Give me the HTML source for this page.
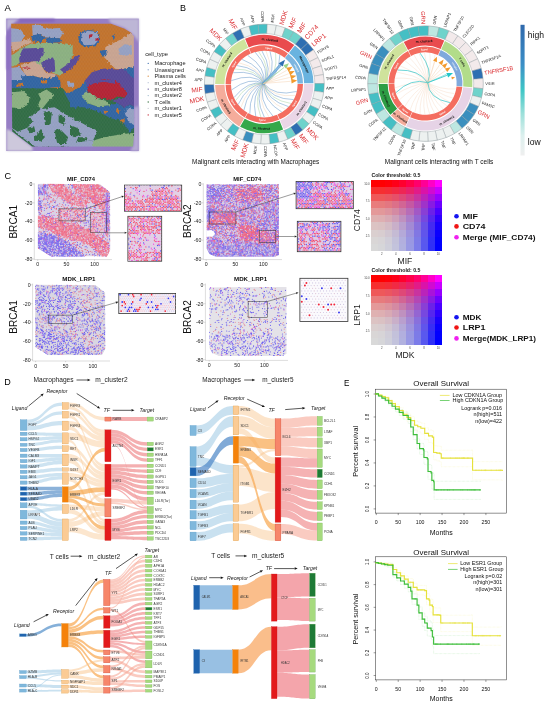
<!DOCTYPE html>
<html lang="en"><head><meta charset="utf-8"><title>Figure</title>
<style>html,body{margin:0;padding:0;background:#fff}svg{display:block}text{font-family:"Liberation Sans",sans-serif}</style>
</head><body>
<svg width="550" height="704" viewBox="0 0 550 704">
<defs><filter id="b1" x="-10%" y="-10%" width="120%" height="120%"><feGaussianBlur stdDeviation="1.2"/></filter>
<filter id="rough" x="-5%" y="-5%" width="110%" height="110%"><feTurbulence type="fractalNoise" baseFrequency="0.35" numOctaves="2" seed="7" result="n"/><feDisplacementMap in="SourceGraphic" in2="n" scale="3.2" xChannelSelector="R" yChannelSelector="G"/></filter>
<filter id="rough2" x="-5%" y="-5%" width="110%" height="110%"><feTurbulence type="fractalNoise" baseFrequency="0.3" numOctaves="2" seed="3" result="n"/><feDisplacementMap in="SourceGraphic" in2="n" scale="5" xChannelSelector="R" yChannelSelector="G"/><feGaussianBlur stdDeviation="1.2"/></filter>
<filter id="b05" x="-10%" y="-10%" width="120%" height="120%"><feGaussianBlur stdDeviation="0.5"/></filter></defs>
<rect width="550" height="704" fill="#fff"/>
<g id="pa">
<text x="4.6" y="10.9" font-size="9.6">A</text>
<defs><linearGradient id="abg" x1="0" y1="0" x2="1" y2="1"><stop offset="0" stop-color="#8C72C0"/><stop offset="0.5" stop-color="#9A82C6"/><stop offset="1" stop-color="#9078C0"/></linearGradient><pattern id="hex" width="1.5" height="1.3" patternUnits="userSpaceOnUse"><path d="M0 0.2h1.5M0 0.85h1.5" stroke="#4A3A6A" stroke-opacity="0.20" stroke-width="0.4"/><path d="M0.4 0v0.65M1.15 0.65v0.65" stroke="#fff" stroke-opacity="0.12" stroke-width="0.4"/></pattern><clipPath id="aclip"><polygon points="11.18,23.73 110.91,23.73 124.55,28.64 130.68,32.45 133.82,36.14 134.09,134.55 133,146.55 32.05,146.55 12.27,131.55"/></clipPath></defs>
<rect x="6.2" y="18.6" width="132.6" height="132.4" fill="url(#abg)"/>
<g filter="url(#b1)">
<polygon points="6.55,18.82 19.09,18.82 12.27,24.55 6.55,31.36" fill="#BDB5D8"/>
<polygon points="108.18,18.82 138.86,18.82 138.86,42.27 134.09,35.45 124.55,27.95 110.91,23.18" fill="#BDB6D6"/>
<polygon points="6.55,129.09 12.27,131.55 32.05,146.82 32.73,150.91 6.55,150.91" fill="#CDC8DC"/>
<polygon points="134.09,107.27 138.86,105.91 138.86,150.91 130,150.91 133.41,145.45" fill="#B5A8D4"/>
<polygon points="19.09,18.82 54.55,18.82 54.55,21.82 19.09,22.5" fill="#8566BC"/>
<polygon points="6.55,35.45 10.23,35.45 10.23,69.55 6.55,69.55" fill="#8D70C2"/>
</g>
<g clip-path="url(#aclip)"><g filter="url(#rough)">
<rect x="5" y="17" width="135" height="80" fill="#CC7422"/>
<rect x="5" y="88" width="135" height="65" fill="#2A6E3D"/>
<polygon points="9.55,27.95 20.45,29.32 25.23,35.45 20.45,42.27 13.64,44.32 9.55,40.91" fill="#9AA8CA"/>
<polygon points="10.91,42.27 20.45,41.59 29.32,38.86 32.05,42.27 21.82,47.05 13.64,51.82 10.91,49.09" fill="#D4AC92"/>
<polygon points="32.05,25.23 40.91,24.55 45,28.64 60,27.95 63.41,32.73 60,38.18 45,37.5 40.91,34.09 32.73,35.45" fill="#9AA8CA"/>
<polygon points="30.68,35.45 40.91,34.09 45,38.18 40.91,42.27 32.73,41.59" fill="#2C65A6"/>
<polygon points="45,37.5 60,38.18 61.36,42.27 47.73,42.95" fill="#2C65A6"/>
<polygon points="9.55,55.91 14.32,53.86 22.5,47.73 32.05,42.95 61.36,42.95 70.91,44.32 72,60.68 67.5,67.5 60.68,75.68 55.23,73.64 45,69.55 32.73,61.36 20.45,62.05 13.64,66.82 9.55,65.45" fill="#8FBA80"/>
<polygon points="22.5,48.41 43.64,47.73 43.64,54.55 39.55,60.68 29.32,62.05 19.77,62.73 19.09,58.64" fill="#56469A"/>
<polygon points="40.91,62.73 52.5,57.27 54.55,60 55.23,71.59 47.73,72.95 43.64,68.86" fill="#56469A"/>
<polygon points="60,69.55 70.91,62.05 71.59,68.18 64.09,72.95" fill="#56469A"/>
<polygon points="20.45,64.77 29.32,62.73 34.09,61.36 40.91,65.45 46.36,72.95 54.55,73.64 57.27,76.36 45,79.09 32.73,75.68 25.91,76.36" fill="#D4AC92"/>
<polygon points="22.5,67.23 29.32,67.64 29.32,68.73 22.5,68.45" fill="#BC1C2C"/>
<polygon points="9.55,68.18 19.09,66.82 25.91,75 21.82,81.82 9.55,83.18" fill="#9AA8CA"/>
<polygon points="21.82,76.36 32.73,75.68 45,79.09 57.27,76.36 60.68,83.18 47.73,83.86 34.09,85.91 21.82,84.82 9.55,86.59 9.55,83.18 21.82,81.82" fill="#2C65A6"/>
<polygon points="65.45,81.82 76.36,80.45 76.36,87.27 66.82,87.27" fill="#9AA8CA"/>
<polygon points="78.18,35.45 82.27,32.05 87.73,30 97.27,31.36 100.68,39.55 95.23,46.36 84.32,47.05 78.86,42.27" fill="#2C65A6"/>
<polygon points="82,33.41 87.73,30.68 97,32.05 98.91,39.55 94.27,44.73 85.27,45.27 80.91,40.23" fill="#9AA8CA"/>
<polygon points="89.09,34.77 92.5,34.09 92.5,36.82 89.09,37.5" fill="#BC1C2C"/>
<polygon points="95.23,38.45 98.91,38.45 98.91,40.64 95.23,40.64" fill="#BC1C2C"/>
<polygon points="70,45.68 72.73,45.68 72.73,55.91 70,55.91" fill="#8FBA80"/>
<polygon points="70,60 75.45,55.91 80.23,55.23 78.18,61.36 72.73,66.82 70,68.18" fill="#56469A"/>
<polygon points="111.59,35.73 115.27,35.18 113.91,40.23" fill="#2C65A6"/>
<polygon points="105.45,47.05 115,42.27 124.55,37.5 130.68,32.73 135.45,35.45 135.45,69.55 130,67.5 121.82,69.55 115,68.86 109.55,62.73 104.09,57.27" fill="#D4AC92"/>
<polygon points="118.41,49.09 124.55,44.32 131.36,45 132.05,54.55 124.55,55.91 119.09,54.55" fill="#9AA8CA"/>
<polygon points="100.27,50.73 105.73,49.77 107.09,55.91 101.64,56.59" fill="#2C65A6"/>
<polygon points="85,80.45 91.82,72.27 104.09,68.45 116.36,69.55 124.55,69.55 135.45,69.55 135.45,91.36 80.91,91.36" fill="#56469A"/>
<polygon points="123.86,68.45 135.45,66.82 135.45,79.09 130,75.68" fill="#2C65A6"/>
<polygon points="81.59,83.86 87.05,81.82 88.41,91.36 80.91,91.36" fill="#2C65A6"/>
<polygon points="87.73,85.91 93.18,81.82 104.09,79.09 115,80.45 124.55,85.91 127.27,91.36 86.36,91.36" fill="#BC1C2C"/>
<polygon points="70,80.45 76.14,80.45 76.14,87.27 70,87.27" fill="#9AA8CA"/>
<polygon points="9.55,80 60,80 60.68,86.82 40.91,88.45 9.55,87.91" fill="#2C65A6"/>
<polygon points="61.36,80 75,80 75,93.64 68.18,95 62.73,88.18" fill="#CC7422"/>
<polygon points="40.91,80 47.05,80 47.05,83.41 40.91,83.41" fill="#CC7422"/>
<polygon points="16.36,83.41 23.18,82.73 23.86,86.14 16.36,86.55" fill="#CC7422"/>
<polygon points="66.82,81.36 76.36,81.36 76.36,86.82 68.18,86.82" fill="#9AA8CA"/>
<polygon points="64.09,92.27 76.36,93.64 76.36,108.64 70.91,104.55" fill="#2C65A6"/>
<polygon points="11.59,92.27 24.55,90.91 29.32,97.73 28.64,103.86 20.45,109.32 11.59,107.27" fill="#8FBA80"/>
<polygon points="38.18,93.64 46.36,89.55 54.55,95 47.73,101.82 42.27,108.64 36.82,105.91 40.91,99.09" fill="#8FBA80"/>
<polygon points="40.91,109.32 54.55,107.27 65.45,114.09 76.36,120.91 76.36,146.82 35.45,146.82 21.82,137.27 9.55,126.36 9.55,120.91 17.73,119.55 27.27,118.18 34.09,114.09" fill="#9AA8CA"/>
<polygon points="9.55,114.09 12.95,118.18 24.55,115.45 34.09,120.91 27.27,127.73 17.73,131.82 9.55,126.36" fill="#2A6E3D"/>
<polygon points="27.27,127.73 34.09,126.36 35.45,131.82 29.32,133.18" fill="#2A6E3D"/>
<polygon points="34.09,137.27 40.91,129.09 45,137.27 40.91,141.36 34.09,140.68" fill="#2A6E3D"/>
<polygon points="54.55,130.45 60,129.09 68.18,137.27 65.45,144.09 57.27,144.09 55.91,137.27" fill="#2A6E3D"/>
<polygon points="43.64,111.36 51.82,112.73 50.45,125 45,125" fill="#2A6E3D"/>
<polygon points="58.64,114.09 65.45,118.18 64.09,125 58.64,122.27" fill="#2A6E3D"/>
<polygon points="70,80 85.68,80 78.18,88.18 70,92.27" fill="#CC7422"/>
<polygon points="70,92.27 78.18,88.18 85,81.36 87.73,90.91 83.64,99.09 87.73,103.18 97.27,106.59 109.55,105.23 117.73,103.18 124.55,107.27 130,104.55 135.45,107.27 135.45,126.36 130,131.82 121.82,120.91 110.91,118.18 97.27,111.36 83.64,107.27 70,107.27" fill="#2C65A6"/>
<polygon points="115,80 135.45,80 135.45,107.27 130,104.55 124.55,107.27 117.73,103.18 110.91,100.45 124.55,97.73 127.27,93.64 123.18,88.18" fill="#56469A"/>
<polygon points="85.68,80 87.05,87.5 93.86,83.41 104.09,82.05 115,84.09 115,80" fill="#56469A"/>
<polygon points="87.05,87.5 93.86,83.41 104.09,82.05 115,84.09 123.18,88.18 127.27,93.64 124.55,97.73 117.73,96.36 110.91,100.45 104.09,97.73 97.27,99.09 91.82,93.64 87.73,90.91" fill="#BC1C2C"/>
<polygon points="81.59,95 86.36,91.59 91.82,93.64 97.27,99.09 105.45,100.45 109.55,105.23 97.27,106.59 87.73,103.18 83.64,99.09" fill="#8FBA80"/>
<polygon points="70,82.73 74.09,82.73 74.09,86.82 70,86.82" fill="#9AA8CA"/>
<polygon points="116.36,108.64 119.36,108.91 119.09,113 116.09,112.73" fill="#CC7422"/>
<polygon points="120.18,119.27 124.82,119.55 124.55,122.55 119.91,122.27" fill="#CC7422"/>
<polygon points="104.09,110.68 107.5,111.09 107.09,113.82 103.82,113.41" fill="#CC7422"/>
<polygon points="124.55,112.73 130,107.27 135.45,111.36 135.45,125.68 128.64,122.27" fill="#9AA8CA"/>
<polygon points="70,120.91 78.18,120.91 87.73,126.36 97.27,131.82 93.18,140 70,144.09" fill="#9AA8CA"/>
<polygon points="70,125 76.82,127.73 80.91,134.55 74.09,137.27 70,134.55" fill="#2A6E3D"/>
<polygon points="78.18,137.27 87.73,137.27 85,144.09 75.45,144.09" fill="#2A6E3D"/>
<polygon points="92.5,140.68 104.09,137.27 124.55,133.86 134.09,132.91 134.09,148.18 92.5,148.18" fill="#8FBA80"/>
<polygon points="70,143.41 93.18,140 93.18,148.18 70,148.18" fill="#9AA8CA"/>
</g><rect x="6" y="18" width="133" height="134" fill="url(#hex)"/>
</g>
<text x="145.2" y="55.7" font-size="5.8" fill="#222">cell_type</text>
<circle cx="148.2" cy="63.3" r="0.65" fill="#2D63A8"/>
<text x="154.5" y="65.2" font-size="5.6" fill="#222">Macrophage</text>
<circle cx="148.2" cy="69.75" r="0.65" fill="#8FA6CC"/>
<text x="154.5" y="71.65" font-size="5.6" fill="#222">Unassigned</text>
<circle cx="148.2" cy="76.2" r="0.65" fill="#D98A3A"/>
<text x="154.5" y="78.1" font-size="5.6" fill="#222">Plasma cells</text>
<circle cx="148.2" cy="82.65" r="0.65" fill="#B9C3D6"/>
<text x="154.5" y="84.55" font-size="5.6" fill="#222">m_cluster4</text>
<circle cx="148.2" cy="89.1" r="0.65" fill="#4B3E8C"/>
<text x="154.5" y="91" font-size="5.6" fill="#222">m_cluster8</text>
<circle cx="148.2" cy="95.55" r="0.65" fill="#9BB7C9"/>
<text x="154.5" y="97.45" font-size="5.6" fill="#222">m_cluster2</text>
<circle cx="148.2" cy="102" r="0.65" fill="#2F6B3C"/>
<text x="154.5" y="103.9" font-size="5.6" fill="#222">T cells</text>
<circle cx="148.2" cy="108.45" r="0.65" fill="#C9CCD2"/>
<text x="154.5" y="110.35" font-size="5.6" fill="#222">m_cluster1</text>
<circle cx="148.2" cy="114.9" r="0.65" fill="#C0202E"/>
<text x="154.5" y="116.8" font-size="5.6" fill="#222">m_cluster5</text>
</g>
<g id="pb">
<text x="180.1" y="11.3" font-size="9.9" textLength="6" lengthAdjust="spacingAndGlyphs">B</text>
<circle cx="264.3" cy="84.05" r="59.85" fill="#fff" stroke="#9aa" stroke-width="0.4"/>
<path d="M240.43 29.16A59.85 59.85 0 0 1 249.1 26.16L251.47 35.21A50.5 50.5 0 0 0 244.16 37.74Z" fill="#EDF1F0" stroke="#8f9aa0" stroke-width="0.4"/>
<text x="242.73" y="26.07" font-size="4" fill="#222" text-anchor="end" transform="rotate(430.89 242.73 26.07)">APP</text>
<path d="M249.1 26.16A59.85 59.85 0 0 1 258.12 24.52L259.08 33.82A50.5 50.5 0 0 0 251.47 35.21Z" fill="#45BFC4" stroke="#8f9aa0" stroke-width="0.4"/>
<text x="251.84" y="23.45" font-size="4" fill="#222" text-anchor="end" transform="rotate(439.68 251.84 23.45)">APP</text>
<path d="M258.12 24.52A59.85 59.85 0 0 1 267.28 24.27L266.82 33.61A50.5 50.5 0 0 0 259.08 33.82Z" fill="#45BFC4" stroke="#8f9aa0" stroke-width="0.4"/>
<text x="261.24" y="22.26" font-size="4" fill="#222" text-anchor="end" transform="rotate(448.46 261.24 22.26)">COPA</text>
<path d="M267.28 24.27A59.85 59.85 0 0 1 276.38 25.43L274.49 34.59A50.5 50.5 0 0 0 266.82 33.61Z" fill="#EDF1F0" stroke="#8f9aa0" stroke-width="0.4"/>
<text x="273.49" y="22.87" font-size="4" fill="#222" transform="rotate(-82.75 273.49 22.87)">MDK</text>
<path d="M276.38 25.43A59.85 59.85 0 0 1 285.19 27.96L281.93 36.73A50.5 50.5 0 0 0 274.49 34.59Z" fill="#EDF1F0" stroke="#8f9aa0" stroke-width="0.4"/>
<text x="283.61" y="25.24" font-size="6.6" fill="#DA2A2E" transform="rotate(-73.96 283.61 25.24)">MDK</text>
<path d="M285.19 27.96A59.85 59.85 0 0 1 293.51 31.81L288.95 39.97A50.5 50.5 0 0 0 281.93 36.73Z" fill="#6FD3CB" stroke="#8f9aa0" stroke-width="0.4"/>
<text x="292.36" y="28.88" font-size="6.6" fill="#DA2A2E" transform="rotate(-65.18 292.36 28.88)">MIF</text>
<path d="M293.51 31.81A59.85 59.85 0 0 1 301.15 36.89L295.39 44.26A50.5 50.5 0 0 0 288.95 39.97Z" fill="#6FD3CB" stroke="#8f9aa0" stroke-width="0.4"/>
<text x="300.46" y="33.82" font-size="6.6" fill="#DA2A2E" transform="rotate(-56.39 300.46 33.82)">MIF</text>
<path d="M245.08 38.76A49.2 49.2 0 0 1 294.25 45.02L288.53 52.47A39.8 39.8 0 0 0 248.75 47.41Z" fill="#E94B4E"/>
<text x="269.77" y="41.02" font-size="3.2" fill="#111" text-anchor="middle" font-weight="bold" transform="rotate(7.25 269.77 41.02)">m_cluster8</text>
<path d="M249.12 48.45A38.7 38.7 0 0 1 287.91 53.39L284.62 57.67A33.3 33.3 0 0 0 251.24 53.42Z" fill="#F46D60"/>
<text x="268.74" y="49.13" font-size="2.3" fill="#fff" text-anchor="middle" font-weight="bold" transform="rotate(7.25 268.74 49.13)">ligand</text>
<path d="M301.15 36.89A59.85 59.85 0 0 1 307.77 42.92L300.98 49.34A50.5 50.5 0 0 0 295.39 44.26Z" fill="#2E6FB2" stroke="#8f9aa0" stroke-width="0.4"/>
<text x="307.63" y="39.85" font-size="6.6" fill="#DA2A2E" transform="rotate(-47.71 307.63 39.85)">CD74</text>
<path d="M307.77 42.92A59.85 59.85 0 0 1 313.43 49.86L305.75 55.2A50.5 50.5 0 0 0 300.98 49.34Z" fill="#2E6FB2" stroke="#8f9aa0" stroke-width="0.4"/>
<text x="313.74" y="46.81" font-size="6.6" fill="#DA2A2E" transform="rotate(-39.12 313.74 46.81)">LRP1</text>
<path d="M313.43 49.86A59.85 59.85 0 0 1 317.98 57.58L309.59 61.71A50.5 50.5 0 0 0 305.75 55.2Z" fill="#F3EAEB" stroke="#8f9aa0" stroke-width="0.4"/>
<text x="318.28" y="53.83" font-size="4" fill="#222" transform="rotate(-30.54 318.28 53.83)">P2RY6</text>
<path d="M317.98 57.58A59.85 59.85 0 0 1 321.33 65.89L312.42 68.72A50.5 50.5 0 0 0 309.59 61.71Z" fill="#F3EAEB" stroke="#8f9aa0" stroke-width="0.4"/>
<text x="322.19" y="62.22" font-size="4" fill="#222" transform="rotate(-21.96 322.19 62.22)">SORL1</text>
<path d="M321.33 65.89A59.85 59.85 0 0 1 323.4 74.6L314.17 76.08A50.5 50.5 0 0 0 312.42 68.72Z" fill="#F3EAEB" stroke="#8f9aa0" stroke-width="0.4"/>
<text x="324.8" y="71.1" font-size="4" fill="#222" transform="rotate(-13.38 324.8 71.1)">SORT1</text>
<path d="M323.4 74.6A59.85 59.85 0 0 1 324.15 83.53L314.8 83.61A50.5 50.5 0 0 0 314.17 76.08Z" fill="#F3EAEB" stroke="#8f9aa0" stroke-width="0.4"/>
<text x="326.05" y="80.28" font-size="4" fill="#222" transform="rotate(-4.79 326.05 80.28)">TNFRSF14</text>
<path d="M294.93 45.55A49.2 49.2 0 0 1 313.49 83.19L304.09 83.36A39.8 39.8 0 0 0 289.08 52.9Z" fill="#69B3DF"/>
<text x="303.21" y="64.86" font-size="3.2" fill="#111" text-anchor="middle" font-weight="bold" transform="rotate(63.75 303.21 64.86)">Macrophage</text>
<path d="M288.34 53.72A38.7 38.7 0 0 1 303 83.44L297.6 83.53A33.3 33.3 0 0 0 284.98 57.95Z" fill="#7DB6E0"/>
<text x="295.87" y="68.48" font-size="2.3" fill="#fff" text-anchor="middle" font-weight="bold" transform="rotate(63.75 295.87 68.48)">receptor</text>
<path d="M324.15 83.53A59.85 59.85 0 0 1 323.58 92.31L314.32 91.02A50.5 50.5 0 0 0 314.8 83.61Z" fill="#45BFC4" stroke="#8f9aa0" stroke-width="0.4"/>
<text x="325.93" y="89.46" font-size="4" fill="#222" transform="rotate(3.72 325.93 89.46)">APP</text>
<path d="M323.58 92.31A59.85 59.85 0 0 1 321.72 100.92L312.75 98.29A50.5 50.5 0 0 0 314.32 91.02Z" fill="#EDF1F0" stroke="#8f9aa0" stroke-width="0.4"/>
<text x="324.47" y="98.44" font-size="4" fill="#222" transform="rotate(12.16 324.47 98.44)">APP</text>
<path d="M321.72 100.92A59.85 59.85 0 0 1 318.63 109.17L310.14 105.24A50.5 50.5 0 0 0 312.75 98.29Z" fill="#EDF1F0" stroke="#8f9aa0" stroke-width="0.4"/>
<text x="321.71" y="107.12" font-size="4" fill="#222" transform="rotate(20.59 321.71 107.12)">COPA</text>
<path d="M318.63 109.17A59.85 59.85 0 0 1 314.35 116.87L306.53 111.74A50.5 50.5 0 0 0 310.14 105.24Z" fill="#45BFC4" stroke="#8f9aa0" stroke-width="0.4"/>
<text x="317.7" y="115.29" font-size="4" fill="#222" transform="rotate(29.03 317.7 115.29)">COPA</text>
<path d="M314.35 116.87A59.85 59.85 0 0 1 308.99 123.85L302.01 117.64A50.5 50.5 0 0 0 306.53 111.74Z" fill="#EDF1F0" stroke="#8f9aa0" stroke-width="0.4"/>
<text x="312.54" y="122.79" font-size="4" fill="#222" transform="rotate(37.47 312.54 122.79)">COPA</text>
<path d="M308.99 123.85A59.85 59.85 0 0 1 302.67 129.98L296.68 122.81A50.5 50.5 0 0 0 302.01 117.64Z" fill="#6FD3CB" stroke="#8f9aa0" stroke-width="0.4"/>
<text x="305.68" y="130.08" font-size="6.6" fill="#DA2A2E" transform="rotate(45.91 305.68 130.08)">MDK</text>
<path d="M302.67 129.98A59.85 59.85 0 0 1 295.52 135.11L290.64 127.14A50.5 50.5 0 0 0 296.68 122.81Z" fill="#2E6FB2" stroke="#8f9aa0" stroke-width="0.4"/>
<text x="298.48" y="135.65" font-size="6.6" fill="#DA2A2E" transform="rotate(54.34 298.48 135.65)">MIF</text>
<path d="M295.52 135.11A59.85 59.85 0 0 1 287.69 139.14L284.03 130.54A50.5 50.5 0 0 0 290.64 127.14Z" fill="#6FD3CB" stroke="#8f9aa0" stroke-width="0.4"/>
<text x="290.54" y="140.11" font-size="6.6" fill="#DA2A2E" transform="rotate(62.78 290.54 140.11)">MIF</text>
<path d="M313.5 84.05A49.2 49.2 0 0 1 283.92 129.17L280.17 120.55A39.8 39.8 0 0 0 304.1 84.05Z" fill="#EAD6E6"/>
<text x="302.45" y="109.06" font-size="3.2" fill="#111" text-anchor="middle" font-weight="bold" transform="rotate(303.25 302.45 109.06)">m_cluster1</text>
<path d="M303 83.98A38.7 38.7 0 0 1 279.67 119.57L277.53 114.61A33.3 33.3 0 0 0 297.6 83.99Z" fill="#F46D60"/>
<text x="295.08" y="104.23" font-size="2.3" fill="#fff" text-anchor="middle" font-weight="bold" transform="rotate(303.25 295.08 104.23)">ligand</text>
<path d="M287.69 139.14A59.85 59.85 0 0 1 278.95 142.08L276.66 133.01A50.5 50.5 0 0 0 284.03 130.54Z" fill="#EDF1F0" stroke="#8f9aa0" stroke-width="0.4"/>
<text x="282.68" y="143.12" font-size="4" fill="#222" transform="rotate(71.42 282.68 143.12)">APP</text>
<path d="M278.95 142.08A59.85 59.85 0 0 1 269.86 143.64L268.99 134.33A50.5 50.5 0 0 0 276.66 133.01Z" fill="#45BFC4" stroke="#8f9aa0" stroke-width="0.4"/>
<text x="273.39" y="145.24" font-size="4" fill="#222" transform="rotate(80.25 273.39 145.24)">NCOA</text>
<path d="M269.86 143.64A59.85 59.85 0 0 1 260.65 143.79L261.22 134.46A50.5 50.5 0 0 0 268.99 134.33Z" fill="#EDF1F0" stroke="#8f9aa0" stroke-width="0.4"/>
<text x="263.89" y="145.91" font-size="4" fill="#222" transform="rotate(89.08 263.89 145.91)">COPA</text>
<path d="M260.65 143.79A59.85 59.85 0 0 1 251.52 142.52L253.51 133.38A50.5 50.5 0 0 0 261.22 134.46Z" fill="#EDF1F0" stroke="#8f9aa0" stroke-width="0.4"/>
<text x="257.17" y="145.5" font-size="4" fill="#222" text-anchor="end" transform="rotate(277.92 257.17 145.5)">MDK</text>
<path d="M251.52 142.52A59.85 59.85 0 0 1 242.69 139.86L246.07 131.14A50.5 50.5 0 0 0 253.51 133.38Z" fill="#3A8FBE" stroke="#8f9aa0" stroke-width="0.4"/>
<text x="248.69" y="143.94" font-size="6.6" fill="#DA2A2E" text-anchor="end" transform="rotate(286.75 248.69 143.94)">MDK</text>
<path d="M242.69 139.86A59.85 59.85 0 0 1 234.38 135.88L239.05 127.78A50.5 50.5 0 0 0 246.07 131.14Z" fill="#EDF1F0" stroke="#8f9aa0" stroke-width="0.4"/>
<text x="239.68" y="140.83" font-size="6.6" fill="#DA2A2E" text-anchor="end" transform="rotate(295.58 239.68 140.83)">MIF</text>
<path d="M283.13 129.5A49.2 49.2 0 0 1 240.07 126.87L244.7 118.69A39.8 39.8 0 0 0 279.53 120.82Z" fill="#35A84A"/>
<text x="261.51" y="129.58" font-size="3.2" fill="#111" text-anchor="middle" font-weight="bold" transform="rotate(363.5 261.51 129.58)">m_cluster2</text>
<path d="M279.17 119.78A38.7 38.7 0 0 1 245.18 117.7L247.85 113A33.3 33.3 0 0 0 277.1 114.79Z" fill="#F46D60"/>
<text x="262.05" y="120.78" font-size="2.3" fill="#fff" text-anchor="middle" font-weight="bold" transform="rotate(363.5 262.05 120.78)">ligand</text>
<path d="M234.38 135.88A59.85 59.85 0 0 1 227.04 130.89L232.86 123.57A50.5 50.5 0 0 0 239.05 127.78Z" fill="#45BFC4" stroke="#8f9aa0" stroke-width="0.4"/>
<text x="230.65" y="135.96" font-size="4" fill="#222" text-anchor="end" transform="rotate(304.25 230.65 135.96)">APP</text>
<path d="M227.04 130.89A59.85 59.85 0 0 1 220.53 124.87L227.37 118.49A50.5 50.5 0 0 0 232.86 123.57Z" fill="#EDF1F0" stroke="#8f9aa0" stroke-width="0.4"/>
<text x="223.34" y="130.42" font-size="4" fill="#222" text-anchor="end" transform="rotate(312.75 223.34 130.42)">APP</text>
<path d="M220.53 124.87A59.85 59.85 0 0 1 214.98 117.95L222.68 112.65A50.5 50.5 0 0 0 227.37 118.49Z" fill="#EDF1F0" stroke="#8f9aa0" stroke-width="0.4"/>
<text x="216.94" y="123.86" font-size="4" fill="#222" text-anchor="end" transform="rotate(321.25 216.94 123.86)">COPA</text>
<path d="M214.98 117.95A59.85 59.85 0 0 1 210.51 110.29L218.91 106.19A50.5 50.5 0 0 0 222.68 112.65Z" fill="#45BFC4" stroke="#8f9aa0" stroke-width="0.4"/>
<text x="211.58" y="116.42" font-size="4" fill="#222" text-anchor="end" transform="rotate(329.75 211.58 116.42)">COPA</text>
<path d="M210.51 110.29A59.85 59.85 0 0 1 207.22 102.05L216.14 99.24A50.5 50.5 0 0 0 218.91 106.19Z" fill="#EDF1F0" stroke="#8f9aa0" stroke-width="0.4"/>
<text x="207.37" y="108.27" font-size="4" fill="#222" text-anchor="end" transform="rotate(338.25 207.37 108.27)">COPA</text>
<path d="M207.22 102.05A59.85 59.85 0 0 1 205.19 93.41L214.42 91.95A50.5 50.5 0 0 0 216.14 99.24Z" fill="#EDF1F0" stroke="#8f9aa0" stroke-width="0.4"/>
<text x="204.63" y="100.47" font-size="6.6" fill="#DA2A2E" text-anchor="end" transform="rotate(346.75 204.63 100.47)">MDK</text>
<path d="M205.19 93.41A59.85 59.85 0 0 1 204.45 84.57L213.8 84.49A50.5 50.5 0 0 0 214.42 91.95Z" fill="#2E6FB2" stroke="#8f9aa0" stroke-width="0.4"/>
<text x="202.85" y="91.47" font-size="6.6" fill="#DA2A2E" text-anchor="end" transform="rotate(355.25 202.85 91.47)">MIF</text>
<path d="M239.33 126.44A49.2 49.2 0 0 1 215.11 84.91L224.51 84.74A39.8 39.8 0 0 0 244.1 118.34Z" fill="#F5AC9B"/>
<text x="224.89" y="107.03" font-size="3.2" fill="#111" text-anchor="middle" font-weight="bold" transform="rotate(419.75 224.89 107.03)">m_cluster5</text>
<path d="M244.72 117.43A38.7 38.7 0 0 1 225.6 84.66L231 84.57A33.3 33.3 0 0 0 247.45 112.77Z" fill="#F46D60"/>
<text x="232.51" y="102.59" font-size="2.3" fill="#fff" text-anchor="middle" font-weight="bold" transform="rotate(419.75 232.51 102.59)">ligand</text>
<path d="M204.45 84.57A59.85 59.85 0 0 1 205.01 75.85L214.28 77.13A50.5 50.5 0 0 0 213.8 84.49Z" fill="#EDF1F0" stroke="#8f9aa0" stroke-width="0.4"/>
<text x="202.49" y="81.47" font-size="4" fill="#222" text-anchor="end" transform="rotate(363.69 202.49 81.47)">APP</text>
<path d="M205.01 75.85A59.85 59.85 0 0 1 206.84 67.3L215.82 69.92A50.5 50.5 0 0 0 214.28 77.13Z" fill="#45BFC4" stroke="#8f9aa0" stroke-width="0.4"/>
<text x="203.52" y="72.49" font-size="4" fill="#222" text-anchor="end" transform="rotate(372.06 203.52 72.49)">APP</text>
<path d="M206.84 67.3A59.85 59.85 0 0 1 209.89 59.11L218.39 63.01A50.5 50.5 0 0 0 215.82 69.92Z" fill="#EDF1F0" stroke="#8f9aa0" stroke-width="0.4"/>
<text x="205.85" y="63.76" font-size="4" fill="#222" text-anchor="end" transform="rotate(380.44 205.85 63.76)">COPA</text>
<path d="M209.89 59.11A59.85 59.85 0 0 1 214.11 51.45L221.95 56.55A50.5 50.5 0 0 0 218.39 63.01Z" fill="#EDF1F0" stroke="#8f9aa0" stroke-width="0.4"/>
<text x="209.43" y="55.47" font-size="4" fill="#222" text-anchor="end" transform="rotate(388.81 209.43 55.47)">COPA</text>
<path d="M214.11 51.45A59.85 59.85 0 0 1 219.39 44.49L226.4 50.67A50.5 50.5 0 0 0 221.95 56.55Z" fill="#45BFC4" stroke="#8f9aa0" stroke-width="0.4"/>
<text x="214.18" y="47.78" font-size="4" fill="#222" text-anchor="end" transform="rotate(397.19 214.18 47.78)">COPA</text>
<path d="M219.39 44.49A59.85 59.85 0 0 1 225.63 38.37L231.67 45.51A50.5 50.5 0 0 0 226.4 50.67Z" fill="#EDF1F0" stroke="#8f9aa0" stroke-width="0.4"/>
<text x="219.35" y="41.51" font-size="6.6" fill="#DA2A2E" text-anchor="end" transform="rotate(405.56 219.35 41.51)">MDK</text>
<path d="M225.63 38.37A59.85 59.85 0 0 1 232.7 33.23L237.63 41.17A50.5 50.5 0 0 0 231.67 45.51Z" fill="#6FD3CB" stroke="#8f9aa0" stroke-width="0.4"/>
<text x="226.76" y="34.88" font-size="4" fill="#222" text-anchor="end" transform="rotate(413.94 226.76 34.88)">MIF</text>
<path d="M232.7 33.23A59.85 59.85 0 0 1 240.43 29.16L244.16 37.74A50.5 50.5 0 0 0 237.63 41.17Z" fill="#2E6FB2" stroke="#8f9aa0" stroke-width="0.4"/>
<text x="233.52" y="30.36" font-size="6.6" fill="#DA2A2E" text-anchor="end" transform="rotate(422.31 233.52 30.36)">MIF</text>
<path d="M215.1 84.05A49.2 49.2 0 0 1 244.29 39.1L248.11 47.69A39.8 39.8 0 0 0 224.5 84.05Z" fill="#CFE39C"/>
<text x="227.92" y="60.42" font-size="3.2" fill="#111" text-anchor="middle" font-weight="bold" transform="rotate(303 227.92 60.42)">m_cluster4</text>
<path d="M225.6 84.12A38.7 38.7 0 0 1 248.62 48.67L250.81 53.61A33.3 33.3 0 0 0 231 84.11Z" fill="#F46D60"/>
<text x="234.78" y="64.88" font-size="2.3" fill="#fff" text-anchor="middle" font-weight="bold" transform="rotate(303 234.78 64.88)">ligand</text>
<path d="M255.18 52.23Q270.5 68.71 263.7 83.45" fill="none" stroke="#4C86C0" stroke-width="0.45"/>
<path d="M261.99 51.03Q273.55 70.33 263.7 83.45" fill="none" stroke="#4C86C0" stroke-width="0.45"/>
<path d="M270.05 51.45Q276.6 72.98 263.7 83.45" fill="none" stroke="#4C86C0" stroke-width="0.45"/>
<path d="M279.84 54.82Q279.42 77.32 263.7 83.45" fill="none" stroke="#4C86C0" stroke-width="0.45"/>
<path d="M296.55 91.5Q274.72 96.91 263.7 83.45" fill="none" stroke="#4C86C0" stroke-width="0.45"/>
<path d="M293.53 99.59Q271.03 99.17 263.7 83.45" fill="none" stroke="#4C86C0" stroke-width="0.45"/>
<path d="M288.51 106.62Q266.89 100.4 263.7 83.45" fill="none" stroke="#4C86C0" stroke-width="0.45"/>
<path d="M281.84 112.12Q262.57 100.51 263.7 83.45" fill="none" stroke="#4C86C0" stroke-width="0.45"/>
<path d="M272.87 116.02Q257.83 99.28 263.7 83.45" fill="none" stroke="#4C86C0" stroke-width="0.45"/>
<path d="M264.3 117.15Q254.11 97.09 263.7 83.45" fill="none" stroke="#4C86C0" stroke-width="0.45"/>
<path d="M255.73 116.02Q251.08 94.01 263.7 83.45" fill="none" stroke="#4C86C0" stroke-width="0.45"/>
<path d="M249.79 113.8Q249.42 91.31 263.7 83.45" fill="none" stroke="#4C86C0" stroke-width="0.45"/>
<path d="M243.92 110.13Q248.24 88.05 263.7 83.45" fill="none" stroke="#4C86C0" stroke-width="0.45"/>
<path d="M238.22 104.43Q247.75 84.05 263.7 83.45" fill="none" stroke="#4C86C0" stroke-width="0.45"/>
<path d="M234.06 97.51Q248.24 80.05 263.7 83.45" fill="none" stroke="#4C86C0" stroke-width="0.45"/>
<path d="M231.7 89.8Q249.69 76.28 263.7 83.45" fill="none" stroke="#4C86C0" stroke-width="0.45"/>
<path d="M231.38 80.59Q252.39 72.55 263.7 83.45" fill="none" stroke="#4C86C0" stroke-width="0.45"/>
<path d="M233.2 72.73Q255.53 70.01 263.7 83.45" fill="none" stroke="#4C86C0" stroke-width="0.45"/>
<path d="M236.86 65.54Q259.19 68.31 263.7 83.45" fill="none" stroke="#4C86C0" stroke-width="0.45"/>
<path d="M242.15 59.45Q263.15 67.54 263.7 83.45" fill="none" stroke="#4C86C0" stroke-width="0.45"/>
<path d="M247.75 55.38Q266.6 67.66 263.7 83.45" fill="none" stroke="#4C86C0" stroke-width="0.45"/>
<path d="M258.55 51.45Q272.07 69.44 263.7 83.45" fill="none" stroke="#93C98C" stroke-width="0.4"/>
<path d="M275.62 52.95Q278.34 75.28 263.7 83.45" fill="none" stroke="#93C98C" stroke-width="0.4"/>
<path d="M291.08 103.51Q268.86 99.96 263.7 83.45" fill="none" stroke="#93C98C" stroke-width="0.4"/>
<path d="M260.84 116.97Q252.8 95.96 263.7 83.45" fill="none" stroke="#93C98C" stroke-width="0.4"/>
<path d="M235.63 100.6Q247.91 81.75 263.7 83.45" fill="none" stroke="#93C98C" stroke-width="0.4"/>
<path d="M234.81 69.02Q257.31 69.05 263.7 83.45" fill="none" stroke="#93C98C" stroke-width="0.4"/>
<path d="M266.03 51Q275.16 71.56 263.7 83.45" fill="none" stroke="#EFCDA8" stroke-width="0.4"/>
<path d="M295.4 95.37Q273.07 98.09 263.7 83.45" fill="none" stroke="#EFCDA8" stroke-width="0.4"/>
<path d="M285.58 109.41Q264.88 100.59 263.7 83.45" fill="none" stroke="#EFCDA8" stroke-width="0.4"/>
<path d="M268.91 116.83Q256.03 98.38 263.7 83.45" fill="none" stroke="#EFCDA8" stroke-width="0.4"/>
<path d="M240.89 107.46Q247.87 86.07 263.7 83.45" fill="none" stroke="#EFCDA8" stroke-width="0.4"/>
<path d="M238.94 62.77Q260.86 67.86 263.7 83.45" fill="none" stroke="#EFCDA8" stroke-width="0.4"/>
<path d="M263.7 83.45L280.21 65.42" stroke="#5E9FD2" stroke-width="2.8" stroke-opacity="0.8" stroke-linecap="round" fill="none"/>
<path d="M263.7 83.45L280.21 65.42" stroke="#8FC0E6" stroke-width="1" stroke-opacity="0.9" stroke-linecap="round" fill="none"/>
<path d="M263.7 83.45L283.83 67.66" stroke="#A6D89A" stroke-width="0.9" stroke-opacity="0.9" stroke-linecap="round" fill="none"/>
<path d="M263.7 83.45L286.47 70.47" stroke="#F2C9A0" stroke-width="0.45" stroke-opacity="0.9" stroke-linecap="round" fill="none"/>
<path d="M263.7 83.45L288.23 73.89" stroke="#F2C9A0" stroke-width="0.45" stroke-opacity="0.9" stroke-linecap="round" fill="none"/>
<path d="M263.7 83.45L289.47 77.54" stroke="#F2C9A0" stroke-width="0.45" stroke-opacity="0.9" stroke-linecap="round" fill="none"/>
<path d="M263.7 83.45L290.16 81.33" stroke="#F2C9A0" stroke-width="0.45" stroke-opacity="0.9" stroke-linecap="round" fill="none"/>
<polygon points="0,-4.3 2.67,2.37 -2.67,2.37" fill="#2E6FB2" transform="translate(282.22 63.06) rotate(40.5)"/>
<polygon points="0,-3.6 2.23,1.98 -2.23,1.98" fill="#9AD48A" transform="translate(286.21 65.67) rotate(50)"/>
<polygon points="0,-3.8 2.36,2.09 -2.36,2.09" fill="#F29A2E" transform="translate(289.28 68.74) rotate(58.5)"/>
<polygon points="0,-3.8 2.36,2.09 -2.36,2.09" fill="#F29A2E" transform="translate(291.27 72.6) rotate(67)"/>
<polygon points="0,-3.8 2.36,2.09 -2.36,2.09" fill="#F29A2E" transform="translate(292.67 76.71) rotate(75.5)"/>
<polygon points="0,-3.8 2.36,2.09 -2.36,2.09" fill="#F29A2E" transform="translate(293.44 80.99) rotate(84)"/>
<text x="255.7" y="164.3" font-size="6.4" fill="#111" text-anchor="middle">Malignant cells interacting with Macrophages</text>
<circle cx="425.5" cy="83.6" r="57.7" fill="#fff" stroke="#9aa" stroke-width="0.4"/>
<path d="M398.41 32.65A57.7 57.7 0 0 1 408.05 28.6L410.93 37.66A48.2 48.2 0 0 0 402.87 41.04Z" fill="#45BFC4" stroke="#8f9aa0" stroke-width="0.4"/>
<text x="401.07" y="29.11" font-size="4" fill="#222" text-anchor="end" transform="rotate(427.2 401.07 29.11)">GRN</text>
<path d="M408.05 28.6A57.7 57.7 0 0 1 418.27 26.35L419.46 35.78A48.2 48.2 0 0 0 410.93 37.66Z" fill="#45BFC4" stroke="#8f9aa0" stroke-width="0.4"/>
<text x="411.31" y="25.59" font-size="4" fill="#222" text-anchor="end" transform="rotate(437.6 411.31 25.59)">GRN</text>
<path d="M418.27 26.35A57.7 57.7 0 0 1 428.72 25.99L428.19 35.48A48.2 48.2 0 0 0 419.46 35.78Z" fill="#45BFC4" stroke="#8f9aa0" stroke-width="0.4"/>
<text x="421.42" y="24.01" font-size="5.7" fill="#DA2A2E" text-anchor="end" transform="rotate(448 421.42 24.01)">GRN</text>
<path d="M428.72 25.99A57.7 57.7 0 0 1 439.07 27.52L436.83 36.75A48.2 48.2 0 0 0 428.19 35.48Z" fill="#BDE7E1" stroke="#8f9aa0" stroke-width="0.4"/>
<text x="435.61" y="24.74" font-size="4" fill="#222" transform="rotate(-81.6 435.61 24.74)">GRN</text>
<path d="M439.07 27.52A57.7 57.7 0 0 1 448.97 30.89L445.1 39.57A48.2 48.2 0 0 0 436.83 36.75Z" fill="#6FD3CB" stroke="#8f9aa0" stroke-width="0.4"/>
<text x="446.06" y="27.54" font-size="4" fill="#222" transform="rotate(-71.2 446.06 27.54)">LRPAP1</text>
<path d="M403.82 41.95A46.95 46.95 0 0 1 444.22 40.54L440.59 48.89A37.85 37.85 0 0 0 408.02 50.03Z" fill="#E94B4E"/>
<text x="424.06" y="42.35" font-size="3.2" fill="#111" text-anchor="middle" font-weight="bold" transform="rotate(358 424.06 42.35)">m_cluster8</text>
<path d="M408.38 50.85A36.95 36.95 0 0 1 440.29 49.74L437.97 55.06A31.15 31.15 0 0 0 411.07 55.99Z" fill="#F46D60"/>
<text x="424.34" y="50.37" font-size="2.3" fill="#fff" text-anchor="middle" font-weight="bold" transform="rotate(358 424.34 50.37)">ligand</text>
<path d="M448.97 30.89A57.7 57.7 0 0 1 457.88 35.85L452.55 43.71A48.2 48.2 0 0 0 445.1 39.57Z" fill="#F3EAEB" stroke="#8f9aa0" stroke-width="0.4"/>
<text x="455.73" y="32.1" font-size="4" fill="#222" transform="rotate(-60.93 455.73 32.1)">TNFSF10</text>
<path d="M457.88 35.85A57.7 57.7 0 0 1 465.79 42.29L459.16 49.1A48.2 48.2 0 0 0 452.55 43.71Z" fill="#F3EAEB" stroke="#8f9aa0" stroke-width="0.4"/>
<text x="464.33" y="38.23" font-size="4" fill="#222" transform="rotate(-50.79 464.33 38.23)">CLEC2D</text>
<path d="M465.79 42.29A57.7 57.7 0 0 1 472.43 50.03L464.71 55.56A48.2 48.2 0 0 0 459.16 49.1Z" fill="#F3EAEB" stroke="#8f9aa0" stroke-width="0.4"/>
<text x="471.71" y="45.78" font-size="4" fill="#222" transform="rotate(-40.64 471.71 45.78)">RIPK1</text>
<path d="M472.43 50.03A57.7 57.7 0 0 1 477.61 58.82L469.03 62.9A48.2 48.2 0 0 0 464.71 55.56Z" fill="#F3EAEB" stroke="#8f9aa0" stroke-width="0.4"/>
<text x="477.65" y="54.51" font-size="4" fill="#222" transform="rotate(-30.5 477.65 54.51)">SORT1</text>
<path d="M477.61 58.82A57.7 57.7 0 0 1 481.16 68.39L471.99 70.89A48.2 48.2 0 0 0 469.03 62.9Z" fill="#F3EAEB" stroke="#8f9aa0" stroke-width="0.4"/>
<text x="481.96" y="64.14" font-size="4" fill="#222" transform="rotate(-20.36 481.96 64.14)">TNFRSF1A</text>
<path d="M481.16 68.39A57.7 57.7 0 0 1 482.97 78.43L473.51 79.28A48.2 48.2 0 0 0 471.99 70.89Z" fill="#2E6FB2" stroke="#8f9aa0" stroke-width="0.4"/>
<text x="484.61" y="74.98" font-size="5.7" fill="#DA2A2E" transform="rotate(-10.21 484.61 74.98)">TNFRSF1B</text>
<path d="M482.97 78.43A57.7 57.7 0 0 1 482.98 88.63L473.52 87.8A48.2 48.2 0 0 0 473.51 79.28Z" fill="#F3EAEB" stroke="#8f9aa0" stroke-width="0.4"/>
<text x="485.2" y="84.93" font-size="4" fill="#222" transform="rotate(-0.07 485.2 84.93)">VSIR</text>
<path d="M444.97 40.88A46.95 46.95 0 0 1 472.31 87.28L463.23 86.57A37.85 37.85 0 0 0 441.2 49.16Z" fill="#B2DC8A"/>
<text x="461.07" y="62.65" font-size="3.2" fill="#111" text-anchor="middle" font-weight="bold" transform="rotate(59.5 461.07 62.65)">T cells</text>
<path d="M440.76 49.95A36.95 36.95 0 0 1 462.33 86.56L456.55 86.1A31.15 31.15 0 0 0 438.37 55.23Z" fill="#7FA9DC"/>
<text x="454.15" y="66.72" font-size="2.3" fill="#fff" text-anchor="middle" font-weight="bold" transform="rotate(59.5 454.15 66.72)">receptor</text>
<path d="M482.98 88.63A57.7 57.7 0 0 1 481.45 97.72L472.23 95.4A48.2 48.2 0 0 0 473.52 87.8Z" fill="#6FD3CB" stroke="#8f9aa0" stroke-width="0.4"/>
<text x="484.13" y="94.92" font-size="4" fill="#222" transform="rotate(9.58 484.13 94.92)">COPA</text>
<path d="M481.45 97.72A57.7 57.7 0 0 1 478.48 106.45L469.76 102.69A48.2 48.2 0 0 0 472.23 95.4Z" fill="#EDF1F0" stroke="#8f9aa0" stroke-width="0.4"/>
<text x="481.58" y="104.12" font-size="4" fill="#222" transform="rotate(18.75 481.58 104.12)">FAM3C</text>
<path d="M478.48 106.45A57.7 57.7 0 0 1 474.16 114.6L466.15 109.5A48.2 48.2 0 0 0 469.76 102.69Z" fill="#3A8FBE" stroke="#8f9aa0" stroke-width="0.4"/>
<text x="477.32" y="113.31" font-size="5.7" fill="#DA2A2E" transform="rotate(27.92 477.32 113.31)">GRN</text>
<path d="M474.16 114.6A57.7 57.7 0 0 1 468.6 121.96L461.51 115.64A48.2 48.2 0 0 0 466.15 109.5Z" fill="#3A8FBE" stroke="#8f9aa0" stroke-width="0.4"/>
<text x="472.28" y="120.71" font-size="4" fill="#222" transform="rotate(37.08 472.28 120.71)">GRN</text>
<path d="M468.6 121.96A57.7 57.7 0 0 1 461.94 128.34L455.94 120.97A48.2 48.2 0 0 0 461.51 115.64Z" fill="#3A8FBE" stroke="#8f9aa0" stroke-width="0.4"/>
<text x="465.77" y="127.69" font-size="4" fill="#222" transform="rotate(46.25 465.77 127.69)">GRN</text>
<path d="M461.94 128.34A57.7 57.7 0 0 1 454.35 133.57L449.6 125.34A48.2 48.2 0 0 0 455.94 120.97Z" fill="#BDE7E1" stroke="#8f9aa0" stroke-width="0.4"/>
<text x="458.23" y="133.55" font-size="4" fill="#222" transform="rotate(55.42 458.23 133.55)">LRPAP1</text>
<path d="M454.35 133.57A57.7 57.7 0 0 1 446.02 137.53L442.64 128.65A48.2 48.2 0 0 0 449.6 125.34Z" fill="#EDF1F0" stroke="#8f9aa0" stroke-width="0.4"/>
<text x="449.86" y="138.12" font-size="4" fill="#222" transform="rotate(64.58 449.86 138.12)">TNF</text>
<path d="M446.02 137.53A57.7 57.7 0 0 1 437.17 140.11L435.25 130.8A48.2 48.2 0 0 0 442.64 128.65Z" fill="#EDF1F0" stroke="#8f9aa0" stroke-width="0.4"/>
<text x="440.86" y="141.31" font-size="4" fill="#222" transform="rotate(73.75 440.86 141.31)">TNF</text>
<path d="M437.17 140.11A57.7 57.7 0 0 1 428.02 141.25L427.6 131.75A48.2 48.2 0 0 0 435.25 130.8Z" fill="#EDF1F0" stroke="#8f9aa0" stroke-width="0.4"/>
<text x="431.47" y="143.02" font-size="4" fill="#222" transform="rotate(82.92 431.47 143.02)">TNF</text>
<path d="M428.02 141.25A57.7 57.7 0 0 1 418.8 140.91L419.9 131.47A48.2 48.2 0 0 0 427.6 131.75Z" fill="#EDF1F0" stroke="#8f9aa0" stroke-width="0.4"/>
<text x="424.73" y="143.31" font-size="4" fill="#222" text-anchor="end" transform="rotate(272.08 424.73 143.31)">TNF</text>
<path d="M418.8 140.91A57.7 57.7 0 0 1 409.76 139.11L412.35 129.97A48.2 48.2 0 0 0 419.9 131.47Z" fill="#EDF1F0" stroke="#8f9aa0" stroke-width="0.4"/>
<text x="415.23" y="142.43" font-size="4" fill="#222" text-anchor="end" transform="rotate(281.25 415.23 142.43)">TNF</text>
<path d="M409.76 139.11A57.7 57.7 0 0 1 401.11 135.89L405.13 127.28A48.2 48.2 0 0 0 412.35 129.97Z" fill="#45BFC4" stroke="#8f9aa0" stroke-width="0.4"/>
<text x="405.99" y="140.04" font-size="4" fill="#222" text-anchor="end" transform="rotate(290.42 405.99 140.04)">TNFSF10</text>
<path d="M472.23 88.1A46.95 46.95 0 0 1 406.03 126.32L409.8 118.04A37.85 37.85 0 0 0 463.18 87.23Z" fill="#E6D3E6"/>
<text x="447.26" y="121.29" font-size="3.2" fill="#111" text-anchor="middle" font-weight="bold" transform="rotate(330 447.26 121.29)">m_cluster1</text>
<path d="M462.29 87.08A36.95 36.95 0 0 1 410.12 117.2L412.53 111.92A31.15 31.15 0 0 0 456.51 86.53Z" fill="#F46D60"/>
<text x="442.92" y="113.78" font-size="2.3" fill="#fff" text-anchor="middle" font-weight="bold" transform="rotate(330 442.92 113.78)">ligand</text>
<path d="M401.11 135.89A57.7 57.7 0 0 1 391.18 129.98L396.83 122.35A48.2 48.2 0 0 0 405.13 127.28Z" fill="#BDE7E1" stroke="#8f9aa0" stroke-width="0.4"/>
<text x="396.18" y="135.62" font-size="4" fill="#222" text-anchor="end" transform="rotate(300.75 396.18 135.62)">COPA</text>
<path d="M391.18 129.98A57.7 57.7 0 0 1 382.62 122.21L389.68 115.85A48.2 48.2 0 0 0 396.83 122.35Z" fill="#45BFC4" stroke="#8f9aa0" stroke-width="0.4"/>
<text x="386.4" y="128.73" font-size="4" fill="#222" text-anchor="end" transform="rotate(312.25 386.4 128.73)">TNFSF12</text>
<path d="M405.29 125.98A46.95 46.95 0 0 1 390.88 115.32L397.59 109.17A37.85 37.85 0 0 0 409.21 117.76Z" fill="#F5AC9B"/>
<text x="399.61" y="118.58" font-size="3.2" fill="#111" text-anchor="middle" font-weight="bold" transform="rotate(396.5 399.61 118.58)">m_cluster5</text>
<path d="M409.65 116.98A36.95 36.95 0 0 1 398.21 108.52L402.5 104.6A31.15 31.15 0 0 0 412.14 111.74Z" fill="#F46D60"/>
<text x="404.77" y="111.61" font-size="2.3" fill="#fff" text-anchor="middle" font-weight="bold" transform="rotate(396.5 404.77 111.61)">ligand</text>
<path d="M382.62 122.21A57.7 57.7 0 0 1 376.3 113.75L384.4 108.78A48.2 48.2 0 0 0 389.68 115.85Z" fill="#BDE7E1" stroke="#8f9aa0" stroke-width="0.4"/>
<text x="378.5" y="120.44" font-size="4" fill="#222" text-anchor="end" transform="rotate(323.25 378.5 120.44)">COPA</text>
<path d="M376.3 113.75A57.7 57.7 0 0 1 371.63 104.28L380.5 100.87A48.2 48.2 0 0 0 384.4 108.78Z" fill="#45BFC4" stroke="#8f9aa0" stroke-width="0.4"/>
<text x="372.58" y="111.26" font-size="4" fill="#222" text-anchor="end" transform="rotate(333.75 372.58 111.26)">GRN</text>
<path d="M371.63 104.28A57.7 57.7 0 0 1 368.77 94.11L378.11 92.38A48.2 48.2 0 0 0 380.5 100.87Z" fill="#45BFC4" stroke="#8f9aa0" stroke-width="0.4"/>
<text x="368.58" y="101.73" font-size="5.7" fill="#DA2A2E" text-anchor="end" transform="rotate(344.25 368.58 101.73)">GRN</text>
<path d="M368.77 94.11A57.7 57.7 0 0 1 367.8 83.6L377.3 83.6A48.2 48.2 0 0 0 378.11 92.38Z" fill="#BDE7E1" stroke="#8f9aa0" stroke-width="0.4"/>
<text x="366.18" y="90.46" font-size="4" fill="#222" text-anchor="end" transform="rotate(354.75 366.18 90.46)">LRPAP1</text>
<path d="M390.34 114.71A46.95 46.95 0 0 1 378.55 84.01L387.65 83.93A37.85 37.85 0 0 0 397.15 108.68Z" fill="#2E9E45"/>
<text x="384.87" y="99.2" font-size="3.2" fill="#111" text-anchor="middle" font-weight="bold" transform="rotate(429 384.87 99.2)">m_cluster2</text>
<path d="M397.87 108.13A36.95 36.95 0 0 1 388.55 83.86L394.35 83.82A31.15 31.15 0 0 0 402.21 104.28Z" fill="#F46D60"/>
<text x="392.96" y="96.09" font-size="2.3" fill="#fff" text-anchor="middle" font-weight="bold" transform="rotate(429 392.96 96.09)">ligand</text>
<path d="M367.8 83.6A57.7 57.7 0 0 1 368.74 73.25L378.08 74.95A48.2 48.2 0 0 0 377.3 83.6Z" fill="#BDE7E1" stroke="#8f9aa0" stroke-width="0.4"/>
<text x="365.92" y="79.62" font-size="4" fill="#222" text-anchor="end" transform="rotate(365.17 365.92 79.62)">COPA</text>
<path d="M368.74 73.25A57.7 57.7 0 0 1 371.51 63.24L380.4 66.59A48.2 48.2 0 0 0 378.08 74.95Z" fill="#3A8FBE" stroke="#8f9aa0" stroke-width="0.4"/>
<text x="367.6" y="68.99" font-size="4" fill="#222" text-anchor="end" transform="rotate(375.5 367.6 68.99)">GRN</text>
<path d="M371.51 63.24A57.7 57.7 0 0 1 376.04 53.88L384.18 58.78A48.2 48.2 0 0 0 380.4 66.59Z" fill="#3A8FBE" stroke="#8f9aa0" stroke-width="0.4"/>
<text x="370.9" y="59.38" font-size="5.7" fill="#DA2A2E" text-anchor="end" transform="rotate(385.83 370.9 59.38)">GRN</text>
<path d="M376.04 53.88A57.7 57.7 0 0 1 382.17 45.49L389.31 51.77A48.2 48.2 0 0 0 384.18 58.78Z" fill="#3A8FBE" stroke="#8f9aa0" stroke-width="0.4"/>
<text x="376.48" y="49.5" font-size="4" fill="#222" text-anchor="end" transform="rotate(396.17 376.48 49.5)">GRN</text>
<path d="M382.17 45.49A57.7 57.7 0 0 1 389.71 38.34L395.6 45.79A48.2 48.2 0 0 0 389.31 51.77Z" fill="#BDE7E1" stroke="#8f9aa0" stroke-width="0.4"/>
<text x="383.39" y="41.26" font-size="4" fill="#222" text-anchor="end" transform="rotate(406.5 383.39 41.26)">LRPAP1</text>
<path d="M389.71 38.34A57.7 57.7 0 0 1 398.41 32.65L402.87 41.04A48.2 48.2 0 0 0 395.6 45.79Z" fill="#6FD3CB" stroke="#8f9aa0" stroke-width="0.4"/>
<text x="391.67" y="34.39" font-size="4" fill="#222" text-anchor="end" transform="rotate(416.83 391.67 34.39)">TNFSF12</text>
<path d="M378.55 83.19A46.95 46.95 0 0 1 403.1 42.34L407.44 50.34A37.85 37.85 0 0 0 387.65 83.27Z" fill="#CFE39C"/>
<text x="390.12" y="62.34" font-size="3.2" fill="#111" text-anchor="middle" font-weight="bold" transform="rotate(301 390.12 62.34)">m_cluster4</text>
<path d="M388.55 83.34A36.95 36.95 0 0 1 407.93 51.1L410.68 56.2A31.15 31.15 0 0 0 394.35 83.38Z" fill="#F46D60"/>
<text x="397" y="66.47" font-size="2.3" fill="#fff" text-anchor="middle" font-weight="bold" transform="rotate(301 397 66.47)">ligand</text>
<path d="M413.91 54.9Q423.35 68.28 427.7 82.7" fill="none" stroke="#F6DCC6" stroke-width="0.45"/>
<path d="M419.07 53.33Q426.04 68.13 427.7 82.7" fill="none" stroke="#F6DCC6" stroke-width="0.45"/>
<path d="M424.42 52.67Q428.72 68.46 427.7 82.7" fill="none" stroke="#F6DCC6" stroke-width="0.45"/>
<path d="M429.81 52.95Q431.3 69.25 427.7 82.7" fill="none" stroke="#F6DCC6" stroke-width="0.45"/>
<path d="M435.06 54.16Q433.7 70.48 427.7 82.7" fill="none" stroke="#F6DCC6" stroke-width="0.45"/>
<path d="M455.98 88.97Q439.64 89.89 427.7 82.7" fill="none" stroke="#F6DCC6" stroke-width="0.45"/>
<path d="M454.76 93.68Q438.48 92.03 427.7 82.7" fill="none" stroke="#F6DCC6" stroke-width="0.45"/>
<path d="M452.83 98.13Q437 93.95 427.7 82.7" fill="none" stroke="#F6DCC6" stroke-width="0.45"/>
<path d="M450.22 102.23Q435.24 95.63 427.7 82.7" fill="none" stroke="#F6DCC6" stroke-width="0.45"/>
<path d="M447 105.86Q433.24 97 427.7 82.7" fill="none" stroke="#F6DCC6" stroke-width="0.45"/>
<path d="M443.25 108.95Q431.05 98.05 427.7 82.7" fill="none" stroke="#F6DCC6" stroke-width="0.45"/>
<path d="M439.07 111.42Q428.72 98.74 427.7 82.7" fill="none" stroke="#F6DCC6" stroke-width="0.45"/>
<path d="M434.55 113.2Q426.31 99.05 427.7 82.7" fill="none" stroke="#F6DCC6" stroke-width="0.45"/>
<path d="M429.81 114.25Q423.88 98.99 427.7 82.7" fill="none" stroke="#F6DCC6" stroke-width="0.45"/>
<path d="M424.96 114.55Q421.49 98.55 427.7 82.7" fill="none" stroke="#F6DCC6" stroke-width="0.45"/>
<path d="M420.13 114.08Q419.21 97.74 427.7 82.7" fill="none" stroke="#F6DCC6" stroke-width="0.45"/>
<path d="M414.91 112.68Q416.85 96.43 427.7 82.7" fill="none" stroke="#F6DCC6" stroke-width="0.45"/>
<path d="M410.02 110.4Q414.75 94.73 427.7 82.7" fill="none" stroke="#F6DCC6" stroke-width="0.45"/>
<path d="M404.79 106.6Q412.67 92.25 427.7 82.7" fill="none" stroke="#F6DCC6" stroke-width="0.45"/>
<path d="M399.25 100Q410.78 88.38 427.7 82.7" fill="none" stroke="#F6DCC6" stroke-width="0.45"/>
<path d="M396.42 94.19Q410.11 85.22 427.7 82.7" fill="none" stroke="#F6DCC6" stroke-width="0.45"/>
<path d="M394.85 87.91Q410.11 81.98 427.7 82.7" fill="none" stroke="#F6DCC6" stroke-width="0.45"/>
<path d="M395.02 78.23Q411.36 77.31 427.7 82.7" fill="none" stroke="#F6DCC6" stroke-width="0.45"/>
<path d="M396.8 72.01Q412.98 74.5 427.7 82.7" fill="none" stroke="#F6DCC6" stroke-width="0.45"/>
<path d="M400.15 65.85Q415.35 71.92 427.7 82.7" fill="none" stroke="#F6DCC6" stroke-width="0.45"/>
<path d="M404.79 60.6Q418.23 69.94 427.7 82.7" fill="none" stroke="#F6DCC6" stroke-width="0.45"/>
<path d="M409.1 57.35Q420.72 68.88 427.7 82.7" fill="none" stroke="#F6DCC6" stroke-width="0.45"/>
<path d="M420.13 53.12Q433.24 70.2 427.7 82.7" fill="none" stroke="#2FC3C6" stroke-width="0.7"/>
<path d="M449.89 102.65Q428.72 98.74 427.7 82.7" fill="none" stroke="#2FC3C6" stroke-width="0.7"/>
<path d="M395.9 92.65Q411.26 77.55 427.7 82.7" fill="none" stroke="#2FC3C6" stroke-width="0.7"/>
<path d="M397.68 70.03Q419.21 69.46 427.7 82.7" fill="none" stroke="#2FC3C6" stroke-width="0.7"/>
<path d="M427.7 82.7L434.68 61.97" stroke="#F4CDA8" stroke-width="0.5" stroke-opacity="0.9" stroke-linecap="round" fill="none"/>
<path d="M427.7 82.7L439.64 64.83" stroke="#F4CDA8" stroke-width="0.5" stroke-opacity="0.9" stroke-linecap="round" fill="none"/>
<path d="M427.7 82.7L442.69 67.57" stroke="#F4CDA8" stroke-width="0.5" stroke-opacity="0.9" stroke-linecap="round" fill="none"/>
<path d="M427.7 82.7L445.21 70.8" stroke="#F4CDA8" stroke-width="0.5" stroke-opacity="0.9" stroke-linecap="round" fill="none"/>
<path d="M427.7 82.7L446.51 75.54" stroke="#3CCACA" stroke-width="1" stroke-opacity="0.9" stroke-linecap="round" fill="none"/>
<path d="M427.7 82.7L446.05 74.45" stroke="#3CCACA" stroke-width="0.6" stroke-opacity="0.9" stroke-linecap="round" fill="none"/>
<polygon points="0,-3.3 2.05,1.81 -2.05,1.81" fill="#F29A2E" transform="translate(435.66 59.67) rotate(23)"/>
<polygon points="0,-3.6 2.23,1.98 -2.23,1.98" fill="#F29A2E" transform="translate(441.45 62.44) rotate(37)"/>
<polygon points="0,-3.6 2.23,1.98 -2.23,1.98" fill="#F29A2E" transform="translate(444.88 65.53) rotate(47)"/>
<polygon points="0,-3.6 2.23,1.98 -2.23,1.98" fill="#F29A2E" transform="translate(447.72 69.17) rotate(57)"/>
<polygon points="0,-4 2.48,2.2 -2.48,2.2" fill="#22C7C9" transform="translate(449.31 74.46) rotate(69)"/>
<polygon points="0,-2.3 1.43,1.26 -1.43,1.26" fill="#F29A2E" transform="translate(452.89 77.78) rotate(78)"/>
<text x="439.1" y="164.3" font-size="6.5" fill="#111" text-anchor="middle">Malignant cells interacting with T cells</text>
<defs><linearGradient id="cbar" x1="0" y1="0" x2="0" y2="1"><stop offset="0" stop-color="#2F69AC"/><stop offset="0.3" stop-color="#3B8EC6"/><stop offset="0.5" stop-color="#3FC6C6"/><stop offset="0.68" stop-color="#9CE0DA"/><stop offset="0.85" stop-color="#DDF0EE"/><stop offset="1" stop-color="#EFEFEF"/></linearGradient></defs>
<rect x="520.5" y="24.8" width="4.1" height="130.7" fill="url(#cbar)"/>
<text x="527.8" y="38.4" font-size="8.6" fill="#111">high</text>
<text x="527.8" y="145.2" font-size="8.6" fill="#111">low</text>
</g>
<g id="pc">
<text x="4.4" y="178.6" font-size="9.9" textLength="6.6" lengthAdjust="spacingAndGlyphs">C</text>
<clipPath id="sc1"><polygon points="37.85,183.73 100.36,184.22 110.18,191.91 110.51,250 106.91,256.55 51.27,256.55 37.85,248.36"/></clipPath>
<g clip-path="url(#sc1)">
<polygon points="37.85,183.73 100.36,184.22 110.18,191.91 110.51,250 106.91,256.55 51.27,256.55 37.85,248.36" fill="#DAD2E6"/>
<g filter="url(#rough)">
<polygon points="36.66,184.66 46.26,184.66 47.13,193.82 37.53,196.44" fill="#B0A4E8"/>
<polygon points="36.66,200.37 41.89,200.37 41.89,210.4 36.66,210.4" fill="#B0A4E8"/>
<polygon points="46.91,183.35 63.28,183.35 72,192.73 87.28,200.37 86.19,206.91 72,204.73 61.09,198.18 52.37,191.64" fill="#EF8AA0"/>
<polygon points="72,183.35 98.62,184.22 109.1,192.73 109.1,209.09 102.55,211.27 96.01,204.73 87.28,200.37 75.28,191.64" fill="#EF8AA0"/>
<polygon points="58.91,209.09 85.1,209.09 85.1,221.09 58.91,221.09" fill="#E8B8CA"/>
<polygon points="90.55,212.37 106.92,212.37 106.92,233.09 90.55,233.09" fill="#E8B8CA"/>
<polygon points="36,215.64 43.64,214.55 54.55,218.91 65.46,222.18 76.37,224.37 91.64,230.91 109.1,244 109.1,257.1 102.55,257.1 93.82,248.37 82.91,241.82 72,239.64 61.09,237.46 50.19,230.91 36,226.55" fill="#EF8AA0"/>
<polygon points="36,232 50.19,234.19 63.28,239.64 74.19,246.19 84.01,257.1 46.91,257.1 36,248.37" fill="#9486EA"/>
<polygon points="105.17,192.73 109.1,192.73 109.1,233.09 105.17,233.09" fill="#B59CE6"/>
</g>
<path d="M43.9 183.9h0M45 184.1h0M50.7 184.1h0M53.1 184.1h0M54 184.3h0M55.9 184.3h0M58.4 184h0M60.6 184.3h0M63.8 184.2h0M70.5 184.4h0M73.9 184.2h0M76.2 184.1h0M81.1 184.2h0M43.4 185.1h0M55.8 184.8h0M57.8 184.8h0M58.7 185.2h0M62 185.1h0M77.9 185.3h0M81.4 185h0M87 185.1h0M92.5 185.3h0M96 185h0M97.2 184.9h0M98.2 185.1h0M45.9 185.8h0M49.7 186.1h0M61.7 186.1h0M69.4 186h0M76.3 186.1h0M80.5 185.9h0M88.7 186h0M92.9 186.3h0M98.5 185.9h0M99.9 185.8h0M43.5 186.8h0M56.7 187.1h0M61.4 187.1h0M74.6 187.1h0M75.6 186.9h0M84.4 187h0M86.9 186.9h0M96.9 187h0M101.8 187.2h0M40.6 188.1h0M48.2 187.9h0M56.2 188.1h0M62 187.9h0M69.6 187.9h0M80.6 188h0M82.1 188h0M94.1 188.3h0M96.7 188.3h0M97.8 187.8h0M100.8 187.9h0M101.9 188.1h0M43.3 189.1h0M53.4 189h0M56.5 188.9h0M59.9 188.8h0M65.6 188.9h0M67.1 189.2h0M76.7 189h0M79.1 188.7h0M88 189h0M92.4 188.9h0M93.8 189h0M97.1 188.8h0M98.1 188.9h0M99.2 189h0M100.2 188.9h0M104.9 189.1h0M105.7 188.9h0M43.6 190h0M60.7 190.2h0M61.9 189.9h0M65.1 190.1h0M66.3 190.2h0M69.3 189.8h0M70.6 189.7h0M76.1 190.2h0M77.3 189.7h0M81.9 190.3h0M87.3 189.7h0M89.6 190.2h0M93.4 189.9h0M95.3 189.9h0M99.6 189.8h0M101 189.9h0M54.4 191h0M58.7 190.9h0M59.9 190.9h0M62.4 191.2h0M68.2 191h0M71.4 190.9h0M81.6 190.8h0M91.4 190.9h0M93.6 191.1h0M96.1 191.1h0M98.1 191h0M100.5 190.7h0M102.6 191h0M104 190.7h0M107.3 191.1h0M45 192h0M46 191.8h0M48.4 192.2h0M52.7 191.8h0M58.6 191.7h0M61.9 191.9h0M65 192.1h0M67.1 191.8h0M70.7 191.8h0M81 191.8h0M84.3 191.7h0M85.4 192h0M86.7 192.1h0M93.2 191.8h0M94.2 191.8h0M99 191.8h0M104.6 191.8h0M108.8 191.7h0M45.5 193.2h0M48 193h0M58.9 192.8h0M76.8 192.6h0M78 192.9h0M85.7 193h0M87.2 192.9h0M87.8 192.8h0M94.8 193.2h0M97.3 192.8h0M39.4 193.8h0M41.7 193.6h0M59.3 193.8h0M61.8 194.1h0M65.2 194.2h0M75.3 193.6h0M76.1 193.8h0M79.6 193.7h0M90.8 194h0M92 194.2h0M93.2 194.1h0M52 194.8h0M54.6 194.7h0M64.5 194.6h0M81.6 194.6h0M82.5 195.1h0M87.1 194.7h0M88 195.1h0M89.1 194.7h0M94.8 194.8h0M95.7 195h0M96.9 194.8h0M99.5 194.6h0M100.6 194.8h0M102.4 194.7h0M103.9 194.6h0M107.4 194.9h0M48.4 195.7h0M53.8 195.7h0M55.2 195.7h0M60.4 195.8h0M62.7 195.5h0M66.1 195.6h0M68.6 196h0M73.9 195.9h0M79.8 195.6h0M84.4 196h0M85.3 195.9h0M92.3 196.1h0M94.3 195.6h0M98.5 196h0M101.1 195.9h0M44.2 197h0M46.6 196.7h0M49.1 196.5h0M50 196.6h0M57.7 197.1h0M62.6 196.5h0M65.5 196.6h0M67.1 197h0M69.9 196.6h0M81.1 197h0M88.3 196.6h0M91.3 196.7h0M93.8 196.7h0M94.8 196.8h0M97.9 196.8h0M39.5 197.9h0M50.3 197.6h0M51.5 197.6h0M64.2 197.8h0M68.5 197.9h0M69.6 197.6h0M74.2 197.5h0M87.4 198h0M92.2 198h0M93.2 197.8h0M100 197.5h0M101.2 197.5h0M102.3 197.5h0M109.1 197.9h0M109.7 197.5h0M43.4 199h0M46.6 199h0M48 198.7h0M53.4 198.8h0M56.9 198.7h0M59.8 198.5h0M65.7 198.5h0M69 198.5h0M76.8 198.9h0M80.2 198.5h0M83.4 198.7h0M86.7 198.9h0M88.1 198.6h0M95 198.5h0M101.5 198.7h0M43.6 199.8h0M54.2 200h0M67.5 199.7h0M72.1 199.4h0M73.9 199.4h0M78.6 199.9h0M79.5 199.5h0M80.9 199.8h0M83.1 199.5h0M85.4 200h0M94.2 199.7h0M95.3 199.6h0M99.9 199.5h0M101.2 200h0M106.4 199.7h0M38.9 200.5h0M47.6 200.7h0M51 201h0M53.3 200.7h0M55.7 200.7h0M63.4 200.7h0M70.3 200.5h0M85.7 200.5h0M87 200.8h0M91.4 200.7h0M95.8 200.5h0M97.9 200.4h0M103.8 201h0M108.4 200.9h0M50.5 201.9h0M51.9 201.9h0M64.1 201.7h0M75 201.7h0M77.6 201.5h0M85.6 201.6h0M92.9 201.6h0M94.4 201.4h0M95.4 201.7h0M96.6 201.6h0M97.6 201.6h0M98.7 201.4h0M99.9 201.7h0M102 201.7h0M104.1 201.7h0M105.5 201.5h0M55.4 202.7h0M67.1 202.5h0M69.1 202.8h0M74.9 202.8h0M79.2 202.8h0M85.9 202.5h0M87.2 202.4h0M88.3 202.8h0M89.2 202.4h0M92.4 202.6h0M94.8 202.8h0M95.8 202.5h0M96.9 202.5h0M99.2 202.6h0M104 202.4h0M105.2 202.8h0M39.6 203.5h0M44.1 203.8h0M46.1 203.7h0M49.7 203.6h0M59.7 203.7h0M70.8 203.7h0M73.2 203.5h0M78.6 203.8h0M80.9 203.8h0M86.2 203.4h0M95.4 203.9h0M97.6 203.3h0M100.8 203.8h0M62.3 204.5h0M72.3 204.4h0M74.6 204.3h0M76.7 204.7h0M96.2 204.7h0M101.4 204.6h0M38 205.5h0M44 205.3h0M45.9 205.9h0M52.7 205.5h0M57.3 205.7h0M63.1 205.8h0M71.9 205.6h0M83.1 205.8h0M95.5 205.3h0M107.8 205.8h0M40 206.4h0M41 206.2h0M58.8 206.2h0M61.4 206.5h0M71.5 206.7h0M94 206.3h0M94.9 206.4h0M99.2 206.4h0M100.4 206.3h0M47.2 207.7h0M51.4 207.3h0M64.2 207.4h0M66.1 207.7h0M67.4 207.3h0M73.9 207.3h0M75.1 207.6h0M76.4 207.6h0M79.9 207.7h0M81.8 207.3h0M83.3 207.3h0M104.6 207.6h0M40.1 208.4h0M46.5 208.6h0M51.2 208.3h0M54.8 208.2h0M56.5 208.4h0M62.1 208.7h0M66.8 208.5h0M72.7 208.4h0M78.2 208.7h0M80.3 208.5h0M90.2 208.4h0M91.2 208.2h0M95.8 208.7h0M99.2 208.3h0M102.8 208.6h0M56.2 209.3h0M59.7 209.2h0M60.4 209.3h0M64 209.7h0M68.6 209.4h0M71.8 209.4h0M73.2 209.5h0M77.3 209.2h0M89.5 209.2h0M94 209.3h0M109.8 209.5h0M38.9 210.2h0M41.1 210.3h0M58.8 210.6h0M60.2 210.6h0M67.7 210.6h0M71.1 210.5h0M76 210.4h0M76.6 210.2h0M79 210.6h0M81.2 210.5h0M82.6 210.2h0M89.2 210.4h0M97.1 210.5h0M103.7 210.6h0M104.7 210.4h0M41.5 211.3h0M53 211.4h0M61.6 211.4h0M64 211.3h0M69.9 211.3h0M74.2 211.6h0M75.3 211.5h0M77.2 211.2h0M80.7 211.4h0M81.6 211.6h0M84 211.4h0M87.7 211.2h0M92.2 211.6h0M93.2 211.5h0M101.2 211.4h0M107.5 211.5h0M39.7 212.6h0M51.2 212.6h0M56.6 212.5h0M59 212.3h0M60 212.5h0M65.8 212.4h0M74.5 212.2h0M77.2 212.6h0M86.8 212.3h0M93.6 212.5h0M40.5 213.3h0M60.7 213.2h0M65 213.2h0M67.3 213.1h0M69.4 213.2h0M75.2 213.3h0M82 213.2h0M88.8 213.5h0M91.9 213.4h0M94.5 213.5h0M97.6 213.1h0M98.8 213.5h0M102.2 213.3h0M103.3 213.5h0M108.8 213.3h0M63.3 214.1h0M64.4 214.3h0M65.6 214.3h0M66.6 214.1h0M67.8 214.5h0M75.6 214.2h0M76.9 214.1h0M79.2 214.1h0M80.3 214.5h0M83.8 214.5h0M88.1 214.6h0M91.7 214.5h0M92.4 214.3h0M106 214.1h0M109.3 214.3h0M57.4 215.5h0M60.4 215.6h0M64.9 215.4h0M67.2 215.2h0M73.2 215.5h0M75.2 215.3h0M78.3 215.4h0M79.5 215.1h0M84.4 215.3h0M101 215.1h0M103.1 215.4h0M105.2 215.5h0M48.7 216.5h0M52.3 216.2h0M61.5 216.6h0M64.6 216.4h0M67.8 216.5h0M80.4 216.2h0M81.5 216.1h0M93.6 216.3h0M99.5 216.5h0M101.6 216.1h0M42.8 217.5h0M45.8 217.1h0M60.8 217.3h0M72 217.1h0M77.3 217.4h0M83 217.2h0M84.4 217.2h0M90.7 217.3h0M102.2 217.5h0M39.1 218h0M39.9 218h0M46.6 218.4h0M51.3 218.3h0M53.3 218.5h0M55.4 218.2h0M56.8 218.5h0M57.8 218.1h0M68.8 218.4h0M73.5 218.1h0M75.7 218.4h0M102.4 218.4h0M103.9 218.2h0M108 218.4h0M40.2 219.3h0M47 219.1h0M51.8 219.1h0M53 218.9h0M58.6 219.5h0M60.5 218.9h0M61.5 219h0M65.3 219.2h0M68.4 219.5h0M74.2 219h0M77.3 219.1h0M79.9 219.5h0M84.3 219.4h0M91.9 219.1h0M94.5 219.5h0M106.4 218.9h0M107.4 219h0M38.6 220.5h0M40.9 220.1h0M55.4 220.2h0M58 220.2h0M61 220.2h0M62.2 220.5h0M71.5 220h0M73.5 220.4h0M74.7 220h0M77 220.1h0M90.6 220.5h0M93.6 220.4h0M95 220.3h0M98.4 220.2h0M100.6 220h0M39.2 221.3h0M46.3 221h0M47.2 221.1h0M48.5 221.4h0M50.8 220.9h0M58.5 221.1h0M65.1 221.4h0M71.8 220.9h0M72.9 221.4h0M78.3 221.3h0M79.5 220.9h0M82.9 221.2h0M87.3 221h0M93.1 221.4h0M105.2 221h0M108.9 221.2h0M47.9 222.1h0M50 222h0M50.8 222h0M57 221.9h0M57.8 222h0M60.4 222.3h0M60.9 221.9h0M64.5 222.4h0M71.1 222h0M76.7 222.4h0M95.9 222h0M97.3 222.1h0M100.2 221.9h0M102.7 222h0M44.7 223.2h0M47.1 222.8h0M48.6 222.8h0M49.7 223.1h0M51.7 223h0M56 223.3h0M60.4 223.3h0M61.6 223h0M62.7 223h0M66 222.8h0M68.7 223.1h0M71.8 223.1h0M77.3 223.3h0M80.7 222.8h0M93.3 222.9h0M101.9 223.3h0M107.9 223.1h0M109.8 223.4h0M39.1 224.2h0M39.8 224.2h0M45.5 223.8h0M47.7 224.3h0M52.1 224.2h0M53.1 223.9h0M54.6 223.9h0M57.6 224h0M60 224.2h0M62.2 224.2h0M67.7 223.9h0M90.6 224.2h0M92.4 223.8h0M94.8 224h0M99.1 223.9h0M44.1 224.8h0M44.8 224.8h0M46.1 224.8h0M47.3 225h0M50.4 225.2h0M55.3 225h0M70.7 225.2h0M71.8 224.8h0M77.7 225.3h0M78.6 225.3h0M92.9 224.8h0M98.7 225.2h0M99.9 225.3h0M104.6 225.3h0M106.5 224.8h0M107.7 225.2h0M108.8 224.8h0M40.8 226.2h0M51.4 225.8h0M55.4 226.3h0M57 226.1h0M57.9 226.3h0M62.6 225.9h0M63.3 225.7h0M64.5 226.1h0M67.8 226.3h0M71.2 226.3h0M74.9 226h0M79 226h0M84.5 225.9h0M89.2 226.1h0M92.8 226.1h0M94.5 226.2h0M100.5 225.9h0M108.5 226.2h0M38.3 227h0M42.9 227.2h0M47 226.9h0M51.9 226.9h0M54.2 227.3h0M56.2 226.8h0M59.8 227.1h0M66.5 227.2h0M75.2 226.8h0M76.3 227.2h0M83 227.2h0M93.3 227.2h0M96.4 226.8h0M100.1 227h0M41.3 228.2h0M43.5 228.2h0M53.4 228.2h0M54.6 228h0M63.7 227.9h0M65.4 228h0M69.9 227.8h0M72.3 228h0M74.4 228.1h0M81.3 228h0M83.8 227.9h0M89.1 228.2h0M98 227.8h0M106.1 228.2h0M108.3 228.3h0M48.6 228.9h0M49.2 229.1h0M54.2 229.2h0M55.3 229h0M56.1 228.7h0M59.3 228.9h0M60.7 229.1h0M63.2 229.2h0M66.2 228.9h0M69.5 228.9h0M75.5 229.2h0M76.3 228.9h0M80.9 228.8h0M86.3 229.1h0M87.6 229h0M88.7 229.1h0M93.1 228.8h0M94.3 229.1h0M101 229.2h0M102.2 229h0M110 228.7h0M43.3 229.9h0M55.4 230.1h0M56.5 230.2h0M62.4 229.7h0M63.2 229.7h0M68.9 230h0M71.2 229.8h0M73.5 229.8h0M84.7 230.1h0M87.2 230.1h0M91.3 230.1h0M100.4 230.2h0M104.7 230.1h0M45.9 231h0M57.2 230.7h0M59.3 230.6h0M61.8 231.1h0M65 231.1h0M68.5 230.6h0M75 230.9h0M78.7 230.7h0M87.7 231.1h0M88.6 230.7h0M91 230.8h0M93.1 230.7h0M107.7 230.9h0M39.9 231.6h0M41.2 232.1h0M53.4 232.1h0M54.8 232h0M57.7 232h0M61 232h0M62.4 231.7h0M64.6 231.7h0M65.8 232.1h0M66.8 232.1h0M68 232.1h0M72.1 231.9h0M76 231.7h0M83.8 232.1h0M88 231.6h0M95 231.6h0M97.3 232h0M105.8 231.6h0M107 231.7h0M44.9 232.9h0M49.3 232.7h0M52.7 233.1h0M56 232.8h0M57.5 233.1h0M59.3 233.1h0M62.8 233h0M64.1 232.6h0M68.5 233.1h0M70.5 232.9h0M71.9 232.5h0M74.2 233h0M75.3 233h0M76.6 232.9h0M80.5 232.6h0M84 232.6h0M87.3 232.7h0M107.7 233.1h0M47.7 233.9h0M49.8 233.8h0M54.6 233.6h0M58.1 233.7h0M61 233.7h0M63.2 233.8h0M65.8 233.9h0M74.7 233.6h0M76.9 233.9h0M77.9 233.9h0M80.4 233.6h0M89 233.6h0M90.6 234h0M92.3 234h0M101.6 233.9h0M106.2 233.9h0M47.5 234.7h0M62 234.7h0M62.6 234.8h0M66.3 234.9h0M78.6 234.5h0M84 234.9h0M85.3 234.7h0M86.7 235.1h0M90 234.9h0M91 235.1h0M97.5 235h0M100 234.9h0M106.3 235h0M107.9 234.5h0M42.3 235.6h0M66.5 235.5h0M71.4 235.9h0M81.3 235.6h0M84.8 235.7h0M93.6 235.8h0M95.8 236.1h0M102.6 235.5h0M107 235.6h0M51.5 236.9h0M58.6 236.7h0M60.7 236.7h0M68.4 236.6h0M77.4 236.6h0M81.7 236.7h0M83.1 236.8h0M95.2 236.9h0M107.4 236.7h0M57.9 237.9h0M63.7 237.6h0M73.4 237.7h0M76.9 237.5h0M82.7 237.8h0M86 237.8h0M89.1 237.5h0M90.4 238h0M91.3 237.7h0M92.7 237.7h0M93.5 238h0M97 237.9h0M99.5 237.5h0M102.7 237.6h0M103.9 237.4h0M58.7 238.9h0M60.8 238.5h0M69.5 239h0M72.9 238.8h0M83.3 238.8h0M88.6 238.7h0M90.7 238.6h0M93.1 238.8h0M94.2 238.6h0M95.1 238.7h0M96.4 238.8h0M100.1 238.7h0M101 238.7h0M102.3 238.7h0M45.8 239.7h0M58 239.9h0M65.8 239.5h0M70.4 239.8h0M76.7 239.5h0M83.4 239.6h0M88.3 239.8h0M94.6 239.9h0M97.9 239.5h0M107.2 239.9h0M53.8 240.4h0M65.2 240.4h0M81.8 240.6h0M83.2 240.9h0M85 240.9h0M90.9 240.9h0M97.4 240.7h0M100 240.8h0M101.2 240.5h0M104.5 240.7h0M110 240.8h0M67.9 241.9h0M77 241.5h0M85 241.5h0M86.8 241.7h0M89.1 241.8h0M90.1 241.8h0M92.3 241.7h0M100.4 241.4h0M101.5 241.6h0M104 241.4h0M105.8 241.6h0M55 242.4h0M64.1 242.5h0M73.9 242.5h0M75.3 242.5h0M82.9 242.8h0M86.6 242.8h0M91.2 242.8h0M91.7 242.3h0M97.4 242.6h0M100.7 242.7h0M72.6 243.4h0M73.8 243.7h0M83.7 243.8h0M84.6 243.8h0M89 243.6h0M90.1 243.8h0M93.5 243.6h0M96.2 243.8h0M98.4 243.6h0M99.3 243.8h0M106.2 243.4h0M107 243.4h0M108.5 243.4h0M71 244.3h0M76.1 244.8h0M92.2 244.7h0M94.1 244.4h0M95.3 244.7h0M96.3 244.8h0M99.9 244.7h0M104.2 244.6h0M105.6 244.5h0M106.8 244.6h0M65.6 245.3h0M75.8 245.4h0M77.8 245.4h0M82.7 245.4h0M90.5 245.6h0M92.4 245.4h0M95.7 245.5h0M100.3 245.2h0M105.1 245.3h0M65 246.5h0M72.8 246.6h0M76.5 246.7h0M93 246.2h0M96.2 246.6h0M98.5 246.3h0M102.1 246.3h0M105.4 246.5h0M62.4 247.7h0M69 247.6h0M76.7 247.6h0M80 247.2h0M91.4 247.2h0M92.7 247.7h0M95.1 247.3h0M95.7 247.5h0M102.4 247.5h0M104.7 247.5h0M38.5 248.4h0M78.5 248.2h0M81.8 248.5h0M52.5 249.4h0M68.1 249.7h0M74.9 249.2h0M85 249.3h0M85.9 249.7h0M94.7 249.4h0M95.8 249.7h0M98.5 249.6h0M108.1 249.4h0M46 250.4h0M56.1 250.3h0M71.6 250.5h0M76.1 250.3h0M79.6 250.2h0M82 250.5h0M87.5 250.5h0M96.5 250.2h0M102 250.2h0M103.3 250.6h0M105.5 250.2h0M106.8 250.7h0M82.7 251.3h0M90.2 251.4h0M99.1 251.1h0M100.2 251.6h0M103.8 251.5h0M106 251.2h0M109.1 251.1h0M66 252.4h0M86.2 252.3h0M88.5 252.5h0M92 252.1h0M101.9 252.5h0M46.4 253.5h0M62.1 253.3h0M82.6 253.6h0M94.7 253.3h0M97.2 253.2h0M58.1 254.3h0M76.4 254.5h0M97.7 254.5h0M99.9 254.2h0M102.3 254.1h0M52.2 255.1h0M71.4 255.3h0M82.5 255h0M85.7 255.5h0M92.8 255.1h0M69.4 256.4h0M97.8 256h0M102 256.2h0M106.7 256.4h0" stroke="#EE6680" stroke-width="1.15" stroke-linecap="round" fill="none"/>
<path d="M68.6 184.4h0M44.5 185.4h0M45.6 184.9h0M47.9 184.9h0M53.2 185.1h0M63.4 185.2h0M71.4 185.3h0M72.7 185.4h0M40.8 186.3h0M44 186.3h0M45.1 186.1h0M47 185.9h0M90.9 186h0M42.3 187.3h0M44.5 186.9h0M45.6 186.8h0M47.5 187.2h0M72.4 186.9h0M77.8 187.2h0M91.6 186.8h0M38.5 188.1h0M42.5 187.8h0M45.8 188h0M68.5 187.8h0M72.1 188.1h0M39.7 189.1h0M42.2 188.8h0M44.2 189h0M47.8 188.8h0M75.7 188.8h0M80 188.8h0M91.6 188.9h0M38.4 189.8h0M46.2 189.8h0M107.6 190.3h0M38.9 190.8h0M40.8 191.2h0M38.5 192h0M39.1 191.8h0M40.5 192h0M41.6 192.2h0M43.8 191.9h0M74.1 191.7h0M38.8 192.6h0M41 193h0M55.4 192.7h0M57.9 192.7h0M73.6 193.1h0M107 193.1h0M38.4 193.8h0M42.5 194h0M46.4 194h0M46.9 193.7h0M50.7 194h0M72 193.8h0M106.5 193.9h0M109.7 193.6h0M38.8 195h0M42.2 194.7h0M44.2 194.9h0M47.7 195h0M65.5 195.1h0M80.4 195h0M104.7 194.9h0M47.2 195.9h0M49.4 196h0M103.3 195.7h0M107.6 195.6h0M110 196.1h0M86 197h0M107.4 196.6h0M109.6 196.5h0M90 197.9h0M103.2 197.5h0M45.8 199h0M48.9 198.8h0M82.7 198.8h0M90.5 198.6h0M107 198.6h0M109.4 198.6h0M38.4 199.8h0M52.8 200h0M62.7 199.7h0M72.7 199.5h0M41.2 200.9h0M42.1 200.8h0M64.4 200.5h0M97.2 200.7h0M106.2 200.4h0M38 201.7h0M39.6 201.5h0M40.4 201.5h0M55.2 201.8h0M80.9 201.4h0M103.2 201.4h0M107.6 201.7h0M47.7 202.4h0M54.5 202.5h0M63.3 202.8h0M69.9 202.4h0M38.5 203.8h0M40.5 203.9h0M94.1 203.5h0M106.6 203.9h0M107.9 203.7h0M39.8 204.4h0M45.3 204.7h0M47.9 204.7h0M49.1 204.9h0M57.7 204.8h0M65.6 204.9h0M105.8 204.7h0M40.8 205.4h0M41.5 205.3h0M56.2 205.7h0M96.5 205.4h0M101 205.7h0M50 206.5h0M53.5 206.5h0M54.7 206.6h0M90.6 206.8h0M38.2 207.3h0M40.4 207.3h0M41.4 207.3h0M49.3 207.4h0M53 207.4h0M53.9 207.2h0M70.9 207.6h0M72.8 207.6h0M86.6 207.6h0M94.3 207.6h0M95.3 207.3h0M106.5 207.8h0M38.7 208.6h0M44.7 208.3h0M59.1 208.3h0M64.4 208.2h0M79 208.8h0M87.3 208.2h0M38.4 209.6h0M41.6 209.7h0M51.5 209.3h0M80.8 209.5h0M95.2 209.7h0M103.3 209.4h0M106.8 209.7h0M109.1 209.2h0M44.4 210.2h0M90 210.7h0M60.7 211.2h0M67.6 211.5h0M70.8 211.1h0M94.2 211.5h0M106.5 211.2h0M39.1 212.4h0M73.3 212.7h0M83.4 212.1h0M99.1 212.2h0M102.8 212.3h0M104.7 212.4h0M107 212.1h0M47.5 213.2h0M48.5 213.5h0M49.5 213.6h0M64.2 213.2h0M77.2 213.7h0M82.9 213.6h0M85.3 213.2h0M107.6 213.2h0M39.6 214.1h0M40.8 214.1h0M59.9 214.5h0M82.3 214.3h0M90.3 214.3h0M102.9 214.5h0M106.8 214.5h0M44.8 215.5h0M49.4 215.2h0M70.6 215.1h0M72.1 215h0M77.5 215.3h0M80.7 215.1h0M87.5 215.3h0M110.2 215.1h0M46.8 216.5h0M50.3 216.4h0M76.7 216.1h0M78.3 216.2h0M84.6 216.5h0M86 216.1h0M86.8 216.3h0M100.6 216.5h0M48.4 217.5h0M53 217.5h0M58.4 217h0M61.8 217.5h0M78.8 217.3h0M89.9 217.3h0M106.8 217.1h0M108.8 217h0M64.4 218.2h0M67.1 217.9h0M74.7 218h0M80.4 218h0M94.9 217.9h0M104.8 218.3h0M106 218.1h0M107.2 218.2h0M44.1 219.3h0M70.6 219.1h0M80.7 219.1h0M93.1 219.3h0M108.6 219h0M72.6 219.9h0M87 220.4h0M89 220.2h0M99.2 220h0M106 220h0M107.4 220.1h0M109.3 220.3h0M80.8 221.3h0M81.8 221.3h0M88.7 221.2h0M106.4 221.1h0M107.6 221.4h0M109.7 221.1h0M43.2 222.3h0M55.8 222.2h0M62.6 222.1h0M76 221.8h0M86.1 222.2h0M88.3 222.3h0M91.7 222h0M107 221.9h0M109.1 222.2h0M53.7 223.1h0M55.4 223h0M75.4 223h0M84 222.9h0M86.3 222.9h0M96.4 223.3h0M101 223.3h0M105.5 222.8h0M106.8 222.9h0M51 224.4h0M89.1 224h0M91.2 224h0M93.8 224.3h0M107 223.8h0M64 225.2h0M73.2 225h0M85 225.2h0M86.4 225.2h0M96.4 224.8h0M44.1 225.9h0M80.5 225.7h0M91.6 226.2h0M102.4 225.8h0M106.2 226.1h0M39.4 227.2h0M65.4 227.2h0M88.9 226.8h0M91.1 226.9h0M95.1 227.2h0M106.7 227.2h0M110 227.1h0M77.2 228.2h0M80.1 228.1h0M82.3 228.2h0M96.9 228.3h0M105 227.9h0M46.2 229.2h0M64 229h0M97.8 228.9h0M104.1 228.7h0M106.5 229.1h0M107.8 228.9h0M89.5 229.6h0M109.5 229.9h0M47.1 231.2h0M97.3 230.9h0M106.4 230.8h0M43.5 231.9h0M44.6 231.6h0M78.9 232h0M99.4 231.6h0M104.6 232h0M41.8 233h0M45.5 233.5h0M51.3 233.8h0M103.5 233.9h0M38.5 234.9h0M40.4 234.8h0M41.7 234.5h0M45.2 234.7h0M46 234.5h0M49.3 234.9h0M50.5 234.9h0M51.6 234.6h0M56.3 234.8h0M59.8 234.5h0M77.6 234.5h0M44.3 236h0M45.3 235.7h0M51.2 235.7h0M54.6 235.7h0M55.8 236h0M59 235.6h0M60.1 235.5h0M70.1 235.5h0M97 236.1h0M103.9 235.9h0M109.4 235.9h0M45.8 236.5h0M47 236.9h0M53 236.6h0M54.2 237h0M102.3 236.7h0M41.2 237.8h0M41.9 238h0M44.5 237.8h0M46.4 237.6h0M50 237.5h0M51.4 237.7h0M52.3 237.9h0M55.6 238h0M70 237.6h0M38.5 238.8h0M39.2 238.5h0M40.3 238.7h0M41.4 238.7h0M45 238.6h0M46.1 238.8h0M51.9 238.6h0M52.9 238.5h0M53.8 238.6h0M63 238.7h0M105.6 238.9h0M109.7 238.7h0M39.8 239.9h0M41 239.6h0M47.9 239.5h0M53.5 239.8h0M59.2 239.7h0M60.2 240h0M74.8 239.9h0M109.7 239.5h0M53 240.6h0M56.2 240.5h0M58.7 240.8h0M59.4 240.6h0M68.5 240.6h0M93 240.8h0M102.1 240.9h0M103 240.5h0M40 241.9h0M46.9 241.5h0M52.3 241.5h0M56.8 241.4h0M57.7 241.6h0M58.7 241.3h0M61.3 241.4h0M62.1 241.9h0M65.7 241.4h0M93.5 241.5h0M38.2 242.4h0M40.4 242.3h0M42.7 242.7h0M44.8 242.6h0M46.2 242.4h0M48.1 242.8h0M51.7 242.5h0M53 242.4h0M55.9 242.6h0M58.3 242.6h0M65.1 242.6h0M66 242.6h0M69.5 242.7h0M77.4 242.5h0M108 242.4h0M38.8 243.6h0M45.5 243.5h0M46.9 243.4h0M49.1 243.8h0M52 243.6h0M55.9 243.7h0M56.9 243.8h0M57.7 243.7h0M60.3 243.8h0M65.7 243.7h0M69.1 243.8h0M80.3 243.3h0M44.1 244.7h0M45.1 244.5h0M46.3 244.5h0M47.3 244.3h0M49.6 244.7h0M51.9 244.6h0M58.6 244.3h0M60.6 244.6h0M61.6 244.6h0M63.1 244.5h0M66.2 244.6h0M68.6 244.4h0M69.6 244.6h0M74.1 244.3h0M77.4 244.4h0M80 244.3h0M42.1 245.3h0M49.2 245.6h0M53.4 245.8h0M57.8 245.2h0M63.3 245.6h0M70.1 245.5h0M71 245.7h0M77 245.5h0M109.6 245.7h0M44.1 246.3h0M47.2 246.2h0M49.3 246.2h0M50.6 246.6h0M51.6 246.7h0M56.1 246.3h0M58.6 246.4h0M63.1 246.4h0M64 246.5h0M68.3 246.3h0M79.7 246.4h0M85.1 246.7h0M86.2 246.3h0M100 246.3h0M39.7 247.3h0M44.4 247.7h0M47.8 247.6h0M53.2 247.5h0M56.7 247.5h0M61.3 247.5h0M67.1 247.3h0M73.6 247.6h0M81.1 247.2h0M87.1 247.7h0M104 247.7h0M43 248.7h0M44.1 248.6h0M45.3 248.3h0M49.3 248.3h0M55.1 248.6h0M58.4 248.7h0M59.3 248.6h0M68.4 248.3h0M69.4 248.2h0M72.7 248.4h0M95.6 248.3h0M43.6 249.6h0M45.5 249.5h0M46.6 249.4h0M50.2 249.7h0M53.1 249.2h0M55.7 249.5h0M59.2 249.1h0M63.2 249.4h0M70.1 249.6h0M72.5 249.3h0M73.8 249.2h0M93.7 249.6h0M43.7 250.5h0M60.5 250.6h0M66.1 250.6h0M68.4 250.3h0M70.8 250.6h0M73.1 250.3h0M75 250.6h0M47.8 251.6h0M50.9 251.3h0M61.5 251.1h0M64.7 251.5h0M70.2 251.2h0M71 251.6h0M72.6 251.6h0M73.5 251.2h0M75.5 251.2h0M76.7 251.5h0M79.1 251.6h0M88.4 251.6h0M94.8 251.5h0M46.4 252.6h0M48.4 252.1h0M54 252.3h0M55 252.6h0M62.7 252.4h0M64.3 252.6h0M65.1 252.6h0M72.1 252.6h0M73.9 252.3h0M78.5 252.2h0M79.7 252.3h0M80.8 252.2h0M82 252.2h0M96.2 252.1h0M99.8 252.5h0M50.2 253.5h0M56.8 253.3h0M57.8 253.4h0M59.2 253.2h0M61.4 253.5h0M63.3 253.2h0M69.2 253.3h0M70.1 253.1h0M73.8 253.6h0M74.6 253.1h0M77 253.2h0M63.2 254.4h0M67.6 254.6h0M69.5 254h0M74 254.2h0M83 254.3h0M86.3 254.2h0M89.6 254.5h0M92.9 254.4h0M94.5 254.1h0M98.9 254.1h0M50 255.1h0M57 255.2h0M57.7 255.4h0M62.1 255.3h0M68.9 255.1h0M72.6 255.5h0M75.5 255.2h0M76.7 255.1h0M95.8 255.5h0M99.5 255.5h0M52.6 256.5h0M59.7 256.1h0M61.9 256h0M63 256.2h0M64.2 256.3h0M65.1 256.3h0M67.4 256.2h0M72.1 256.5h0M74.3 256.5h0M76.6 256.3h0M80.9 256.5h0M81.9 256.5h0M84.1 256.2h0M94.5 256h0M99.7 256.2h0M105.2 256.3h0" stroke="#7868EE" stroke-width="1.15" stroke-linecap="round" fill="none"/>
<path d="M83.4 183.9h0M54.7 185.4h0M93.5 185.2h0M73.3 187.1h0M93.9 187h0M102.6 187.1h0M89.7 187.8h0M99 188.2h0M104.2 188.3h0M94.9 189.3h0M43.3 190.7h0M44.5 191.2h0M101.7 190.8h0M44.5 193h0M80.4 193.2h0M84.3 193.8h0M50.1 194.6h0M59 194.7h0M71.5 194.9h0M78.1 194.7h0M57.2 195.7h0M81.9 196.1h0M96.3 196h0M79.1 196.7h0M83.8 196.9h0M95.6 196.9h0M106.1 197h0M48.2 197.7h0M97.7 197.7h0M106.4 197.6h0M39.7 198.5h0M44.5 198.9h0M93.5 198.5h0M106 198.6h0M108.1 198.8h0M93.1 199.6h0M105.6 199.8h0M107.7 199.8h0M109 200h0M107.3 200.9h0M109.3 200.5h0M101.1 201.4h0M108.7 201.5h0M67.8 202.9h0M80.2 202.5h0M106.9 202.7h0M107.2 204.6h0M68.4 205.5h0M80.7 205.7h0M86.7 205.6h0M86.7 206.5h0M109.6 206.7h0M42.7 207.4h0M107.4 207.6h0M83.4 208.4h0M70.3 210.7h0M85.4 211.3h0M88.4 211.3h0M50.2 212.6h0M66.2 213.1h0M46.7 214.6h0M96.8 214.1h0M101.8 214.4h0M103.9 214.1h0M51.7 215.2h0M54 215.4h0M104 215.5h0M106.7 215.3h0M42.2 216.4h0M45.5 216.6h0M63.4 216h0M66.9 216.4h0M70 216.5h0M107.4 216.6h0M40.5 217h0M69.8 217.2h0M96.4 217.4h0M42.3 218.5h0M52.2 218.4h0M90.9 218.9h0M96.6 219.4h0M102.1 219.1h0M44.5 220.5h0M67.7 220h0M83.4 220.2h0M108.5 220h0M43.9 221.1h0M53.7 221.4h0M104.4 221.3h0M80.5 221.9h0M65.4 223.2h0M74.1 223h0M85.1 223.2h0M63.4 224.1h0M98.2 224.4h0M57.2 224.9h0M68.7 224.8h0M47.8 225.8h0M93.5 226.3h0M96.2 225.8h0M50.9 226.8h0M52.7 226.9h0M54.8 226.9h0M81.1 226.9h0M107.6 227.2h0M46.9 228.2h0M73.7 227.7h0M48.6 230.2h0M70 229.7h0M108.5 229.7h0M51.8 230.7h0M70.6 230.9h0M81 230.7h0M95.3 230.8h0M96.4 231.1h0M104.2 231h0M72.9 232.6h0M105.4 232.7h0M40.1 234h0M98.2 233.8h0M105.2 233.7h0M72.1 234.9h0M46.4 235.6h0M78.2 235.7h0M83.5 236h0M39.1 236.5h0M103.2 236.5h0M72.3 237.8h0M100.7 237.8h0M42.6 238.7h0M43.8 238.9h0M87.2 239.8h0M39.5 240.9h0M46.1 240.9h0M57.4 240.6h0M62 240.9h0M71.6 240.6h0M94.3 240.5h0M39 241.8h0M81.5 241.8h0M49.6 242.6h0M47.7 243.4h0M63.3 243.6h0M94.6 243.8h0M101.6 243.4h0M40.7 244.4h0M50.4 244.3h0M71.8 244.7h0M97.7 244.6h0M95 245.4h0M108.1 245.5h0M103.4 246.6h0M45.8 247.5h0M59.1 247.7h0M106.9 247.2h0M108.4 247.4h0M103.8 249.4h0M52.6 250.3h0M58.7 250.7h0M64.9 250.1h0M95.8 251.6h0M104.9 251.7h0M48.1 254.4h0M52 256.4h0" stroke="#C95BE0" stroke-width="1.15" stroke-linecap="round" fill="none"/>
<path d="M40.7 183.9h0M41.7 183.9h0M55.3 184.3h0M57.1 184.3h0M65.1 184.4h0M77.5 183.9h0M40.2 185.3h0M51.3 185.3h0M75.8 185.3h0M79.3 185.3h0M91.7 185.4h0M99.1 184.9h0M39.6 186h0M41.5 185.8h0M42.5 186h0M50.6 186h0M53 186h0M53.6 186.3h0M59.8 186.3h0M66.6 186.2h0M77.5 186.1h0M89.5 186h0M39 186.8h0M40.1 186.9h0M41 187.1h0M46.5 186.8h0M51.4 187.3h0M52.2 187h0M59.1 186.8h0M63.4 187.3h0M64.7 187.2h0M81.6 187h0M83.6 186.9h0M89 187.2h0M95.7 187.2h0M99.6 187.2h0M100.5 186.9h0M103.9 186.9h0M45.1 188.2h0M52.8 187.8h0M54.1 188.2h0M57.3 187.8h0M63.8 187.7h0M76.4 188.3h0M77.7 187.9h0M82.9 187.8h0M90.8 188.1h0M38.6 189.3h0M40.8 188.9h0M45.7 189h0M46.7 189.3h0M49.1 188.8h0M62.2 189.3h0M64.7 188.7h0M69.3 188.9h0M82.3 189.3h0M84.7 188.7h0M86.8 188.7h0M41.6 189.9h0M50.5 190.2h0M54 189.9h0M54.9 189.8h0M56 189.7h0M64.1 190h0M68.8 190.3h0M75.3 190h0M79.6 189.8h0M83 190.2h0M84.3 190h0M92.2 190.2h0M96.6 189.9h0M97.4 189.9h0M103.4 189.7h0M42.1 190.9h0M46.9 190.9h0M58.1 191.1h0M64.5 191h0M73.7 190.8h0M77.8 190.9h0M83.4 191.2h0M84.9 191h0M86.9 190.9h0M96.8 191.2h0M42.6 191.8h0M47.2 191.6h0M64.2 191.8h0M69.8 191.7h0M77.5 191.9h0M88.7 191.7h0M91.2 192.1h0M95.6 191.7h0M97.7 192.2h0M99.8 192.1h0M103 192.2h0M49.1 192.6h0M62.6 192.8h0M68.8 193.1h0M79.4 192.6h0M81.4 192.8h0M82.6 193.1h0M92.6 192.8h0M98.2 192.9h0M99 192.9h0M101.5 193h0M102.4 193.1h0M104.9 192.9h0M105.9 193.1h0M43.6 194h0M67.2 194h0M69.6 193.6h0M80.8 194.1h0M83 193.8h0M85.2 194.1h0M86.5 194h0M88.7 193.7h0M98.9 194.1h0M99.9 193.7h0M101.9 193.9h0M104.5 193.6h0M57.7 194.7h0M60.1 194.7h0M62.3 194.8h0M63.5 195h0M68 195.1h0M73.6 194.6h0M74.8 194.9h0M76 195h0M76.8 194.9h0M79.4 194.9h0M91.6 194.8h0M92.6 194.6h0M93.6 194.6h0M105.7 194.9h0M40.7 195.6h0M64.9 195.9h0M72.8 195.9h0M76.5 195.8h0M86.2 196h0M97.7 196h0M99.8 195.6h0M64.4 196.8h0M72.3 196.9h0M73.5 196.8h0M76.8 196.5h0M96.9 196.5h0M99.3 196.8h0M101.7 196.8h0M103.8 196.8h0M65.2 197.9h0M70.9 198h0M77.2 197.8h0M82.8 197.7h0M84 197.9h0M85.1 197.8h0M86.7 197.6h0M88.5 197.8h0M104.6 197.9h0M105.4 197.9h0M59.3 198.5h0M78 198.5h0M78.9 198.7h0M85.8 199h0M96.2 198.9h0M102.7 198.8h0M103.6 198.5h0M41.4 200h0M69.6 199.8h0M75.5 199.8h0M77.4 199.5h0M82.2 199.7h0M84 199.6h0M86.5 199.9h0M88.5 199.8h0M91.1 199.7h0M97.4 199.7h0M71.2 200.5h0M73.8 200.9h0M77 200.4h0M78 200.9h0M80.5 200.7h0M82.6 201h0M89.1 200.9h0M90.1 200.9h0M93.8 200.8h0M99.6 200.7h0M100.5 200.6h0M102.7 200.4h0M41.7 201.5h0M71.7 201.9h0M72.7 201.4h0M73.8 201.7h0M83.9 201.4h0M88.8 201.4h0M90.6 201.8h0M73.8 202.6h0M76 202.4h0M78.2 202.7h0M83.8 202.7h0M91.4 202.5h0M101.5 202.3h0M75.3 203.5h0M83.3 203.9h0M83.9 203.5h0M87.7 203.4h0M98.7 203.4h0M41.3 204.4h0M42.3 204.9h0M73.8 204.8h0M78 204.7h0M79 204.6h0M81.1 204.7h0M84.6 204.6h0M99.2 204.7h0M100.3 204.7h0M103.9 204.4h0M75.4 205.4h0M84.2 205.8h0M85.5 205.7h0M103.4 205.8h0M38.6 206.4h0M101.8 206.7h0M108.5 206.4h0M68.5 207.2h0M77.2 207.7h0M100.8 207.4h0M105.2 207.3h0M71.6 208.5h0M75.9 208.4h0M76.8 208.7h0M101.4 208.7h0M105.1 208.5h0M109.4 208.5h0M65.2 209.3h0M67.6 209.4h0M74 209.6h0M104.1 209.7h0M73.5 210.1h0M80.5 210.7h0M83.8 210.7h0M102.7 210.3h0M66 211.4h0M68.5 211.4h0M96.5 211.2h0M97.8 211.6h0M62.4 212.7h0M63.7 212.4h0M64.4 212.3h0M69 212.4h0M70.4 212.3h0M71.1 212.2h0M75.7 212.2h0M79.1 212.4h0M94.9 212.6h0M56 213.4h0M58.4 213.4h0M68.3 213.5h0M71.8 213.3h0M74 213.3h0M79.7 213.4h0M81 213.6h0M84.1 213.1h0M93.2 213.6h0M104.4 213.4h0M61.4 214.3h0M71.4 214.6h0M72.2 214.3h0M73.4 214.2h0M86 214.5h0M93.4 214.6h0M96.1 214.3h0M100.6 214.4h0M104.8 214.2h0M38 215.4h0M39.2 215.3h0M46.9 215.3h0M62.8 215.1h0M68.7 215.2h0M73.8 215.6h0M76.5 215.6h0M85.5 215.1h0M92.2 215.1h0M95.4 215.2h0M96.3 215.4h0M99.9 215.4h0M101.8 215.2h0M40.2 216.1h0M41.2 216.6h0M59.2 216h0M68.9 216.6h0M72.1 216.2h0M73.3 216.3h0M75.6 216.2h0M82.6 216.4h0M92.8 216.2h0M59.2 217.5h0M62.7 217h0M63.9 217.4h0M65 217.5h0M67.7 217.5h0M73.1 217h0M80.6 217.2h0M91.8 217.1h0M98.6 217.2h0M103.2 217h0M104.6 217h0M105.3 217.2h0M107.9 217.5h0M44.4 218.3h0M47.8 218.4h0M48.9 218.4h0M59.9 218h0M62.6 218.2h0M63.7 218.5h0M65.5 218.3h0M70.2 218.2h0M71.5 218.2h0M81.4 218.5h0M83.8 218.5h0M84.8 218.5h0M91.2 218.4h0M96.2 218h0M98.3 218.4h0M99.1 218h0M38.1 219.4h0M39.2 219.3h0M41.7 219.1h0M48.5 219.5h0M67.5 219h0M75.1 219.2h0M76.6 219.3h0M82.8 219h0M85.4 219.2h0M103.4 219h0M109.8 219.3h0M47.5 220.2h0M53.2 220.1h0M54.5 220.4h0M58.8 219.9h0M69.1 220h0M70.4 220.2h0M80.3 220h0M82.8 220.3h0M92.4 220.3h0M96.2 220.2h0M97.1 219.9h0M103.8 220.3h0M42.5 221h0M49.5 221.4h0M51.5 221h0M57.3 221.2h0M67.2 220.9h0M74.1 221.4h0M77.2 221.4h0M90.7 221.2h0M96.3 221h0M97.8 221.3h0M99.7 221.4h0M100.8 221.3h0M103.3 221.4h0M39.8 222.2h0M45.7 222.4h0M53.6 222h0M54.5 222.4h0M59.3 221.9h0M70.2 222.4h0M101.6 222.1h0M38.2 223.3h0M44.1 223.3h0M57.4 223.2h0M76.1 223.1h0M92.1 222.8h0M95.4 223.3h0M98.9 223.1h0M103.1 223.3h0M43.1 224.4h0M44.4 224h0M49.1 223.9h0M50.3 224.3h0M58.7 224h0M64.6 224.3h0M65.5 224.3h0M66.7 224.2h0M69.4 224.4h0M70 224.2h0M71.1 223.9h0M72.1 224h0M97.1 224.1h0M100.6 224.4h0M101.4 223.9h0M102.8 224.2h0M104 223.9h0M39.6 225.1h0M42.8 225.2h0M51.9 225.2h0M54 225.1h0M56.1 225.3h0M59.4 225h0M65.3 224.9h0M67.2 225.2h0M75.5 224.9h0M92.1 225h0M97.4 225.1h0M100.7 224.8h0M101.9 225h0M42.3 225.9h0M45.5 225.8h0M77 226.1h0M104.6 226.1h0M107.2 226.3h0M43.6 227.2h0M57.4 227.2h0M73.2 227.2h0M73.8 226.9h0M84.2 226.8h0M97.7 227.3h0M98.8 227.1h0M101 227h0M38.8 228h0M44.5 228.2h0M48.8 227.9h0M56.8 228h0M57.9 228.3h0M60.2 227.7h0M64.8 228h0M67.9 227.8h0M86.1 228h0M94.8 228.3h0M96.2 228.1h0M99.6 227.7h0M100.3 227.9h0M102.7 228.1h0M104.1 227.8h0M44.9 228.8h0M47 228.8h0M57 229h0M58.2 229.1h0M73.1 229h0M78.3 228.9h0M100 229.1h0M105.5 228.7h0M53.5 229.8h0M64.5 229.9h0M93.8 230h0M96.8 230.2h0M102.9 230h0M105.8 229.7h0M49.7 231.2h0M52.9 230.6h0M54 230.6h0M69.4 230.7h0M71.6 230.7h0M72.9 230.9h0M82.9 230.9h0M85.2 230.9h0M94.4 231.2h0M98.6 230.7h0M100.8 230.8h0M102 231.2h0M103.3 231.1h0M109.8 230.7h0M58.9 232h0M68.8 231.7h0M80.2 231.9h0M81.2 231.6h0M87 232.1h0M38 233h0M39.5 233.1h0M46.9 233.1h0M51.9 233.1h0M55.3 232.9h0M60.5 232.7h0M67.7 232.9h0M69.6 232.8h0M78.8 232.6h0M82.9 233.1h0M85 232.8h0M89.9 232.9h0M95.5 233h0M96.4 233.1h0M102 233h0M103.4 232.8h0M38.7 233.8h0M40.9 233.8h0M43.2 233.7h0M46.6 233.6h0M88.1 233.7h0M91.5 233.7h0M39.6 234.6h0M42.5 234.8h0M43.8 234.5h0M52.9 234.9h0M54.8 234.9h0M60.4 234.8h0M74.1 234.7h0M76.5 234.8h0M79.7 234.9h0M80.5 234.6h0M83 234.5h0M87.4 234.8h0M95.5 234.9h0M96.2 234.7h0M40 235.8h0M41 235.6h0M43.5 236.1h0M48 235.9h0M61 235.7h0M67.8 235.5h0M85.9 235.5h0M42.7 236.6h0M50.6 236.7h0M61.9 236.7h0M62.7 236.5h0M63.8 237h0M71.6 236.4h0M73.2 236.8h0M75.1 236.7h0M88.9 236.8h0M93.3 236.9h0M97.5 237h0M38.7 237.5h0M45.8 237.9h0M48.9 237.5h0M61.1 237.6h0M62.1 237.6h0M65.7 237.8h0M68.9 237.9h0M71.5 237.7h0M75.6 237.7h0M81.5 237.8h0M83.6 237.5h0M84.7 238h0M48.4 238.9h0M55.2 238.7h0M55.9 238.8h0M57.1 239h0M63.8 238.5h0M68.3 238.4h0M72 238.6h0M82 238.5h0M85 238.6h0M89.8 238.9h0M92.3 239h0M98.7 238.5h0M42.4 239.7h0M51 239.7h0M52 239.7h0M55.7 239.5h0M77.8 239.5h0M96.2 239.5h0M104.9 239.4h0M40.5 240.5h0M41.3 240.5h0M42.7 240.7h0M48.1 240.8h0M55.2 240.6h0M60.8 240.9h0M63 240.9h0M84 240.7h0M87.6 240.4h0M96.4 240.3h0M98.6 240.7h0M40.9 241.8h0M55.8 241.5h0M59.9 241.9h0M77.9 241.4h0M80.3 241.8h0M87.9 241.5h0M95.1 241.6h0M96.2 241.7h0M98.4 241.7h0M41.6 242.4h0M43.6 242.3h0M47.4 242.8h0M59.3 242.6h0M62.9 242.4h0M85.5 242.6h0M88.5 242.6h0M93.1 242.4h0M98.4 242.7h0M103.5 242.8h0M41.9 243.6h0M49.9 243.8h0M53.3 243.7h0M64.8 243.6h0M67 243.4h0M68.1 243.8h0M91.6 243.3h0M102.8 243.8h0M39.1 244.6h0M41.8 244.5h0M42.7 244.5h0M48.2 244.6h0M53 244.5h0M55.1 244.5h0M55.9 244.3h0M59.4 244.4h0M65.3 244.3h0M88.6 244.8h0M93 244.5h0M101.9 244.4h0M108.7 244.5h0M41 245.8h0M44.2 245.4h0M45.3 245.2h0M49.8 245.6h0M54.3 245.7h0M55.3 245.3h0M59.8 245.4h0M61.3 245.4h0M62.5 245.6h0M64.4 245.6h0M66.5 245.7h0M68.2 245.6h0M68.9 245.6h0M93.7 245.5h0M99.1 245.7h0M101.8 245.4h0M103.5 245.5h0M107 245.3h0M38.3 246.5h0M40.7 246.5h0M41.9 246.8h0M44.9 246.2h0M46 246.3h0M52.7 246.3h0M57.6 246.6h0M67.2 246.8h0M70.7 246.5h0M72 246.3h0M89.5 246.4h0M91.9 246.2h0M107.9 246.4h0M41.2 247.5h0M43.1 247.3h0M46.9 247.3h0M48.7 247.2h0M49.9 247.6h0M52.1 247.3h0M54.6 247.2h0M55.4 247.2h0M57.7 247.5h0M64.8 247.3h0M70.4 247.2h0M72.3 247.6h0M74.6 247.7h0M99.4 247.7h0M101.5 247.7h0M106.3 247.7h0M40.4 248.6h0M47.1 248.7h0M48.1 248.2h0M51.6 248.3h0M53.9 248.2h0M55.9 248.2h0M60.7 248.5h0M62.7 248.6h0M66.3 248.7h0M67.5 248.2h0M76.2 248.7h0M101 248.5h0M103.5 248.5h0M40.1 249.6h0M41 249.7h0M42.3 249.4h0M48 249.6h0M48.9 249.7h0M56.4 249.5h0M57.7 249.5h0M60.9 249.4h0M62.3 249.2h0M65.8 249.2h0M71.4 249.4h0M97 249.4h0M99.3 249.6h0M100.4 249.3h0M101.5 249.5h0M106.2 249.6h0M41.7 250.3h0M45.2 250.7h0M51.6 250.5h0M54.8 250.2h0M57.3 250.3h0M62.9 250.4h0M67.3 250.2h0M74.3 250.2h0M77.7 250.1h0M78.6 250.2h0M104.1 250.4h0M107.7 250.3h0M45.6 251.1h0M48.9 251.3h0M53.4 251.1h0M55.6 251.4h0M56.8 251.1h0M62.2 251.7h0M68.9 251.4h0M78 251.2h0M107.2 251.4h0M50.6 252.4h0M52.5 252.5h0M57 252.3h0M61.8 252.5h0M67.5 252.6h0M68.3 252.2h0M75.5 252.2h0M77.4 252.6h0M104.2 252.3h0M105.2 252.2h0M47.9 253.5h0M48.8 253.5h0M50.9 253.2h0M52.5 253.1h0M55.8 253.5h0M59.9 253.1h0M71.4 253.2h0M72.5 253.1h0M75.6 253.5h0M96.2 253.5h0M102.4 253.1h0M105.2 253h0M107.2 253.4h0M51.8 254.1h0M53.1 254.4h0M55 254.4h0M57.2 254.3h0M59.5 254.1h0M60.5 254.4h0M66.3 254.5h0M68.7 254.1h0M73.2 254.4h0M75.1 254h0M78.6 254.5h0M79.9 254.3h0M82.2 254.5h0M51.1 255.5h0M53.4 255.2h0M55.5 255h0M58.7 255.3h0M60.1 255.1h0M64.7 255.3h0M65.6 255.2h0M66.5 255.4h0M70.2 255.4h0M73.8 255.3h0M74.4 255.4h0M78.1 255.1h0M78.9 255.4h0M101.3 255.1h0M54.8 256.5h0M56.2 256h0M58.5 256.3h0M66.4 256.4h0M79.5 256.2h0M104.4 256.2h0" stroke="#DCD2E6" stroke-width="1.15" stroke-linecap="round" fill="none"/>
</g>
<path d="M34.3 183.2V259.6H112" fill="none" stroke="#bbb" stroke-width="0.5"/>
<line x1="37.7" y1="259.6" x2="37.7" y2="260.8" stroke="#999" stroke-width="0.4"/>
<text x="37.7" y="266.2" font-size="5.2" fill="#222" text-anchor="middle">0</text>
<line x1="66.5" y1="259.6" x2="66.5" y2="260.8" stroke="#999" stroke-width="0.4"/>
<text x="66.5" y="266.2" font-size="5.2" fill="#222" text-anchor="middle">50</text>
<line x1="94.5" y1="259.6" x2="94.5" y2="260.8" stroke="#999" stroke-width="0.4"/>
<text x="94.5" y="266.2" font-size="5.2" fill="#222" text-anchor="middle">100</text>
<line x1="33.1" y1="184" x2="34.3" y2="184" stroke="#999" stroke-width="0.4"/>
<text x="32.3" y="185.8" font-size="5.2" fill="#222" text-anchor="end">0</text>
<line x1="33.1" y1="202.8" x2="34.3" y2="202.8" stroke="#999" stroke-width="0.4"/>
<text x="32.3" y="204.6" font-size="5.2" fill="#222" text-anchor="end">-20</text>
<line x1="33.1" y1="221.5" x2="34.3" y2="221.5" stroke="#999" stroke-width="0.4"/>
<text x="32.3" y="223.3" font-size="5.2" fill="#222" text-anchor="end">-40</text>
<line x1="33.1" y1="240.2" x2="34.3" y2="240.2" stroke="#999" stroke-width="0.4"/>
<text x="32.3" y="242" font-size="5.2" fill="#222" text-anchor="end">-60</text>
<line x1="33.1" y1="259" x2="34.3" y2="259" stroke="#999" stroke-width="0.4"/>
<text x="32.3" y="260.8" font-size="5.2" fill="#222" text-anchor="end">-80</text>
<text x="81" y="180.6" font-size="5.8" fill="#111" text-anchor="middle" font-weight="bold">MIF_CD74</text>
<text x="17.3" y="221.8" font-size="10.8" fill="#111" text-anchor="middle" transform="rotate(-90 17.3 221.8)" textLength="33.6" lengthAdjust="spacingAndGlyphs">BRCA1</text>
<rect x="59" y="208.9" width="26.2" height="12" fill="none" stroke="#333" stroke-width="0.5"/>
<rect x="90.3" y="212.7" width="16.1" height="19.9" fill="none" stroke="#333" stroke-width="0.5"/>
<line x1="85.2" y1="208.9" x2="121.72" y2="196.76" stroke="#222" stroke-width="0.45"/><polygon points="124,196 122.04,197.71 121.4,195.8" fill="#222"/>
<line x1="106.4" y1="232.8" x2="124.6" y2="232.8" stroke="#222" stroke-width="0.45"/><polygon points="127,232.8 124.6,233.81 124.6,231.79" fill="#222"/>
<rect x="124.5" y="185.1" width="57.2" height="26.1" fill="#EBD6E8" stroke="#333" stroke-width="0.8"/>
<path d="M125.4 186h0M127 186h0M128.5 186h0M130.1 186h0M131.6 186h0M133.2 186h0M134.7 186h0M136.3 186h0M137.8 186h0M140.9 186h0M142.5 186h0M144 186h0M145.6 186h0M147.1 186h0M148.7 186h0M151.8 186h0M153.3 186h0M154.9 186h0M156.4 186h0M158 186h0M159.5 186h0M161.1 186h0M162.6 186h0M165.7 186h0M167.3 186h0M170.4 186h0M173.5 186h0M175 186h0M176.6 186h0M178.1 186h0M179.7 186h0M126.2 187.4h0M127.8 187.4h0M129.3 187.4h0M132.4 187.4h0M134 187.4h0M138.6 187.4h0M140.2 187.4h0M141.7 187.4h0M143.3 187.4h0M144.8 187.4h0M146.4 187.4h0M147.9 187.4h0M149.5 187.4h0M151 187.4h0M152.6 187.4h0M154.1 187.4h0M155.7 187.4h0M157.2 187.4h0M158.8 187.4h0M160.3 187.4h0M165 187.4h0M168.1 187.4h0M169.6 187.4h0M171.2 187.4h0M172.7 187.4h0M174.3 187.4h0M175.8 187.4h0M177.4 187.4h0M178.9 187.4h0M180.5 187.4h0M127 188.7h0M128.5 188.7h0M130.1 188.7h0M131.6 188.7h0M134.7 188.7h0M137.8 188.7h0M139.4 188.7h0M140.9 188.7h0M142.5 188.7h0M144 188.7h0M145.6 188.7h0M147.1 188.7h0M148.7 188.7h0M151.8 188.7h0M153.3 188.7h0M154.9 188.7h0M156.4 188.7h0M158 188.7h0M161.1 188.7h0M168.8 188.7h0M170.4 188.7h0M171.9 188.7h0M173.5 188.7h0M175 188.7h0M176.6 188.7h0M126.2 190.1h0M127.8 190.1h0M129.3 190.1h0M130.9 190.1h0M132.4 190.1h0M134 190.1h0M138.6 190.1h0M141.7 190.1h0M143.3 190.1h0M144.8 190.1h0M147.9 190.1h0M149.5 190.1h0M154.1 190.1h0M166.5 190.1h0M171.2 190.1h0M172.7 190.1h0M174.3 190.1h0M177.4 190.1h0M127 191.4h0M128.5 191.4h0M130.1 191.4h0M131.6 191.4h0M133.2 191.4h0M134.7 191.4h0M136.3 191.4h0M137.8 191.4h0M140.9 191.4h0M142.5 191.4h0M145.6 191.4h0M147.1 191.4h0M148.7 191.4h0M150.2 191.4h0M153.3 191.4h0M164.2 191.4h0M167.3 191.4h0M170.4 191.4h0M173.5 191.4h0M175 191.4h0M176.6 191.4h0M179.7 191.4h0M126.2 192.8h0M127.8 192.8h0M129.3 192.8h0M132.4 192.8h0M134 192.8h0M135.5 192.8h0M138.6 192.8h0M140.2 192.8h0M141.7 192.8h0M143.3 192.8h0M144.8 192.8h0M146.4 192.8h0M147.9 192.8h0M149.5 192.8h0M151 192.8h0M154.1 192.8h0M158.8 192.8h0M174.3 192.8h0M175.8 192.8h0M177.4 192.8h0M178.9 192.8h0M180.5 192.8h0M128.5 194.1h0M131.6 194.1h0M133.2 194.1h0M134.7 194.1h0M136.3 194.1h0M137.8 194.1h0M140.9 194.1h0M142.5 194.1h0M144 194.1h0M145.6 194.1h0M147.1 194.1h0M148.7 194.1h0M150.2 194.1h0M164.2 194.1h0M168.8 194.1h0M170.4 194.1h0M173.5 194.1h0M175 194.1h0M176.6 194.1h0M178.1 194.1h0M179.7 194.1h0M127.8 195.5h0M129.3 195.5h0M130.9 195.5h0M132.4 195.5h0M135.5 195.5h0M137.1 195.5h0M138.6 195.5h0M140.2 195.5h0M141.7 195.5h0M144.8 195.5h0M146.4 195.5h0M149.5 195.5h0M151 195.5h0M158.8 195.5h0M161.9 195.5h0M163.4 195.5h0M168.1 195.5h0M169.6 195.5h0M172.7 195.5h0M174.3 195.5h0M177.4 195.5h0M178.9 195.5h0M180.5 195.5h0M131.6 196.8h0M133.2 196.8h0M136.3 196.8h0M137.8 196.8h0M139.4 196.8h0M140.9 196.8h0M145.6 196.8h0M148.7 196.8h0M151.8 196.8h0M154.9 196.8h0M179.7 196.8h0M126.2 198.2h0M132.4 198.2h0M134 198.2h0M135.5 198.2h0M138.6 198.2h0M140.2 198.2h0M141.7 198.2h0M143.3 198.2h0M144.8 198.2h0M146.4 198.2h0M163.4 198.2h0M180.5 198.2h0M131.6 199.5h0M133.2 199.5h0M134.7 199.5h0M136.3 199.5h0M137.8 199.5h0M139.4 199.5h0M140.9 199.5h0M144 199.5h0M148.7 199.5h0M154.9 199.5h0M168.8 199.5h0M178.1 199.5h0M179.7 199.5h0M127.8 200.9h0M134 200.9h0M143.3 200.9h0M154.1 200.9h0M158.8 200.9h0M161.9 200.9h0M166.5 200.9h0M174.3 200.9h0M130.1 202.2h0M131.6 202.2h0M134.7 202.2h0M136.3 202.2h0M144 202.2h0M162.6 202.2h0M175 202.2h0M179.7 202.2h0M137.1 203.6h0M144.8 203.6h0M146.4 203.6h0M147.9 203.6h0M151 203.6h0M154.1 203.6h0M165 203.6h0M166.5 203.6h0M175.8 203.6h0M180.5 203.6h0M128.5 204.9h0M131.6 204.9h0M137.8 204.9h0M139.4 204.9h0M145.6 204.9h0M153.3 204.9h0M156.4 204.9h0M178.1 204.9h0M158.8 206.3h0M161.9 206.3h0M172.7 206.3h0M180.5 206.3h0M125.4 207.6h0M140.9 207.6h0M145.6 207.6h0M147.1 207.6h0M148.7 207.6h0M158 207.6h0M159.5 207.6h0M134 209h0M138.6 209h0M155.7 209h0M165 209h0M168.1 209h0M169.6 209h0M174.3 209h0M175.8 209h0M178.9 209h0M127 210.3h0M130.1 210.3h0M133.2 210.3h0M137.8 210.3h0M142.5 210.3h0M145.6 210.3h0M147.1 210.3h0M151.8 210.3h0M156.4 210.3h0M159.5 210.3h0" stroke="#DCCBE4" stroke-width="1.27" stroke-linecap="round" fill="none"/>
<path d="M171.9 186h0M130.9 187.4h0M135.5 187.4h0M137.1 187.4h0M166.5 187.4h0M136.3 188.7h0M150.2 188.7h0M159.5 188.7h0M162.6 188.7h0M165.7 188.7h0M167.3 188.7h0M179.7 188.7h0M155.7 190.1h0M157.2 190.1h0M158.8 190.1h0M161.9 190.1h0M163.4 190.1h0M168.1 190.1h0M169.6 190.1h0M175.8 190.1h0M178.9 190.1h0M180.5 190.1h0M125.4 191.4h0M144 191.4h0M151.8 191.4h0M154.9 191.4h0M158 191.4h0M159.5 191.4h0M161.1 191.4h0M162.6 191.4h0M165.7 191.4h0M168.8 191.4h0M178.1 191.4h0M130.9 192.8h0M152.6 192.8h0M155.7 192.8h0M157.2 192.8h0M160.3 192.8h0M161.9 192.8h0M165 192.8h0M166.5 192.8h0M169.6 192.8h0M171.2 192.8h0M151.8 194.1h0M153.3 194.1h0M154.9 194.1h0M156.4 194.1h0M159.5 194.1h0M161.1 194.1h0M162.6 194.1h0M165.7 194.1h0M167.3 194.1h0M171.9 194.1h0M126.2 195.5h0M152.6 195.5h0M155.7 195.5h0M157.2 195.5h0M160.3 195.5h0M166.5 195.5h0M175.8 195.5h0M125.4 196.8h0M127 196.8h0M128.5 196.8h0M134.7 196.8h0M142.5 196.8h0M150.2 196.8h0M153.3 196.8h0M156.4 196.8h0M159.5 196.8h0M161.1 196.8h0M165.7 196.8h0M167.3 196.8h0M168.8 196.8h0M170.4 196.8h0M175 196.8h0M176.6 196.8h0M178.1 196.8h0M127.8 198.2h0M129.3 198.2h0M130.9 198.2h0M137.1 198.2h0M147.9 198.2h0M149.5 198.2h0M151 198.2h0M152.6 198.2h0M155.7 198.2h0M160.3 198.2h0M161.9 198.2h0M165 198.2h0M168.1 198.2h0M171.2 198.2h0M172.7 198.2h0M175.8 198.2h0M125.4 199.5h0M127 199.5h0M130.1 199.5h0M142.5 199.5h0M145.6 199.5h0M147.1 199.5h0M150.2 199.5h0M151.8 199.5h0M153.3 199.5h0M158 199.5h0M159.5 199.5h0M161.1 199.5h0M165.7 199.5h0M167.3 199.5h0M170.4 199.5h0M171.9 199.5h0M173.5 199.5h0M175 199.5h0M176.6 199.5h0M126.2 200.9h0M129.3 200.9h0M130.9 200.9h0M137.1 200.9h0M138.6 200.9h0M140.2 200.9h0M141.7 200.9h0M146.4 200.9h0M147.9 200.9h0M149.5 200.9h0M152.6 200.9h0M155.7 200.9h0M157.2 200.9h0M160.3 200.9h0M163.4 200.9h0M168.1 200.9h0M169.6 200.9h0M172.7 200.9h0M175.8 200.9h0M177.4 200.9h0M178.9 200.9h0M180.5 200.9h0M125.4 202.2h0M128.5 202.2h0M133.2 202.2h0M137.8 202.2h0M140.9 202.2h0M142.5 202.2h0M145.6 202.2h0M147.1 202.2h0M148.7 202.2h0M150.2 202.2h0M151.8 202.2h0M153.3 202.2h0M154.9 202.2h0M156.4 202.2h0M158 202.2h0M159.5 202.2h0M161.1 202.2h0M164.2 202.2h0M165.7 202.2h0M167.3 202.2h0M168.8 202.2h0M170.4 202.2h0M171.9 202.2h0M176.6 202.2h0M126.2 203.6h0M127.8 203.6h0M132.4 203.6h0M134 203.6h0M138.6 203.6h0M140.2 203.6h0M141.7 203.6h0M143.3 203.6h0M149.5 203.6h0M155.7 203.6h0M157.2 203.6h0M158.8 203.6h0M160.3 203.6h0M163.4 203.6h0M168.1 203.6h0M169.6 203.6h0M172.7 203.6h0M174.3 203.6h0M177.4 203.6h0M178.9 203.6h0M130.1 204.9h0M133.2 204.9h0M134.7 204.9h0M142.5 204.9h0M144 204.9h0M147.1 204.9h0M148.7 204.9h0M150.2 204.9h0M151.8 204.9h0M159.5 204.9h0M161.1 204.9h0M162.6 204.9h0M164.2 204.9h0M165.7 204.9h0M171.9 204.9h0M173.5 204.9h0M175 204.9h0M176.6 204.9h0M179.7 204.9h0M126.2 206.3h0M127.8 206.3h0M129.3 206.3h0M130.9 206.3h0M132.4 206.3h0M134 206.3h0M135.5 206.3h0M137.1 206.3h0M138.6 206.3h0M140.2 206.3h0M141.7 206.3h0M143.3 206.3h0M144.8 206.3h0M146.4 206.3h0M151 206.3h0M152.6 206.3h0M154.1 206.3h0M155.7 206.3h0M165 206.3h0M166.5 206.3h0M169.6 206.3h0M171.2 206.3h0M174.3 206.3h0M175.8 206.3h0M177.4 206.3h0M178.9 206.3h0M127 207.6h0M128.5 207.6h0M130.1 207.6h0M131.6 207.6h0M133.2 207.6h0M134.7 207.6h0M136.3 207.6h0M137.8 207.6h0M139.4 207.6h0M144 207.6h0M150.2 207.6h0M156.4 207.6h0M161.1 207.6h0M162.6 207.6h0M164.2 207.6h0M165.7 207.6h0M168.8 207.6h0M173.5 207.6h0M175 207.6h0M178.1 207.6h0M179.7 207.6h0M126.2 209h0M127.8 209h0M129.3 209h0M130.9 209h0M132.4 209h0M137.1 209h0M140.2 209h0M141.7 209h0M143.3 209h0M144.8 209h0M146.4 209h0M149.5 209h0M151 209h0M154.1 209h0M157.2 209h0M158.8 209h0M160.3 209h0M163.4 209h0M166.5 209h0M171.2 209h0M177.4 209h0M180.5 209h0M128.5 210.3h0M131.6 210.3h0M134.7 210.3h0M136.3 210.3h0M140.9 210.3h0M144 210.3h0M150.2 210.3h0M154.9 210.3h0M158 210.3h0M161.1 210.3h0M162.6 210.3h0M165.7 210.3h0M167.3 210.3h0M170.4 210.3h0M171.9 210.3h0M173.5 210.3h0M175 210.3h0M176.6 210.3h0M178.1 210.3h0M179.7 210.3h0" stroke="#F04A6A" stroke-width="1.27" stroke-linecap="round" fill="none"/>
<path d="M139.4 186h0M150.2 186h0M164.2 186h0M168.8 186h0M161.9 187.4h0M163.4 187.4h0M125.4 188.7h0M133.2 188.7h0M164.2 188.7h0M178.1 188.7h0M151 190.1h0M152.6 190.1h0M139.4 191.4h0M156.4 191.4h0M171.9 191.4h0M168.1 192.8h0M130.1 194.1h0M134 195.5h0M154.1 195.5h0M165 195.5h0M171.2 195.5h0M147.1 196.8h0M158 196.8h0M171.9 196.8h0M154.1 198.2h0M158.8 198.2h0M166.5 198.2h0M169.6 198.2h0M177.4 198.2h0M162.6 199.5h0M164.2 199.5h0M132.4 200.9h0M144.8 200.9h0M178.1 202.2h0M152.6 203.6h0M136.3 204.9h0M154.9 204.9h0M168.8 204.9h0M170.4 204.9h0M147.9 206.3h0M149.5 206.3h0M160.3 206.3h0M163.4 206.3h0M168.1 206.3h0M142.5 207.6h0M167.3 207.6h0M170.4 207.6h0M171.9 207.6h0M135.5 209h0M172.7 209h0M139.4 210.3h0M164.2 210.3h0M168.8 210.3h0" stroke="#5A50F0" stroke-width="1.27" stroke-linecap="round" fill="none"/>
<path d="M135.5 190.1h0M137.1 190.1h0M140.2 190.1h0M146.4 190.1h0M160.3 190.1h0M165 190.1h0M137.1 192.8h0M163.4 192.8h0M172.7 192.8h0M125.4 194.1h0M127 194.1h0M139.4 194.1h0M158 194.1h0M143.3 195.5h0M147.9 195.5h0M130.1 196.8h0M144 196.8h0M162.6 196.8h0M164.2 196.8h0M173.5 196.8h0M157.2 198.2h0M174.3 198.2h0M178.9 198.2h0M128.5 199.5h0M156.4 199.5h0M135.5 200.9h0M151 200.9h0M165 200.9h0M171.2 200.9h0M127 202.2h0M139.4 202.2h0M173.5 202.2h0M129.3 203.6h0M130.9 203.6h0M135.5 203.6h0M161.9 203.6h0M171.2 203.6h0M125.4 204.9h0M127 204.9h0M140.9 204.9h0M158 204.9h0M167.3 204.9h0M157.2 206.3h0M151.8 207.6h0M153.3 207.6h0M154.9 207.6h0M176.6 207.6h0M147.9 209h0M152.6 209h0M161.9 209h0M125.4 210.3h0M148.7 210.3h0M153.3 210.3h0" stroke="#F040E0" stroke-width="1.27" stroke-linecap="round" fill="none"/>
<rect x="127.9" y="216.3" width="33.8" height="44.9" fill="#EBD6E8" stroke="#333" stroke-width="0.8"/>
<path d="M130.4 217.2h0M131.9 217.2h0M135 217.2h0M136.6 217.2h0M141.2 217.2h0M142.8 217.2h0M145.9 217.2h0M150.5 217.2h0M153.6 217.2h0M155.2 217.2h0M137.4 218.6h0M145.1 218.6h0M146.7 218.6h0M149.8 218.6h0M152.9 218.6h0M156 218.6h0M135 219.9h0M139.7 219.9h0M156.7 219.9h0M159.8 219.9h0M129.6 221.3h0M132.7 221.3h0M135.8 221.3h0M137.4 221.3h0M138.9 221.3h0M148.2 221.3h0M157.5 221.3h0M159.1 221.3h0M128.8 222.6h0M131.9 222.6h0M138.1 222.6h0M144.3 222.6h0M145.9 222.6h0M150.5 222.6h0M153.6 222.6h0M132.7 224h0M134.3 224h0M138.9 224h0M142 224h0M145.1 224h0M148.2 224h0M157.5 224h0M130.4 225.3h0M133.5 225.3h0M136.6 225.3h0M145.9 225.3h0M149 225.3h0M150.5 225.3h0M152.1 225.3h0M153.6 225.3h0M129.6 226.7h0M132.7 226.7h0M135.8 226.7h0M157.5 226.7h0M128.8 228h0M130.4 228h0M136.6 228h0M139.7 228h0M145.9 228h0M150.5 228h0M158.3 228h0M159.8 228h0M131.2 229.4h0M135.8 229.4h0M137.4 229.4h0M138.9 229.4h0M146.7 229.4h0M152.9 229.4h0M154.4 229.4h0M156 229.4h0M128.8 230.7h0M139.7 230.7h0M142.8 230.7h0M147.4 230.7h0M150.5 230.7h0M155.2 230.7h0M140.5 232.1h0M154.4 232.1h0M160.6 232.1h0M139.7 233.4h0M141.2 233.4h0M142.8 233.4h0M152.1 233.4h0M156.7 233.4h0M131.2 234.8h0M132.7 234.8h0M134.3 234.8h0M135.8 234.8h0M138.9 234.8h0M142 234.8h0M145.1 234.8h0M146.7 234.8h0M148.2 234.8h0M151.3 234.8h0M152.9 234.8h0M156 234.8h0M157.5 234.8h0M159.1 234.8h0M160.6 234.8h0M128.8 236.1h0M131.9 236.1h0M133.5 236.1h0M135 236.1h0M136.6 236.1h0M138.1 236.1h0M139.7 236.1h0M141.2 236.1h0M144.3 236.1h0M145.9 236.1h0M147.4 236.1h0M149 236.1h0M150.5 236.1h0M152.1 236.1h0M153.6 236.1h0M156.7 236.1h0M158.3 236.1h0M159.8 236.1h0M129.6 237.5h0M131.2 237.5h0M135.8 237.5h0M137.4 237.5h0M138.9 237.5h0M142 237.5h0M143.6 237.5h0M146.7 237.5h0M148.2 237.5h0M149.8 237.5h0M151.3 237.5h0M152.9 237.5h0M156 237.5h0M157.5 237.5h0M159.1 237.5h0M160.6 237.5h0M130.4 238.8h0M131.9 238.8h0M133.5 238.8h0M136.6 238.8h0M142.8 238.8h0M144.3 238.8h0M147.4 238.8h0M149 238.8h0M150.5 238.8h0M152.1 238.8h0M153.6 238.8h0M158.3 238.8h0M159.8 238.8h0M129.6 240.2h0M131.2 240.2h0M132.7 240.2h0M134.3 240.2h0M135.8 240.2h0M137.4 240.2h0M138.9 240.2h0M140.5 240.2h0M142 240.2h0M145.1 240.2h0M149.8 240.2h0M151.3 240.2h0M152.9 240.2h0M156 240.2h0M157.5 240.2h0M159.1 240.2h0M160.6 240.2h0M128.8 241.5h0M133.5 241.5h0M136.6 241.5h0M139.7 241.5h0M141.2 241.5h0M142.8 241.5h0M144.3 241.5h0M145.9 241.5h0M147.4 241.5h0M149 241.5h0M150.5 241.5h0M152.1 241.5h0M153.6 241.5h0M129.6 242.9h0M131.2 242.9h0M132.7 242.9h0M134.3 242.9h0M138.9 242.9h0M142 242.9h0M145.1 242.9h0M146.7 242.9h0M148.2 242.9h0M149.8 242.9h0M151.3 242.9h0M152.9 242.9h0M154.4 242.9h0M156 242.9h0M157.5 242.9h0M159.1 242.9h0M160.6 242.9h0M130.4 244.2h0M133.5 244.2h0M135 244.2h0M136.6 244.2h0M138.1 244.2h0M141.2 244.2h0M142.8 244.2h0M145.9 244.2h0M147.4 244.2h0M149 244.2h0M150.5 244.2h0M152.1 244.2h0M155.2 244.2h0M156.7 244.2h0M129.6 245.5h0M131.2 245.5h0M132.7 245.5h0M135.8 245.5h0M137.4 245.5h0M142 245.5h0M143.6 245.5h0M145.1 245.5h0M146.7 245.5h0M148.2 245.5h0M149.8 245.5h0M151.3 245.5h0M152.9 245.5h0M154.4 245.5h0M156 245.5h0M160.6 245.5h0M128.8 246.9h0M131.9 246.9h0M133.5 246.9h0M135 246.9h0M136.6 246.9h0M138.1 246.9h0M142.8 246.9h0M144.3 246.9h0M147.4 246.9h0M150.5 246.9h0M152.1 246.9h0M153.6 246.9h0M155.2 246.9h0M156.7 246.9h0M158.3 246.9h0M159.8 246.9h0M131.2 248.2h0M134.3 248.2h0M135.8 248.2h0M137.4 248.2h0M140.5 248.2h0M142 248.2h0M143.6 248.2h0M145.1 248.2h0M146.7 248.2h0M148.2 248.2h0M149.8 248.2h0M152.9 248.2h0M156 248.2h0M157.5 248.2h0M159.1 248.2h0M160.6 248.2h0M128.8 249.6h0M130.4 249.6h0M131.9 249.6h0M133.5 249.6h0M135 249.6h0M138.1 249.6h0M142.8 249.6h0M145.9 249.6h0M147.4 249.6h0M149 249.6h0M150.5 249.6h0M153.6 249.6h0M156.7 249.6h0M158.3 249.6h0M159.8 249.6h0M132.7 250.9h0M135.8 250.9h0M142 250.9h0M143.6 250.9h0M145.1 250.9h0M146.7 250.9h0M148.2 250.9h0M149.8 250.9h0M151.3 250.9h0M152.9 250.9h0M157.5 250.9h0M159.1 250.9h0M130.4 252.3h0M135 252.3h0M138.1 252.3h0M142.8 252.3h0M144.3 252.3h0M132.7 253.6h0M137.4 253.6h0M138.9 253.6h0M142 253.6h0M148.2 253.6h0M151.3 253.6h0M152.9 253.6h0M138.1 255h0M139.7 255h0M145.9 255h0M149 255h0M150.5 255h0M155.2 255h0M145.1 256.3h0M148.2 256.3h0M149.8 256.3h0M152.9 256.3h0M157.5 256.3h0M131.9 257.7h0M135 257.7h0M142.8 257.7h0M144.3 257.7h0M150.5 257.7h0M152.1 257.7h0M153.6 257.7h0M131.2 259h0M132.7 259h0M135.8 259h0M137.4 259h0M138.9 259h0M140.5 259h0M148.2 259h0M149.8 259h0M151.3 259h0M159.1 259h0M160.6 259h0M128.8 260.4h0M130.4 260.4h0M133.5 260.4h0M135 260.4h0M139.7 260.4h0M142.8 260.4h0M149 260.4h0M150.5 260.4h0" stroke="#DCCBE4" stroke-width="1.27" stroke-linecap="round" fill="none"/>
<path d="M128.8 217.2h0M133.5 217.2h0M138.1 217.2h0M139.7 217.2h0M144.3 217.2h0M149 217.2h0M152.1 217.2h0M156.7 217.2h0M159.8 217.2h0M129.6 218.6h0M131.2 218.6h0M132.7 218.6h0M134.3 218.6h0M140.5 218.6h0M142 218.6h0M143.6 218.6h0M148.2 218.6h0M151.3 218.6h0M157.5 218.6h0M159.1 218.6h0M131.9 219.9h0M133.5 219.9h0M136.6 219.9h0M138.1 219.9h0M141.2 219.9h0M145.9 219.9h0M149 219.9h0M150.5 219.9h0M155.2 219.9h0M131.2 221.3h0M134.3 221.3h0M140.5 221.3h0M142 221.3h0M145.1 221.3h0M146.7 221.3h0M149.8 221.3h0M151.3 221.3h0M152.9 221.3h0M154.4 221.3h0M156 221.3h0M160.6 221.3h0M133.5 222.6h0M135 222.6h0M136.6 222.6h0M139.7 222.6h0M142.8 222.6h0M147.4 222.6h0M149 222.6h0M155.2 222.6h0M156.7 222.6h0M158.3 222.6h0M159.8 222.6h0M129.6 224h0M131.2 224h0M135.8 224h0M137.4 224h0M140.5 224h0M149.8 224h0M151.3 224h0M154.4 224h0M159.1 224h0M131.9 225.3h0M135 225.3h0M138.1 225.3h0M139.7 225.3h0M141.2 225.3h0M144.3 225.3h0M147.4 225.3h0M155.2 225.3h0M156.7 225.3h0M158.3 225.3h0M159.8 225.3h0M131.2 226.7h0M134.3 226.7h0M138.9 226.7h0M140.5 226.7h0M142 226.7h0M145.1 226.7h0M146.7 226.7h0M148.2 226.7h0M151.3 226.7h0M152.9 226.7h0M154.4 226.7h0M156 226.7h0M160.6 226.7h0M131.9 228h0M138.1 228h0M141.2 228h0M142.8 228h0M144.3 228h0M147.4 228h0M149 228h0M152.1 228h0M153.6 228h0M155.2 228h0M129.6 229.4h0M132.7 229.4h0M140.5 229.4h0M142 229.4h0M145.1 229.4h0M148.2 229.4h0M149.8 229.4h0M151.3 229.4h0M157.5 229.4h0M159.1 229.4h0M130.4 230.7h0M133.5 230.7h0M135 230.7h0M136.6 230.7h0M138.1 230.7h0M141.2 230.7h0M149 230.7h0M152.1 230.7h0M153.6 230.7h0M156.7 230.7h0M158.3 230.7h0M159.8 230.7h0M129.6 232.1h0M131.2 232.1h0M132.7 232.1h0M135.8 232.1h0M137.4 232.1h0M138.9 232.1h0M142 232.1h0M143.6 232.1h0M145.1 232.1h0M146.7 232.1h0M148.2 232.1h0M149.8 232.1h0M151.3 232.1h0M156 232.1h0M157.5 232.1h0M128.8 233.4h0M131.9 233.4h0M133.5 233.4h0M135 233.4h0M144.3 233.4h0M145.9 233.4h0M149 233.4h0M153.6 233.4h0M155.2 233.4h0M158.3 233.4h0M159.8 233.4h0M129.6 234.8h0M137.4 234.8h0M143.6 234.8h0M130.4 236.1h0M142.8 236.1h0M134.3 237.5h0M145.1 237.5h0M143.6 240.2h0M154.4 240.2h0M131.9 241.5h0M135 241.5h0M155.2 241.5h0M158.3 241.5h0M135.8 242.9h0M137.4 242.9h0M131.9 244.2h0M139.7 244.2h0M158.3 244.2h0M138.9 245.5h0M140.5 245.5h0M130.4 246.9h0M139.7 246.9h0M145.9 246.9h0M136.6 249.6h0M144.3 249.6h0M131.2 250.9h0M134.3 250.9h0M138.9 250.9h0M154.4 250.9h0M128.8 252.3h0M131.9 252.3h0M133.5 252.3h0M136.6 252.3h0M139.7 252.3h0M141.2 252.3h0M147.4 252.3h0M149 252.3h0M150.5 252.3h0M152.1 252.3h0M153.6 252.3h0M156.7 252.3h0M158.3 252.3h0M159.8 252.3h0M129.6 253.6h0M134.3 253.6h0M140.5 253.6h0M145.1 253.6h0M146.7 253.6h0M149.8 253.6h0M154.4 253.6h0M159.1 253.6h0M160.6 253.6h0M128.8 255h0M131.9 255h0M133.5 255h0M135 255h0M136.6 255h0M144.3 255h0M147.4 255h0M153.6 255h0M159.8 255h0M129.6 256.3h0M131.2 256.3h0M132.7 256.3h0M134.3 256.3h0M137.4 256.3h0M140.5 256.3h0M142 256.3h0M143.6 256.3h0M146.7 256.3h0M151.3 256.3h0M154.4 256.3h0M156 256.3h0M159.1 256.3h0M160.6 256.3h0M128.8 257.7h0M130.4 257.7h0M136.6 257.7h0M138.1 257.7h0M139.7 257.7h0M145.9 257.7h0M147.4 257.7h0M149 257.7h0M156.7 257.7h0M159.8 257.7h0M129.6 259h0M134.3 259h0M142 259h0M145.1 259h0M146.7 259h0M156 259h0M138.1 260.4h0M141.2 260.4h0M144.3 260.4h0M145.9 260.4h0M147.4 260.4h0M152.1 260.4h0M153.6 260.4h0M155.2 260.4h0M158.3 260.4h0M159.8 260.4h0" stroke="#F04A6A" stroke-width="1.27" stroke-linecap="round" fill="none"/>
<path d="M147.4 217.2h0M158.3 217.2h0M138.9 218.6h0M160.6 218.6h0M152.1 219.9h0M130.4 222.6h0M143.6 224h0M152.9 224h0M156 224h0M137.4 226.7h0M143.6 226.7h0M159.1 226.7h0M156.7 228h0M131.9 230.7h0M134.3 232.1h0M152.9 232.1h0M154.4 234.8h0M155.2 236.1h0M128.8 238.8h0M139.7 238.8h0M141.2 238.8h0M146.7 240.2h0M130.4 241.5h0M138.1 241.5h0M143.6 242.9h0M128.8 244.2h0M157.5 245.5h0M159.1 245.5h0M149 246.9h0M129.6 248.2h0M154.4 248.2h0M139.7 249.6h0M137.4 250.9h0M160.6 250.9h0M145.9 252.3h0M156 253.6h0M157.5 253.6h0M130.4 255h0M156.7 255h0M155.2 257.7h0M154.4 259h0M157.5 259h0M156.7 260.4h0" stroke="#5A50F0" stroke-width="1.27" stroke-linecap="round" fill="none"/>
<path d="M135.8 218.6h0M154.4 218.6h0M128.8 219.9h0M130.4 219.9h0M142.8 219.9h0M144.3 219.9h0M147.4 219.9h0M153.6 219.9h0M158.3 219.9h0M143.6 221.3h0M141.2 222.6h0M152.1 222.6h0M146.7 224h0M160.6 224h0M128.8 225.3h0M142.8 225.3h0M149.8 226.7h0M133.5 228h0M135 228h0M134.3 229.4h0M143.6 229.4h0M160.6 229.4h0M144.3 230.7h0M145.9 230.7h0M159.1 232.1h0M130.4 233.4h0M136.6 233.4h0M138.1 233.4h0M147.4 233.4h0M150.5 233.4h0M140.5 234.8h0M149.8 234.8h0M132.7 237.5h0M140.5 237.5h0M154.4 237.5h0M135 238.8h0M138.1 238.8h0M145.9 238.8h0M155.2 238.8h0M156.7 238.8h0M148.2 240.2h0M156.7 241.5h0M159.8 241.5h0M140.5 242.9h0M144.3 244.2h0M153.6 244.2h0M159.8 244.2h0M134.3 245.5h0M141.2 246.9h0M132.7 248.2h0M138.9 248.2h0M151.3 248.2h0M141.2 249.6h0M152.1 249.6h0M155.2 249.6h0M129.6 250.9h0M140.5 250.9h0M156 250.9h0M155.2 252.3h0M131.2 253.6h0M135.8 253.6h0M143.6 253.6h0M141.2 255h0M142.8 255h0M152.1 255h0M158.3 255h0M135.8 256.3h0M138.9 256.3h0M133.5 257.7h0M141.2 257.7h0M158.3 257.7h0M143.6 259h0M152.9 259h0M131.9 260.4h0M136.6 260.4h0" stroke="#F040E0" stroke-width="1.27" stroke-linecap="round" fill="none"/>
<clipPath id="sc2"><polygon points="206.51,184.55 279,184.22 279,254.91 274.91,256.87 216,256.87 209.45,254.09 206.51,248.36"/></clipPath>
<g clip-path="url(#sc2)">
<polygon points="206.51,184.55 279,184.22 279,254.91 274.91,256.87 216,256.87 209.45,254.09 206.51,248.36" fill="#C2B0E4"/>
<g filter="url(#rough2)">
<polygon points="234.82,187 261.82,187.82 263.45,197.64 252,202.55 237.27,199.27" fill="#E08CB0"/>
<polygon points="207.82,213.18 236.45,212.36 237.27,224.64 208.64,225.45" fill="#E386A8"/>
<polygon points="238.09,225.45 257.73,226.27 260.18,241 243.82,241 236.45,233.64" fill="#E87E9E"/>
<polygon points="259.36,231.18 275.73,231.18 276.22,242.64 260.18,242.64" fill="#DE8CB2"/>
<polygon points="206.51,184.55 222.55,184.55 222.55,199.27 206.51,199.27" fill="#A294E8"/>
<polygon points="206.51,207.45 214.36,207.45 214.36,218.91 206.51,218.91" fill="#8E80EA"/>
<polygon points="206.51,241.82 279,243.45 279,256.87 206.51,256.87" fill="#A99CE6"/>
<polygon points="263.45,202.55 279,202.55 279,230.36 263.45,230.36" fill="#AEA2E6"/>
</g>
<polygon points="205.85,230.69 211.91,230.04 215.18,232.82 213.55,236.58 205.85,237.24" fill="#fff"/>
<path d="M206.8 184.5h0M215.6 184.9h0M217.1 184.4h0M223.5 184.9h0M225.9 184.9h0M236.3 184.7h0M239.4 184.6h0M241.7 184.9h0M244 184.7h0M246.3 184.5h0M249.7 184.4h0M252.6 184.8h0M257.2 184.5h0M258.6 184.5h0M260.7 184.6h0M261.7 184.8h0M265.3 184.5h0M277.7 184.4h0M210.7 185.7h0M213 185.6h0M219.9 185.7h0M227.6 185.6h0M228.9 185.7h0M230.9 185.8h0M236.4 185.4h0M239.8 185.9h0M246.7 185.7h0M247.8 185.4h0M252 185.7h0M255.3 185.5h0M262.5 185.6h0M264.7 185.5h0M265.6 185.8h0M266.9 185.7h0M271.2 185.4h0M272.4 185.6h0M277.2 185.8h0M226.1 186.8h0M228 186.4h0M229.5 186.9h0M234 186.4h0M238.1 186.5h0M239.2 186.7h0M241.9 186.8h0M244.9 186.8h0M247.5 186.6h0M250.6 186.3h0M253.9 186.7h0M255 186.7h0M259.5 186.3h0M262 186.4h0M263.9 186.6h0M265.2 186.5h0M270.8 186.4h0M271.8 186.7h0M277.6 186.5h0M209.4 187.7h0M210.6 187.4h0M224.3 187.7h0M229 187.5h0M234.2 187.7h0M241.1 187.6h0M242 187.5h0M245.8 187.4h0M249.1 187.7h0M252.4 187.5h0M253.4 187.8h0M264.4 187.5h0M267.9 187.6h0M272.3 187.8h0M276.7 187.3h0M277.8 187.7h0M212.8 188.3h0M222.9 188.2h0M230.5 188.5h0M233.9 188.2h0M237.3 188.4h0M239.6 188.3h0M249.3 188.7h0M250.5 188.6h0M251.6 188.3h0M254.9 188.4h0M258.6 188.5h0M266.3 188.6h0M269.8 188.3h0M270.8 188.4h0M273 188.4h0M278.4 188.4h0M221.1 189.5h0M231 189.6h0M234.1 189.4h0M235.4 189.7h0M238.8 189.2h0M240.2 189.8h0M243.4 189.5h0M247.6 189.7h0M248.8 189.2h0M253.3 189.8h0M254.3 189.3h0M256.6 189.5h0M257.8 189.2h0M262.5 189.2h0M270.3 189.6h0M223.5 190.5h0M226.9 190.3h0M233.8 190.5h0M236.2 190.5h0M242.7 190.3h0M243.7 190.3h0M246.3 190.2h0M249.6 190.3h0M251.6 190.5h0M255.4 190.2h0M259.5 190.3h0M264.9 190.3h0M267.2 190.3h0M271.9 190.5h0M275.4 190.6h0M276.5 190.5h0M277.7 190.4h0M215.5 191.4h0M226.8 191.6h0M229 191.6h0M234.1 191.5h0M239.7 191.6h0M241 191.4h0M242.1 191.4h0M243.2 191.2h0M244.2 191.4h0M252.2 191.6h0M253.7 191.3h0M254.4 191.4h0M255.4 191.4h0M256.9 191.6h0M260.2 191.6h0M261.2 191.7h0M268 191.2h0M275.8 191.2h0M278 191.5h0M216.9 192.2h0M221.6 192.2h0M224.6 192.5h0M229.3 192.2h0M234.1 192.7h0M236.2 192.7h0M237.2 192.7h0M238 192.3h0M245.9 192.2h0M251.5 192.3h0M252.9 192.5h0M253.7 192.5h0M255 192.4h0M257.6 192.7h0M260.5 192.6h0M266.3 192.3h0M272.9 192.4h0M277.7 192.5h0M278.5 192.5h0M219.7 193.1h0M225.5 193.6h0M230.1 193.4h0M232.2 193.3h0M239.8 193.5h0M240.9 193.4h0M246.4 193.5h0M252.3 193.5h0M257.8 193.3h0M260.2 193.6h0M261.4 193.4h0M263.4 193.5h0M264.4 193.7h0M267.9 193.6h0M278.1 193.6h0M216.2 194.2h0M222.3 194.2h0M234 194.2h0M236.1 194.7h0M238.3 194.1h0M239.6 194.2h0M240.7 194.4h0M242.6 194.6h0M245.9 194.3h0M250.4 194.1h0M255.1 194.6h0M257.2 194.5h0M258.1 194.3h0M259.5 194.5h0M261 194.4h0M262 194.3h0M262.7 194.4h0M267.5 194.2h0M275.1 194.3h0M219.5 195.3h0M223.2 195.4h0M227.8 195.4h0M233.3 195.5h0M237.5 195.5h0M238.9 195.2h0M239.7 195.2h0M240.9 195.6h0M242.4 195.2h0M244.7 195.5h0M251.2 195.6h0M253.1 195.1h0M255.5 195.2h0M258 195.3h0M260.4 195.5h0M272.7 195.6h0M275.6 195.1h0M212.6 196h0M213.6 196.6h0M216.1 196.3h0M220.4 196.4h0M224.6 196.5h0M228 196.1h0M233.8 196.2h0M235.1 196.4h0M237.2 196.3h0M242.9 196.6h0M243.7 196.1h0M249.6 196.1h0M256.3 196.1h0M257.4 196.4h0M266.2 196.2h0M267.1 196.1h0M272 196.2h0M273.2 196.3h0M276.5 196.2h0M278.3 196.5h0M217.3 197h0M227.6 197.6h0M228.7 197.3h0M230 197.2h0M235.2 197h0M240.1 197.3h0M241.2 197.1h0M244.2 197.3h0M247.7 197.2h0M249.8 197.4h0M251.3 197.1h0M252.5 197.1h0M254.3 197.1h0M257 197.1h0M261.3 197.2h0M262.3 197.4h0M270.3 197.4h0M273.4 197.3h0M278 197h0M212.6 198.4h0M220.4 198.4h0M221.4 198.4h0M225.9 198.5h0M232.4 198.2h0M236 198.3h0M237.2 198.3h0M238.4 198.1h0M242.8 198.1h0M245.3 198h0M246 198.5h0M247.5 198.5h0M248.4 198.4h0M252.6 198.2h0M254.1 198.4h0M257 198.1h0M259.6 198.2h0M262.1 198.4h0M266.2 198.4h0M268.4 198h0M269.4 198.5h0M270.5 198.4h0M276.2 198h0M210.6 199.1h0M214.1 199.4h0M224.3 199.4h0M229.8 199.1h0M235.3 199h0M236.6 199.5h0M238.8 199h0M255.8 199.1h0M258.8 199.4h0M262.3 199h0M263.3 199.2h0M265.9 199.2h0M268.2 199.5h0M213.7 200h0M222.8 200.1h0M227.2 199.9h0M231.3 200.4h0M235.9 200.4h0M238.6 200.5h0M239.2 200.4h0M241.8 200h0M242.5 199.9h0M243.6 200.2h0M247.1 200.4h0M250.6 200h0M255.2 200.5h0M256.4 200h0M257.3 200.2h0M258.3 199.9h0M259.8 200.2h0M262.8 200.4h0M267.2 200.2h0M268.5 200.3h0M272.1 200.5h0M278.7 200.2h0M208.3 201.5h0M218.9 201.1h0M221.7 201.4h0M226.6 201.2h0M227.3 201h0M233 201.3h0M237.5 201h0M243.4 201.2h0M251.3 201.1h0M259.2 201.3h0M260.2 201.4h0M261 201.4h0M264.7 201.5h0M268.2 201.1h0M270 201.3h0M272.5 201.1h0M210.3 202.2h0M214.5 202.1h0M216.9 201.9h0M218.2 202.4h0M237 202.3h0M241.6 202h0M249.3 202.2h0M269.5 201.9h0M275.2 201.9h0M278.4 202.3h0M209.7 203h0M214.1 203.3h0M215 203h0M216.4 203.1h0M219.6 203h0M220.9 203.1h0M228.9 203.3h0M230 203.1h0M230.7 203.4h0M234.2 202.9h0M236.8 202.9h0M239.7 202.9h0M241 203h0M243.1 203.1h0M244.5 203.4h0M247.9 203.3h0M249.8 203.3h0M251.2 203.3h0M258 203h0M259.8 203.2h0M261.5 203.2h0M267.9 203.3h0M269.3 203.3h0M271.1 203h0M206.9 204.1h0M212.4 204h0M219.1 204.1h0M230.3 204.1h0M237.1 204h0M250.6 203.9h0M255.3 204h0M256.1 204h0M262.6 204h0M265 204.1h0M269.8 204.3h0M275.5 204.1h0M213 205h0M214 204.8h0M220.9 204.8h0M232.1 205h0M233 205.2h0M244.6 205h0M262.3 205.3h0M263.7 205.1h0M269.3 205h0M275.5 205h0M207 206.3h0M211.3 205.8h0M212.3 205.8h0M213.9 206.2h0M214.5 206.2h0M219.5 205.8h0M222.3 205.9h0M224.7 205.9h0M226.9 206.2h0M231.8 206.3h0M232.6 206.3h0M233.9 205.8h0M234.6 205.9h0M236.2 206.3h0M256.2 205.8h0M257.2 206.2h0M268.5 206.1h0M275.5 206.2h0M276.4 206.3h0M210.8 207.1h0M212 207.1h0M213.1 207h0M214.3 207.1h0M217.5 206.9h0M221.8 206.7h0M225.1 207.2h0M231.2 207.2h0M237.6 207.3h0M243.3 206.9h0M244.7 207.1h0M245.5 206.8h0M248.9 206.8h0M254.5 206.7h0M260.1 206.8h0M263.7 207.3h0M265.8 207.3h0M270 206.8h0M210.3 208h0M213.7 207.9h0M217.1 207.9h0M221.7 208.1h0M223.6 208h0M227.2 207.7h0M228 208.3h0M229.2 207.9h0M230.5 208.2h0M239.6 208.1h0M240.7 208.1h0M242.5 207.8h0M243.7 207.9h0M247 208.1h0M252 207.8h0M261.5 208h0M265.2 207.8h0M266.2 208.2h0M274.2 207.8h0M278.8 207.9h0M207.5 209.1h0M219.9 209.1h0M222 208.9h0M226.4 208.9h0M228.6 208.8h0M237.6 209.1h0M239 209.1h0M241.2 209h0M242 209.1h0M243.5 208.8h0M246.6 208.7h0M249.1 209.2h0M252.3 208.8h0M257 209.2h0M261.1 209.1h0M262.6 209.1h0M263.2 209.1h0M266.8 209h0M268.8 209.2h0M270.1 209.2h0M211.2 210.1h0M212.3 210h0M214.9 210.1h0M215.7 210.2h0M219.1 209.7h0M220.1 210h0M221.4 210.2h0M226.9 209.7h0M229.4 209.9h0M231.6 209.9h0M232.8 210.1h0M235.9 210.2h0M243.9 210.1h0M246 209.7h0M250.8 209.8h0M251.8 210.2h0M252.8 210h0M253.9 210.1h0M262.6 209.8h0M275.5 210.1h0M217.6 210.7h0M218.5 210.7h0M219.8 210.8h0M222 210.8h0M225.6 211h0M230 210.8h0M247.8 211h0M248.8 210.9h0M251.2 210.8h0M255.7 210.7h0M259.1 210.9h0M263.5 210.9h0M270.4 211h0M275.8 210.8h0M206.9 211.7h0M213.7 211.8h0M222.4 212.2h0M225.8 211.7h0M229 212h0M232.6 211.6h0M239.2 211.9h0M241.7 212.2h0M242.7 211.6h0M246.1 211.7h0M251.5 212.1h0M252.6 211.8h0M253.8 211.9h0M256 211.8h0M259.6 212h0M271.7 211.8h0M275 212.1h0M216.2 212.7h0M222.3 212.7h0M225.1 212.6h0M227.7 212.8h0M231 212.8h0M232.2 212.8h0M234.3 213.1h0M242 212.6h0M244.1 213.2h0M247.8 212.9h0M249.1 212.8h0M251.2 212.8h0M256.6 212.9h0M258.1 213.1h0M263.7 212.9h0M273.3 212.7h0M275.6 213.2h0M213.5 213.7h0M216.1 213.9h0M217.1 213.6h0M219.1 213.8h0M222.4 213.6h0M224.9 214h0M228.4 214h0M230.7 213.7h0M233.5 213.7h0M234.6 213.9h0M239.4 213.9h0M248.5 213.6h0M250.8 213.6h0M252.9 213.7h0M254 213.8h0M254.9 213.6h0M262.8 213.6h0M270.8 214.1h0M273.1 214.1h0M274.2 214.1h0M212.9 214.7h0M222.2 214.7h0M224.5 214.8h0M227.5 214.6h0M228.8 214.9h0M230.7 214.9h0M233.1 215.1h0M235.7 214.8h0M241.3 214.7h0M245.6 215h0M259.1 214.8h0M260.2 215h0M262.3 214.9h0M274.6 214.7h0M214.6 215.7h0M218.3 215.9h0M220.1 216h0M225.9 215.7h0M229.3 215.6h0M231.4 216h0M236.1 215.7h0M237.4 215.8h0M238.2 215.5h0M240.7 215.5h0M241.7 215.9h0M242.6 215.6h0M243.6 215.8h0M245.2 215.6h0M248.4 215.9h0M250.9 215.9h0M258.6 215.7h0M262 215.5h0M263.7 216.1h0M269.3 215.9h0M275.5 215.9h0M214.3 216.7h0M216.3 216.9h0M217.8 216.6h0M220.8 216.6h0M222 216.7h0M223.3 216.6h0M225.4 216.7h0M227.8 216.7h0M228.7 216.8h0M229.9 216.5h0M230.9 216.7h0M234.2 216.7h0M236.6 216.8h0M238.9 217h0M240.1 216.5h0M240.9 216.6h0M242.1 216.7h0M244.7 216.5h0M247.6 217.1h0M248.8 216.9h0M249.8 216.5h0M253.3 216.9h0M257.8 216.6h0M258.8 217h0M260.3 217h0M262.4 216.9h0M270.1 216.5h0M276.8 216.8h0M215.8 217.8h0M224.8 217.8h0M226 217.5h0M227.1 218h0M230.2 217.7h0M234.1 217.8h0M234.6 217.7h0M252 217.9h0M257.3 217.5h0M259.4 217.5h0M269.5 217.6h0M210.8 218.8h0M215.6 218.8h0M216.3 218.5h0M217.7 218.8h0M224.5 218.5h0M225.5 218.7h0M226.7 218.9h0M227.5 218.8h0M228.9 218.9h0M230.9 218.8h0M234.4 218.9h0M244.5 218.5h0M250 218.5h0M251.3 218.9h0M256.5 218.7h0M261.5 218.5h0M263.7 218.4h0M267 218.6h0M272.2 218.8h0M274.6 218.8h0M276.7 218.5h0M211.5 219.5h0M213.8 219.9h0M214.8 219.8h0M220.6 219.6h0M222.8 219.8h0M226 219.9h0M228.2 220h0M229.1 219.7h0M233.7 219.5h0M235 219.5h0M238 219.4h0M239.5 219.5h0M241.8 219.8h0M244 219.6h0M248.4 219.7h0M255.9 219.5h0M267.5 220h0M270.7 219.7h0M209.5 220.4h0M212.2 220.7h0M213.2 220.8h0M214.3 220.5h0M215.3 220.4h0M217.5 220.7h0M218.5 220.8h0M219.8 220.9h0M224.2 220.6h0M228.6 220.9h0M229.8 220.8h0M232.4 220.8h0M233.1 220.9h0M234.3 220.4h0M240.8 220.4h0M245.5 220.4h0M250 220.7h0M252.2 220.8h0M260.3 220.7h0M260.9 220.8h0M262.5 220.6h0M263.4 220.8h0M265.9 221h0M267.8 220.6h0M276.7 220.8h0M208.3 221.7h0M210.2 221.4h0M212.7 221.8h0M213.7 221.9h0M218.3 221.6h0M219.3 221.9h0M220.6 221.5h0M221.6 221.4h0M222.5 221.5h0M225.7 221.5h0M229.1 221.9h0M230.7 221.5h0M231.3 221.6h0M232.7 221.4h0M235 221.7h0M236 221.6h0M246.1 221.6h0M248.2 221.8h0M253.8 221.9h0M257.3 221.5h0M260.6 221.8h0M263.8 221.5h0M273.9 221.7h0M209.8 222.9h0M210.7 222.6h0M216.2 222.4h0M220.8 222.8h0M221.8 222.3h0M229 222.4h0M231.2 222.6h0M232.3 222.8h0M233.3 222.6h0M236.7 222.4h0M240.1 222.5h0M243.1 222.5h0M245.4 222.9h0M246.9 222.6h0M257 222.7h0M259.2 222.5h0M269 222.6h0M269.9 222.8h0M207.7 223.4h0M209.1 223.5h0M211.6 223.4h0M212.7 223.6h0M213.7 223.7h0M215.8 223.8h0M216.7 223.8h0M220.5 223.5h0M221.2 223.9h0M222.7 223.6h0M223.9 223.6h0M229.6 223.8h0M230.5 223.9h0M234.6 223.8h0M236.2 223.6h0M237 223.9h0M238.5 223.5h0M241.6 223.7h0M243.9 223.5h0M245.1 223.5h0M246.1 223.3h0M252.9 223.8h0M254.2 223.4h0M261 223.3h0M269.7 223.6h0M278.9 223.8h0M208.5 224.4h0M211.7 224.8h0M215.5 224.7h0M216.6 224.3h0M223.3 224.8h0M227.7 224.5h0M232.1 224.5h0M234.4 224.5h0M239 224.4h0M240.2 224.5h0M245.7 224.8h0M254.7 224.5h0M259.2 224.7h0M261.5 224.5h0M265.9 224.5h0M267 224.8h0M271.1 224.8h0M272.5 224.3h0M274.7 224.4h0M207.1 225.5h0M207.8 225.7h0M212.4 225.5h0M229 225.2h0M231.7 225.3h0M233.9 225.7h0M234.7 225.8h0M239.4 225.4h0M241.8 225.5h0M246 225.8h0M247.1 225.3h0M248.5 225.6h0M250.3 225.8h0M254.2 225.5h0M257.5 225.6h0M258.2 225.6h0M276.4 225.7h0M207.2 226.4h0M208.7 226.8h0M209.4 226.2h0M216.3 226.5h0M221.2 226.6h0M228.7 226.7h0M237.4 226.5h0M239.9 226.7h0M241.2 226.5h0M242.2 226.3h0M243.3 226.5h0M244.2 226.8h0M246.9 226.6h0M247.8 226.4h0M248.7 226.4h0M250.1 226.3h0M251.2 226.5h0M252.4 226.5h0M253.4 226.4h0M263.5 226.4h0M270.3 226.3h0M208.1 227.5h0M209.1 227.7h0M211.2 227.6h0M213.9 227.2h0M214.8 227.2h0M219.5 227.4h0M225.7 227.5h0M229.5 227.3h0M230.1 227.3h0M231.7 227.4h0M232.9 227.7h0M233.7 227.4h0M238.1 227.6h0M239.6 227.7h0M240.2 227.6h0M242.9 227.6h0M243.9 227.5h0M246.3 227.2h0M247.3 227.3h0M249.3 227.2h0M254.2 227.8h0M256.2 227.6h0M258.2 227.7h0M270.9 227.5h0M209.8 228.3h0M213 228.6h0M214.5 228.4h0M216.7 228.2h0M220 228.4h0M221.9 228.4h0M227.5 228.7h0M232 228.5h0M234.6 228.6h0M239.7 228.6h0M241.1 228.3h0M242.4 228.4h0M243.1 228.4h0M245.7 228.7h0M246.6 228.4h0M253.3 228.3h0M256.7 228.7h0M257.9 228.6h0M262.4 228.7h0M263.4 228.2h0M264.8 228.5h0M271.1 228.4h0M207 229.5h0M210 229.5h0M212.3 229.2h0M215.9 229.3h0M221.3 229.6h0M223.8 229.2h0M225.9 229.5h0M227.3 229.2h0M229 229.4h0M234.7 229.3h0M239.3 229.6h0M243.6 229.6h0M245 229.2h0M246.3 229.7h0M247.2 229.4h0M248.5 229.2h0M250.9 229.4h0M251.7 229.2h0M253.8 229.7h0M254.8 229.7h0M256.4 229.6h0M258.5 229.5h0M259.6 229.3h0M267.7 229.3h0M270.8 229.2h0M274 229.6h0M215.1 230.6h0M216.5 230.4h0M225.6 230.5h0M229.8 230.4h0M233.5 230.3h0M241.1 230.5h0M242.1 230.4h0M246.9 230.6h0M252.5 230.1h0M253.5 230.7h0M255.5 230.3h0M263.5 230.2h0M267.9 230.2h0M274.5 230.6h0M216.9 231.2h0M219.4 231.6h0M222.8 231.3h0M226.1 231.2h0M237.1 231.1h0M238 231.4h0M240.3 231.2h0M242.7 231.3h0M244.2 231.2h0M247.4 231.4h0M250.8 231.5h0M251.9 231.5h0M253.9 231.4h0M255 231.1h0M258.5 231.4h0M259.7 231.3h0M261.9 231.7h0M262.7 231.5h0M263.7 231.6h0M265.2 231.3h0M266.4 231.5h0M276.3 231.6h0M278.8 231.3h0M216.4 232.1h0M218.5 232.2h0M225.3 232.3h0M230.7 232.3h0M232.3 232.6h0M235.3 232.2h0M243.4 232.5h0M244.4 232.2h0M245.3 232.2h0M251.2 232.4h0M252 232.2h0M253.2 232.4h0M254.3 232.5h0M255.4 232.2h0M259.2 232.5h0M261.4 232.6h0M265.8 232.6h0M277 232.1h0M217.2 233.3h0M219.4 233.6h0M220.4 233.2h0M221.7 233.6h0M225.1 233.5h0M226.8 233.4h0M232.9 233.5h0M234.8 233.1h0M238.5 233.1h0M246.3 233h0M247.5 233.5h0M248.2 233.3h0M249.7 233.1h0M251.5 233.5h0M252.6 233.2h0M256.3 233.6h0M258.2 233.1h0M259.5 233.5h0M262 233.3h0M264.9 233.6h0M266.3 233.1h0M267.5 233.4h0M278.8 233.3h0M216.6 234h0M217.8 234.2h0M224.2 234.4h0M241 234.2h0M242.4 234.5h0M244.3 234.2h0M245.5 234.4h0M246.5 234.1h0M248.9 234.5h0M251.3 234.2h0M253.7 234.1h0M254.3 234.5h0M263.5 234.1h0M267.9 234.1h0M269.2 234.1h0M272.7 234.5h0M276 234.2h0M276.9 234h0M277.9 234.1h0M218.4 235.1h0M222.7 235.3h0M226.1 235.6h0M227.2 235.4h0M228.4 235.2h0M235.9 235.3h0M237.3 235.1h0M240.4 235.4h0M243.8 235h0M244.9 235.2h0M247 235.1h0M248.3 235.2h0M250.9 235.1h0M251.6 235.3h0M255.3 235.2h0M258.7 235.3h0M259.5 235.1h0M261.8 235h0M262.9 235.2h0M266.4 235.4h0M274.2 235.6h0M275.5 235.4h0M277.4 235h0M223 236h0M232.1 236.3h0M235.3 236.2h0M237.5 236.5h0M240 236.4h0M241.1 236.2h0M242.4 236.2h0M243.1 236.1h0M245.7 236.1h0M246.4 236.1h0M247.9 236h0M250.9 236h0M252.4 236h0M255.8 236h0M261.2 236.4h0M264.8 236.5h0M268.9 236.3h0M273.3 236.5h0M206.7 237.2h0M210 237.1h0M211.3 237.5h0M214.5 237.2h0M222.8 237.5h0M223.9 237.5h0M228.3 237.3h0M231.5 237.3h0M245.9 237.5h0M247.2 236.9h0M250.7 236.9h0M257.6 237.4h0M265.3 237.4h0M266 237.3h0M267.3 237h0M268.7 237.2h0M270.6 237.5h0M272.9 237.3h0M275.4 237.3h0M276.1 237.2h0M277.2 237.5h0M278.7 237.3h0M212.1 238.3h0M215.5 238.3h0M217.3 238.3h0M219.9 238.2h0M222.1 238.2h0M224.4 238.1h0M226.3 238h0M227.8 238.1h0M233 238.1h0M237.4 238.5h0M243.2 238.3h0M244.2 238.5h0M247.8 238h0M255.5 238.4h0M260.9 238h0M265.8 238h0M271.1 238h0M274.4 238h0M219 239.4h0M229.4 239.3h0M231.3 239h0M234.9 239.4h0M241.5 239.1h0M246.3 239.1h0M247.2 239.2h0M249.3 239.2h0M250.6 239.4h0M251.9 239.1h0M258.5 238.9h0M262.6 239h0M264.2 239.2h0M266.1 239.4h0M268.3 239.1h0M269.7 239h0M272.2 239.5h0M274.1 239.3h0M275.2 239.1h0M276.5 239.1h0M209.5 240.3h0M213 240.3h0M214.4 240.1h0M218.8 240.2h0M230 240h0M232.4 240.4h0M237.7 240.3h0M239 240.2h0M239.8 240.1h0M240.9 240.2h0M242.4 240.3h0M244.7 240.1h0M245.4 240.4h0M246.7 240.1h0M247.9 240.2h0M249.2 240.3h0M250.9 239.9h0M252.1 240.1h0M256.5 240.3h0M258 240.3h0M262.3 240.1h0M266.8 240.4h0M274.7 240h0M276.9 240h0M208.2 240.9h0M211.2 241.1h0M213.7 241h0M214.9 241h0M222.7 241.4h0M228 241.1h0M233.7 241.3h0M235.9 240.9h0M246.2 241h0M249.3 241.1h0M254.8 241.4h0M257.6 240.9h0M258.5 241.3h0M260.9 241.1h0M262.8 241.4h0M264.9 241.2h0M267.5 241h0M268.3 240.9h0M275.3 241.4h0M276.5 241.2h0M278.5 241.4h0M208.8 242h0M214.2 242.1h0M219.8 241.9h0M222.2 242.4h0M231.3 242.2h0M235.5 241.8h0M241.3 242.4h0M242.2 242.1h0M245.7 241.9h0M246.9 242.3h0M248 241.9h0M254.7 241.9h0M255.5 242.1h0M258.8 242.3h0M261.2 242.3h0M264.5 242.3h0M269.3 242.3h0M274.7 241.9h0M275.6 242h0M216.7 243.1h0M218.3 242.9h0M228.1 242.9h0M231.8 242.8h0M234.9 242.9h0M248.1 242.9h0M258.6 243.3h0M259.5 242.9h0M262.8 243h0M264.3 242.9h0M268.4 243.3h0M270.7 243.1h0M275.4 243.4h0M278.6 243.1h0M210.5 243.9h0M216.7 244.3h0M224.3 244h0M226.5 244.2h0M227.8 244.3h0M236.6 244.1h0M245.7 243.8h0M252.1 244.2h0M255.8 243.9h0M258.9 244h0M261.4 244.1h0M262.2 244.1h0M267.1 243.9h0M208.2 245.3h0M209.3 244.9h0M214.8 245h0M219.3 244.8h0M223.6 244.9h0M237.3 244.8h0M250.8 244.7h0M254.9 245h0M262.8 245.1h0M268.5 244.8h0M269.5 244.8h0M215.3 246.3h0M217.4 246.1h0M220.9 246.2h0M227.9 246h0M231.9 246.3h0M254.7 245.8h0M268 246.1h0M268.9 246.1h0M271 246.2h0M213.5 247.1h0M236 247h0M241.3 247.2h0M242.6 246.8h0M247.5 247h0M248.2 247.1h0M250.4 246.9h0M255.3 247.2h0M257.6 246.9h0M267.3 247h0M269.9 247.2h0M276.4 247h0M207.5 247.7h0M212.2 248.1h0M213.1 248.1h0M216.4 248h0M217.8 248h0M236.7 248.2h0M243.4 248.2h0M277.8 247.8h0M217.1 248.9h0M232.7 248.7h0M242.8 249h0M253 248.8h0M269.7 248.7h0M242.3 249.9h0M251.4 250h0M261.2 250h0M262.1 250h0M271.2 249.8h0M225.9 250.9h0M229.3 250.8h0M231.7 251h0M235 250.7h0M236.2 250.6h0M240.8 250.8h0M246.2 251.1h0M274.4 250.7h0M211.8 251.7h0M213 251.8h0M224.1 251.6h0M228.8 251.7h0M256.7 252h0M264.7 252.1h0M274.7 252h0M277.9 251.9h0M218 252.7h0M238.3 253h0M218.7 253.9h0M221.9 253.6h0M223.4 254h0M226.5 253.9h0M227.8 253.6h0M228.9 253.8h0M232.1 253.8h0M240.9 253.8h0M244.5 254.1h0M256.7 253.6h0M258 253.6h0M259.1 253.7h0M268.1 253.9h0M278.1 253.6h0M213.8 254.5h0M217.9 254.5h0M225.8 255h0M238.2 254.7h0M261.9 254.7h0M272.2 254.9h0M276.3 254.8h0M217.8 255.8h0M242.1 255.5h0M243.4 255.5h0M245.3 255.9h0M262.6 255.9h0M267 255.5h0M275.8 256h0" stroke="#EE6680" stroke-width="1.15" stroke-linecap="round" fill="none"/>
<path d="M207.8 184.9h0M212.7 184.4h0M213.6 184.3h0M219.3 184.6h0M227.1 184.4h0M229.3 184.4h0M231.8 184.6h0M234.8 184.7h0M238.3 184.8h0M240.2 184.7h0M244.9 184.3h0M247.4 184.4h0M248.2 184.7h0M250.6 184.7h0M256.3 184.5h0M267.4 184.8h0M268.7 184.6h0M269.4 184.4h0M272.1 184.5h0M274.1 184.7h0M278.9 184.4h0M212.1 185.6h0M222.1 185.7h0M223 185.8h0M224.3 185.4h0M225.7 185.5h0M226.3 185.7h0M230 185.3h0M232.3 185.4h0M234.4 185.8h0M235.3 185.5h0M241 185.3h0M242 185.4h0M243.4 185.6h0M248.8 185.8h0M250 185.4h0M251.1 185.9h0M269.9 185.3h0M274.8 185.7h0M207.8 186.3h0M210.3 186.7h0M213.7 186.3h0M218.3 186.4h0M223.6 186.9h0M232.9 186.4h0M242.9 186.7h0M252.6 186.4h0M266.3 186.5h0M267.1 186.6h0M269.3 186.3h0M207.7 187.6h0M212.1 187.6h0M225.3 187.6h0M226.4 187.5h0M233.3 187.6h0M239.7 187.6h0M244.3 187.4h0M250.1 187.7h0M262.1 187.3h0M269.2 187.3h0M274.8 187.5h0M210 188.7h0M213.9 188.8h0M214.5 188.3h0M218.2 188.7h0M220.2 188.4h0M221.8 188.7h0M223.9 188.7h0M224.7 188.3h0M232.6 188.7h0M248.4 188.4h0M254.2 188.8h0M259.5 188.7h0M263.1 188.3h0M271.9 188.3h0M276.5 188.6h0M210.7 189.4h0M212.1 189.6h0M213.1 189.4h0M214.1 189.6h0M215.1 189.5h0M217.6 189.6h0M223.4 189.2h0M227.7 189.6h0M229.6 189.3h0M231.9 189.4h0M236.6 189.5h0M241.2 189.4h0M249.8 189.6h0M259.1 189.6h0M261.3 189.2h0M264.4 189.3h0M266 189.5h0M266.8 189.7h0M271.5 189.6h0M274.8 189.3h0M275.7 189.8h0M209.3 190.2h0M216.9 190.4h0M218.3 190.3h0M220.5 190.2h0M221.5 190.4h0M225.1 190.2h0M228.4 190.7h0M231.3 190.3h0M232.4 190.6h0M250.6 190.5h0M258.5 190.4h0M263 190.2h0M263.8 190.3h0M266.6 190.2h0M268.4 190.3h0M269.6 190.4h0M271 190.7h0M207.4 191.3h0M210.7 191.4h0M211.7 191.3h0M214.2 191.4h0M218.5 191.2h0M220.7 191.5h0M223.3 191.5h0M224.3 191.7h0M230.7 191.5h0M237.9 191.5h0M238.9 191.5h0M245.8 191.3h0M246.4 191.2h0M262.6 191.6h0M265.4 191.2h0M267.1 191.2h0M270 191.2h0M271.1 191.7h0M274.5 191.6h0M276.7 191.5h0M206.7 192.1h0M208.1 192.4h0M212.7 192.5h0M216 192.6h0M219.1 192.2h0M226 192.2h0M227.2 192.3h0M231.8 192.4h0M232.4 192.6h0M240.8 192.7h0M241.5 192.2h0M243.9 192.4h0M247.3 192.7h0M248.1 192.5h0M270.5 192.4h0M276.2 192.6h0M208.3 193.3h0M210.7 193.5h0M217.6 193.1h0M221.2 193.1h0M223.3 193.4h0M228.8 193.2h0M234.1 193.1h0M235.7 193.1h0M243.3 193.6h0M244.7 193.5h0M250.2 193.3h0M254.6 193.5h0M255.7 193.3h0M256.6 193.1h0M258.7 193.4h0M262.3 193.6h0M265.5 193.2h0M266.9 193.2h0M269.3 193.5h0M272.6 193.1h0M273.5 193.1h0M274.8 193.3h0M213.8 194.2h0M214.8 194.4h0M220.5 194.4h0M225.8 194.2h0M226.9 194.6h0M230.6 194.5h0M232.9 194.7h0M243.9 194.3h0M244.7 194.4h0M247 194.6h0M251.5 194.1h0M268.4 194.2h0M207.8 195.5h0M208.5 195.1h0M211 195.1h0M212.1 195.5h0M213.3 195.2h0M214.3 195.1h0M215.4 195.6h0M216.7 195.4h0M218.8 195.2h0M220.7 195.3h0M224.5 195.3h0M231.2 195.5h0M232 195.4h0M235.5 195.6h0M236.5 195.6h0M245.4 195.5h0M246.7 195.2h0M250 195.4h0M254.4 195.6h0M256.7 195.4h0M262.2 195.5h0M264.3 195.5h0M266.6 195.2h0M269.2 195.5h0M271.1 195.4h0M278.2 195.3h0M206.8 196.3h0M211.5 196.3h0M217 196h0M219.4 196.3h0M221.5 196.1h0M223.5 196.4h0M229.3 196.2h0M230.6 196.3h0M231.5 196.5h0M241.7 196h0M245.2 196.2h0M253 196.3h0M253.9 196.1h0M273.8 196.4h0M275.1 196.4h0M277.6 196.6h0M209.5 197.2h0M212.2 197.2h0M212.9 197.1h0M215 197h0M224.4 197.5h0M225.3 197.2h0M231.9 197.2h0M233.4 197.6h0M237.5 197.5h0M242.2 197.4h0M243.1 197.1h0M246.6 197.3h0M255.5 197.2h0M257.6 197.3h0M259.1 197.1h0M263.3 197.4h0M266.6 197.2h0M267.7 197.6h0M269 197.2h0M274.6 197.1h0M276.6 197.3h0M210 198.5h0M213.6 198.2h0M219.5 198h0M222.5 198.5h0M223.7 198.3h0M228.3 198.3h0M230.4 198.3h0M235.2 198.3h0M264.3 198.2h0M277.5 198.1h0M207.4 199.5h0M208.3 199.2h0M209.8 199.1h0M213.1 199.1h0M215.4 199h0M218.7 199.4h0M226.7 198.9h0M228.9 199.5h0M234.5 199.3h0M241.3 199.3h0M242 199.1h0M243.5 199.4h0M248 199.3h0M252.3 199.4h0M264.4 199.1h0M272.3 199.1h0M275.7 199.2h0M211.6 200.2h0M215 200.5h0M215.9 200.5h0M218.2 200.2h0M219.4 200h0M221.4 200.4h0M223.9 200.2h0M226.2 200.4h0M228 200.5h0M229.2 200h0M245.3 200.3h0M245.8 200.3h0M251.6 200.4h0M253.7 200h0M266.2 200h0M277.4 200.4h0M210.9 201.2h0M212.8 201.2h0M215.1 201.2h0M216.2 201.2h0M217.7 201.1h0M219.9 201.3h0M228.5 201.3h0M229.9 201.1h0M234.2 201.5h0M235.5 201.1h0M236.4 201.4h0M242.2 201.4h0M244.5 201h0M245.6 200.9h0M247.6 201.3h0M256.7 201h0M258.1 201.1h0M271.6 200.9h0M277.9 201.4h0M207 202.4h0M215.7 202.1h0M220.2 202.2h0M221.7 202.4h0M224.5 202.2h0M227.1 202.2h0M230.6 202.3h0M231.6 202h0M232.4 202.2h0M243 202.4h0M243.8 202.2h0M246.2 202.1h0M250.9 202.2h0M252.6 202h0M256.2 202.3h0M257.3 202h0M259.4 202.1h0M267.4 202h0M272 202h0M210.8 203h0M241.9 203.2h0M245.5 203.2h0M248.9 203.1h0M255.7 203.3h0M265.8 202.9h0M267 203.3h0M272.3 202.9h0M276.7 203h0M214.8 204.1h0M221.5 204.3h0M233.6 204.1h0M236.1 204.2h0M242.5 204.4h0M248.4 203.8h0M253.8 204.1h0M258.3 204h0M264 203.9h0M266.3 204.4h0M268.4 203.9h0M274.3 204h0M276.6 204.3h0M277.6 204.1h0M278.6 204.3h0M222.1 205.2h0M223 205.1h0M224.2 204.8h0M226.4 205.1h0M229.9 205.2h0M236.6 205h0M240 205.2h0M242.3 204.8h0M245.8 205.2h0M247.6 205.2h0M249.2 205.1h0M250.2 204.8h0M254.7 205.1h0M255.9 205.2h0M256.5 204.8h0M261 205.3h0M277 205.2h0M208.2 205.9h0M210.2 205.8h0M217.8 205.8h0M228.1 206.3h0M230.2 205.9h0M239.2 206.3h0M241.4 206.1h0M243.7 205.8h0M248.2 206.3h0M249.2 205.8h0M251.5 205.9h0M272.8 206.3h0M207.2 206.9h0M216.3 207.1h0M218.7 207.1h0M223.2 207.2h0M233.1 207.1h0M234.2 207.1h0M239.7 207.2h0M247.5 207h0M252 206.9h0M253.4 207.2h0M264.5 207h0M272.4 207.1h0M274.8 207.3h0M209.3 207.9h0M215.8 208.2h0M222.3 208.2h0M232.6 207.8h0M234.8 208.1h0M245 208.2h0M245.9 208h0M248.6 208.2h0M250.8 208.2h0M254.2 207.7h0M255.9 207.9h0M258.4 208h0M259.8 208h0M264.1 208h0M211 208.7h0M212.9 209.2h0M215 208.7h0M216.6 208.8h0M218.4 209.3h0M223.3 209h0M236.4 209.3h0M240.2 209.2h0M245.7 208.7h0M247.7 208.8h0M249.9 209h0M251.4 208.8h0M259.2 209.1h0M264.6 208.8h0M271.1 209.1h0M273.7 208.9h0M278.3 208.8h0M206.9 210.1h0M209.1 210h0M210.3 209.8h0M213.4 210.2h0M222.8 209.7h0M225.9 209.9h0M230.7 210.1h0M234.1 209.7h0M235.1 209.8h0M238.3 210.2h0M241.4 209.7h0M244.9 209.7h0M255 210.2h0M261.6 209.9h0M263.7 210h0M267.3 210h0M271 210.1h0M272 209.8h0M273.1 209.9h0M276.5 210.2h0M277.5 209.7h0M208.5 211.1h0M212.2 210.7h0M214.3 210.8h0M216.3 210.9h0M223.2 211.2h0M227.7 211.2h0M231 210.8h0M235.3 211.1h0M237.9 210.8h0M241 211.1h0M245.6 211.2h0M252.2 210.7h0M260.3 211h0M264.7 211.2h0M269 211h0M273.3 210.9h0M207.9 211.9h0M209.1 212.1h0M214.5 211.7h0M217.1 211.9h0M221.4 211.6h0M228.2 211.6h0M231.3 211.6h0M240.6 211.9h0M247.1 212.1h0M248.1 211.9h0M265.4 211.9h0M266.3 211.9h0M267.3 212.1h0M268.4 211.6h0M269.7 211.6h0M271 211.8h0M209.7 212.8h0M210.9 212.9h0M212.9 212.9h0M217.6 212.6h0M218.9 213.1h0M224.4 213.2h0M240.1 212.7h0M249.7 212.9h0M253.2 212.6h0M254.8 213.2h0M255.8 213h0M259.9 212.7h0M264.8 213.2h0M270.4 212.8h0M276.7 213.2h0M278.3 212.6h0M208.3 213.9h0M217.9 213.7h0M220.3 214h0M223.8 213.6h0M225.9 214.1h0M229.1 213.7h0M231.5 213.6h0M241.3 213.9h0M243 213.6h0M244 214.1h0M258.7 214h0M266.1 213.7h0M276.2 214.1h0M277.4 214h0M207.6 214.8h0M220 214.9h0M226.6 214.9h0M232.1 214.8h0M234.4 214.8h0M236.9 214.9h0M242.4 214.8h0M243.4 214.7h0M244.5 215.1h0M247.7 215.1h0M251 215h0M252.2 214.6h0M253.5 215h0M266.9 214.8h0M270 214.6h0M272.5 215h0M209.2 215.8h0M210.3 215.6h0M221.6 215.7h0M223.5 215.6h0M225 216.1h0M227 215.7h0M232.9 215.8h0M239.3 216h0M247.1 216h0M251.7 216h0M262.9 215.8h0M266.5 216.1h0M267.6 216.1h0M272.1 215.7h0M273 216.1h0M274.1 215.9h0M208.3 216.5h0M211.1 216.9h0M212.8 216.7h0M224.4 216.7h0M233.2 217h0M243.2 216.8h0M251.3 216.7h0M254.7 217.1h0M265.7 216.7h0M271.4 216.6h0M274.5 216.9h0M278 217h0M208.2 217.7h0M209.1 218h0M212.7 217.6h0M213.4 217.8h0M220.4 217.9h0M223.8 218h0M228.2 217.5h0M237 217.8h0M239.3 217.8h0M250.4 217.5h0M253.9 217.9h0M255.2 217.5h0M262 217.6h0M264.1 217.8h0M265.4 217.6h0M267.5 217.8h0M270.8 217.8h0M273.2 217.5h0M277.5 217.5h0M278.7 217.8h0M207.6 218.8h0M214 218.6h0M219.6 218.5h0M229.7 218.7h0M236.5 218.9h0M240.2 218.7h0M242.4 218.6h0M243.4 218.7h0M245.3 218.9h0M254.5 219h0M259.2 218.5h0M262.1 218.9h0M267.7 218.5h0M208.3 219.6h0M215.9 219.6h0M236.1 219.6h0M240.6 219.9h0M251.6 219.5h0M253.7 219.8h0M254.9 219.9h0M260.5 219.6h0M266.5 219.5h0M272.1 219.8h0M207.6 220.8h0M208.3 220.8h0M221.1 220.4h0M226.6 220.8h0M239 221h0M242.4 220.6h0M243.4 220.9h0M246.7 220.5h0M248 220.5h0M251.3 221h0M257.6 220.5h0M259.1 220.8h0M264.7 220.4h0M266.6 220.9h0M269 220.8h0M269.9 220.8h0M272.6 220.6h0M274.9 220.4h0M278.2 220.7h0M207.1 221.7h0M209.4 221.6h0M211.4 221.9h0M227.3 221.6h0M241.7 221.7h0M250.8 221.8h0M255.4 221.9h0M258.4 221.5h0M259.6 221.5h0M264.9 221.7h0M268.5 221.9h0M269.9 221.7h0M277.6 221.8h0M212 222.4h0M223.3 222.4h0M224.5 222.4h0M225.3 222.9h0M227.3 222.6h0M248.1 222.7h0M249.8 222.9h0M251.1 222.5h0M252.5 222.6h0M264.4 222.3h0M278 222.7h0M214.8 223.9h0M219.3 223.5h0M228.4 223.6h0M250.5 223.5h0M258.2 223.5h0M259.3 223.9h0M261.9 223.4h0M262.8 223.5h0M263.8 223.8h0M265.1 223.6h0M266 223.5h0M273.9 223.4h0M277.7 223.3h0M209.8 224.6h0M213 224.4h0M221 224.8h0M225.5 224.3h0M229.8 224.8h0M235.2 224.8h0M242.1 224.4h0M243.3 224.3h0M247.6 224.3h0M257.8 224.7h0M259.8 224.8h0M262.3 224.7h0M263.8 224.6h0M264.6 224.5h0M267.8 224.5h0M273.8 224.3h0M275.7 224.3h0M277.1 224.5h0M278.2 224.8h0M209.2 225.7h0M211.2 225.7h0M216.1 225.5h0M217 225.4h0M224.8 225.6h0M226.9 225.6h0M230.6 225.7h0M235.7 225.4h0M240.6 225.8h0M251.7 225.8h0M259.7 225.5h0M260.9 225.4h0M263.1 225.5h0M264.2 225.7h0M268.4 225.3h0M275.3 225.5h0M277.2 225.8h0M210.7 226.6h0M212.9 226.6h0M214 226.8h0M217.4 226.8h0M218.5 226.6h0M222 226.7h0M222.9 226.7h0M226.5 226.4h0M232.2 226.4h0M233.4 226.8h0M256.8 226.7h0M257.6 226.3h0M264.5 226.7h0M276.7 226.5h0M210.1 227.4h0M212.4 227.4h0M223.6 227.7h0M235 227.3h0M236.3 227.4h0M251.5 227.3h0M257.2 227.3h0M262.9 227.6h0M266.1 227.2h0M274.2 227.3h0M275.2 227.6h0M276.2 227.2h0M277.8 227.3h0M208.6 228.4h0M218.8 228.3h0M221.2 228.3h0M226.5 228.3h0M230.8 228.6h0M233.4 228.7h0M260.1 228.8h0M261.4 228.6h0M265.6 228.5h0M266.5 228.6h0M274.9 228.3h0M275.6 228.5h0M277.8 228.6h0M208.3 229.6h0M211.1 229.6h0M215 229.4h0M217.9 229.7h0M222.4 229.6h0M232.5 229.2h0M257.6 229.7h0M261.7 229.2h0M265.4 229.7h0M266 229.7h0M275.2 229.7h0M276.4 229.3h0M212.9 230.3h0M221.1 230.1h0M223.2 230.5h0M239.9 230.1h0M243.2 230.1h0M251.2 230.5h0M257 230.4h0M257.9 230.4h0M258.7 230.2h0M261.4 230.2h0M265.6 230.4h0M269.1 230.2h0M270.5 230.2h0M273.4 230.2h0M277.9 230.3h0M214.6 231.7h0M215.9 231.2h0M220.5 231.6h0M221.2 231.6h0M236.3 231.5h0M241.5 231.6h0M245.1 231.6h0M256 231.4h0M257.5 231.3h0M215.1 232.4h0M219.8 232.5h0M227.7 232.3h0M234.2 232.4h0M242.2 232.3h0M246.5 232.5h0M266.9 232.5h0M270.4 232.1h0M272.7 232.3h0M274.5 232.1h0M278.2 232.6h0M215.9 233.1h0M225.7 233.5h0M231.3 233.1h0M242.8 233h0M255.3 233.1h0M268.4 233.2h0M270.8 233.5h0M273.9 233.6h0M215.5 234h0M219.7 234.2h0M223.1 234.2h0M226.7 234.1h0M231 234.4h0M234.1 234.5h0M265.6 234.1h0M271.3 234.2h0M274.4 234.4h0M216.1 235.5h0M224.7 235.4h0M229.2 235.3h0M230.2 235.4h0M231.3 235.5h0M232.7 235.1h0M233.7 235.3h0M249.3 235.2h0M256.4 235.4h0M269.9 235h0M271.7 235.4h0M276.1 235.2h0M278.4 235.4h0M214 236h0M220.8 236.5h0M231.2 236.5h0M234.6 236.2h0M236.3 236.1h0M248.9 236.3h0M267.9 236.1h0M271.4 236.2h0M208.1 237.1h0M213.4 237h0M216.1 237.5h0M218 237.1h0M225.9 237.1h0M233.6 237.4h0M249.7 237.3h0M251.5 237.4h0M254.2 237.5h0M274.1 237.4h0M207.5 238.2h0M208.5 238.1h0M212.8 238.2h0M218.4 238.2h0M230.7 238.3h0M245.6 238.3h0M249.8 238.3h0M252 238.4h0M256.5 238.4h0M257.7 238.5h0M262.3 238.3h0M276.8 238.4h0M278.3 238.3h0M212.8 239.3h0M213.6 239.1h0M214.8 239.4h0M216.1 239.3h0M223.6 238.9h0M227.9 239.3h0M230.5 239h0M236.3 239.4h0M237.3 239.4h0M252.8 239.1h0M256.2 239.4h0M257.3 239.2h0M260.5 239h0M261.7 239.1h0M271 239.2h0M277.7 239.4h0M208.8 240h0M216.7 240.4h0M217.5 240.4h0M220.1 240.4h0M220.7 240.3h0M227.7 240.4h0M228.7 240.3h0M233.5 240.2h0M234.6 240.1h0M236.9 240h0M259 239.9h0M260 240.4h0M263.3 240.2h0M264.7 240h0M267.7 240.3h0M270 240.1h0M272.6 240.3h0M273.6 240.1h0M275.9 240.5h0M210.1 240.9h0M216.8 241.3h0M217.9 241.1h0M220.1 241.1h0M221.5 241.4h0M225 241.1h0M227.2 241h0M230.3 240.9h0M234.7 241.1h0M237.3 241.3h0M242.6 241h0M244.8 241.1h0M247 241.4h0M248.6 241h0M266.2 241.3h0M270.8 241h0M207.8 242.3h0M209.6 242.1h0M211.8 242.1h0M220.8 241.9h0M225.5 242.2h0M234.6 242.1h0M236.4 242.3h0M237.9 242.4h0M250 242.2h0M262.3 242h0M266.7 242.4h0M270.1 242h0M271.5 242h0M272.3 241.9h0M273.8 242h0M211.3 243.2h0M215.6 243.3h0M223.6 243.3h0M226 242.8h0M233.7 243h0M239.2 243.2h0M241.5 242.9h0M243.6 243.1h0M250.7 242.8h0M251.8 243.4h0M255 243h0M256.2 243h0M260.6 243.2h0M266.5 242.8h0M267.6 243.2h0M272 243.1h0M273.3 243h0M209.8 244.3h0M214 243.9h0M218.5 244h0M220.8 244.3h0M223.2 244h0M235.2 244.1h0M246.6 244h0M247.9 244.1h0M250.9 244.3h0M256.8 244.3h0M257.8 244.2h0M263.8 244.2h0M265.5 244.2h0M270.1 244h0M272.6 244.2h0M274.8 244h0M278.1 244h0M212.7 245.2h0M213.9 245.1h0M218 245.2h0M222.7 245h0M235.8 245.2h0M238.6 245.2h0M239.5 245.1h0M240.4 245.1h0M245.9 244.7h0M248.6 244.8h0M249.5 245.2h0M257.1 245h0M259.4 245.2h0M264.3 244.8h0M272 244.8h0M273.2 245.2h0M277.3 244.9h0M278.8 245.3h0M207.4 245.9h0M209.7 246.1h0M216.7 245.8h0M219.7 246.1h0M223.2 245.8h0M224.1 245.8h0M225.4 246.2h0M228.6 245.7h0M233.1 246.1h0M235.5 245.9h0M237.5 246.2h0M238.7 246h0M245.4 246h0M248 246.1h0M248.8 245.8h0M250.3 245.8h0M251.2 245.9h0M252.1 246h0M258.1 245.9h0M264.8 246.1h0M273.3 246.2h0M275.6 245.8h0M208.3 246.9h0M212.3 246.7h0M217.1 246.7h0M218 247h0M218.9 247.2h0M220.2 246.7h0M223.8 247.1h0M225.1 247h0M227.9 247.1h0M229.3 247h0M230.6 247h0M233.6 246.7h0M243.9 247.1h0M246.1 246.9h0M253.9 246.9h0M256.1 247.2h0M259.7 247h0M263 247h0M265 246.8h0M266.3 247.1h0M268.3 247.1h0M274.2 246.8h0M275 246.8h0M209.8 247.8h0M222.2 247.9h0M223.1 247.8h0M225.3 248h0M233 248.1h0M238.6 247.7h0M245.6 248.1h0M248.6 248h0M252.1 248.1h0M255.6 247.8h0M256.6 248.2h0M266.7 248.1h0M272.2 247.8h0M273.7 247.9h0M274.6 248h0M277 248.1h0M207.7 249.2h0M213.5 248.8h0M214.9 248.8h0M217.9 249.2h0M223.9 248.9h0M225.9 248.6h0M228.2 248.8h0M229.1 248.6h0M235.2 248.9h0M238 248.9h0M241.9 249.1h0M245.1 249.1h0M247.3 249.1h0M255.1 248.7h0M256.2 249h0M257.2 249.1h0M258.5 248.9h0M264.3 248.9h0M267.6 249h0M277.3 249h0M278.4 248.8h0M209.9 249.9h0M214.4 249.7h0M217.3 249.9h0M226.8 250.1h0M227.5 249.7h0M228.8 250.2h0M230.7 249.9h0M233.5 249.7h0M238.7 249.9h0M241.1 249.8h0M249.1 250.1h0M252.5 249.8h0M259.2 249.6h0M260.1 250h0M263.3 249.8h0M264.8 250h0M266 249.8h0M276 250.1h0M278.1 250.2h0M207.9 251h0M217 250.8h0M239.2 251h0M242.9 250.6h0M245 250.7h0M253.8 250.6h0M256.4 250.9h0M257.6 250.6h0M259.4 250.8h0M262.7 250.9h0M266 251.1h0M269.8 251.1h0M270.8 251.2h0M277.3 250.8h0M217.7 252.1h0M218.8 252.1h0M222.9 251.8h0M229.8 251.6h0M230.8 251.6h0M232.4 252h0M235.3 251.7h0M241.3 252h0M242.1 251.6h0M243.1 251.8h0M246.9 251.6h0M248.1 251.8h0M249.9 251.7h0M251.1 252.1h0M260 252h0M261.2 252.1h0M265.6 252h0M270.3 251.6h0M275.7 252h0M277.2 252h0M208.9 253h0M210.2 252.6h0M211.2 253h0M213.5 252.9h0M215.9 252.9h0M216.9 252.6h0M221.5 252.7h0M222.9 252.7h0M223.5 252.8h0M227.1 252.8h0M232.6 252.6h0M233.7 252.7h0M234.8 252.7h0M236 252.6h0M237.2 253h0M240.6 253h0M242.7 252.5h0M247.2 252.9h0M249.6 252.7h0M254.1 253h0M257.3 253h0M258.2 252.8h0M259.6 253.1h0M262.8 252.6h0M266.4 252.8h0M267.4 252.7h0M268.5 253h0M271 252.9h0M273.8 252.9h0M275.1 253h0M277.8 252.6h0M278.4 252.8h0M210.8 253.6h0M211.7 253.7h0M213.3 253.5h0M214.3 253.9h0M215.2 253.7h0M216.6 254h0M230.7 253.7h0M234.6 253.9h0M238.8 253.8h0M239.7 253.8h0M246.6 253.7h0M253.3 253.6h0M254.7 253.8h0M260.3 253.7h0M262.3 254h0M263.3 253.8h0M274.6 253.9h0M276.9 253.9h0M211.3 254.9h0M212.8 254.9h0M217 254.5h0M219.5 254.6h0M223.5 254.6h0M232.9 254.9h0M233.9 254.6h0M235 254.5h0M240.7 254.7h0M244.1 254.5h0M245 254.7h0M250.7 254.9h0M256.3 254.6h0M257.4 254.8h0M259.5 254.9h0M262.8 254.7h0M263.8 254.8h0M266 254.6h0M274 254.9h0M277.3 254.6h0M278.4 254.7h0M214.3 255.9h0M215.4 255.6h0M218.9 255.6h0M221 255.9h0M222.1 255.8h0M225.1 255.8h0M226.4 256h0M227.4 255.9h0M230.8 255.8h0M232.3 256h0M239.8 255.6h0M241.1 255.8h0M244.4 255.8h0M248 255.8h0M250 256h0M252.3 255.7h0M253.5 256h0M263.7 256h0M264.5 255.8h0M265.9 256h0M268.2 255.7h0M272.7 256h0M273.6 255.8h0" stroke="#7868EE" stroke-width="1.15" stroke-linecap="round" fill="none"/>
<path d="M218.3 184.4h0M230.2 184.4h0M233.8 184.8h0M236.9 184.7h0M275.3 184.8h0M207.3 185.7h0M254.6 185.7h0M208.3 187.5h0M257.8 187.4h0M263.2 187.7h0M265.9 187.3h0M271.3 187.8h0M247.4 188.3h0M256.3 188.6h0M226.2 189.2h0M228.8 189.7h0M237.6 189.4h0M245.3 189.5h0M213.7 190.2h0M229.5 190.2h0M274.1 190.7h0M209.6 191.3h0M222.2 191.7h0M229.6 191.5h0M228.2 192.6h0M255.9 192.3h0M269.9 192.2h0M218.6 193.2h0M231.2 193.3h0M236.4 193.5h0M253.4 193.1h0M206.8 194.3h0M231.6 194.6h0M234.8 194.3h0M249.8 194.1h0M253.8 194.4h0M264.2 194.6h0M264.9 194.3h0M225.3 195.1h0M243.1 195.5h0M252 195.4h0M270.3 195.4h0M209.3 196.4h0M218.3 196.6h0M222.8 196.5h0M238.3 196.2h0M213.9 197.3h0M264.4 197.4h0M214.8 198.5h0M249.4 198.2h0M254.9 198.2h0M273.1 198.5h0M219.6 199.3h0M221.2 199.1h0M227.4 199.4h0M230.9 199.1h0M233 199.5h0M246.7 199.2h0M212.3 200.3h0M260.5 200.5h0M261.7 200.3h0M225.3 201.1h0M241.1 201.4h0M246.4 201.2h0M269.3 201.2h0M209.3 202.4h0M211.7 202.3h0M212.5 202.2h0M236.3 202h0M239.2 202.4h0M240.5 202.3h0M247 202h0M272.9 202.4h0M277.2 202h0M208.7 203.3h0M212 202.9h0M217.8 202.9h0M218.6 203.4h0M225.1 202.9h0M233 203.3h0M256.9 203.1h0M273.8 203.1h0M220.1 204.4h0M225 204.3h0M239.5 204.1h0M247.4 203.8h0M257.3 204.2h0M261.9 204.1h0M227.8 204.9h0M272.5 204.9h0M264.9 205.9h0M266.4 206.2h0M267.2 205.8h0M226.3 206.7h0M229.7 207.1h0M273.5 207.3h0M218.3 207.7h0M273.2 208.1h0M214 209.1h0M234.1 208.8h0M240.8 209.7h0M258.6 209.9h0M265.3 209.7h0M224.3 211.2h0M232.2 211.2h0M239.9 210.7h0M267.1 210.9h0M276.7 210.9h0M245 211.6h0M254.8 211.9h0M213.9 212.9h0M229.9 212.7h0M233.1 213h0M238.5 212.7h0M268.1 213h0M271.5 213.1h0M232.4 214h0M240.4 213.7h0M244.8 213.9h0M222.9 215.1h0M229.7 214.7h0M256.6 215h0M264.3 214.9h0M273.4 214.6h0M222.4 215.8h0M234.8 216.1h0M259.4 215.6h0M215.3 216.6h0M255.4 216.8h0M261.4 216.6h0M269.1 216.6h0M219.4 217.9h0M232.5 217.8h0M246.3 217.8h0M249.6 217.9h0M276.5 217.9h0M240.9 218.9h0M253.2 219h0M255.9 218.9h0M227.1 219.7h0M232.6 220h0M276.2 219.6h0M277.7 219.9h0M278.6 219.8h0M223.1 220.8h0M227.8 220.9h0M235.2 220.6h0M244.7 220.5h0M275.7 220.8h0M242.7 221.6h0M244.8 221.9h0M241.3 222.9h0M265.8 222.8h0M274.5 222.5h0M218.3 223.3h0M225.7 223.3h0M247.3 223.4h0M249.3 223.8h0M217.9 225.3h0M232.5 225.8h0M242.5 225.3h0M270.6 225.6h0M215.5 226.5h0M234.5 226.7h0M278.1 226.6h0M206.8 227.3h0M237.2 227.2h0M241.8 227.3h0M259.4 227.6h0M264.3 227.7h0M207.3 228.5h0M224.4 228.7h0M247.7 228.3h0M250.1 228.5h0M209.1 229.2h0M230.5 229.2h0M233.7 229.1h0M238.1 229.2h0M242.6 229.3h0M266.9 230.7h0M271.5 230.4h0M275.7 230.6h0M231.3 231.5h0M268.4 231.7h0M277.7 231.7h0M223 232.3h0M240 232.2h0M257.7 232.5h0M268.2 232.6h0M273.8 232.3h0M230.6 233.3h0M240.6 233.1h0M257.2 233.5h0M260.5 233.3h0M275.1 233.4h0M250.2 234.3h0M252.2 234.1h0M261.5 234.1h0M264.8 234.1h0M234.7 235.1h0M252.6 235.2h0M267.4 235.4h0M225.3 236.3h0M253.4 236h0M274.5 236.2h0M277.8 236.5h0M232.5 237h0M241.7 237.3h0M243 237.4h0M252.8 237.5h0M260.4 237.4h0M269.9 237.5h0M216.1 238.2h0M234.3 238.3h0M241.3 237.9h0M246.9 238.3h0M251.4 238.5h0M269.1 238.4h0M275.6 238.4h0M206.8 239.4h0M217.1 239.3h0M239.5 239h0M273 239.3h0M211.1 240.4h0M212 240h0M254.8 240h0M255.3 240.1h0M269.2 240.2h0M278 240.1h0M212.3 241.1h0M232.9 241.1h0M238.4 241.1h0M254.1 241.2h0M262.1 241.2h0M263.8 240.9h0M215 242.1h0M219 242.2h0M230.1 242h0M233.1 241.9h0M214.9 242.9h0M221.2 243.4h0M236 243.1h0M238.4 243.1h0M240.4 243.2h0M222 243.9h0M250.1 243.9h0M254.2 243.8h0M258.6 245.3h0M261.8 245.1h0M276.2 244.9h0M213 246.2h0M236.7 246.1h0M221.7 247.1h0M239.5 246.7h0M210.8 248h0M246.6 248.1h0M263.3 247.8h0M209.4 249.2h0M226.9 248.7h0M276.2 249.1h0M211.7 249.8h0M222.2 249.7h0M235.6 250h0M250.2 250.1h0M216.1 250.7h0M241.9 250.9h0M215.5 251.8h0M216.3 251.9h0M237.7 251.8h0M239.8 251.7h0M244.1 251.7h0M214.8 252.8h0M225 252.8h0M251.8 252.5h0M276.1 252.9h0M250.9 254.1h0M273.8 254h0M229.3 254.6h0M260.4 254.7h0M267.7 254.5h0M270.8 254.7h0M219.7 255.8h0M251.4 255.9h0M255.4 255.9h0M258.1 255.8h0" stroke="#C95BE0" stroke-width="1.15" stroke-linecap="round" fill="none"/>
<path d="M210.2 184.7h0M220.6 184.4h0M221.5 184.6h0M225.1 184.7h0M232.5 184.9h0M243 184.3h0M251.7 184.6h0M259.5 184.5h0M262.7 184.7h0M264.2 184.8h0M266.6 184.6h0M270.9 184.3h0M272.9 184.7h0M209.9 185.3h0M215.1 185.4h0M216.5 185.9h0M217.3 185.4h0M218.4 185.5h0M221.2 185.3h0M238.9 185.4h0M244.1 185.8h0M245.7 185.7h0M257.7 185.6h0M258.9 185.4h0M259.9 185.5h0M261.4 185.7h0M263.4 185.6h0M268 185.5h0M269.2 185.7h0M273.4 185.6h0M206.6 186.3h0M209 186.5h0M212.5 186.4h0M214.9 186.8h0M215.8 186.6h0M217.2 186.8h0M219.2 186.8h0M220.3 186.6h0M225.1 186.6h0M230.5 186.7h0M235.9 186.7h0M237.2 186.3h0M240.2 186.3h0M243.7 186.3h0M248.6 186.9h0M256.4 186.8h0M268.6 186.8h0M273.2 186.7h0M274 186.8h0M275.1 186.8h0M276.6 186.5h0M278.4 186.8h0M214.2 187.5h0M215.5 187.3h0M217.8 187.4h0M223.2 187.3h0M231.1 187.8h0M235.6 187.7h0M237.7 187.6h0M238.8 187.8h0M246.4 187.8h0M247.9 187.4h0M254.3 187.4h0M255.5 187.4h0M256.5 187.4h0M261 187.5h0M267.1 187.6h0M275.5 187.3h0M206.8 188.2h0M207.9 188.4h0M215.6 188.4h0M216.7 188.4h0M225.7 188.2h0M226.9 188.4h0M229.5 188.6h0M231.4 188.4h0M235.9 188.3h0M238 188.3h0M240.6 188.3h0M241.8 188.3h0M243 188.3h0M243.8 188.2h0M245.9 188.8h0M257 188.6h0M261.5 188.7h0M263.9 188.5h0M265.3 188.7h0M267.2 188.6h0M275 188.4h0M277.8 188.2h0M208.5 189.4h0M209.6 189.2h0M216.5 189.3h0M218.8 189.3h0M220 189.8h0M225.1 189.4h0M246.6 189.4h0M260.1 189.3h0M263.2 189.6h0M267.7 189.5h0M273.5 189.8h0M277 189.7h0M278.1 189.8h0M206.7 190.4h0M207.9 190.7h0M211.6 190.6h0M219.4 190.3h0M225.7 190.3h0M230.5 190.6h0M234.9 190.6h0M244.9 190.3h0M278.5 190.3h0M219.6 191.5h0M232.3 191.1h0M233.2 191.3h0M236.3 191.5h0M250.9 191.2h0M258.7 191.7h0M264.6 191.5h0M272.6 191.7h0M273.7 191.5h0M209.3 192.7h0M211.4 192.5h0M214.5 192.4h0M220.6 192.3h0M222.4 192.6h0M223.7 192.5h0M230.5 192.7h0M234.6 192.7h0M242.9 192.7h0M249.5 192.2h0M259.3 192.3h0M262 192.5h0M264 192.3h0M264.9 192.6h0M267.4 192.5h0M272 192.5h0M274.4 192.4h0M275.2 192.4h0M211.8 193.7h0M227.7 193.6h0M233.2 193.6h0M237.9 193.2h0M238.8 193.5h0M245.3 193.2h0M251 193.5h0M270.4 193.6h0M275.7 193.3h0M276.7 193.4h0M208 194.1h0M209.1 194.3h0M211.2 194.3h0M212.5 194.3h0M221.2 194.1h0M223.9 194.6h0M228.3 194.1h0M237.1 194.6h0M252.9 194.1h0M266 194.6h0M269.9 194.5h0M274.1 194.2h0M276.4 194.5h0M277.2 194.2h0M278.4 194.5h0M222 195.1h0M226.5 195.4h0M229.9 195.1h0M261 195.6h0M263.5 195.3h0M265.7 195.3h0M273.8 195.5h0M276.8 195h0M214.5 196.2h0M226 196.5h0M227.2 196.4h0M236 196.1h0M239.6 196.4h0M240.6 196.1h0M246 196.6h0M248.5 196.4h0M250.9 196h0M258.3 196.4h0M259.4 196.5h0M260.7 196.4h0M263.8 196.5h0M265.1 196.3h0M208.4 197.5h0M218.7 197.4h0M226.8 197.4h0M230.8 197.1h0M234.3 197.1h0M236.8 197.4h0M271.5 197.2h0M272.2 197.6h0M206.9 198.4h0M209.3 198h0M224.7 198.2h0M226.9 198.1h0M229.1 198.2h0M231.6 198.4h0M233.9 198.2h0M239.4 198.1h0M240.4 198.5h0M241.8 198.1h0M243.6 198h0M250.4 198.3h0M251.5 198.3h0M256.2 198.5h0M260.7 198.1h0M271.6 198h0M274.2 198.6h0M275.1 198.5h0M216.3 199.3h0M217.6 199.4h0M222 199.2h0M223 199.1h0M225.3 199.5h0M231.9 199.5h0M238 199.5h0M244.6 199.4h0M245.3 199.4h0M254.6 199.5h0M256.6 199.2h0M267 199.2h0M269.3 199h0M270.1 199h0M271.1 199.3h0M273.7 199.2h0M274.8 199.1h0M276.9 199.5h0M277.8 199.4h0M206.6 200.4h0M207.9 200.5h0M208.9 200.4h0M217 199.9h0M220.3 200.5h0M224.8 200.2h0M230.7 200.1h0M233.5 200.3h0M235.1 200.5h0M249.4 200.3h0M252.9 200.4h0M264 200.3h0M269.8 199.9h0M271 200.2h0M273.3 200.1h0M274.3 199.9h0M275.5 200.2h0M276.2 200.3h0M211.8 201.2h0M214.4 200.9h0M223.2 201h0M231.2 201.4h0M232.2 201.2h0M239.8 201.5h0M250.3 201h0M254.2 201.4h0M263.3 201.3h0M266 201h0M267.1 201.3h0M273.5 201.2h0M275 201.1h0M275.6 201h0M219.5 202h0M222.6 202.4h0M223.8 202h0M226 202h0M228.2 202.2h0M229.6 202.3h0M233.7 202.4h0M234.7 201.9h0M238.1 202.3h0M251.9 202.4h0M258.1 202h0M260.7 202.4h0M261.7 201.9h0M263 202.1h0M265.1 202.2h0M266.6 202.3h0M270.8 202.1h0M212.9 203.2h0M222.1 203.4h0M223.3 203.4h0M224.2 202.9h0M226.8 203.1h0M227.4 203.3h0M232.3 203.2h0M235.2 203h0M237.5 203.1h0M239.1 203.2h0M246.4 203.4h0M254.3 203.1h0M258.8 203.2h0M262.2 203.2h0M263.5 203.1h0M264.6 203.1h0M270.4 203.3h0M275.9 203h0M208.2 204.1h0M209 204.2h0M213.4 204.2h0M218.2 204.4h0M222.4 203.8h0M223.6 203.8h0M225.9 204h0M228.3 204.1h0M231.4 204.4h0M232.4 204.2h0M235 204.1h0M238 204h0M240.6 203.9h0M241.9 203.9h0M243.7 203.9h0M245 203.8h0M246.4 203.9h0M251.5 203.9h0M252.6 203.8h0M259.3 204.2h0M272.8 203.9h0M207.4 205.2h0M208.4 204.8h0M211.8 204.9h0M215 205.3h0M216.4 205.1h0M225.4 205.3h0M229 204.8h0M231 204.9h0M234.6 205h0M235.3 205.2h0M237.9 204.9h0M239.1 205.3h0M241.2 205.3h0M246.4 205.2h0M251.4 205h0M258 205.1h0M260.3 205.3h0M264.9 204.8h0M267 205h0M271.4 205.1h0M277.9 205.2h0M215.8 205.9h0M229.1 206h0M238.2 206.3h0M240.3 205.9h0M243 206h0M245.9 205.8h0M250.3 206.2h0M252.6 206.1h0M258.5 206h0M259.3 205.8h0M260.6 205.9h0M261.8 206.1h0M269.9 206h0M271.9 205.9h0M277.5 205.9h0M208.8 207.2h0M215.6 206.9h0M220 207.3h0M221 207.3h0M227.5 206.9h0M232.1 207.3h0M236.6 207h0M242.1 207.1h0M246.9 206.9h0M249.9 207.2h0M256.5 206.8h0M258 207.3h0M261.4 206.9h0M262.4 207.1h0M268.1 207h0M275.6 207.1h0M276.7 206.8h0M278.2 206.7h0M207.2 207.9h0M211.1 207.7h0M212.7 208.2h0M215 208h0M219 208h0M224.6 208.2h0M225.8 208.1h0M231.6 208.2h0M233.6 208.2h0M241.4 207.7h0M249.4 208.1h0M255 208.2h0M257.5 208.1h0M260.6 208.1h0M262.9 207.8h0M267.3 207.7h0M268.5 208.2h0M270.5 208.3h0M271.9 207.8h0M275.2 208h0M208.3 209.2h0M217.6 208.7h0M221.1 209.2h0M224.1 208.7h0M225.5 209.3h0M227.8 209.1h0M230 208.8h0M231.1 209h0M232.4 209.2h0M232.9 208.8h0M235.6 208.7h0M244.4 208.8h0M254.3 208.7h0M255.5 208.9h0M257.7 208.8h0M259.9 209h0M277 208.9h0M216.9 210.1h0M223.8 210.1h0M228.1 209.7h0M237.1 209.9h0M242.6 210.1h0M247.1 209.7h0M248.4 209.8h0M249.7 210.1h0M255.9 209.8h0M257.3 209.9h0M260.5 209.8h0M266.1 210.2h0M269.4 209.8h0M278.7 210.1h0M207.5 210.9h0M220.8 211.2h0M228.5 210.6h0M233.3 210.9h0M234.4 210.9h0M236.6 210.6h0M238.7 210.9h0M242.2 210.8h0M244.3 210.8h0M246.9 211.1h0M256.9 211.2h0M261.5 211.2h0M262.1 211.2h0M271.4 211h0M272.1 210.9h0M218 211.6h0M219.5 211.9h0M223.5 211.7h0M224.8 212.1h0M227.2 211.7h0M230.4 211.8h0M233.9 211.9h0M235.1 211.9h0M236.3 212.2h0M238 211.8h0M249.4 212.1h0M250.7 212h0M258.4 211.7h0M260.9 211.8h0M261.6 211.8h0M262.8 212h0M264.1 211.9h0M207.5 213h0M212.1 213h0M219.6 212.6h0M221.1 212.9h0M223.3 212.6h0M238 213.1h0M243.3 213.1h0M245.5 213.1h0M246.8 212.9h0M252.1 213.1h0M258.7 213h0M261.5 212.6h0M262.3 213h0M265.8 213.1h0M269 212.8h0M274.4 212.9h0M207.1 214.1h0M210.4 214h0M211.2 214.1h0M214.9 214h0M237.4 214.1h0M238.2 213.7h0M247 213.7h0M252 213.8h0M255.9 214h0M259.8 213.9h0M260.5 213.7h0M261.6 213.9h0M265.4 213.6h0M269.7 214h0M271.7 213.7h0M275.4 214.1h0M278.7 213.8h0M216.6 215h0M238.9 214.6h0M240.2 214.7h0M246.8 214.7h0M250.3 214.8h0M254.5 214.7h0M257.9 214.8h0M261.3 215.1h0M263.2 214.9h0M265.6 215.1h0M267.8 215h0M271.5 215h0M277 215h0M211.4 216h0M212.4 215.7h0M213.4 215.9h0M233.8 215.8h0M249.5 215.8h0M255.3 215.5h0M256 216h0M257.1 215.6h0M260.7 216.1h0M265.4 215.7h0M270.9 215.8h0M276.2 216h0M277.3 216h0M212 216.6h0M235.8 217.1h0M237.5 216.9h0M246.8 216.7h0M252.2 216.9h0M256.6 217h0M263.3 216.8h0M264.5 216.8h0M268 216.6h0M272.4 216.8h0M273.5 216.9h0M275.6 216.7h0M207.1 218h0M211.6 217.6h0M215 217.9h0M231.6 218h0M236.3 218h0M238.5 217.9h0M240.6 218h0M241.8 217.5h0M242.6 218h0M243.9 217.6h0M245.1 218h0M248.5 217.6h0M252.6 217.8h0M256.3 217.7h0M260.8 217.8h0M262.6 217.7h0M210 218.5h0M213.2 219h0M218.9 218.4h0M232.1 218.9h0M235.7 218.7h0M238.8 218.8h0M246.6 218.7h0M247.9 219h0M248.7 218.6h0M257.8 218.9h0M259.9 218.7h0M265.4 219h0M269.9 218.9h0M271.1 218.9h0M273.6 218.5h0M278 219h0M207.1 219.5h0M210 219.8h0M212.5 219.5h0M217 219.8h0M218.4 220h0M221.4 219.4h0M223.6 219.8h0M224.7 219.8h0M237.1 220h0M244.9 219.8h0M247.3 219.8h0M250.8 219.9h0M258.4 219.5h0M259.6 219.7h0M262.9 219.9h0M265 219.7h0M269.4 220h0M272.8 219.5h0M222 220.5h0M225.3 220.9h0M236.6 220.5h0M237.8 220.4h0M249.1 220.5h0M254.3 220.5h0M255.5 220.9h0M271.1 220.5h0M233.9 221.4h0M237.4 221.6h0M238.1 221.6h0M239.1 221.9h0M240.8 221.6h0M249.5 221.5h0M256.4 221.9h0M270.8 221.9h0M273.2 221.4h0M207.3 222.4h0M215.3 222.9h0M218.8 222.5h0M219.9 222.4h0M226.3 222.9h0M237.8 222.8h0M239 222.4h0M242.2 222.7h0M244.5 222.8h0M248.9 222.7h0M257.8 222.8h0M262.5 222.4h0M263.7 222.6h0M266.8 222.8h0M267.8 222.7h0M271.3 222.7h0M272.5 222.6h0M206.9 223.4h0M224.6 223.4h0M227.1 223.9h0M233.9 223.8h0M240.3 223.9h0M255.4 223.6h0M256 223.6h0M268.4 223.7h0M271.8 223.7h0M273 223.5h0M276.6 223.4h0M224.5 224.7h0M231.3 224.4h0M233.1 224.7h0M236.5 224.3h0M237.8 224.8h0M244.1 224.7h0M246.6 224.5h0M252.2 224.8h0M213.9 225.7h0M214.7 225.3h0M219.5 225.7h0M220.4 225.6h0M221.7 225.8h0M223.6 225.3h0M237 225.6h0M238.2 225.7h0M253.1 225.6h0M255.2 225.7h0M265.1 225.3h0M273.1 225.8h0M278.3 225.4h0M211.9 226.3h0M225.7 226.8h0M227.5 226.5h0M229.8 226.6h0M236.7 226.3h0M239 226.4h0M245.7 226.2h0M254.7 226.4h0M259.2 226.2h0M259.9 226.2h0M261.3 226.6h0M262.6 226.3h0M269.1 226.4h0M271.4 226.8h0M273.4 226.2h0M274.5 226.5h0M217.9 227.7h0M224.9 227.4h0M228.3 227.7h0M245.2 227.4h0M252.7 227.7h0M255 227.6h0M260.7 227.8h0M261.9 227.4h0M265.1 227.5h0M268.4 227.6h0M272 227.5h0M210.6 228.4h0M223.4 228.7h0M225.4 228.4h0M229 228.4h0M235.2 228.3h0M237.5 228.2h0M252.4 228.3h0M258.7 228.4h0M268.8 228.4h0M270.3 228.6h0M273.7 228.5h0M217.2 229.5h0M220.2 229.4h0M236.2 229.2h0M236.9 229.7h0M240.5 229.6h0M241.9 229.6h0M249.7 229.4h0M252.9 229.6h0M268.4 229.2h0M269.6 229.7h0M271.6 229.7h0M277.6 229.5h0M278.3 229.3h0M214.1 230.6h0M217.3 230.6h0M218.8 230.3h0M219.9 230.5h0M222.2 230.1h0M226.7 230.4h0M227.5 230.3h0M228.7 230.6h0M230.8 230.6h0M232.3 230.6h0M234.2 230.2h0M235.7 230.7h0M238 230.1h0M245.6 230.5h0M250.1 230.6h0M254.5 230.6h0M260.1 230.3h0M262.4 230.3h0M264.9 230.6h0M218.3 231.3h0M223.8 231.1h0M224.8 231.3h0M227.1 231.5h0M228.2 231.5h0M229.1 231.3h0M230.6 231.4h0M233.8 231.6h0M235 231.1h0M239.1 231.4h0M246.3 231.2h0M260.4 231.4h0M267.3 231.2h0M269.9 231.5h0M271.7 231.6h0M272.9 231.6h0M274.3 231.2h0M275 231.2h0M220.7 232.2h0M226.6 232.3h0M230 232.2h0M233.2 232.6h0M236.3 232.1h0M237.6 232.2h0M238.9 232.2h0M260.1 232.1h0M263.2 232.3h0M269.2 232.6h0M271 232.2h0M275.5 232.7h0M217.9 233.3h0M222.8 233.5h0M223.7 233.5h0M228.1 233.2h0M229.4 233.1h0M233.6 233.5h0M235.8 233.4h0M237.4 233.5h0M241.8 233.3h0M277.5 233.4h0M218.8 234.4h0M225.2 234.6h0M227.6 234.4h0M228.5 234.2h0M229.8 234.2h0M232.3 234.3h0M233.4 234h0M237.7 234.2h0M239.1 234.1h0M247.6 234.6h0M270.4 234.4h0M273.3 234.1h0M220.2 235.1h0M221.3 235.3h0M239.4 235.2h0M241.6 235h0M254.1 235.3h0M257.5 235.5h0M264.3 235.5h0M265.4 235.5h0M268.3 235.2h0M270.8 235.5h0M272.8 235h0M216.5 236.1h0M217.7 236.1h0M218.6 236.2h0M222.3 236.4h0M227.9 236.3h0M228.6 236.2h0M238.6 236.1h0M272.6 236.5h0M276.7 236.4h0M209.3 237.3h0M212.7 237.1h0M217.2 237.5h0M219.5 237.1h0M220.2 237h0M221.5 237.1h0M224.8 237.5h0M227.3 237.2h0M230.6 237.4h0M236.3 237.2h0M237.2 237.1h0M238.6 237.5h0M239.1 237.3h0M244.8 236.9h0M256 237.2h0M264.2 237.2h0M271.9 237h0M209.7 238.2h0M214.1 237.9h0M221 238h0M223.4 238.1h0M229 238.3h0M229.6 238.4h0M232.4 238.2h0M235.6 238.2h0M236.4 238.3h0M239.9 238.3h0M249.1 238.1h0M259 238.2h0M260.3 238.2h0M264.8 238.1h0M268.2 238h0M272.7 238.3h0M273.6 238.2h0M208 239.2h0M209.2 239.2h0M211.6 239h0M218.3 238.9h0M220.1 239.2h0M221.7 238.9h0M222.8 239.2h0M225.1 239h0M225.8 239.4h0M233.7 239h0M243.6 239.1h0M248.3 239.3h0M254.2 239.3h0M259.5 239h0M265.3 239.1h0M278.5 239.2h0M207.6 240.4h0M222.2 239.9h0M224 240.1h0M226.6 240.1h0M231 240.1h0M235.6 240.1h0M243.2 240.4h0M253.4 240.1h0M209.2 241h0M216.1 240.9h0M223.6 240.9h0M225.7 241.4h0M229.2 241.3h0M231.6 241.4h0M241.9 240.9h0M243.6 241.1h0M252.9 241.2h0M256.3 241.3h0M271.8 241.3h0M274.4 241.2h0M277.6 241.2h0M223.3 242h0M224.2 242h0M243.2 242h0M248.7 242h0M252.2 242.1h0M253.6 241.8h0M256.8 242.2h0M257.8 241.9h0M268.1 242.1h0M276.9 242.1h0M277.8 241.9h0M208.1 243.2h0M209.2 242.8h0M210.5 243h0M219.4 243.4h0M220.4 243h0M222.7 243.3h0M224.7 242.9h0M227.4 242.8h0M229.3 242.8h0M230.3 243h0M232.5 243h0M237.2 242.8h0M243 243.2h0M254.1 242.8h0M261.9 243.2h0M265.2 243h0M276.6 243h0M277.5 243.1h0M207.6 243.9h0M215.2 244h0M225.1 243.8h0M230.1 244.2h0M230.7 244h0M232.4 243.9h0M233.2 244.3h0M234.3 243.8h0M239.8 244.2h0M241.2 244.3h0M243.3 244.3h0M244.6 244.1h0M248.6 243.9h0M268.1 244.3h0M273.6 244.3h0M277.1 244.4h0M210.4 245.2h0M211.6 244.8h0M216 244.9h0M217.1 244.9h0M221.5 245h0M224.8 244.9h0M225.8 245h0M226.8 244.9h0M228.4 244.9h0M229.4 244.9h0M232.9 244.9h0M241.9 245.3h0M243.7 244.9h0M247.3 244.9h0M252.6 245h0M254.2 244.9h0M265.4 244.9h0M267.7 245.1h0M270.8 245.2h0M208.3 246h0M210.6 245.8h0M212 246.1h0M222.3 246.2h0M241.1 245.8h0M253.2 246h0M255.7 246h0M256.8 245.8h0M262.3 245.9h0M266.8 246.2h0M270.2 245.7h0M272.6 246h0M277.1 246.2h0M206.6 247.2h0M209.2 247.1h0M210.3 246.8h0M215 247.1h0M231.3 247h0M232.9 246.8h0M234.9 246.8h0M240.8 247.1h0M245.1 246.9h0M249.7 247.1h0M251.7 247h0M264.1 247.2h0M270.6 246.9h0M272.9 246.7h0M277.2 246.7h0M214.3 248.1h0M226.5 247.9h0M234.4 248h0M235.4 247.8h0M237.6 248.2h0M241.1 248.2h0M242.1 247.8h0M244.7 248.2h0M247.6 247.9h0M251.4 248.1h0M253.6 248h0M254.6 247.7h0M258.1 247.8h0M260 247.8h0M262.6 248.1h0M264.8 247.8h0M275.8 248h0M207.2 249.2h0M211.6 248.8h0M212.8 248.7h0M215.6 248.7h0M230.1 249h0M231.6 249.1h0M233.6 248.8h0M249.4 249.1h0M251.6 249.2h0M253.7 248.9h0M259.6 248.7h0M260.7 249.1h0M263.2 249.2h0M264.9 248.7h0M270.5 249.1h0M271.7 248.7h0M273.3 249h0M208.5 249.9h0M213 249.8h0M215.2 250h0M216.1 250.1h0M219.9 249.8h0M221.1 250.2h0M225.4 249.9h0M234.3 250h0M246.5 250.1h0M247.5 249.9h0M254.8 249.7h0M255.4 249.9h0M258 249.9h0M266.5 249.7h0M269.1 249.8h0M274.9 249.8h0M210 250.9h0M211.4 250.9h0M213.5 250.8h0M220.1 251h0M221.2 250.7h0M227 250.8h0M228.2 250.9h0M237.1 250.6h0M238 251.1h0M243.9 250.9h0M248.4 251h0M249.6 251h0M252.6 251.1h0M260.4 250.6h0M263.9 251.1h0M267.3 250.7h0M271.9 250.8h0M275.2 250.9h0M278.3 251h0M214.3 251.6h0M220.9 251.6h0M225.2 252.1h0M226.7 251.9h0M227.6 251.8h0M248.9 252.1h0M258.7 252h0M262.1 251.6h0M263.6 252.1h0M271.2 252h0M273.8 252h0M212.3 252.6h0M226 252.6h0M229.2 252.5h0M230.6 253.1h0M231.7 252.9h0M244 252.8h0M244.8 252.7h0M246.3 252.8h0M248.5 252.6h0M252.8 253h0M260.6 252.5h0M269.7 252.7h0M271.8 252.8h0M220.9 253.7h0M224.3 253.6h0M225.5 253.7h0M237.6 253.6h0M248.7 254.1h0M249.8 253.8h0M255.9 254.1h0M264.6 253.6h0M268.9 253.8h0M270.4 253.5h0M271.1 253.7h0M275.9 253.6h0M214.5 255.1h0M220.5 255h0M221.5 254.8h0M222.7 254.7h0M225.1 254.7h0M227.2 255h0M228.1 254.7h0M235.8 255.1h0M242.5 254.9h0M247.4 254.8h0M252 254.6h0M252.8 254.7h0M254.9 254.8h0M265.2 254.5h0M268.8 254.5h0M275.4 254.9h0M223 255.7h0M230.1 255.6h0M234.5 255.9h0M235.7 255.8h0M236.7 255.9h0M238 255.9h0M246.6 255.5h0M256.9 255.6h0M258.7 255.6h0M259.8 255.5h0M261.2 255.7h0M269.2 255.6h0M271.5 256h0M274.6 256h0M277.1 256h0" stroke="#DCD2E6" stroke-width="1.15" stroke-linecap="round" fill="none"/>
</g>
<path d="M203.3 183.2V259.6H282" fill="none" stroke="#bbb" stroke-width="0.5"/>
<line x1="206.2" y1="259.6" x2="206.2" y2="260.8" stroke="#999" stroke-width="0.4"/>
<text x="206.2" y="266.2" font-size="5.2" fill="#222" text-anchor="middle">0</text>
<line x1="235.3" y1="259.6" x2="235.3" y2="260.8" stroke="#999" stroke-width="0.4"/>
<text x="235.3" y="266.2" font-size="5.2" fill="#222" text-anchor="middle">50</text>
<line x1="263.3" y1="259.6" x2="263.3" y2="260.8" stroke="#999" stroke-width="0.4"/>
<text x="263.3" y="266.2" font-size="5.2" fill="#222" text-anchor="middle">100</text>
<line x1="202.1" y1="184" x2="203.3" y2="184" stroke="#999" stroke-width="0.4"/>
<text x="201.3" y="185.8" font-size="5.2" fill="#222" text-anchor="end">0</text>
<line x1="202.1" y1="202.8" x2="203.3" y2="202.8" stroke="#999" stroke-width="0.4"/>
<text x="201.3" y="204.6" font-size="5.2" fill="#222" text-anchor="end">-20</text>
<line x1="202.1" y1="221.5" x2="203.3" y2="221.5" stroke="#999" stroke-width="0.4"/>
<text x="201.3" y="223.3" font-size="5.2" fill="#222" text-anchor="end">-40</text>
<line x1="202.1" y1="240.2" x2="203.3" y2="240.2" stroke="#999" stroke-width="0.4"/>
<text x="201.3" y="242" font-size="5.2" fill="#222" text-anchor="end">-60</text>
<line x1="202.1" y1="259" x2="203.3" y2="259" stroke="#999" stroke-width="0.4"/>
<text x="201.3" y="260.8" font-size="5.2" fill="#222" text-anchor="end">-80</text>
<text x="247.3" y="180.6" font-size="5.8" fill="#111" text-anchor="middle" font-weight="bold">MIF_CD74</text>
<text x="190.9" y="221.1" font-size="10.8" fill="#111" text-anchor="middle" transform="rotate(-90 190.9 221.1)" textLength="33.6" lengthAdjust="spacingAndGlyphs">BRCA2</text>
<rect x="209.2" y="212" width="26.7" height="12" fill="none" stroke="#333" stroke-width="0.5"/>
<rect x="259.6" y="230.6" width="16.2" height="11.9" fill="none" stroke="#333" stroke-width="0.5"/>
<line x1="235.9" y1="212" x2="293.71" y2="193.72" stroke="#222" stroke-width="0.45"/><polygon points="296,193 294.02,194.68 293.41,192.76" fill="#222"/>
<line x1="275.8" y1="236.5" x2="294.6" y2="236.5" stroke="#222" stroke-width="0.45"/><polygon points="297,236.5 294.6,237.51 294.6,235.49" fill="#222"/>
<rect x="296.1" y="181.5" width="57.2" height="27.2" fill="#E4D0EC" stroke="#333" stroke-width="0.8"/>
<path d="M306.7 182.5h0M313.1 182.5h0M314.7 182.5h0M319.5 182.5h0M321.1 182.5h0M322.7 182.5h0M335.5 182.5h0M337.1 182.5h0M338.7 182.5h0M341.9 182.5h0M343.5 182.5h0M346.7 182.5h0M349.9 182.5h0M301.1 183.9h0M305.9 183.9h0M309.1 183.9h0M313.9 183.9h0M320.3 183.9h0M325.1 183.9h0M328.3 183.9h0M329.9 183.9h0M333.1 183.9h0M336.3 183.9h0M339.5 183.9h0M345.9 183.9h0M347.5 183.9h0M349.1 183.9h0M350.7 183.9h0M297.1 185.2h0M314.7 185.2h0M319.5 185.2h0M327.5 185.2h0M329.1 185.2h0M330.7 185.2h0M332.3 185.2h0M338.7 185.2h0M346.7 185.2h0M348.3 185.2h0M351.5 185.2h0M307.5 186.6h0M313.9 186.6h0M317.1 186.6h0M321.9 186.6h0M328.3 186.6h0M329.9 186.6h0M333.1 186.6h0M334.7 186.6h0M350.7 186.6h0M352.3 186.6h0M322.7 188h0M329.1 188h0M330.7 188h0M332.3 188h0M337.1 188h0M345.1 188h0M346.7 188h0M348.3 188h0M349.9 188h0M351.5 188h0M301.1 189.4h0M302.7 189.4h0M309.1 189.4h0M312.3 189.4h0M315.5 189.4h0M318.7 189.4h0M320.3 189.4h0M323.5 189.4h0M325.1 189.4h0M326.7 189.4h0M329.9 189.4h0M334.7 189.4h0M336.3 189.4h0M337.9 189.4h0M339.5 189.4h0M342.7 189.4h0M345.9 189.4h0M347.5 189.4h0M349.1 189.4h0M311.5 190.8h0M314.7 190.8h0M316.3 190.8h0M321.1 190.8h0M325.9 190.8h0M327.5 190.8h0M329.1 190.8h0M330.7 190.8h0M333.9 190.8h0M340.3 190.8h0M345.1 190.8h0M348.3 190.8h0M349.9 190.8h0M351.5 190.8h0M299.5 192.2h0M304.3 192.2h0M312.3 192.2h0M313.9 192.2h0M321.9 192.2h0M323.5 192.2h0M325.1 192.2h0M326.7 192.2h0M333.1 192.2h0M336.3 192.2h0M337.9 192.2h0M344.3 192.2h0M347.5 192.2h0M349.1 192.2h0M350.7 192.2h0M352.3 192.2h0M306.7 193.6h0M332.3 193.6h0M333.9 193.6h0M337.1 193.6h0M351.5 193.6h0M312.3 195h0M350.7 195h0M352.3 195h0M298.7 196.4h0M322.7 196.4h0M338.7 196.4h0M341.9 196.4h0M346.7 196.4h0M349.9 196.4h0M325.1 197.8h0M341.1 197.8h0M350.7 197.8h0M352.3 197.8h0M305.1 199.2h0M308.3 199.2h0M319.5 199.2h0M321.1 199.2h0M322.7 199.2h0M330.7 199.2h0M337.1 199.2h0M340.3 199.2h0M341.9 199.2h0M304.3 200.6h0M326.7 200.6h0M333.1 200.6h0M309.9 201.9h0M340.3 201.9h0M315.5 203.3h0M328.3 203.3h0M298.7 204.7h0M330.7 204.7h0M351.5 204.7h0M297.9 206.1h0M326.7 206.1h0M328.3 206.1h0M331.5 206.1h0M344.3 206.1h0M300.3 207.5h0M303.5 207.5h0M313.1 207.5h0M321.1 207.5h0M322.7 207.5h0M327.5 207.5h0M346.7 207.5h0" stroke="#DCCBE4" stroke-width="1.31" stroke-linecap="round" fill="none"/>
<path d="M316.3 182.5h0M330.7 182.5h0M332.3 182.5h0M345.1 182.5h0M351.5 182.5h0M312.3 183.9h0M317.1 183.9h0M318.7 183.9h0M321.9 183.9h0M352.3 183.9h0M313.1 185.2h0M316.3 185.2h0M322.7 185.2h0M337.1 185.2h0M340.3 185.2h0M343.5 185.2h0M326.7 186.6h0M331.5 186.6h0M337.9 186.6h0M339.5 186.6h0M342.7 186.6h0M344.3 186.6h0M345.9 186.6h0M319.5 188h0M335.5 188h0M340.3 188h0M317.1 189.4h0M350.7 189.4h0M298.7 190.8h0M313.1 190.8h0M317.9 190.8h0M322.7 190.8h0M324.3 190.8h0M335.5 190.8h0M338.7 190.8h0M341.9 190.8h0M346.7 190.8h0M310.7 192.2h0M315.5 192.2h0M331.5 192.2h0M334.7 192.2h0M342.7 192.2h0M313.1 193.6h0M314.7 193.6h0M316.3 193.6h0M317.9 193.6h0M321.1 193.6h0M327.5 193.6h0M330.7 193.6h0M335.5 193.6h0M341.9 193.6h0M313.9 195h0M317.1 195h0M318.7 195h0M320.3 195h0M323.5 195h0M326.7 195h0M328.3 195h0M329.9 195h0M331.5 195h0M333.1 195h0M334.7 195h0M336.3 195h0M341.1 195h0M342.7 195h0M344.3 195h0M349.1 195h0M309.9 196.4h0M319.5 196.4h0M321.1 196.4h0M327.5 196.4h0M333.9 196.4h0M335.5 196.4h0M340.3 196.4h0M343.5 196.4h0M345.1 196.4h0M348.3 196.4h0M313.9 197.8h0M317.1 197.8h0M318.7 197.8h0M320.3 197.8h0M321.9 197.8h0M323.5 197.8h0M328.3 197.8h0M329.9 197.8h0M331.5 197.8h0M334.7 197.8h0M337.9 197.8h0M342.7 197.8h0M344.3 197.8h0M345.9 197.8h0M297.1 199.2h0M300.3 199.2h0M309.9 199.2h0M313.1 199.2h0M316.3 199.2h0M327.5 199.2h0M329.1 199.2h0M332.3 199.2h0M333.9 199.2h0M335.5 199.2h0M338.7 199.2h0M343.5 199.2h0M345.1 199.2h0M346.7 199.2h0M348.3 199.2h0M349.9 199.2h0M297.9 200.6h0M299.5 200.6h0M302.7 200.6h0M307.5 200.6h0M309.1 200.6h0M310.7 200.6h0M313.9 200.6h0M317.1 200.6h0M320.3 200.6h0M323.5 200.6h0M328.3 200.6h0M329.9 200.6h0M331.5 200.6h0M334.7 200.6h0M337.9 200.6h0M339.5 200.6h0M342.7 200.6h0M344.3 200.6h0M345.9 200.6h0M352.3 200.6h0M297.1 201.9h0M301.9 201.9h0M305.1 201.9h0M308.3 201.9h0M311.5 201.9h0M317.9 201.9h0M319.5 201.9h0M321.1 201.9h0M322.7 201.9h0M324.3 201.9h0M329.1 201.9h0M330.7 201.9h0M332.3 201.9h0M335.5 201.9h0M338.7 201.9h0M341.9 201.9h0M343.5 201.9h0M345.1 201.9h0M346.7 201.9h0M348.3 201.9h0M349.9 201.9h0M351.5 201.9h0M299.5 203.3h0M301.1 203.3h0M307.5 203.3h0M317.1 203.3h0M318.7 203.3h0M320.3 203.3h0M321.9 203.3h0M323.5 203.3h0M326.7 203.3h0M331.5 203.3h0M333.1 203.3h0M334.7 203.3h0M336.3 203.3h0M339.5 203.3h0M345.9 203.3h0M352.3 203.3h0M297.1 204.7h0M301.9 204.7h0M305.1 204.7h0M306.7 204.7h0M308.3 204.7h0M314.7 204.7h0M316.3 204.7h0M317.9 204.7h0M319.5 204.7h0M321.1 204.7h0M324.3 204.7h0M325.9 204.7h0M327.5 204.7h0M329.1 204.7h0M332.3 204.7h0M338.7 204.7h0M341.9 204.7h0M345.1 204.7h0M346.7 204.7h0M349.9 204.7h0M302.7 206.1h0M305.9 206.1h0M307.5 206.1h0M309.1 206.1h0M312.3 206.1h0M313.9 206.1h0M320.3 206.1h0M323.5 206.1h0M336.3 206.1h0M337.9 206.1h0M339.5 206.1h0M341.1 206.1h0M342.7 206.1h0M347.5 206.1h0M349.1 206.1h0M298.7 207.5h0M301.9 207.5h0M305.1 207.5h0M306.7 207.5h0M316.3 207.5h0M325.9 207.5h0M330.7 207.5h0M332.3 207.5h0M333.9 207.5h0M340.3 207.5h0M341.9 207.5h0M343.5 207.5h0M348.3 207.5h0M349.9 207.5h0" stroke="#F04A6A" stroke-width="1.31" stroke-linecap="round" fill="none"/>
<path d="M297.1 182.5h0M298.7 182.5h0M300.3 182.5h0M301.9 182.5h0M305.1 182.5h0M308.3 182.5h0M309.9 182.5h0M311.5 182.5h0M317.9 182.5h0M325.9 182.5h0M327.5 182.5h0M329.1 182.5h0M340.3 182.5h0M297.9 183.9h0M299.5 183.9h0M302.7 183.9h0M304.3 183.9h0M307.5 183.9h0M310.7 183.9h0M326.7 183.9h0M331.5 183.9h0M341.1 183.9h0M344.3 183.9h0M298.7 185.2h0M300.3 185.2h0M301.9 185.2h0M303.5 185.2h0M305.1 185.2h0M306.7 185.2h0M308.3 185.2h0M309.9 185.2h0M311.5 185.2h0M321.1 185.2h0M324.3 185.2h0M325.9 185.2h0M341.9 185.2h0M349.9 185.2h0M297.9 186.6h0M299.5 186.6h0M301.1 186.6h0M302.7 186.6h0M304.3 186.6h0M305.9 186.6h0M309.1 186.6h0M310.7 186.6h0M312.3 186.6h0M315.5 186.6h0M336.3 186.6h0M341.1 186.6h0M349.1 186.6h0M297.1 188h0M298.7 188h0M300.3 188h0M305.1 188h0M306.7 188h0M309.9 188h0M311.5 188h0M313.1 188h0M316.3 188h0M325.9 188h0M327.5 188h0M333.9 188h0M343.5 188h0M297.9 189.4h0M299.5 189.4h0M304.3 189.4h0M305.9 189.4h0M307.5 189.4h0M310.7 189.4h0M321.9 189.4h0M328.3 189.4h0M331.5 189.4h0M341.1 189.4h0M344.3 189.4h0M300.3 190.8h0M303.5 190.8h0M305.1 190.8h0M306.7 190.8h0M308.3 190.8h0M309.9 190.8h0M319.5 190.8h0M332.3 190.8h0M343.5 190.8h0M297.9 192.2h0M301.1 192.2h0M302.7 192.2h0M305.9 192.2h0M307.5 192.2h0M309.1 192.2h0M318.7 192.2h0M339.5 192.2h0M297.1 193.6h0M298.7 193.6h0M300.3 193.6h0M301.9 193.6h0M303.5 193.6h0M305.1 193.6h0M308.3 193.6h0M309.9 193.6h0M311.5 193.6h0M322.7 193.6h0M324.3 193.6h0M329.1 193.6h0M345.1 193.6h0M346.7 193.6h0M348.3 193.6h0M297.9 195h0M299.5 195h0M301.1 195h0M302.7 195h0M304.3 195h0M305.9 195h0M309.1 195h0M310.7 195h0M315.5 195h0M339.5 195h0M345.9 195h0M347.5 195h0M297.1 196.4h0M300.3 196.4h0M301.9 196.4h0M303.5 196.4h0M305.1 196.4h0M306.7 196.4h0M308.3 196.4h0M317.9 196.4h0M324.3 196.4h0M330.7 196.4h0M297.9 197.8h0M299.5 197.8h0M301.1 197.8h0M302.7 197.8h0M304.3 197.8h0M305.9 197.8h0M307.5 197.8h0M309.1 197.8h0M310.7 197.8h0M312.3 197.8h0M326.7 197.8h0M336.3 197.8h0M339.5 197.8h0M306.7 199.2h0M314.7 199.2h0M324.3 199.2h0M325.9 199.2h0M351.5 199.2h0M305.9 200.6h0M325.1 200.6h0M341.1 200.6h0M349.1 200.6h0M298.7 201.9h0M314.7 201.9h0M316.3 201.9h0M325.9 201.9h0M327.5 201.9h0M337.1 201.9h0M302.7 203.3h0M304.3 203.3h0M305.9 203.3h0M309.1 203.3h0M310.7 203.3h0M312.3 203.3h0M313.9 203.3h0M325.1 203.3h0M329.9 203.3h0M337.9 203.3h0M341.1 203.3h0M342.7 203.3h0M344.3 203.3h0M349.1 203.3h0M350.7 203.3h0M300.3 204.7h0M313.1 204.7h0M322.7 204.7h0M337.1 204.7h0M340.3 204.7h0M299.5 206.1h0M304.3 206.1h0M310.7 206.1h0M321.9 206.1h0M325.1 206.1h0M333.1 206.1h0M334.7 206.1h0M345.9 206.1h0M350.7 206.1h0M297.1 207.5h0M308.3 207.5h0M324.3 207.5h0M335.5 207.5h0M338.7 207.5h0" stroke="#5A50F0" stroke-width="1.31" stroke-linecap="round" fill="none"/>
<path d="M303.5 182.5h0M324.3 182.5h0M333.9 182.5h0M348.3 182.5h0M315.5 183.9h0M323.5 183.9h0M334.7 183.9h0M337.9 183.9h0M342.7 183.9h0M317.9 185.2h0M333.9 185.2h0M335.5 185.2h0M345.1 185.2h0M318.7 186.6h0M320.3 186.6h0M323.5 186.6h0M325.1 186.6h0M347.5 186.6h0M301.9 188h0M303.5 188h0M308.3 188h0M314.7 188h0M317.9 188h0M321.1 188h0M324.3 188h0M338.7 188h0M341.9 188h0M313.9 189.4h0M333.1 189.4h0M352.3 189.4h0M297.1 190.8h0M301.9 190.8h0M337.1 190.8h0M317.1 192.2h0M320.3 192.2h0M328.3 192.2h0M329.9 192.2h0M341.1 192.2h0M345.9 192.2h0M319.5 193.6h0M325.9 193.6h0M338.7 193.6h0M340.3 193.6h0M343.5 193.6h0M349.9 193.6h0M307.5 195h0M321.9 195h0M325.1 195h0M337.9 195h0M311.5 196.4h0M313.1 196.4h0M314.7 196.4h0M316.3 196.4h0M325.9 196.4h0M329.1 196.4h0M332.3 196.4h0M337.1 196.4h0M351.5 196.4h0M315.5 197.8h0M333.1 197.8h0M347.5 197.8h0M349.1 197.8h0M298.7 199.2h0M301.9 199.2h0M303.5 199.2h0M311.5 199.2h0M317.9 199.2h0M301.1 200.6h0M312.3 200.6h0M315.5 200.6h0M318.7 200.6h0M321.9 200.6h0M336.3 200.6h0M347.5 200.6h0M350.7 200.6h0M300.3 201.9h0M303.5 201.9h0M306.7 201.9h0M313.1 201.9h0M333.9 201.9h0M297.9 203.3h0M347.5 203.3h0M303.5 204.7h0M309.9 204.7h0M311.5 204.7h0M333.9 204.7h0M335.5 204.7h0M343.5 204.7h0M348.3 204.7h0M301.1 206.1h0M315.5 206.1h0M317.1 206.1h0M318.7 206.1h0M329.9 206.1h0M352.3 206.1h0M309.9 207.5h0M311.5 207.5h0M314.7 207.5h0M317.9 207.5h0M319.5 207.5h0M329.1 207.5h0M337.1 207.5h0M345.1 207.5h0M351.5 207.5h0" stroke="#F040E0" stroke-width="1.31" stroke-linecap="round" fill="none"/>
<rect x="297.3" y="221.3" width="43.6" height="30.4" fill="#E4D0EC" stroke="#333" stroke-width="0.8"/>
<path d="M299.9 222.3h0M301.5 222.3h0M303.1 222.3h0M304.7 222.3h0M306.3 222.3h0M307.9 222.3h0M309.5 222.3h0M319.1 222.3h0M323.9 222.3h0M325.5 222.3h0M327.1 222.3h0M328.7 222.3h0M330.3 222.3h0M331.9 222.3h0M335.1 222.3h0M305.5 223.7h0M308.7 223.7h0M310.3 223.7h0M311.9 223.7h0M318.3 223.7h0M319.9 223.7h0M321.5 223.7h0M324.7 223.7h0M331.1 223.7h0M339.1 223.7h0M299.9 225h0M301.5 225h0M312.7 225h0M315.9 225h0M330.3 225h0M331.9 225h0M333.5 225h0M335.1 225h0M336.7 225h0M338.3 225h0M299.1 226.4h0M305.5 226.4h0M307.1 226.4h0M311.9 226.4h0M313.5 226.4h0M316.7 226.4h0M318.3 226.4h0M321.5 226.4h0M326.3 226.4h0M331.1 226.4h0M332.7 226.4h0M311.1 227.8h0M315.9 227.8h0M330.3 227.8h0M336.7 227.8h0M299.1 229.2h0M303.9 229.2h0M308.7 229.2h0M310.3 229.2h0M316.7 229.2h0M321.5 229.2h0M324.7 229.2h0M331.1 229.2h0M332.7 229.2h0M298.3 230.6h0M303.1 230.6h0M304.7 230.6h0M307.9 230.6h0M309.5 230.6h0M315.9 230.6h0M317.5 230.6h0M320.7 230.6h0M330.3 230.6h0M333.5 230.6h0M338.3 230.6h0M299.1 232h0M303.9 232h0M305.5 232h0M308.7 232h0M310.3 232h0M311.9 232h0M315.1 232h0M318.3 232h0M319.9 232h0M324.7 232h0M329.5 232h0M332.7 232h0M337.5 232h0M298.3 233.4h0M309.5 233.4h0M311.1 233.4h0M320.7 233.4h0M322.3 233.4h0M330.3 233.4h0M300.7 234.8h0M313.5 234.8h0M316.7 234.8h0M319.9 234.8h0M324.7 234.8h0M327.9 234.8h0M298.3 236.2h0M303.1 236.2h0M306.3 236.2h0M307.9 236.2h0M311.1 236.2h0M320.7 236.2h0M327.1 236.2h0M333.5 236.2h0M335.1 236.2h0M336.7 236.2h0M299.1 237.6h0M303.9 237.6h0M307.1 237.6h0M308.7 237.6h0M313.5 237.6h0M315.1 237.6h0M316.7 237.6h0M321.5 237.6h0M323.1 237.6h0M339.1 237.6h0M306.3 239h0M307.9 239h0M314.3 239h0M315.9 239h0M317.5 239h0M320.7 239h0M328.7 239h0M333.5 239h0M338.3 239h0M299.1 240.4h0M305.5 240.4h0M307.1 240.4h0M308.7 240.4h0M318.3 240.4h0M321.5 240.4h0M323.1 240.4h0M324.7 240.4h0M329.5 240.4h0M331.1 240.4h0M332.7 240.4h0M299.9 241.7h0M307.9 241.7h0M309.5 241.7h0M315.9 241.7h0M322.3 241.7h0M327.1 241.7h0M328.7 241.7h0M331.9 241.7h0M299.1 243.1h0M302.3 243.1h0M305.5 243.1h0M307.1 243.1h0M311.9 243.1h0M313.5 243.1h0M315.1 243.1h0M318.3 243.1h0M319.9 243.1h0M321.5 243.1h0M324.7 243.1h0M326.3 243.1h0M327.9 243.1h0M331.1 243.1h0M332.7 243.1h0M334.3 243.1h0M335.9 243.1h0M303.1 244.5h0M307.9 244.5h0M319.1 244.5h0M320.7 244.5h0M322.3 244.5h0M330.3 244.5h0M300.7 245.9h0M303.9 245.9h0M305.5 245.9h0M313.5 245.9h0M315.1 245.9h0M319.9 245.9h0M327.9 245.9h0M337.5 245.9h0M315.9 247.3h0M317.5 247.3h0M320.7 247.3h0M325.5 247.3h0M328.7 247.3h0M333.5 247.3h0M336.7 247.3h0M338.3 247.3h0M339.9 247.3h0M302.3 248.7h0M310.3 248.7h0M319.9 248.7h0M321.5 248.7h0M323.1 248.7h0M327.9 248.7h0M331.1 248.7h0M335.9 248.7h0M301.5 250.1h0M309.5 250.1h0M312.7 250.1h0" stroke="#DCCBE4" stroke-width="1.31" stroke-linecap="round" fill="none"/>
<path d="M311.1 222.3h0M314.3 222.3h0M315.9 222.3h0M320.7 222.3h0M333.5 222.3h0M299.1 223.7h0M300.7 223.7h0M302.3 223.7h0M327.9 223.7h0M298.3 225h0M303.1 225h0M307.9 225h0M322.3 225h0M325.5 225h0M327.1 225h0M308.7 226.4h0M310.3 226.4h0M334.3 226.4h0M307.9 227.8h0M314.3 227.8h0M319.1 227.8h0M302.3 229.2h0M311.9 229.2h0M313.5 229.2h0M315.1 229.2h0M318.3 229.2h0M326.3 229.2h0M334.3 229.2h0M335.9 229.2h0M312.7 230.6h0M314.3 230.6h0M300.7 232h0M307.1 232h0M321.5 232h0M323.1 232h0M326.3 232h0M299.9 233.4h0M303.1 233.4h0M304.7 233.4h0M306.3 233.4h0M307.9 233.4h0M314.3 233.4h0M315.9 233.4h0M317.5 233.4h0M319.1 233.4h0M323.9 233.4h0M327.1 233.4h0M333.5 233.4h0M335.1 233.4h0M339.9 233.4h0M299.1 234.8h0M302.3 234.8h0M303.9 234.8h0M307.1 234.8h0M308.7 234.8h0M310.3 234.8h0M311.9 234.8h0M315.1 234.8h0M318.3 234.8h0M321.5 234.8h0M332.7 234.8h0M335.9 234.8h0M299.9 236.2h0M301.5 236.2h0M304.7 236.2h0M309.5 236.2h0M315.9 236.2h0M325.5 236.2h0M328.7 236.2h0M331.9 236.2h0M339.9 236.2h0M300.7 237.6h0M310.3 237.6h0M311.9 237.6h0M318.3 237.6h0M319.9 237.6h0M324.7 237.6h0M335.9 237.6h0M337.5 237.6h0M299.9 239h0M301.5 239h0M304.7 239h0M312.7 239h0M322.3 239h0M323.9 239h0M325.5 239h0M327.1 239h0M336.7 239h0M300.7 240.4h0M303.9 240.4h0M311.9 240.4h0M313.5 240.4h0M315.1 240.4h0M316.7 240.4h0M319.9 240.4h0M327.9 240.4h0M301.5 241.7h0M303.1 241.7h0M304.7 241.7h0M306.3 241.7h0M311.1 241.7h0M312.7 241.7h0M314.3 241.7h0M317.5 241.7h0M319.1 241.7h0M320.7 241.7h0M333.5 241.7h0M335.1 241.7h0M339.9 241.7h0M300.7 243.1h0M303.9 243.1h0M308.7 243.1h0M316.7 243.1h0M323.1 243.1h0M337.5 243.1h0M339.1 243.1h0M298.3 244.5h0M299.9 244.5h0M301.5 244.5h0M304.7 244.5h0M311.1 244.5h0M312.7 244.5h0M314.3 244.5h0M315.9 244.5h0M317.5 244.5h0M325.5 244.5h0M331.9 244.5h0M335.1 244.5h0M299.1 245.9h0M307.1 245.9h0M308.7 245.9h0M311.9 245.9h0M316.7 245.9h0M318.3 245.9h0M321.5 245.9h0M323.1 245.9h0M324.7 245.9h0M329.5 245.9h0M331.1 245.9h0M335.9 245.9h0M298.3 247.3h0M301.5 247.3h0M303.1 247.3h0M304.7 247.3h0M307.9 247.3h0M312.7 247.3h0M314.3 247.3h0M319.1 247.3h0M322.3 247.3h0M331.9 247.3h0M300.7 248.7h0M303.9 248.7h0M305.5 248.7h0M311.9 248.7h0M313.5 248.7h0M316.7 248.7h0M318.3 248.7h0M326.3 248.7h0M334.3 248.7h0M298.3 250.1h0M303.1 250.1h0M304.7 250.1h0M306.3 250.1h0M307.9 250.1h0M311.1 250.1h0M315.9 250.1h0M317.5 250.1h0M319.1 250.1h0M328.7 250.1h0M335.1 250.1h0M338.3 250.1h0M339.9 250.1h0" stroke="#F04A6A" stroke-width="1.31" stroke-linecap="round" fill="none"/>
<path d="M298.3 222.3h0M312.7 222.3h0M317.5 222.3h0M322.3 222.3h0M336.7 222.3h0M338.3 222.3h0M339.9 222.3h0M303.9 223.7h0M307.1 223.7h0M313.5 223.7h0M315.1 223.7h0M316.7 223.7h0M323.1 223.7h0M326.3 223.7h0M329.5 223.7h0M332.7 223.7h0M334.3 223.7h0M335.9 223.7h0M337.5 223.7h0M304.7 225h0M306.3 225h0M309.5 225h0M317.5 225h0M328.7 225h0M339.9 225h0M300.7 226.4h0M302.3 226.4h0M303.9 226.4h0M315.1 226.4h0M323.1 226.4h0M324.7 226.4h0M327.9 226.4h0M329.5 226.4h0M335.9 226.4h0M337.5 226.4h0M339.1 226.4h0M298.3 227.8h0M299.9 227.8h0M301.5 227.8h0M303.1 227.8h0M312.7 227.8h0M317.5 227.8h0M320.7 227.8h0M322.3 227.8h0M323.9 227.8h0M325.5 227.8h0M327.1 227.8h0M328.7 227.8h0M331.9 227.8h0M333.5 227.8h0M335.1 227.8h0M338.3 227.8h0M339.9 227.8h0M305.5 229.2h0M307.1 229.2h0M319.9 229.2h0M323.1 229.2h0M329.5 229.2h0M337.5 229.2h0M339.1 229.2h0M306.3 230.6h0M319.1 230.6h0M323.9 230.6h0M328.7 230.6h0M331.9 230.6h0M335.1 230.6h0M336.7 230.6h0M339.9 230.6h0M302.3 232h0M313.5 232h0M327.9 232h0M331.1 232h0M334.3 232h0M335.9 232h0M339.1 232h0M325.5 233.4h0M331.9 233.4h0M336.7 233.4h0M305.5 234.8h0M326.3 234.8h0M329.5 234.8h0M331.1 234.8h0M334.3 234.8h0M337.5 234.8h0M312.7 236.2h0M314.3 236.2h0M317.5 236.2h0M319.1 236.2h0M323.9 236.2h0M330.3 236.2h0M338.3 236.2h0M329.5 237.6h0M331.1 237.6h0M332.7 237.6h0M334.3 237.6h0M298.3 239h0M303.1 239h0M309.5 239h0M330.3 239h0M331.9 239h0M335.1 239h0M339.9 239h0M302.3 240.4h0M310.3 240.4h0M326.3 240.4h0M334.3 240.4h0M335.9 240.4h0M339.1 240.4h0M298.3 241.7h0M323.9 241.7h0M325.5 241.7h0M330.3 241.7h0M336.7 241.7h0M338.3 241.7h0M310.3 243.1h0M329.5 243.1h0M306.3 244.5h0M309.5 244.5h0M323.9 244.5h0M327.1 244.5h0M328.7 244.5h0M333.5 244.5h0M336.7 244.5h0M338.3 244.5h0M339.9 244.5h0M302.3 245.9h0M332.7 245.9h0M334.3 245.9h0M339.1 245.9h0M299.9 247.3h0M309.5 247.3h0M311.1 247.3h0M323.9 247.3h0M327.1 247.3h0M330.3 247.3h0M299.1 248.7h0M308.7 248.7h0M315.1 248.7h0M324.7 248.7h0M329.5 248.7h0M332.7 248.7h0M337.5 248.7h0M299.9 250.1h0M314.3 250.1h0M323.9 250.1h0M325.5 250.1h0M327.1 250.1h0M330.3 250.1h0M331.9 250.1h0M336.7 250.1h0" stroke="#5A50F0" stroke-width="1.31" stroke-linecap="round" fill="none"/>
<path d="M311.1 225h0M314.3 225h0M319.1 225h0M320.7 225h0M323.9 225h0M319.9 226.4h0M304.7 227.8h0M306.3 227.8h0M309.5 227.8h0M300.7 229.2h0M327.9 229.2h0M299.9 230.6h0M301.5 230.6h0M311.1 230.6h0M322.3 230.6h0M325.5 230.6h0M327.1 230.6h0M316.7 232h0M301.5 233.4h0M312.7 233.4h0M328.7 233.4h0M338.3 233.4h0M323.1 234.8h0M339.1 234.8h0M322.3 236.2h0M302.3 237.6h0M305.5 237.6h0M326.3 237.6h0M327.9 237.6h0M311.1 239h0M319.1 239h0M337.5 240.4h0M310.3 245.9h0M326.3 245.9h0M306.3 247.3h0M335.1 247.3h0M307.1 248.7h0M339.1 248.7h0M320.7 250.1h0M322.3 250.1h0M333.5 250.1h0" stroke="#F040E0" stroke-width="1.31" stroke-linecap="round" fill="none"/>
<clipPath id="sc3"><polygon points="35.12,284.56 95.75,285.03 105.28,292.49 105.59,348.84 102.1,355.19 48.13,355.19 35.12,347.25"/></clipPath>
<g clip-path="url(#sc3)">
<polygon points="35.12,284.56 95.75,285.03 105.28,292.49 105.59,348.84 102.1,355.19 48.13,355.19 35.12,347.25" fill="#D9D6E2"/>
<g filter="url(#rough)">
</g>
<path d="M37.7 285h0M49 285.2h0M52.6 285.1h0M67.8 284.9h0M70.4 285.1h0M71.4 285.2h0M75.7 284.7h0M76.8 285.1h0M83.8 285.2h0M54.8 286.1h0M93.1 286.1h0M50.3 286.8h0M51.2 286.8h0M65.7 286.6h0M73.7 287h0M80.3 286.8h0M64.3 288h0M73.9 287.8h0M67 288.8h0M69.1 288.8h0M77 288.8h0M81.2 289h0M88.2 289h0M89.3 288.8h0M93.7 288.9h0M55.2 289.7h0M70.6 289.9h0M77.4 289.6h0M81.1 290.1h0M85.1 289.9h0M88.5 289.9h0M36.4 290.9h0M46.6 291h0M67.9 290.6h0M80.3 291h0M82.6 290.7h0M89.2 290.6h0M100.7 290.8h0M35.9 292.1h0M48.4 291.7h0M73.9 291.7h0M78.5 291.8h0M79.6 291.8h0M86.5 291.6h0M87.6 291.9h0M91.2 291.9h0M94.4 291.7h0M68.8 292.7h0M72.5 292.5h0M74.6 292.7h0M90.2 292.9h0M96.9 292.9h0M68.3 294h0M73.3 293.7h0M76.3 293.7h0M92 293.7h0M93 293.6h0M37.6 294.4h0M78.4 294.9h0M84.9 294.8h0M88.3 295h0M92.9 294.6h0M99.2 294.5h0M81.9 295.4h0M89.7 295.6h0M93.3 295.6h0M103.5 295.6h0M62.6 296.8h0M71.7 296.6h0M74.9 296.4h0M86.9 296.5h0M93.9 296.6h0M101.9 296.7h0M53 297.8h0M61 297.8h0M79.8 297.6h0M87.7 297.5h0M91.2 297.9h0M35.8 298.3h0M53.4 298.4h0M79.1 298.9h0M87 298.7h0M90.6 298.3h0M92.4 298.5h0M67.3 299.3h0M76.7 299.6h0M77.4 299.7h0M88.9 299.5h0M83.7 300.6h0M84.9 300.4h0M87.3 300.5h0M95.1 300.3h0M100.4 300.5h0M82.3 301.5h0M83.1 301.5h0M87.3 301.4h0M89.9 301.7h0M80.1 302.6h0M83.6 302.7h0M86.1 302.4h0M88 302.2h0M89.4 302.4h0M95.1 302.7h0M99.1 302.3h0M81.8 303.6h0M85.1 303.4h0M91.1 303.7h0M64.8 304.3h0M71.4 304.6h0M74.5 304.7h0M90.6 304.3h0M91.7 304.2h0M95.2 304.3h0M91.9 305.2h0M97.7 305.4h0M100.2 305.7h0M103 305.2h0M39.1 306.5h0M83.6 306.4h0M85.9 306.2h0M101.8 306.6h0M39.4 307.2h0M42.7 307.6h0M61.9 307.1h0M77.8 307.1h0M82.1 307.3h0M84.2 307.5h0M86.4 307.5h0M87.7 307.4h0M92.2 307.2h0M36.5 308.1h0M63.4 308.4h0M89.5 308.2h0M96.9 308.2h0M62.7 309.2h0M65.1 309.2h0M85.6 309.6h0M83.6 310.2h0M90.3 310.4h0M99.5 310.2h0M68.8 311.5h0M69.4 311.4h0M89.8 311.2h0M99.7 311.5h0M49.2 312h0M68.1 312.2h0M81.6 312.2h0M85 312.4h0M87.1 312.4h0M92.5 312.4h0M97 312.3h0M50.9 313.4h0M60.9 313.1h0M64.1 313.2h0M88.8 313.2h0M100.2 312.9h0M43.4 314.4h0M62.4 314.3h0M93.8 314.3h0M43.8 315.2h0M61.9 315.2h0M63.9 315h0M88.7 314.9h0M89.5 314.9h0M40.2 316h0M89.5 316.3h0M91.6 316h0M99.4 316.4h0M103.6 315.8h0M45.2 317h0M46 316.9h0M50.9 317.3h0M90 317h0M96.5 316.9h0M40.2 318h0M42.1 318.2h0M46.9 318.2h0M78.2 317.9h0M41.9 319.3h0M42.9 318.9h0M45.3 319.3h0M50.4 318.8h0M52.8 319.1h0M56.5 319.2h0M59.6 318.8h0M79.7 319h0M88.9 319.3h0M59.3 320.2h0M61.3 320.3h0M70.5 320.2h0M79.1 320.1h0M86 319.9h0M89.4 320.3h0M91.7 320.1h0M95.7 320h0M39.5 321h0M44.9 321.2h0M46.4 320.9h0M50.6 320.7h0M57.4 320.9h0M58.4 320.7h0M59.6 321h0M77.5 320.9h0M102.2 320.9h0M40.3 322h0M55.5 322.1h0M61.5 322h0M93.7 322h0M100.7 322.2h0M46 323.1h0M61.7 323.2h0M74.2 322.9h0M36.9 324.2h0M51.5 323.7h0M61 324h0M72.6 323.8h0M82.3 324.2h0M88.1 324.1h0M48.6 325h0M65.1 325.1h0M66.3 324.6h0M75.2 324.9h0M92.3 324.8h0M97.6 324.7h0M41 326.1h0M43.5 325.8h0M49.3 325.7h0M52.5 325.7h0M57.8 325.8h0M64.7 326h0M70.3 326h0M74.5 325.8h0M79.2 326.1h0M83.7 325.7h0M87 326h0M41.7 326.7h0M46.4 326.8h0M50.4 327.2h0M58.3 327.1h0M92.9 326.6h0M94 327h0M95.6 326.9h0M42.4 327.7h0M51.3 328h0M60 327.6h0M63.8 327.9h0M75 328.1h0M75.8 327.6h0M91.8 327.6h0M98.3 328.1h0M99.5 327.8h0M104.1 327.9h0M54.2 329h0M55.4 329.1h0M59.5 328.6h0M70.9 328.7h0M73.2 328.8h0M90.7 328.7h0M100 328.9h0M36.8 330h0M64.8 330h0M70.5 329.9h0M76.7 330h0M92.8 329.6h0M39.7 331h0M45.9 330.5h0M64.1 330.9h0M95.4 330.8h0M35.5 331.9h0M37.5 331.8h0M51.2 331.7h0M70.4 331.6h0M71.4 331.7h0M73.8 331.6h0M74.9 331.6h0M93.6 331.6h0M51.9 332.5h0M54 332.5h0M56 332.9h0M59.6 332.6h0M65.2 332.6h0M81.9 332.7h0M83 332.8h0M88.9 332.9h0M89.9 332.9h0M36.9 333.7h0M64.7 333.4h0M67 333.9h0M69.2 334h0M70.2 333.5h0M72.7 333.7h0M75.9 333.4h0M96 333.6h0M35.8 334.5h0M56.2 334.5h0M60.6 334.8h0M62.1 334.6h0M72.9 334.6h0M73.9 334.7h0M76.2 334.5h0M85.1 334.7h0M88.8 334.6h0M99.8 334.5h0M102.3 334.5h0M62.2 335.8h0M63.2 335.5h0M83.7 335.4h0M89.3 335.5h0M97.2 335.4h0M98 335.6h0M100.5 335.8h0M101.3 335.4h0M66.1 336.7h0M73.3 336.7h0M75.3 336.4h0M81.8 336.8h0M84 336.6h0M86.7 336.5h0M88.9 336.7h0M98.8 336.8h0M53.3 337.4h0M75.6 337.6h0M82.5 337.3h0M85.7 337.5h0M92.5 337.5h0M93.6 337.8h0M104 337.9h0M58.2 338.3h0M71 338.5h0M72.1 338.7h0M74.4 338.4h0M83.3 338.4h0M84.5 338.5h0M86.2 338.4h0M91.9 338.6h0M95.2 338.3h0M54.8 339.6h0M71.3 339.3h0M83.9 339.6h0M85.8 339.8h0M87.1 339.8h0M90.7 339.7h0M91.5 339.5h0M93.5 339.7h0M53.2 340.6h0M72.9 340.6h0M83.5 341.7h0M88.3 341.7h0M89.3 341.3h0M91.6 341.3h0M104.9 341.7h0M89.6 342.6h0M92.2 342.4h0M65.5 343.5h0M85.1 343.4h0M89 344.5h0M89.8 344.4h0M98.6 344.3h0M101.2 344.1h0M75.8 345.6h0M88.3 345.5h0M99.2 345.2h0M38 346.5h0M40.9 346.1h0M91.9 346.1h0M93 346.1h0M97.9 346.4h0M84.7 347.3h0M93.8 347h0M95.9 347.3h0M56.4 348.4h0M64.2 348.5h0M91.1 348h0M104.4 348.4h0M77 349.4h0M89.3 349.5h0M100.3 349.1h0M80.7 350.1h0M87.9 350h0M97.8 350.5h0M98.7 350.3h0M43.6 351h0M50.2 351.3h0M91.5 351.2h0M94.9 351.5h0M56.2 352.3h0M59.6 352.5h0M83.1 352h0M87.7 352.1h0M88.9 352.3h0M101.2 352.5h0M94 353h0M60.6 354h0M61.7 354.2h0M80.6 354.3h0M81.9 354h0M98.7 354.2h0" stroke="#E58A9A" stroke-width="1.15" stroke-linecap="round" fill="none"/>
<path d="M36.4 285.1h0M56.8 284.9h0M61.1 285.2h0M67 284.9h0M38.1 285.9h0M41.8 285.9h0M43.9 286.2h0M54.1 286h0M56.3 285.7h0M58.7 286.1h0M59.5 285.8h0M67.4 286.1h0M77.5 286.2h0M85.1 285.8h0M89.8 286.1h0M35.5 286.6h0M43.4 286.7h0M47.8 286.7h0M52.4 286.8h0M70 286.7h0M95.1 287.1h0M45.1 288.1h0M47.4 287.9h0M57.2 288h0M58.2 288.1h0M59.3 287.9h0M61.8 288h0M62.9 288h0M67.4 287.8h0M75.4 288h0M76.4 287.9h0M88.8 287.8h0M37.5 288.9h0M38.9 288.7h0M42 288.9h0M43.6 289h0M52.3 288.7h0M53.3 288.6h0M54.7 288.6h0M57.1 288.6h0M62.2 289h0M63.6 289.2h0M77.9 288.6h0M82.7 288.9h0M95 288.7h0M96.2 288.7h0M99.4 289h0M37.1 289.6h0M38.6 290h0M42.7 290h0M43.9 289.7h0M44.8 289.8h0M53 289.9h0M56.3 289.8h0M58.6 289.7h0M59.6 289.7h0M76.6 289.8h0M40.1 291h0M51.1 290.5h0M52.5 290.8h0M57.1 291h0M59.2 290.6h0M62.7 290.5h0M69.4 290.9h0M90.6 291h0M94.6 290.8h0M40.8 291.9h0M43.9 291.5h0M50.9 291.8h0M52.6 291.9h0M57.3 291.6h0M60.6 292h0M66.1 291.5h0M75.1 291.6h0M103.1 291.6h0M38.8 292.8h0M40 292.8h0M42 292.8h0M46.6 292.8h0M49.2 293h0M50.1 292.8h0M55.9 292.6h0M56.6 292.9h0M60 292.6h0M65.7 292.9h0M66.9 292.7h0M70.5 292.7h0M71.5 292.6h0M95.1 293h0M40.6 293.6h0M46.4 294h0M54.9 293.8h0M56 293.4h0M59.8 293.9h0M62.8 293.6h0M89.8 293.5h0M96.3 293.6h0M97.9 293.5h0M103.1 293.6h0M38.8 294.9h0M43.3 294.8h0M44.2 295h0M48.9 294.9h0M56.6 294.6h0M59.9 294.7h0M67.9 294.9h0M69.4 294.9h0M71.1 294.8h0M83.7 294.5h0M87.3 294.7h0M97.1 294.7h0M36.9 295.5h0M43.8 295.4h0M57.1 295.7h0M63.1 295.6h0M67.1 295.5h0M71 295.6h0M96.4 295.9h0M41 296.9h0M44.4 296.6h0M45.5 296.5h0M49 296.5h0M58.8 296.8h0M60.4 296.7h0M61.3 296.8h0M65.5 296.6h0M73.8 296.9h0M94.9 296.8h0M97.2 296.5h0M99.4 296.7h0M103.7 296.7h0M104.9 296.8h0M39.4 297.4h0M42.7 297.8h0M48.3 297.6h0M50.4 297.8h0M58.4 297.7h0M62.8 297.7h0M65.4 297.6h0M66.3 297.3h0M70.7 297.6h0M71.9 297.7h0M89.8 297.7h0M93.4 297.8h0M38.7 298.5h0M43.6 298.5h0M49.1 298.7h0M58.1 298.4h0M61.1 298.8h0M68 298.5h0M69.4 298.5h0M72.7 298.9h0M74.9 298.5h0M77.9 298.4h0M102.7 298.7h0M39.4 299.6h0M40.8 299.5h0M41.8 299.9h0M44.1 299.5h0M49.5 299.7h0M55.4 299.6h0M58.7 299.5h0M59.4 299.8h0M62 299.8h0M65.1 299.3h0M81.1 299.4h0M90 299.5h0M91.1 299.7h0M35.7 300.6h0M36.9 300.8h0M37.7 300.8h0M39.7 300.2h0M41 300.5h0M42.2 300.4h0M43.4 300.5h0M45.4 300.5h0M46.6 300.4h0M49.8 300.3h0M51.2 300.3h0M53.2 300.4h0M54.7 300.5h0M60.1 300.6h0M65.7 300.8h0M66.8 300.8h0M70 300.3h0M74.7 300.3h0M97 300.3h0M101.9 300.6h0M102.7 300.6h0M104 300.4h0M35.9 301.8h0M45 301.3h0M48.6 301.5h0M50.5 301.2h0M57.5 301.4h0M58.6 301.6h0M59.8 301.6h0M60.6 301.6h0M67.5 301.2h0M68.8 301.7h0M70.5 301.6h0M72.8 301.6h0M74.1 301.8h0M78.4 301.6h0M86.8 301.3h0M35.7 302.2h0M37.8 302.8h0M42.1 302.5h0M43.1 302.2h0M44.3 302.8h0M49.2 302.3h0M53.5 302.4h0M65.6 302.3h0M70.3 302.7h0M81.4 302.3h0M84.6 302.8h0M100.2 302.7h0M37 303.2h0M39.6 303.3h0M40.8 303.2h0M46 303.8h0M47.5 303.5h0M48.3 303.5h0M50.6 303.7h0M57.2 303.5h0M71.7 303.7h0M73 303.5h0M74.4 303.5h0M75.5 303.5h0M80.6 303.8h0M96.8 303.7h0M97.8 303.5h0M101.9 303.5h0M35.6 304.2h0M38.9 304.6h0M40.1 304.5h0M48.9 304.3h0M51 304.3h0M68.9 304.5h0M70.1 304.2h0M38.1 305.6h0M39.4 305.3h0M43.7 305.2h0M49.4 305.5h0M51.6 305.4h0M56.1 305.2h0M57.6 305.4h0M61.9 305.3h0M65.3 305.3h0M68.7 305.2h0M70.8 305.4h0M74.1 305.5h0M82.9 305.3h0M102 305.2h0M41.3 306.4h0M43.2 306.4h0M46.5 306.4h0M48.9 306.3h0M50.9 306.5h0M52.2 306.6h0M53.3 306.5h0M56.8 306.6h0M60 306.3h0M68 306.6h0M69.3 306.1h0M71.1 306.3h0M77.8 306.4h0M90.5 306.3h0M98.1 306.5h0M37.4 307.6h0M41.5 307.2h0M49.6 307.1h0M54.2 307.5h0M57.5 307.3h0M58.5 307.3h0M63 307.4h0M65.1 307.2h0M68.8 307.5h0M71.8 307.2h0M73.3 307.2h0M78.9 307.6h0M93.2 307.6h0M95.3 307.4h0M102.4 307.4h0M104.3 307.1h0M39 308.3h0M40.8 308.1h0M47.8 308.6h0M53.6 308.5h0M58 308.4h0M59.3 308.3h0M60.3 308.4h0M69 308.6h0M70.2 308.4h0M72.6 308.1h0M78 308.4h0M84.6 308.2h0M85.8 308.6h0M96 308.5h0M36.1 309.5h0M42.8 309.1h0M44.8 309.3h0M49.5 309.4h0M53.1 309.6h0M53.8 309.5h0M57.6 309.2h0M72 309.4h0M76.6 309.5h0M77.6 309.2h0M80.9 309.3h0M86.5 309.5h0M98.9 309.1h0M100.9 309h0M104.2 309.3h0M37.9 310.5h0M38.6 310.5h0M42 310h0M66.9 310.2h0M79.3 310.4h0M80.2 310.1h0M81.7 310.3h0M88.4 310.5h0M89.4 310.1h0M92.9 310.1h0M97.1 310.4h0M37.1 311.4h0M41.8 311.4h0M44.1 311.2h0M47 311.3h0M48.6 311.2h0M54.2 311.2h0M56.2 311.1h0M60.5 311.3h0M65 311h0M66.6 311.2h0M77.5 311.6h0M98.7 311.2h0M37.8 312.1h0M42.1 312.5h0M46.7 312.3h0M47.6 312.2h0M51.2 312h0M54.5 312.1h0M58.1 312.4h0M62.5 312.4h0M64.4 312.1h0M66 312.3h0M69.2 312.3h0M73.7 312.2h0M76.1 312.4h0M76.9 312.3h0M78.1 312.1h0M83.5 312h0M93.7 312.1h0M46.4 313h0M49.8 313.1h0M57.6 313.1h0M58.6 313.1h0M61.6 313.2h0M63 312.9h0M65.2 313.2h0M70.6 313.3h0M72.7 313h0M76.6 313.4h0M84.4 313.4h0M86.6 313.4h0M87.4 313.5h0M94.3 313.1h0M103.4 313.2h0M39.7 313.9h0M42 314h0M71.4 314.2h0M74.6 314.2h0M76 314.1h0M82.8 314.2h0M85.1 314h0M91.7 314.1h0M105.2 314.1h0M39.2 314.9h0M47.3 314.9h0M48.7 315.1h0M49.6 315h0M57.3 315.1h0M58.2 315h0M63 315.4h0M77.4 315h0M82.1 315.1h0M82.9 315.2h0M84.4 314.9h0M87.6 314.9h0M97.5 315.1h0M45.7 316.2h0M53.5 316.3h0M56.6 315.9h0M66.9 316.3h0M71.2 316h0M72.6 316.4h0M83.4 315.9h0M92.4 316.1h0M98.4 316h0M102.5 316.2h0M43 317.4h0M47.2 317.3h0M48.5 317.3h0M49.7 316.9h0M52.7 317.1h0M54 317.3h0M55 317h0M68.3 317.3h0M82.1 317h0M99.8 317.4h0M35.8 318h0M37.6 318h0M44.4 317.9h0M45.5 318.2h0M49.9 318.4h0M52.1 318.2h0M54.3 318.2h0M63.2 318h0M64.6 318.2h0M71.3 318h0M77 318h0M87.9 318.3h0M89 317.8h0M98.2 318.1h0M101.7 318h0M35.9 318.9h0M38.4 319.2h0M47.1 319h0M49.7 319.1h0M51.6 319.1h0M57.3 318.8h0M60.8 319.2h0M66.5 319.1h0M69.5 318.8h0M71.9 319.3h0M76.4 319.2h0M84.3 319h0M87.8 319.3h0M92.2 318.9h0M95.2 319.3h0M104.1 318.9h0M43.2 320.1h0M49.1 320h0M52.3 320h0M60.3 320h0M71.2 320.3h0M77.9 320.3h0M84.9 320h0M92.5 320h0M97.9 320.1h0M47.2 320.8h0M56.4 320.9h0M61.6 321.1h0M63.8 321.2h0M67.7 321.1h0M68.5 321.1h0M70.6 320.8h0M71.7 320.8h0M81.9 321.1h0M83 320.8h0M84.4 320.8h0M86.5 321h0M89.8 321.1h0M91 321.2h0M92.2 320.8h0M93.1 321.1h0M95.1 321h0M96.8 321.2h0M98.9 321.1h0M35.3 322h0M48.9 321.9h0M49.9 321.7h0M51.2 321.7h0M62.2 322h0M64.7 321.9h0M70.1 322h0M73.6 322.3h0M87.1 321.8h0M90.5 322h0M96 321.7h0M36.2 322.8h0M37.1 322.8h0M45 323.2h0M47.2 322.8h0M49.4 322.9h0M50.8 323h0M51.8 323.2h0M66.6 323h0M82.8 323.2h0M87.6 322.7h0M96.6 322.8h0M97.7 322.9h0M99.7 322.8h0M101.1 322.9h0M58.2 324.1h0M64.5 323.7h0M66.7 323.9h0M73.8 324.2h0M80.1 324.2h0M84.7 323.7h0M85.7 324.2h0M86.9 324h0M94 323.7h0M94.9 323.7h0M100.5 324h0M37.2 325.1h0M39.6 324.8h0M50.9 324.9h0M51.6 325.2h0M63.1 324.7h0M77.4 324.8h0M82 325h0M88.5 325.2h0M95.2 324.7h0M100.2 325.1h0M103.5 325h0M104.4 324.7h0M42.1 325.9h0M73.7 325.8h0M90.7 325.9h0M91.3 326.1h0M92.5 325.6h0M99.2 326h0M37 326.7h0M56 326.8h0M71.9 326.9h0M78.8 326.9h0M80.9 327.1h0M83.1 327h0M87.4 326.8h0M96.7 326.7h0M99.7 326.9h0M36.5 327.8h0M37.5 327.9h0M43.1 327.6h0M54.6 327.8h0M56 327.7h0M59.1 327.8h0M71.2 327.7h0M93.9 327.6h0M97.1 327.9h0M100.5 327.7h0M105.2 328h0M36.2 328.8h0M38.3 328.7h0M40.7 329.1h0M51.8 328.7h0M57.1 329h0M69.8 329h0M71.8 328.8h0M74.3 328.6h0M85.1 329h0M86.4 328.7h0M87.5 328.7h0M95.3 328.7h0M96.3 328.7h0M98.6 328.9h0M100.8 328.9h0M41.1 329.6h0M42 329.8h0M46.5 329.8h0M48.9 329.6h0M50.2 330.1h0M52.3 330h0M54.4 329.9h0M63.7 329.6h0M72.4 329.5h0M78.3 330.1h0M87.1 329.8h0M91.7 329.7h0M94.7 329.5h0M96.9 329.8h0M36.4 330.5h0M41.4 330.6h0M42.7 330.5h0M51.9 330.7h0M52.9 330.8h0M55.2 330.8h0M65.3 330.8h0M66.1 331.1h0M85.6 330.9h0M86.6 331h0M88.7 330.7h0M96.7 330.5h0M98.7 330.5h0M104.2 330.5h0M38.6 331.7h0M42.4 331.7h0M43.5 331.5h0M46.9 331.6h0M50.1 331.5h0M58.9 331.5h0M66.8 331.4h0M75.5 331.6h0M94.9 331.7h0M100.4 331.8h0M104.9 331.8h0M40.3 332.6h0M43 332.8h0M45.1 332.8h0M48.5 332.5h0M49.4 332.9h0M60.7 332.8h0M66.5 332.7h0M67.7 332.6h0M84.5 332.4h0M87.6 332.6h0M91.2 332.8h0M93.5 332.9h0M95.4 332.7h0M104.4 332.5h0M42.3 333.8h0M44.3 333.5h0M45.7 334h0M49.1 333.7h0M50.3 333.8h0M53.7 333.6h0M58 333.7h0M62.3 333.5h0M71.5 333.7h0M82.4 333.5h0M83.5 333.7h0M85 333.6h0M90.5 333.8h0M102.7 333.5h0M104 333.6h0M44 334.4h0M48.3 334.4h0M49.7 334.9h0M50.5 334.4h0M51.6 334.4h0M62.8 334.5h0M67.7 334.9h0M77.4 334.9h0M83.1 334.7h0M84.4 334.4h0M89.6 334.4h0M104.6 334.4h0M36.8 335.8h0M43.1 335.4h0M44.6 335.9h0M47.7 335.8h0M48.8 335.4h0M54.3 335.7h0M56.7 335.4h0M60 335.6h0M74.9 335.6h0M93.6 335.3h0M96.2 335.7h0M35.9 336.5h0M37.2 336.5h0M44.1 336.7h0M49.7 336.8h0M50.5 336.4h0M51.6 336.3h0M53.1 336.4h0M54 336.5h0M58.4 336.8h0M62 336.7h0M62.9 336.9h0M64.1 336.6h0M67.1 336.6h0M68.8 336.4h0M74.1 336.6h0M95.7 336.4h0M100.8 336.3h0M102.4 336.6h0M43.3 337.4h0M44.6 337.5h0M48 337.7h0M51.3 337.8h0M56.6 337.5h0M57.9 337.3h0M60.3 337.4h0M64.6 337.8h0M67.8 337.8h0M70.1 337.7h0M79.4 337.8h0M91.5 337.8h0M101.4 337.6h0M102.9 337.5h0M39.5 338.5h0M40.8 338.5h0M46.1 338.7h0M47.1 338.3h0M49.6 338.3h0M50.5 338.3h0M54 338.7h0M54.8 338.3h0M56.2 338.5h0M57.1 338.5h0M62.1 338.3h0M63.2 338.6h0M63.8 338.8h0M69.9 338.4h0M78.7 338.5h0M81 338.6h0M85.5 338.8h0M97.4 338.5h0M100.1 338.8h0M103.2 338.7h0M104.2 338.4h0M36.4 339.3h0M40.1 339.7h0M42.1 339.5h0M45.6 339.3h0M50 339.6h0M53.4 339.2h0M55.6 339.4h0M57 339.5h0M64.6 339.8h0M66.8 339.7h0M70.3 339.3h0M78.3 339.6h0M104.8 339.8h0M39.3 340.3h0M40.8 340.5h0M42.7 340.4h0M44 340.8h0M47.3 340.7h0M51.8 340.7h0M58.5 340.3h0M62.7 340.7h0M63.9 340.6h0M66.3 340.5h0M67.3 340.5h0M69.4 340.3h0M71.9 340.8h0M76.1 340.6h0M84.3 340.5h0M102 340.3h0M104.3 340.2h0M39.8 341.3h0M43.3 341.6h0M44.3 341.3h0M45.7 341.7h0M48.7 341.6h0M49.9 341.2h0M51.2 341.5h0M57.7 341.7h0M58.9 341.5h0M63.4 341.6h0M64.5 341.5h0M70.3 341.2h0M71.5 341.7h0M78.1 341.3h0M84.6 341.3h0M99.2 341.4h0M100.3 341.5h0M36.3 342.6h0M42.7 342.4h0M44.8 342.7h0M46.1 342.3h0M48.3 342.7h0M52.1 342.7h0M52.7 342.3h0M53.9 342.4h0M55.2 342.3h0M60.6 342.7h0M65.2 342.5h0M68.4 342.2h0M75.3 342.7h0M80.9 342.7h0M82.3 342.6h0M91.3 342.7h0M98.7 342.3h0M35.2 343.6h0M37.5 343.3h0M40.1 343.7h0M44.7 343.6h0M47 343.4h0M49 343.3h0M52.2 343.2h0M59.9 343.1h0M61.5 343.4h0M63.7 343.2h0M72.4 343.2h0M73.9 343.1h0M74.5 343.2h0M76 343.1h0M92.6 343.1h0M103 343.5h0M37.4 344.3h0M38.4 344.6h0M39.3 344.2h0M40.7 344.3h0M45 344.3h0M49.3 344.3h0M55.2 344.5h0M57.6 344.1h0M59.5 344.1h0M61.8 344.7h0M66.1 344.7h0M67.7 344.1h0M68.6 344.1h0M74.4 344.1h0M76.1 344.4h0M78.6 344.2h0M80.7 344.4h0M83.3 344.3h0M36.6 345.4h0M42.1 345.1h0M53.6 345.2h0M57.9 345.5h0M60.4 345.1h0M63.3 345.5h0M66.8 345.2h0M69.1 345.6h0M81.4 345.3h0M98.2 345.5h0M100.6 345.4h0M105 345.5h0M36 346.6h0M39.6 346.1h0M41.4 346.4h0M42.8 346.6h0M45.9 346.6h0M47.5 346.2h0M51.6 346.6h0M55.1 346.5h0M57.1 346.1h0M58.3 346.2h0M59.3 346.4h0M62.8 346h0M66.6 346.3h0M70.9 346.5h0M78.6 346.6h0M80.9 346.6h0M82.2 346.1h0M83.3 346.2h0M90.9 346.6h0M94.4 346.2h0M96.7 346.1h0M100.2 346.3h0M39 347h0M41.3 347.5h0M42 347.2h0M47.7 347.3h0M51.2 347.1h0M53.5 347.1h0M58 347.2h0M61.2 347.1h0M62.5 347.4h0M65.9 347.5h0M73.8 347.3h0M74.5 347h0M77.1 347.3h0M78.2 347.6h0M79.1 347.1h0M82.8 347.6h0M87.9 347h0M90.6 347.2h0M92.4 347.4h0M102.8 347.2h0M41.9 348.2h0M42.5 348.1h0M51.7 348h0M55.3 348.5h0M57.1 348.2h0M59.5 348.5h0M60.6 348.4h0M62.7 348.1h0M66.6 348.1h0M68.6 348.4h0M73.2 348.3h0M74 348.2h0M77.4 348.2h0M79.7 348.4h0M80.8 348.3h0M83.1 348.4h0M84.2 348.4h0M87.6 348.4h0M88.5 348.2h0M94.1 348.3h0M95.2 348.3h0M98.8 348.1h0M40.1 349.5h0M46.5 349.3h0M47.7 349.2h0M54.7 349.3h0M57.6 349.3h0M62.3 349.3h0M63.8 349.3h0M68.2 349.3h0M71.4 349h0M72.6 349h0M74.8 349h0M76.1 349.1h0M79.2 349.4h0M82.8 349.1h0M83.5 349.2h0M87 349.5h0M93.8 349.3h0M94.9 349.1h0M103.9 349.5h0M40.7 350.3h0M45.2 350.1h0M48.2 350.4h0M49.4 350h0M50.7 350h0M51.6 350.4h0M57.5 350.3h0M58.3 349.9h0M60.9 350.5h0M62 350.4h0M63.2 350.2h0M68.4 350.4h0M74.3 350.3h0M75.4 350h0M76.5 350.5h0M78.9 350.4h0M84.5 350.4h0M88.6 350h0M102.1 350h0M53.4 351.1h0M58.1 351.2h0M59.3 351h0M60.3 351.2h0M65.7 351.5h0M66.9 351h0M72.2 351.1h0M75.6 351h0M78.4 351.1h0M80.5 351.3h0M81.6 351.4h0M82.8 351.1h0M83.9 351.1h0M87.9 351h0M95.7 351.1h0M98.1 351.4h0M101.7 350.9h0M44.1 352.2h0M45.1 352.1h0M52 352.3h0M53.9 352h0M55.3 352.1h0M63 352.5h0M64.3 352.1h0M66.4 352.3h0M70.8 352.1h0M71.7 351.9h0M73 352.4h0M73.9 351.9h0M75.3 352.3h0M76.5 352h0M78.8 352.3h0M85.5 352.2h0M89.8 352h0M45.8 353.4h0M52.3 353.4h0M54.3 353.3h0M55.6 353.1h0M62.3 353.4h0M66.9 353.1h0M68.1 353.4h0M70.3 353.2h0M75.8 353.1h0M78.1 353.2h0M83.6 352.9h0M84.7 353h0M87.1 353.4h0M89 353.4h0M91.8 353.4h0M97.2 353h0M99.4 353.3h0M47 354.4h0M50.9 354.1h0M51.7 354.2h0M54.9 354.1h0M57.3 354h0M58.6 354.2h0M59.4 354h0M74.1 354.2h0M75.1 354.3h0M77.4 354h0M84.2 354.1h0M88.5 354.4h0M90 354.3h0M92.4 354.3h0M95.2 354h0M96.7 354.1h0" stroke="#6A5CF0" stroke-width="1.15" stroke-linecap="round" fill="none"/>
<path d="M69.8 285.6h0M73 288.2h0M35.4 288.6h0M60.4 288.6h0M54.4 290.6h0M47.2 291.6h0M80.8 291.7h0M47.8 292.8h0M59 292.6h0M98.3 292.6h0M57.3 293.8h0M64.1 294h0M36.9 294.7h0M40.8 294.4h0M82.3 294.6h0M48.1 295.8h0M59.4 295.9h0M87.4 295.5h0M70.4 296.6h0M84 299.8h0M52.4 300.7h0M41.9 301.4h0M75.5 301.6h0M45.3 302.6h0M59 302.3h0M65.1 303.4h0M58.9 304.7h0M82.4 304.7h0M55.5 306.2h0M72.6 306.3h0M35.2 308.1h0M68.1 308.4h0M77 308.4h0M67.5 309.2h0M101.9 309.4h0M44.5 310.4h0M59.3 310.5h0M100.7 310.3h0M46.2 311.2h0M63.1 311.4h0M99.2 312.3h0M58.8 313.9h0M50.3 315.9h0M68.9 316.2h0M61.9 317h0M76.6 317.2h0M96.9 318.2h0M35.8 320.1h0M45.4 319.9h0M80.2 320h0M42 322.1h0M77.3 322.7h0M95.7 324.1h0M73 324.7h0M76.6 325h0M54.9 326.8h0M57.1 327h0M80.5 329.9h0M82.4 329.9h0M76.4 330.5h0M80.8 330.7h0M59.9 331.7h0M41.9 332.6h0M39.9 333.5h0M75.5 334.6h0M42.1 335.6h0M66 335.4h0M71 336.4h0M48.6 338.4h0M61.3 339.5h0M62.4 339.7h0M61.1 341.3h0M90.5 341.5h0M96.1 345.1h0M40 347h0M89 347.2h0M38.1 348.4h0M86.4 348.4h0M103.1 348.1h0M61.3 349.5h0M80.1 350.5h0M46.7 351.2h0M52.4 351h0M67.8 351.3h0M46.9 352.9h0M101.4 353.1h0M62.8 354h0" stroke="#C95BE0" stroke-width="1.15" stroke-linecap="round" fill="none"/>
</g>
<path d="M32.6 283.5V361H110" fill="none" stroke="#bbb" stroke-width="0.5"/>
<line x1="35.6" y1="361" x2="35.6" y2="362.2" stroke="#999" stroke-width="0.4"/>
<text x="35.6" y="367.6" font-size="5.2" fill="#222" text-anchor="middle">0</text>
<line x1="65.6" y1="361" x2="65.6" y2="362.2" stroke="#999" stroke-width="0.4"/>
<text x="65.6" y="367.6" font-size="5.2" fill="#222" text-anchor="middle">50</text>
<line x1="92.9" y1="361" x2="92.9" y2="362.2" stroke="#999" stroke-width="0.4"/>
<text x="92.9" y="367.6" font-size="5.2" fill="#222" text-anchor="middle">100</text>
<line x1="31.4" y1="284.8" x2="32.6" y2="284.8" stroke="#999" stroke-width="0.4"/>
<text x="30.6" y="286.6" font-size="5.2" fill="#222" text-anchor="end">0</text>
<line x1="31.4" y1="303.7" x2="32.6" y2="303.7" stroke="#999" stroke-width="0.4"/>
<text x="30.6" y="305.5" font-size="5.2" fill="#222" text-anchor="end">-20</text>
<line x1="31.4" y1="322.3" x2="32.6" y2="322.3" stroke="#999" stroke-width="0.4"/>
<text x="30.6" y="324.1" font-size="5.2" fill="#222" text-anchor="end">-40</text>
<line x1="31.4" y1="340.8" x2="32.6" y2="340.8" stroke="#999" stroke-width="0.4"/>
<text x="30.6" y="342.6" font-size="5.2" fill="#222" text-anchor="end">-60</text>
<line x1="31.4" y1="359.7" x2="32.6" y2="359.7" stroke="#999" stroke-width="0.4"/>
<text x="30.6" y="361.5" font-size="5.2" fill="#222" text-anchor="end">-80</text>
<text x="78.9" y="280.9" font-size="6.15" fill="#111" text-anchor="middle" font-weight="bold">MDK_LRP1</text>
<text x="17.3" y="317" font-size="10.8" fill="#111" text-anchor="middle" transform="rotate(-90 17.3 317)" textLength="33.6" lengthAdjust="spacingAndGlyphs">BRCA1</text>
<rect x="48.3" y="315.1" width="24.2" height="8.4" fill="none" stroke="#333" stroke-width="0.5"/>
<line x1="72.5" y1="315.1" x2="115.91" y2="302.58" stroke="#222" stroke-width="0.45"/><polygon points="118.6,301.8 116.24,303.71 115.58,301.45" fill="#222"/>
<rect x="118.8" y="293.4" width="56.8" height="20.2" fill="#F6F3F9" stroke="#333" stroke-width="0.8"/>
<path d="M122.2 294.7h0M124.3 294.7h0M126.4 294.7h0M136.9 294.7h0M145.3 294.7h0M147.4 294.7h0M153.7 294.7h0M157.9 294.7h0M162.1 294.7h0M164.2 294.7h0M166.3 294.7h0M170.5 294.7h0M174.7 294.7h0M121.1 296.5h0M123.2 296.5h0M131.6 296.5h0M135.8 296.5h0M140 296.5h0M142.1 296.5h0M144.2 296.5h0M150.5 296.5h0M156.8 296.5h0M158.9 296.5h0M161 296.5h0M165.2 296.5h0M167.3 296.5h0M122.2 298.3h0M126.4 298.3h0M128.5 298.3h0M134.8 298.3h0M143.2 298.3h0M145.3 298.3h0M149.5 298.3h0M151.6 298.3h0M153.7 298.3h0M157.9 298.3h0M166.3 298.3h0M174.7 298.3h0M125.3 300.1h0M127.4 300.1h0M129.5 300.1h0M131.6 300.1h0M133.7 300.1h0M135.8 300.1h0M137.9 300.1h0M144.2 300.1h0M148.4 300.1h0M152.6 300.1h0M156.8 300.1h0M158.9 300.1h0M161 300.1h0M163.1 300.1h0M165.2 300.1h0M169.4 300.1h0M128.5 302h0M130.6 302h0M134.8 302h0M143.2 302h0M145.3 302h0M149.5 302h0M153.7 302h0M160 302h0M162.1 302h0M164.2 302h0M166.3 302h0M168.4 302h0M172.6 302h0M174.7 302h0M121.1 303.8h0M127.4 303.8h0M129.5 303.8h0M133.7 303.8h0M135.8 303.8h0M144.2 303.8h0M152.6 303.8h0M158.9 303.8h0M165.2 303.8h0M167.3 303.8h0M171.5 303.8h0M120.1 305.6h0M128.5 305.6h0M134.8 305.6h0M136.9 305.6h0M139 305.6h0M143.2 305.6h0M145.3 305.6h0M147.4 305.6h0M153.7 305.6h0M170.5 305.6h0M172.6 305.6h0M121.1 307.4h0M123.2 307.4h0M127.4 307.4h0M133.7 307.4h0M142.1 307.4h0M144.2 307.4h0M146.3 307.4h0M154.7 307.4h0M158.9 307.4h0M163.1 307.4h0M167.3 307.4h0M171.5 307.4h0M173.6 307.4h0M120.1 309.3h0M122.2 309.3h0M130.6 309.3h0M132.7 309.3h0M143.2 309.3h0M145.3 309.3h0M147.4 309.3h0M151.6 309.3h0M162.1 309.3h0M166.3 309.3h0M170.5 309.3h0M125.3 311.1h0M146.3 311.1h0M148.4 311.1h0M154.7 311.1h0M156.8 311.1h0M161 311.1h0M163.1 311.1h0M167.3 311.1h0M169.4 311.1h0M171.5 311.1h0M173.6 311.1h0" stroke="#DCD4EE" stroke-width="1.6" stroke-linecap="round" fill="none"/>
<path d="M132.7 294.7h0M141.1 294.7h0M151.6 294.7h0M133.7 296.5h0M124.3 302h0M132.7 302h0M125.3 303.8h0M146.3 303.8h0M122.2 305.6h0M157.9 305.6h0M140 307.4h0M156.8 307.4h0M136.9 309.3h0M139 309.3h0M121.1 311.1h0M129.5 311.1h0M137.9 311.1h0M150.5 311.1h0M165.2 311.1h0" stroke="#F0283C" stroke-width="1.8" stroke-linecap="round" fill="none"/>
<path d="M120.1 294.7h0M128.5 294.7h0M173.6 296.5h0M141.1 298.3h0M168.4 298.3h0M140 300.1h0M122.2 302h0M147.4 302h0M151.6 302h0M170.5 302h0M131.6 303.8h0M161 303.8h0M155.8 305.6h0M125.3 307.4h0M129.5 307.4h0M131.6 307.4h0M148.4 307.4h0M152.6 307.4h0M128.5 309.3h0M134.8 309.3h0M155.8 309.3h0M157.9 309.3h0M127.4 311.1h0M133.7 311.1h0M135.8 311.1h0" stroke="#3B3BF0" stroke-width="1.8" stroke-linecap="round" fill="none"/>
<path d="M130.6 294.7h0M134.8 294.7h0M139 294.7h0M143.2 294.7h0M149.5 294.7h0M155.8 294.7h0M160 294.7h0M168.4 294.7h0M172.6 294.7h0M125.3 296.5h0M127.4 296.5h0M129.5 296.5h0M137.9 296.5h0M146.3 296.5h0M148.4 296.5h0M152.6 296.5h0M154.7 296.5h0M163.1 296.5h0M169.4 296.5h0M171.5 296.5h0M120.1 298.3h0M124.3 298.3h0M130.6 298.3h0M132.7 298.3h0M136.9 298.3h0M139 298.3h0M147.4 298.3h0M155.8 298.3h0M160 298.3h0M162.1 298.3h0M164.2 298.3h0M170.5 298.3h0M172.6 298.3h0M121.1 300.1h0M123.2 300.1h0M142.1 300.1h0M146.3 300.1h0M150.5 300.1h0M154.7 300.1h0M167.3 300.1h0M171.5 300.1h0M173.6 300.1h0M120.1 302h0M126.4 302h0M136.9 302h0M139 302h0M141.1 302h0M155.8 302h0M157.9 302h0M123.2 303.8h0M137.9 303.8h0M140 303.8h0M142.1 303.8h0M148.4 303.8h0M150.5 303.8h0M154.7 303.8h0M156.8 303.8h0M163.1 303.8h0M169.4 303.8h0M173.6 303.8h0M124.3 305.6h0M126.4 305.6h0M130.6 305.6h0M132.7 305.6h0M141.1 305.6h0M149.5 305.6h0M151.6 305.6h0M160 305.6h0M162.1 305.6h0M164.2 305.6h0M166.3 305.6h0M168.4 305.6h0M174.7 305.6h0M135.8 307.4h0M137.9 307.4h0M150.5 307.4h0M161 307.4h0M165.2 307.4h0M169.4 307.4h0M124.3 309.3h0M126.4 309.3h0M141.1 309.3h0M149.5 309.3h0M153.7 309.3h0M160 309.3h0M164.2 309.3h0M168.4 309.3h0M172.6 309.3h0M174.7 309.3h0M123.2 311.1h0M131.6 311.1h0M140 311.1h0M142.1 311.1h0M144.2 311.1h0M152.6 311.1h0M158.9 311.1h0" stroke="#F2CAD6" stroke-width="1.6" stroke-linecap="round" fill="none"/>
<clipPath id="sc4"><polygon points="209.25,287.28 286.71,286.96 286.71,354.1 282.74,356.01 218.46,356.01 212.11,353.31 209.25,347.75"/></clipPath>
<g clip-path="url(#sc4)">
<polygon points="209.25,287.28 286.71,286.96 286.71,354.1 282.74,356.01 218.46,356.01 212.11,353.31 209.25,347.75" fill="#E4E2E8"/>
<g filter="url(#rough)">
</g>
<path d="M228.8 287.4h0M260 287.1h0M261.2 287.5h0M268 287.6h0M220.6 288.2h0M230.6 288.1h0M240.7 288.3h0M248 288.6h0M275.2 288.6h0M219.6 289.3h0M225.5 289.5h0M226.5 289h0M254.2 289.4h0M213.7 290.1h0M245.9 290.5h0M255.1 290.4h0M274.2 290.4h0M218.3 291.3h0M232.1 291.1h0M263.7 291.2h0M278.2 291.5h0M239.8 293.3h0M230.4 294.2h0M259.6 294.4h0M273.2 294.4h0M280.8 293.9h0M244.4 294.9h0M246.8 295.3h0M272.1 295.2h0M228.4 296.4h0M234.7 296.4h0M246.1 296.2h0M275.1 296.4h0M217.8 297.2h0M219.9 297.2h0M265.6 297.1h0M263.9 298.3h0M276.8 299h0M278.9 299.1h0M240.4 300h0M217.5 300.8h0M242.2 301.1h0M249.1 301.2h0M220.3 302.1h0M248.1 301.7h0M211.9 303.1h0M225.1 302.9h0M236.5 303.1h0M215.7 304.1h0M250.6 304.1h0M259.3 303.7h0M263.1 303.8h0M215.2 305h0M218.6 305h0M229.7 304.9h0M231.2 305h0M255.4 304.9h0M266.7 304.6h0M282.5 304.7h0M232.5 306.1h0M244.7 306.1h0M279.6 305.9h0M285.5 305.7h0M231.4 307.7h0M245 307.8h0M275 307.6h0M276 307.5h0M278.5 307.9h0M239.8 308.7h0M274.6 309.1h0M220.9 310.9h0M232.4 312h0M216.3 312.4h0M224.3 312.6h0M247 313.7h0M209.5 314.6h0M234.6 315.7h0M278.3 315.6h0M220 316.7h0M247.8 316.3h0M249.1 316.7h0M278.9 316.5h0M234 317.5h0M227.3 318.4h0M249.1 318.8h0M272.4 318.8h0M238.4 319.4h0M253.9 319.8h0M256.4 319.4h0M260.7 319.8h0M264.2 319.5h0M266.1 319.7h0M267.5 319.7h0M278.5 319.8h0M254.4 320.4h0M272.2 320.5h0M230.3 321.7h0M258.4 321.4h0M261.6 321.7h0M235.2 322.3h0M238.8 322.5h0M241 322.5h0M283.3 322.5h0M240.3 323.3h0M243.7 323.1h0M251.7 323.1h0M257.3 323.5h0M267.3 323.1h0M210.7 324.6h0M239 324.3h0M244.2 324.6h0M258.9 324.1h0M282.4 324.1h0M229.2 325.6h0M231.4 325.4h0M240.6 325.1h0M244.9 325.6h0M253.7 325.4h0M258.6 325.5h0M249.7 326h0M255.9 326.6h0M216.8 327.3h0M242.6 327.5h0M223.1 328.3h0M235.2 328.2h0M252.1 328.4h0M255.6 328.4h0M259.1 328.1h0M265.9 328.4h0M221.3 329.5h0M260.5 329.1h0M268.4 329.2h0M284.2 329.1h0M215.2 330.4h0M239.9 330.1h0M256.8 330h0M261.5 330.3h0M213.6 331.5h0M233.9 331h0M240.6 331.1h0M265.2 331.3h0M268.3 331.1h0M218.7 331.9h0M240.9 332.4h0M247.5 332.1h0M255.8 332h0M284.5 332.2h0M218.2 332.9h0M232.9 333.5h0M240.5 333.4h0M243.6 333.1h0M268.5 332.9h0M221.8 334.1h0M236.2 334.2h0M248.6 334.1h0M267.8 334h0M252.8 335.1h0M253.8 335.4h0M228.7 336h0M238.6 335.8h0M240.1 335.9h0M259.9 335.9h0M240.5 337.3h0M250.6 337.3h0M234.1 338h0M273.6 338h0M214.2 340.1h0M237.6 340.2h0M265.7 339.9h0M211.4 340.8h0M222.8 340.9h0M257.1 340.9h0M278.7 340.8h0M239.8 342.1h0M247.9 341.8h0M237.1 342.9h0M277.5 343.1h0M282.9 343.1h0M222 343.7h0M238.8 344.1h0M257.6 343.9h0M271.3 343.6h0M280.4 343.9h0M235 344.7h0M262.7 344.6h0M283.2 344.7h0M285.2 344.7h0M261.9 346.9h0M278.7 346.6h0M243.2 347.7h0M276 347.5h0M210.3 348.7h0M217.1 349h0M218.7 349.5h0M244.1 350.6h0M257.2 350.5h0M265.2 350.4h0M214.7 352.6h0M258.3 352.4h0M264 352.4h0M280.7 352.4h0M249.4 354.7h0M257 354.7h0M258.5 354.7h0M277.1 355.4h0M279.4 355.8h0" stroke="#E58A9A" stroke-width="1.15" stroke-linecap="round" fill="none"/>
<path d="M227.5 287.3h0M239 287.2h0M265.8 287.4h0M271.4 287.5h0M210.4 288h0M225.1 288.5h0M227 288.1h0M245.1 288.5h0M249.2 288.6h0M261.6 288.3h0M271.8 288.3h0M209.4 289.1h0M224.3 289.4h0M237.4 289.5h0M246.9 289.5h0M249.1 289.2h0M271 289.4h0M272.4 289.3h0M217 290.3h0M220.4 290.2h0M221.4 290.3h0M225.8 290h0M228.4 290.5h0M231.5 290.3h0M275.5 290.3h0M285.5 290.3h0M216.2 291.2h0M221 291.3h0M236.5 291.1h0M246.7 291.3h0M264.5 291.4h0M266.7 291h0M281.3 291.4h0M220.3 292.1h0M222.5 292.3h0M228 292h0M233.9 292.4h0M240.5 292.4h0M252.6 292.2h0M269.6 292.1h0M220.9 293.4h0M236.4 293.3h0M237.9 293h0M241.9 293.2h0M243 293.2h0M245.7 293.4h0M247.8 293.3h0M262.4 293.2h0M268.1 293.1h0M270.4 293.5h0M280.1 293.5h0M215.9 294.1h0M228 294.4h0M232.6 294.2h0M233.7 294.2h0M242.7 294h0M249.3 294.4h0M263.9 294h0M279.8 294.1h0M210.5 294.9h0M218.8 295.1h0M222.9 295.1h0M240.1 295h0M249.8 295.3h0M256.8 295.2h0M264.3 295.2h0M274.4 295h0M211.1 296.3h0M231.7 296h0M239.4 296.2h0M252.9 296.1h0M253.6 295.9h0M255.2 295.9h0M263.8 296.3h0M220.6 297.3h0M227.5 296.9h0M228.4 297.3h0M231 297.3h0M237.9 297h0M241 297.3h0M243.1 297.4h0M263.5 297.1h0M268.8 297h0M272.4 296.9h0M210.1 297.8h0M226.8 298.2h0M236.2 298.3h0M239.6 298.1h0M240.4 298.2h0M244.8 297.9h0M248.2 298.2h0M283.2 298h0M286.4 298h0M212.8 299.1h0M222 299h0M226.5 299.1h0M241.3 299.1h0M246.8 299.2h0M247.5 299.1h0M249 299h0M252.4 299.2h0M274.8 299h0M283.5 299.1h0M285.6 299.1h0M213.3 299.7h0M225 300.1h0M229.5 299.9h0M231.3 300.2h0M236.8 300.2h0M247.2 299.9h0M254 300.3h0M276.4 300.2h0M285.2 300.3h0M214.2 300.8h0M229.6 301.2h0M231.9 301.2h0M238.8 301.3h0M252.3 301.2h0M254.6 301.2h0M266.5 301h0M281.3 300.7h0M285.6 300.8h0M221.2 302.2h0M227.9 302h0M242.9 302.1h0M243.9 302h0M254.8 302.1h0M259.6 301.8h0M265.4 301.9h0M266.3 302.2h0M277.3 302.2h0M228.6 302.8h0M230.9 303.1h0M233 302.7h0M256.4 302.7h0M264.7 302.8h0M276.6 303.2h0M279.2 303h0M210.4 303.8h0M216.7 303.8h0M226.9 304h0M238.3 303.9h0M242.4 303.7h0M248.5 303.9h0M258.2 303.9h0M261.8 303.8h0M264 303.9h0M269.3 303.6h0M286.6 303.9h0M219.5 305.1h0M225.1 304.7h0M259.9 304.7h0M210.5 306h0M212.6 305.8h0M225.1 305.8h0M234.6 305.9h0M240.5 305.9h0M257 305.7h0M264 306h0M284.2 305.6h0M286.2 306h0M222.2 307.1h0M230.9 306.9h0M234.2 306.7h0M240.1 307h0M252.3 307.1h0M258.8 307h0M216.1 307.9h0M217 307.7h0M229.4 307.8h0M234.6 307.8h0M239.6 307.6h0M246.2 307.9h0M257 307.5h0M268.3 308h0M271.9 307.9h0M273.8 307.7h0M280.9 308h0M209.8 308.6h0M211.8 308.7h0M212.8 309h0M215.1 308.8h0M232 308.8h0M243.5 308.5h0M250.1 308.5h0M252.5 309h0M262.5 308.6h0M264.8 308.8h0M267.8 308.6h0M271.1 308.5h0M278.1 308.9h0M283.8 309h0M211.4 309.7h0M216 309.6h0M226.1 310h0M227.3 309.7h0M227.9 309.7h0M236.2 310h0M239.5 309.8h0M242.4 309.7h0M243.6 309.9h0M278.5 309.8h0M223.4 310.9h0M236.7 311h0M244.4 310.9h0M247.5 310.6h0M258.7 310.6h0M266.8 310.6h0M211.3 312h0M234.8 311.6h0M235.8 311.8h0M250.4 311.9h0M264.8 311.5h0M267.5 311.9h0M223 312.5h0M245.7 312.4h0M251.3 312.6h0M252 312.6h0M253.3 312.4h0M277.9 312.8h0M279 312.7h0M242.7 314h0M256.1 313.7h0M263.9 313.7h0M286.1 313.8h0M218.5 314.7h0M222.9 314.6h0M239.8 314.8h0M241.2 314.8h0M266.5 314.4h0M210.2 315.6h0M228 315.6h0M242.5 315.4h0M264.8 315.8h0M277.4 315.6h0M279.7 315.8h0M281.8 315.6h0M285.6 316.9h0M235.1 317.5h0M239.5 317.7h0M241.3 317.7h0M251.5 317.4h0M275 317.5h0M285.5 317.8h0M209.8 318.5h0M222 318.6h0M259.8 318.6h0M276.6 318.8h0M283.7 318.5h0M221.6 319.7h0M231.3 319.5h0M233.9 319.5h0M243.9 319.5h0M259.5 319.2h0M273.9 319.4h0M276.1 319.5h0M217.2 320.6h0M218.8 320.3h0M227.9 320.6h0M247.5 320.5h0M258.6 320.7h0M265.7 320.8h0M231.2 321.3h0M259.4 321.6h0M265 321.3h0M267.4 321.6h0M271.6 321.7h0M276 321.4h0M279.4 321.2h0M215.2 322.3h0M218.8 322.5h0M226.2 322.3h0M229.7 322.2h0M233.2 322.3h0M242 322.2h0M246.7 322.5h0M250.1 322.4h0M263.6 322.2h0M265.6 322.5h0M270.3 322.5h0M280.8 323.4h0M286.5 323.4h0M222.2 324.5h0M226.7 324.1h0M249.8 324.6h0M253.5 324.3h0M260.2 324.4h0M279.3 324.5h0M226.8 325.6h0M250.8 325.1h0M270.5 325.3h0M279.7 325.2h0M283.9 325.1h0M210.7 326.3h0M221 326.6h0M235.2 326.3h0M241.2 326.1h0M254.6 326.6h0M256.8 326.3h0M221.1 327.4h0M240.7 327.1h0M285.1 327.3h0M237.7 328.4h0M270.1 328.5h0M215.8 329.2h0M234 329h0M238.3 329h0M240.2 329.3h0M252.5 329.3h0M255 329h0M267.6 329.5h0M271.9 329.2h0M233.2 330.2h0M244.3 330h0M253.2 330.4h0M260.2 330.1h0M271.5 330.5h0M281.6 330h0M221.7 331.4h0M226.7 331h0M229.1 331.2h0M253.9 331.3h0M209.5 332.4h0M263.2 332.3h0M267.6 331.9h0M220.1 332.9h0M233.5 333h0M234.8 333.1h0M237 333.2h0M239.3 333.3h0M250.6 333.2h0M251.6 333.4h0M254 333.3h0M263.8 333.3h0M264.8 333.3h0M212.2 333.8h0M234.1 333.8h0M246.4 333.8h0M249.8 334.2h0M251.4 334.3h0M264.5 334h0M268.7 334.3h0M271.5 333.9h0M282.4 334h0M286.1 334h0M216 335h0M217 335.4h0M218 335.3h0M220.5 335h0M226.2 335h0M227.3 335.2h0M229.4 335.3h0M234.8 335.3h0M242.5 335.3h0M244 334.8h0M245.9 334.8h0M247 335.2h0M263.8 334.8h0M267.3 335.2h0M268.7 335.1h0M209.4 336.1h0M216.3 336.2h0M217.8 336.4h0M222.8 335.9h0M224 336.4h0M230 336.2h0M249 336.2h0M256.5 336.1h0M258.7 336.2h0M263.3 336.4h0M270.4 336h0M282.7 336.1h0M211.4 336.9h0M214.5 336.9h0M218.1 336.9h0M225 337.1h0M226 337h0M227.1 337.1h0M227.9 337h0M232.6 337h0M236.2 337.1h0M243.7 337.1h0M247 337.2h0M249.3 337.1h0M253.7 337.3h0M258.5 337.3h0M267.2 337.3h0M269.8 337.1h0M271.9 337.1h0M277.7 336.8h0M209.5 338h0M213.9 338.2h0M215.1 338.3h0M217.5 338.3h0M229.8 338.1h0M233.4 338.2h0M235.4 337.9h0M237.5 338.3h0M238.5 338.3h0M240.7 337.8h0M242.2 337.9h0M244.3 337.9h0M247.8 337.7h0M252.2 338.1h0M254.4 337.9h0M256.8 338.3h0M259.1 337.9h0M261.4 338.1h0M267.6 337.8h0M270.2 337.8h0M275.8 337.8h0M276.8 338.2h0M281.3 337.7h0M284.5 337.9h0M223.6 339.2h0M224.9 339.1h0M225.8 338.9h0M233.8 339h0M235 338.8h0M241.4 339.1h0M244 338.8h0M254.8 338.8h0M259.3 339.2h0M269.3 338.8h0M275 338.8h0M277.5 339.2h0M213.2 339.8h0M217.3 339.8h0M221 340h0M223.4 340.2h0M227.8 340h0M239 340h0M241.9 340h0M245.7 340.2h0M253.2 340.2h0M257 339.7h0M264.7 340.1h0M266.7 339.8h0M268.8 339.8h0M272.4 339.8h0M278.2 340h0M280.2 339.8h0M286 339.7h0M216.6 340.7h0M224.8 340.7h0M227.9 340.7h0M231.5 341.2h0M232.9 340.7h0M235.8 340.9h0M245.2 341h0M251.6 341.2h0M259.3 340.9h0M266.3 340.8h0M269.5 341.1h0M275.3 340.9h0M279.7 341.1h0M284.2 340.9h0M209.5 342.1h0M226.6 341.6h0M229.8 342.1h0M230.9 342h0M243.3 341.6h0M244.6 341.9h0M256.7 341.8h0M257.8 342.2h0M262.5 342h0M263.4 342.1h0M264.8 341.6h0M269.2 341.8h0M274.7 342.1h0M283.5 341.6h0M211 342.7h0M220.2 342.9h0M223.9 342.9h0M228 343.1h0M232.5 343.1h0M235.8 343.2h0M238 343.2h0M243.8 342.8h0M261.5 343h0M262.6 342.8h0M265.2 342.8h0M272.8 342.7h0M275.2 343h0M281 342.8h0M284 342.8h0M209.4 344.1h0M214 343.9h0M218.8 343.7h0M229.6 343.6h0M230.8 344.1h0M232.2 343.6h0M233.3 344.2h0M242.1 344h0M247.7 343.7h0M250.1 343.9h0M250.9 343.9h0M262.1 343.6h0M264.6 343.7h0M275.6 343.9h0M278.2 343.7h0M279.1 343.8h0M282.3 343.9h0M212.6 344.7h0M215.7 345.1h0M221.3 345h0M222.7 345.1h0M232.7 345.1h0M257.4 345h0M260.8 344.8h0M273 344.7h0M273.8 344.8h0M282 344.8h0M284 345h0M286.1 344.7h0M211 346h0M211.6 345.8h0M237.7 345.6h0M238.6 346h0M243.4 346.1h0M245.2 345.7h0M249 346h0M253.6 345.7h0M259.1 345.5h0M260.9 345.9h0M267.6 345.8h0M270 345.8h0M271.2 345.8h0M278.2 345.6h0M280.5 346h0M281.4 346h0M284.9 345.6h0M212.3 346.8h0M214.8 346.7h0M222.6 346.7h0M229 346.9h0M232.7 347.1h0M233.9 346.5h0M236 347h0M241.8 347h0M242.4 346.9h0M245 346.7h0M245.8 346.6h0M253.6 346.7h0M256 347h0M258.5 347.1h0M260.7 346.9h0M263.7 346.8h0M265.3 347h0M266.4 346.8h0M268.4 346.8h0M272.9 347.1h0M276.1 346.8h0M277.2 346.6h0M279.8 347h0M215.4 348h0M217.6 347.8h0M219.6 348h0M226.7 347.7h0M227.5 347.5h0M232.9 348h0M234.1 347.7h0M235.7 347.6h0M240 347.6h0M240.8 348.1h0M247.5 347.8h0M249.7 347.9h0M252.2 348h0M256.9 347.6h0M274.9 347.6h0M276.9 347.7h0M278.9 347.6h0M279.9 348h0M282.7 347.5h0M222.6 348.6h0M230.4 348.6h0M233.9 348.5h0M240.5 348.6h0M243.9 348.5h0M247.2 348.5h0M249.7 348.6h0M250.8 349h0M256.1 348.6h0M259.5 348.8h0M261.9 349h0M268.7 349h0M273.9 348.7h0M276.3 348.7h0M280.5 348.9h0M215.2 349.5h0M223.4 349.7h0M224.2 349.8h0M227.4 349.9h0M230.9 349.5h0M231.9 349.5h0M233.3 349.8h0M235.4 349.7h0M242.2 349.8h0M246.7 349.7h0M255.5 349.9h0M260.1 349.9h0M265.7 349.9h0M269.1 349.9h0M275.9 349.6h0M284.9 349.9h0M211.2 350.8h0M212.4 350.9h0M216.1 350.7h0M222.7 350.7h0M225 350.5h0M226.8 350.6h0M235.1 350.9h0M236 350.5h0M245.2 350.7h0M247.3 350.9h0M254.2 350.7h0M261.8 351h0M266 350.9h0M267.4 350.6h0M268.4 350.8h0M275.2 350.7h0M278.4 350.8h0M279.8 350.4h0M284 350.8h0M221.7 351.9h0M226.6 351.4h0M228.9 351.8h0M232 351.6h0M233 351.5h0M245.6 351.7h0M251.9 351.7h0M255.5 351.7h0M257.7 351.7h0M262.5 351.5h0M263.3 351.5h0M270.2 351.9h0M283.5 351.4h0M212.2 352.8h0M217.9 352.9h0M224.7 352.4h0M226 352.6h0M230.6 352.8h0M236.1 352.6h0M242.9 352.5h0M247.4 352.8h0M250.8 352.9h0M254 352.5h0M255.1 352.8h0M260.4 352.8h0M266.3 352.9h0M274.2 352.8h0M277.6 352.4h0M221.9 353.4h0M226.7 353.4h0M227.6 353.7h0M233.3 353.7h0M243.4 353.6h0M249.8 353.3h0M257.8 353.7h0M258.8 353.7h0M261.1 353.3h0M274.7 353.4h0M283.8 353.6h0M238.1 354.4h0M242.6 354.3h0M244.9 354.6h0M248.5 354.8h0M253 354.3h0M253.8 354.3h0M256.1 354.5h0M269.7 354.4h0M277.7 354.4h0M278.8 354.5h0M221.9 355.3h0M230.7 355.4h0M239 355.3h0M244.5 355.7h0M252 355.8h0M261.3 355.5h0M273.5 355.6h0M274.4 355.7h0M280.3 355.3h0M283.3 355.4h0" stroke="#6A5CF0" stroke-width="1.15" stroke-linecap="round" fill="none"/>
<path d="M210.6 287.4h0M213.5 288.2h0M247.9 289.4h0M222.3 292.9h0M215.5 295.2h0M256.3 296.2h0M231.8 296.9h0M276.5 298h0M239.5 300.2h0M266.6 303h0M214.5 304h0M253.9 303.8h0M256.1 304h0M270.5 305.8h0M245.3 306.8h0M275.8 306.7h0M284 309.9h0M265.7 312.8h0M230.5 314h0M254.8 315.7h0M241.1 318.3h0M279.9 319.5h0M243 320.8h0M253.9 327.3h0M254.9 327.3h0M251.4 329.4h0M243.4 330.1h0M244.1 331.3h0M251.1 332.3h0M269.9 333.2h0M232.3 334.4h0M239.9 334h0M249.4 335.1h0M251.3 335.9h0M262.1 336.1h0M219.2 336.8h0M282.6 338h0M283.1 339.1h0M218.4 339.7h0M241 339.8h0M216 341.2h0M218.9 340.9h0M227.5 342h0M231.8 342.2h0M250.7 342.8h0M211 343.8h0M228.5 343.8h0M257.8 346.1h0M284.1 346.7h0M218.3 348h0M214.3 349.6h0M221.8 349.5h0M263.7 349.9h0M245.8 353.6h0M221.3 354.8h0M226 354.4h0M250.7 354.9h0M255.6 355.8h0" stroke="#C95BE0" stroke-width="1.15" stroke-linecap="round" fill="none"/>
</g>
<path d="M205.4 283.5V360.4H288" fill="none" stroke="#bbb" stroke-width="0.5"/>
<line x1="209.2" y1="360.4" x2="209.2" y2="361.6" stroke="#999" stroke-width="0.4"/>
<text x="209.2" y="367" font-size="5.2" fill="#222" text-anchor="middle">0</text>
<line x1="237.2" y1="360.4" x2="237.2" y2="361.6" stroke="#999" stroke-width="0.4"/>
<text x="237.2" y="367" font-size="5.2" fill="#222" text-anchor="middle">50</text>
<line x1="264.4" y1="360.4" x2="264.4" y2="361.6" stroke="#999" stroke-width="0.4"/>
<text x="264.4" y="367" font-size="5.2" fill="#222" text-anchor="middle">100</text>
<line x1="204.2" y1="284.8" x2="205.4" y2="284.8" stroke="#999" stroke-width="0.4"/>
<text x="203.4" y="286.6" font-size="5.2" fill="#222" text-anchor="end">0</text>
<line x1="204.2" y1="303.7" x2="205.4" y2="303.7" stroke="#999" stroke-width="0.4"/>
<text x="203.4" y="305.5" font-size="5.2" fill="#222" text-anchor="end">-20</text>
<line x1="204.2" y1="322.3" x2="205.4" y2="322.3" stroke="#999" stroke-width="0.4"/>
<text x="203.4" y="324.1" font-size="5.2" fill="#222" text-anchor="end">-40</text>
<line x1="204.2" y1="340.8" x2="205.4" y2="340.8" stroke="#999" stroke-width="0.4"/>
<text x="203.4" y="342.6" font-size="5.2" fill="#222" text-anchor="end">-60</text>
<line x1="204.2" y1="359.7" x2="205.4" y2="359.7" stroke="#999" stroke-width="0.4"/>
<text x="203.4" y="361.5" font-size="5.2" fill="#222" text-anchor="end">-80</text>
<text x="250.6" y="280.9" font-size="6.15" fill="#111" text-anchor="middle" font-weight="bold">MDK_LRP1</text>
<text x="190.9" y="317" font-size="10.8" fill="#111" text-anchor="middle" transform="rotate(-90 190.9 317)" textLength="33.6" lengthAdjust="spacingAndGlyphs">BRCA2</text>
<rect x="248.1" y="301.4" width="19.6" height="16.3" fill="none" stroke="#333" stroke-width="0.5"/>
<line x1="267.7" y1="301.4" x2="296.19" y2="293.17" stroke="#222" stroke-width="0.45"/><polygon points="298.5,292.5 296.47,294.13 295.91,292.2" fill="#222"/>
<rect x="299.9" y="278.3" width="48" height="43.2" fill="#FBFAFD" stroke="#333" stroke-width="0.8"/>
<path d="M308 280.2h0M311.1 280.2h0M314.2 280.2h0M317.3 280.2h0M320.4 280.2h0M323.5 280.2h0M329.7 280.2h0M332.8 280.2h0M335.9 280.2h0M339 280.2h0M342.1 280.2h0M303.3 282.9h0M309.5 282.9h0M312.6 282.9h0M315.7 282.9h0M318.8 282.9h0M321.9 282.9h0M325 282.9h0M328.1 282.9h0M331.2 282.9h0M334.3 282.9h0M337.4 282.9h0M340.5 282.9h0M343.6 282.9h0M301.8 285.6h0M308 285.6h0M311.1 285.6h0M317.3 285.6h0M320.4 285.6h0M323.5 285.6h0M326.6 285.6h0M329.7 285.6h0M335.9 285.6h0M339 285.6h0M342.1 285.6h0M345.2 285.6h0M303.3 288.3h0M306.4 288.3h0M309.5 288.3h0M318.8 288.3h0M328.1 288.3h0M334.3 288.3h0M337.4 288.3h0M343.6 288.3h0M301.8 290.9h0M304.9 290.9h0M308 290.9h0M311.1 290.9h0M317.3 290.9h0M320.4 290.9h0M323.5 290.9h0M326.6 290.9h0M329.7 290.9h0M332.8 290.9h0M335.9 290.9h0M342.1 290.9h0M345.2 290.9h0M303.3 293.6h0M309.5 293.6h0M312.6 293.6h0M318.8 293.6h0M325 293.6h0M328.1 293.6h0M331.2 293.6h0M337.4 293.6h0M304.9 296.3h0M308 296.3h0M314.2 296.3h0M320.4 296.3h0M323.5 296.3h0M332.8 296.3h0M335.9 296.3h0M339 296.3h0M345.2 296.3h0M309.5 299h0M312.6 299h0M318.8 299h0M321.9 299h0M325 299h0M340.5 299h0M308 301.7h0M314.2 301.7h0M317.3 301.7h0M326.6 301.7h0M329.7 301.7h0M332.8 301.7h0M335.9 301.7h0M339 301.7h0M342.1 301.7h0M345.2 301.7h0M303.3 304.4h0M306.4 304.4h0M312.6 304.4h0M325 304.4h0M337.4 304.4h0M340.5 304.4h0M343.6 304.4h0M301.8 307.1h0M304.9 307.1h0M308 307.1h0M314.2 307.1h0M317.3 307.1h0M320.4 307.1h0M326.6 307.1h0M332.8 307.1h0M345.2 307.1h0M303.3 309.8h0M306.4 309.8h0M309.5 309.8h0M312.6 309.8h0M318.8 309.8h0M321.9 309.8h0M337.4 309.8h0M340.5 309.8h0M343.6 309.8h0M304.9 312.5h0M308 312.5h0M317.3 312.5h0M323.5 312.5h0M326.6 312.5h0M329.7 312.5h0M332.8 312.5h0M335.9 312.5h0M342.1 312.5h0M345.2 312.5h0M303.3 315.2h0M315.7 315.2h0M318.8 315.2h0M321.9 315.2h0M331.2 315.2h0M334.3 315.2h0M340.5 315.2h0M343.6 315.2h0M304.9 317.9h0M308 317.9h0M314.2 317.9h0M317.3 317.9h0M320.4 317.9h0M326.6 317.9h0M332.8 317.9h0M335.9 317.9h0M345.2 317.9h0" stroke="#CFC6E2" stroke-width="1.1" stroke-linecap="round" fill="none"/>
<path d="M306.4 282.9h0M304.9 285.6h0M331.2 288.3h0M301.8 301.7h0M318.8 304.4h0M331.2 304.4h0M334.3 304.4h0M323.5 307.1h0M328.1 309.8h0M309.5 315.2h0" stroke="#F0283C" stroke-width="2" stroke-linecap="round" fill="none"/>
<path d="M321.9 288.3h0M340.5 288.3h0M301.8 296.3h0M306.4 299h0M328.1 304.4h0M339 312.5h0" stroke="#3B3BF0" stroke-width="2" stroke-linecap="round" fill="none"/>
<path d="M301.8 280.2h0M304.9 280.2h0M326.6 280.2h0M345.2 280.2h0M314.2 285.6h0M332.8 285.6h0M312.6 288.3h0M315.7 288.3h0M325 288.3h0M314.2 290.9h0M339 290.9h0M306.4 293.6h0M315.7 293.6h0M321.9 293.6h0M334.3 293.6h0M340.5 293.6h0M343.6 293.6h0M311.1 296.3h0M317.3 296.3h0M326.6 296.3h0M329.7 296.3h0M342.1 296.3h0M303.3 299h0M315.7 299h0M328.1 299h0M331.2 299h0M334.3 299h0M337.4 299h0M343.6 299h0M304.9 301.7h0M311.1 301.7h0M320.4 301.7h0M323.5 301.7h0M309.5 304.4h0M315.7 304.4h0M321.9 304.4h0M311.1 307.1h0M329.7 307.1h0M335.9 307.1h0M339 307.1h0M342.1 307.1h0M315.7 309.8h0M325 309.8h0M331.2 309.8h0M334.3 309.8h0M301.8 312.5h0M311.1 312.5h0M314.2 312.5h0M320.4 312.5h0M306.4 315.2h0M312.6 315.2h0M325 315.2h0M328.1 315.2h0M337.4 315.2h0M301.8 317.9h0M311.1 317.9h0M323.5 317.9h0M329.7 317.9h0M339 317.9h0M342.1 317.9h0" stroke="#D8B8CC" stroke-width="1.1" stroke-linecap="round" fill="none"/>
<g shape-rendering="crispEdges">
<rect x="371.1" y="243.45" width="7.22" height="7.2" fill="#D9D9D9"/>
<rect x="371.1" y="236.4" width="7.22" height="7.2" fill="#D9D6D6"/>
<rect x="371.1" y="229.35" width="7.22" height="7.2" fill="#DACFCF"/>
<rect x="371.1" y="222.3" width="7.22" height="7.2" fill="#DCC3C3"/>
<rect x="371.1" y="215.25" width="7.22" height="7.2" fill="#DFB1B1"/>
<rect x="371.1" y="208.2" width="7.22" height="7.2" fill="#E49999"/>
<rect x="371.1" y="201.15" width="7.22" height="7.2" fill="#E97C7C"/>
<rect x="371.1" y="194.1" width="7.22" height="7.2" fill="#EF5858"/>
<rect x="371.1" y="187.05" width="7.22" height="7.2" fill="#F62F2F"/>
<rect x="371.1" y="180" width="7.22" height="7.2" fill="#FF0000"/>
<rect x="378.17" y="243.45" width="7.22" height="7.2" fill="#D6D6D9"/>
<rect x="378.17" y="236.4" width="7.22" height="7.2" fill="#D7D4D7"/>
<rect x="378.17" y="229.35" width="7.22" height="7.2" fill="#D8CDD0"/>
<rect x="378.17" y="222.3" width="7.22" height="7.2" fill="#DAC1C3"/>
<rect x="378.17" y="215.25" width="7.22" height="7.2" fill="#DEAFB2"/>
<rect x="378.17" y="208.2" width="7.22" height="7.2" fill="#E2989A"/>
<rect x="378.17" y="201.15" width="7.22" height="7.2" fill="#E77B7D"/>
<rect x="378.17" y="194.1" width="7.22" height="7.2" fill="#EE585A"/>
<rect x="378.17" y="187.05" width="7.22" height="7.2" fill="#F62F31"/>
<rect x="378.17" y="180" width="7.22" height="7.2" fill="#FF0002"/>
<rect x="385.24" y="243.45" width="7.22" height="7.2" fill="#CFCFDA"/>
<rect x="385.24" y="236.4" width="7.22" height="7.2" fill="#D0CDD8"/>
<rect x="385.24" y="229.35" width="7.22" height="7.2" fill="#D1C6D1"/>
<rect x="385.24" y="222.3" width="7.22" height="7.2" fill="#D4BBC5"/>
<rect x="385.24" y="215.25" width="7.22" height="7.2" fill="#D8A9B4"/>
<rect x="385.24" y="208.2" width="7.22" height="7.2" fill="#DD939E"/>
<rect x="385.24" y="201.15" width="7.22" height="7.2" fill="#E37781"/>
<rect x="385.24" y="194.1" width="7.22" height="7.2" fill="#EB5560"/>
<rect x="385.24" y="187.05" width="7.22" height="7.2" fill="#F42D38"/>
<rect x="385.24" y="180" width="7.22" height="7.2" fill="#FF000A"/>
<rect x="392.31" y="243.45" width="7.22" height="7.2" fill="#C3C3DC"/>
<rect x="392.31" y="236.4" width="7.22" height="7.2" fill="#C3C1DA"/>
<rect x="392.31" y="229.35" width="7.22" height="7.2" fill="#C5BBD4"/>
<rect x="392.31" y="222.3" width="7.22" height="7.2" fill="#C9AFC9"/>
<rect x="392.31" y="215.25" width="7.22" height="7.2" fill="#CE9FB9"/>
<rect x="392.31" y="208.2" width="7.22" height="7.2" fill="#D48AA3"/>
<rect x="392.31" y="201.15" width="7.22" height="7.2" fill="#DC7089"/>
<rect x="392.31" y="194.1" width="7.22" height="7.2" fill="#E65069"/>
<rect x="392.31" y="187.05" width="7.22" height="7.2" fill="#F12A44"/>
<rect x="392.31" y="180" width="7.22" height="7.2" fill="#FE0019"/>
<rect x="399.38" y="243.45" width="7.22" height="7.2" fill="#B1B1DF"/>
<rect x="399.38" y="236.4" width="7.22" height="7.2" fill="#B2AFDE"/>
<rect x="399.38" y="229.35" width="7.22" height="7.2" fill="#B4A9D8"/>
<rect x="399.38" y="222.3" width="7.22" height="7.2" fill="#B99FCE"/>
<rect x="399.38" y="215.25" width="7.22" height="7.2" fill="#BF91BF"/>
<rect x="399.38" y="208.2" width="7.22" height="7.2" fill="#C87DAC"/>
<rect x="399.38" y="201.15" width="7.22" height="7.2" fill="#D26594"/>
<rect x="399.38" y="194.1" width="7.22" height="7.2" fill="#DF4877"/>
<rect x="399.38" y="187.05" width="7.22" height="7.2" fill="#EE2655"/>
<rect x="399.38" y="180" width="7.22" height="7.2" fill="#FF002E"/>
<rect x="406.45" y="243.45" width="7.22" height="7.2" fill="#9999E4"/>
<rect x="406.45" y="236.4" width="7.22" height="7.2" fill="#9A98E2"/>
<rect x="406.45" y="229.35" width="7.22" height="7.2" fill="#9E93DD"/>
<rect x="406.45" y="222.3" width="7.22" height="7.2" fill="#A38AD4"/>
<rect x="406.45" y="215.25" width="7.22" height="7.2" fill="#AC7DC8"/>
<rect x="406.45" y="208.2" width="7.22" height="7.2" fill="#B76DB7"/>
<rect x="406.45" y="201.15" width="7.22" height="7.2" fill="#C558A2"/>
<rect x="406.45" y="194.1" width="7.22" height="7.2" fill="#D53F89"/>
<rect x="406.45" y="187.05" width="7.22" height="7.2" fill="#E8216B"/>
<rect x="406.45" y="180" width="7.22" height="7.2" fill="#FF004A"/>
<rect x="413.52" y="243.45" width="7.22" height="7.2" fill="#7C7CE9"/>
<rect x="413.52" y="236.4" width="7.22" height="7.2" fill="#7D7BE7"/>
<rect x="413.52" y="229.35" width="7.22" height="7.2" fill="#8177E3"/>
<rect x="413.52" y="222.3" width="7.22" height="7.2" fill="#8970DC"/>
<rect x="413.52" y="215.25" width="7.22" height="7.2" fill="#9465D2"/>
<rect x="413.52" y="208.2" width="7.22" height="7.2" fill="#A258C5"/>
<rect x="413.52" y="201.15" width="7.22" height="7.2" fill="#B447B4"/>
<rect x="413.52" y="194.1" width="7.22" height="7.2" fill="#C9339F"/>
<rect x="413.52" y="187.05" width="7.22" height="7.2" fill="#E21B88"/>
<rect x="413.52" y="180" width="7.22" height="7.2" fill="#FF006C"/>
<rect x="420.59" y="243.45" width="7.22" height="7.2" fill="#5858EF"/>
<rect x="420.59" y="236.4" width="7.22" height="7.2" fill="#5A58EE"/>
<rect x="420.59" y="229.35" width="7.22" height="7.2" fill="#6055EB"/>
<rect x="420.59" y="222.3" width="7.22" height="7.2" fill="#6950E6"/>
<rect x="420.59" y="215.25" width="7.22" height="7.2" fill="#7748DF"/>
<rect x="420.59" y="208.2" width="7.22" height="7.2" fill="#893FD5"/>
<rect x="420.59" y="201.15" width="7.22" height="7.2" fill="#9F33C9"/>
<rect x="420.59" y="194.1" width="7.22" height="7.2" fill="#BA24BA"/>
<rect x="420.59" y="187.05" width="7.22" height="7.2" fill="#DA13A9"/>
<rect x="420.59" y="180" width="7.22" height="7.2" fill="#FF0096"/>
<rect x="427.66" y="243.45" width="7.22" height="7.2" fill="#2F2FF6"/>
<rect x="427.66" y="236.4" width="7.22" height="7.2" fill="#312FF6"/>
<rect x="427.66" y="229.35" width="7.22" height="7.2" fill="#382DF4"/>
<rect x="427.66" y="222.3" width="7.22" height="7.2" fill="#442AF1"/>
<rect x="427.66" y="215.25" width="7.22" height="7.2" fill="#5526EE"/>
<rect x="427.66" y="208.2" width="7.22" height="7.2" fill="#6B21E8"/>
<rect x="427.66" y="201.15" width="7.22" height="7.2" fill="#881BE2"/>
<rect x="427.66" y="194.1" width="7.22" height="7.2" fill="#A913DA"/>
<rect x="427.66" y="187.05" width="7.22" height="7.2" fill="#D10AD1"/>
<rect x="427.66" y="180" width="7.22" height="7.2" fill="#FF00C7"/>
<rect x="434.73" y="243.45" width="7.22" height="7.2" fill="#0000FF"/>
<rect x="434.73" y="236.4" width="7.22" height="7.2" fill="#0200FF"/>
<rect x="434.73" y="229.35" width="7.22" height="7.2" fill="#0A00FF"/>
<rect x="434.73" y="222.3" width="7.22" height="7.2" fill="#1900FE"/>
<rect x="434.73" y="215.25" width="7.22" height="7.2" fill="#2E00FF"/>
<rect x="434.73" y="208.2" width="7.22" height="7.2" fill="#4A00FF"/>
<rect x="434.73" y="201.15" width="7.22" height="7.2" fill="#6C00FF"/>
<rect x="434.73" y="194.1" width="7.22" height="7.2" fill="#9600FF"/>
<rect x="434.73" y="187.05" width="7.22" height="7.2" fill="#C700FF"/>
<rect x="434.73" y="180" width="7.22" height="7.2" fill="#FF00FF"/>
</g>
<text x="371.4" y="177.3" font-size="5.2" fill="#111" font-weight="bold">Color threshold: 0.5</text>
<text x="369.6" y="237.4" font-size="2.8" fill="#444" text-anchor="end">2.5</text>
<text x="369.6" y="219.78" font-size="2.8" fill="#444" text-anchor="end">5.0</text>
<text x="369.6" y="202.15" font-size="2.8" fill="#444" text-anchor="end">7.5</text>
<text x="369.6" y="184.53" font-size="2.8" fill="#444" text-anchor="end">10.0</text>
<text x="381.7" y="254.7" font-size="2.8" fill="#444" text-anchor="middle">2</text>
<text x="395.84" y="254.7" font-size="2.8" fill="#444" text-anchor="middle">4</text>
<text x="409.98" y="254.7" font-size="2.8" fill="#444" text-anchor="middle">6</text>
<text x="424.12" y="254.7" font-size="2.8" fill="#444" text-anchor="middle">8</text>
<text x="438.26" y="254.7" font-size="2.8" fill="#444" text-anchor="middle">10</text>
<text x="404.95" y="263.7" font-size="8.6" fill="#222" text-anchor="middle">MIF</text>
<text x="359.9" y="220.25" font-size="8.6" fill="#222" text-anchor="middle" transform="rotate(-90 359.9 220.25)">CD74</text>
<g shape-rendering="crispEdges">
<rect x="371.1" y="338.17" width="7.22" height="7.18" fill="#D9D9D9"/>
<rect x="371.1" y="331.14" width="7.22" height="7.18" fill="#D9D6D6"/>
<rect x="371.1" y="324.11" width="7.22" height="7.18" fill="#DACFCF"/>
<rect x="371.1" y="317.08" width="7.22" height="7.18" fill="#DCC3C3"/>
<rect x="371.1" y="310.05" width="7.22" height="7.18" fill="#DFB1B1"/>
<rect x="371.1" y="303.02" width="7.22" height="7.18" fill="#E49999"/>
<rect x="371.1" y="295.99" width="7.22" height="7.18" fill="#E97C7C"/>
<rect x="371.1" y="288.96" width="7.22" height="7.18" fill="#EF5858"/>
<rect x="371.1" y="281.93" width="7.22" height="7.18" fill="#F62F2F"/>
<rect x="371.1" y="274.9" width="7.22" height="7.18" fill="#FF0000"/>
<rect x="378.17" y="338.17" width="7.22" height="7.18" fill="#D6D6D9"/>
<rect x="378.17" y="331.14" width="7.22" height="7.18" fill="#D7D4D7"/>
<rect x="378.17" y="324.11" width="7.22" height="7.18" fill="#D8CDD0"/>
<rect x="378.17" y="317.08" width="7.22" height="7.18" fill="#DAC1C3"/>
<rect x="378.17" y="310.05" width="7.22" height="7.18" fill="#DEAFB2"/>
<rect x="378.17" y="303.02" width="7.22" height="7.18" fill="#E2989A"/>
<rect x="378.17" y="295.99" width="7.22" height="7.18" fill="#E77B7D"/>
<rect x="378.17" y="288.96" width="7.22" height="7.18" fill="#EE585A"/>
<rect x="378.17" y="281.93" width="7.22" height="7.18" fill="#F62F31"/>
<rect x="378.17" y="274.9" width="7.22" height="7.18" fill="#FF0002"/>
<rect x="385.24" y="338.17" width="7.22" height="7.18" fill="#CFCFDA"/>
<rect x="385.24" y="331.14" width="7.22" height="7.18" fill="#D0CDD8"/>
<rect x="385.24" y="324.11" width="7.22" height="7.18" fill="#D1C6D1"/>
<rect x="385.24" y="317.08" width="7.22" height="7.18" fill="#D4BBC5"/>
<rect x="385.24" y="310.05" width="7.22" height="7.18" fill="#D8A9B4"/>
<rect x="385.24" y="303.02" width="7.22" height="7.18" fill="#DD939E"/>
<rect x="385.24" y="295.99" width="7.22" height="7.18" fill="#E37781"/>
<rect x="385.24" y="288.96" width="7.22" height="7.18" fill="#EB5560"/>
<rect x="385.24" y="281.93" width="7.22" height="7.18" fill="#F42D38"/>
<rect x="385.24" y="274.9" width="7.22" height="7.18" fill="#FF000A"/>
<rect x="392.31" y="338.17" width="7.22" height="7.18" fill="#C3C3DC"/>
<rect x="392.31" y="331.14" width="7.22" height="7.18" fill="#C3C1DA"/>
<rect x="392.31" y="324.11" width="7.22" height="7.18" fill="#C5BBD4"/>
<rect x="392.31" y="317.08" width="7.22" height="7.18" fill="#C9AFC9"/>
<rect x="392.31" y="310.05" width="7.22" height="7.18" fill="#CE9FB9"/>
<rect x="392.31" y="303.02" width="7.22" height="7.18" fill="#D48AA3"/>
<rect x="392.31" y="295.99" width="7.22" height="7.18" fill="#DC7089"/>
<rect x="392.31" y="288.96" width="7.22" height="7.18" fill="#E65069"/>
<rect x="392.31" y="281.93" width="7.22" height="7.18" fill="#F12A44"/>
<rect x="392.31" y="274.9" width="7.22" height="7.18" fill="#FE0019"/>
<rect x="399.38" y="338.17" width="7.22" height="7.18" fill="#B1B1DF"/>
<rect x="399.38" y="331.14" width="7.22" height="7.18" fill="#B2AFDE"/>
<rect x="399.38" y="324.11" width="7.22" height="7.18" fill="#B4A9D8"/>
<rect x="399.38" y="317.08" width="7.22" height="7.18" fill="#B99FCE"/>
<rect x="399.38" y="310.05" width="7.22" height="7.18" fill="#BF91BF"/>
<rect x="399.38" y="303.02" width="7.22" height="7.18" fill="#C87DAC"/>
<rect x="399.38" y="295.99" width="7.22" height="7.18" fill="#D26594"/>
<rect x="399.38" y="288.96" width="7.22" height="7.18" fill="#DF4877"/>
<rect x="399.38" y="281.93" width="7.22" height="7.18" fill="#EE2655"/>
<rect x="399.38" y="274.9" width="7.22" height="7.18" fill="#FF002E"/>
<rect x="406.45" y="338.17" width="7.22" height="7.18" fill="#9999E4"/>
<rect x="406.45" y="331.14" width="7.22" height="7.18" fill="#9A98E2"/>
<rect x="406.45" y="324.11" width="7.22" height="7.18" fill="#9E93DD"/>
<rect x="406.45" y="317.08" width="7.22" height="7.18" fill="#A38AD4"/>
<rect x="406.45" y="310.05" width="7.22" height="7.18" fill="#AC7DC8"/>
<rect x="406.45" y="303.02" width="7.22" height="7.18" fill="#B76DB7"/>
<rect x="406.45" y="295.99" width="7.22" height="7.18" fill="#C558A2"/>
<rect x="406.45" y="288.96" width="7.22" height="7.18" fill="#D53F89"/>
<rect x="406.45" y="281.93" width="7.22" height="7.18" fill="#E8216B"/>
<rect x="406.45" y="274.9" width="7.22" height="7.18" fill="#FF004A"/>
<rect x="413.52" y="338.17" width="7.22" height="7.18" fill="#7C7CE9"/>
<rect x="413.52" y="331.14" width="7.22" height="7.18" fill="#7D7BE7"/>
<rect x="413.52" y="324.11" width="7.22" height="7.18" fill="#8177E3"/>
<rect x="413.52" y="317.08" width="7.22" height="7.18" fill="#8970DC"/>
<rect x="413.52" y="310.05" width="7.22" height="7.18" fill="#9465D2"/>
<rect x="413.52" y="303.02" width="7.22" height="7.18" fill="#A258C5"/>
<rect x="413.52" y="295.99" width="7.22" height="7.18" fill="#B447B4"/>
<rect x="413.52" y="288.96" width="7.22" height="7.18" fill="#C9339F"/>
<rect x="413.52" y="281.93" width="7.22" height="7.18" fill="#E21B88"/>
<rect x="413.52" y="274.9" width="7.22" height="7.18" fill="#FF006C"/>
<rect x="420.59" y="338.17" width="7.22" height="7.18" fill="#5858EF"/>
<rect x="420.59" y="331.14" width="7.22" height="7.18" fill="#5A58EE"/>
<rect x="420.59" y="324.11" width="7.22" height="7.18" fill="#6055EB"/>
<rect x="420.59" y="317.08" width="7.22" height="7.18" fill="#6950E6"/>
<rect x="420.59" y="310.05" width="7.22" height="7.18" fill="#7748DF"/>
<rect x="420.59" y="303.02" width="7.22" height="7.18" fill="#893FD5"/>
<rect x="420.59" y="295.99" width="7.22" height="7.18" fill="#9F33C9"/>
<rect x="420.59" y="288.96" width="7.22" height="7.18" fill="#BA24BA"/>
<rect x="420.59" y="281.93" width="7.22" height="7.18" fill="#DA13A9"/>
<rect x="420.59" y="274.9" width="7.22" height="7.18" fill="#FF0096"/>
<rect x="427.66" y="338.17" width="7.22" height="7.18" fill="#2F2FF6"/>
<rect x="427.66" y="331.14" width="7.22" height="7.18" fill="#312FF6"/>
<rect x="427.66" y="324.11" width="7.22" height="7.18" fill="#382DF4"/>
<rect x="427.66" y="317.08" width="7.22" height="7.18" fill="#442AF1"/>
<rect x="427.66" y="310.05" width="7.22" height="7.18" fill="#5526EE"/>
<rect x="427.66" y="303.02" width="7.22" height="7.18" fill="#6B21E8"/>
<rect x="427.66" y="295.99" width="7.22" height="7.18" fill="#881BE2"/>
<rect x="427.66" y="288.96" width="7.22" height="7.18" fill="#A913DA"/>
<rect x="427.66" y="281.93" width="7.22" height="7.18" fill="#D10AD1"/>
<rect x="427.66" y="274.9" width="7.22" height="7.18" fill="#FF00C7"/>
<rect x="434.73" y="338.17" width="7.22" height="7.18" fill="#0000FF"/>
<rect x="434.73" y="331.14" width="7.22" height="7.18" fill="#0200FF"/>
<rect x="434.73" y="324.11" width="7.22" height="7.18" fill="#0A00FF"/>
<rect x="434.73" y="317.08" width="7.22" height="7.18" fill="#1900FE"/>
<rect x="434.73" y="310.05" width="7.22" height="7.18" fill="#2E00FF"/>
<rect x="434.73" y="303.02" width="7.22" height="7.18" fill="#4A00FF"/>
<rect x="434.73" y="295.99" width="7.22" height="7.18" fill="#6C00FF"/>
<rect x="434.73" y="288.96" width="7.22" height="7.18" fill="#9600FF"/>
<rect x="434.73" y="281.93" width="7.22" height="7.18" fill="#C700FF"/>
<rect x="434.73" y="274.9" width="7.22" height="7.18" fill="#FF00FF"/>
</g>
<text x="371.4" y="272.2" font-size="5.2" fill="#111" font-weight="bold">Color threshold: 0.5</text>
<text x="369.6" y="332.14" font-size="2.8" fill="#444" text-anchor="end">2.5</text>
<text x="369.6" y="314.56" font-size="2.8" fill="#444" text-anchor="end">5.0</text>
<text x="369.6" y="296.99" font-size="2.8" fill="#444" text-anchor="end">7.5</text>
<text x="369.6" y="279.41" font-size="2.8" fill="#444" text-anchor="end">10.0</text>
<text x="381.7" y="349.4" font-size="2.8" fill="#444" text-anchor="middle">2</text>
<text x="395.84" y="349.4" font-size="2.8" fill="#444" text-anchor="middle">4</text>
<text x="409.98" y="349.4" font-size="2.8" fill="#444" text-anchor="middle">6</text>
<text x="424.12" y="349.4" font-size="2.8" fill="#444" text-anchor="middle">8</text>
<text x="438.26" y="349.4" font-size="2.8" fill="#444" text-anchor="middle">10</text>
<text x="404.95" y="358.4" font-size="8.6" fill="#222" text-anchor="middle">MDK</text>
<text x="359.9" y="315.05" font-size="8.6" fill="#222" text-anchor="middle" transform="rotate(-90 359.9 315.05)">LRP1</text>
<circle cx="456.5" cy="216.2" r="2.3" fill="#1414F0"/>
<text x="462.7" y="218.9" font-size="7.8" fill="#111" font-weight="bold" textLength="15.3" lengthAdjust="spacingAndGlyphs">MIF</text>
<circle cx="456.5" cy="226.4" r="2.3" fill="#F01414"/>
<text x="462.7" y="229.1" font-size="7.8" fill="#111" font-weight="bold" textLength="22.8" lengthAdjust="spacingAndGlyphs">CD74</text>
<circle cx="456.5" cy="237.3" r="2.3" fill="#F020F0"/>
<text x="462.7" y="240" font-size="7.8" fill="#111" font-weight="bold" textLength="72.8" lengthAdjust="spacingAndGlyphs">Merge (MIF_CD74)</text>
<circle cx="456.5" cy="317.3" r="2.3" fill="#1414F0"/>
<text x="462.7" y="320" font-size="7.8" fill="#111" font-weight="bold" textLength="18.8" lengthAdjust="spacingAndGlyphs">MDK</text>
<circle cx="456.5" cy="327.5" r="2.3" fill="#F01414"/>
<text x="462.7" y="330.2" font-size="7.8" fill="#111" font-weight="bold" textLength="22.8" lengthAdjust="spacingAndGlyphs">LRP1</text>
<circle cx="456.5" cy="338.4" r="2.3" fill="#F020F0"/>
<text x="462.7" y="341.1" font-size="7.8" fill="#111" font-weight="bold" textLength="73.3" lengthAdjust="spacingAndGlyphs">Merge(MDK_LRP1)</text>
</g>
<g id="pd">
<text x="4.3" y="384.9" font-size="9.7" textLength="6.5" lengthAdjust="spacingAndGlyphs">D</text>
<path d="M26.9 419.74C44.55 419.74 44.55 402.58 62.2 402.58L62.2 405.84C44.55 405.84 44.55 423 26.9 423Z" fill="#9CC8E4" fill-opacity="0.5"/>
<path d="M26.9 423C44.55 423 44.55 411.33 62.2 411.33L62.2 414.59C44.55 414.59 44.55 426.26 26.9 426.26Z" fill="#9CC8E4" fill-opacity="0.5"/>
<path d="M26.9 426.26C44.55 426.26 44.55 421.08 62.2 421.08L62.2 425.32C44.55 425.32 44.55 430.5 26.9 430.5Z" fill="#9CC8E4" fill-opacity="0.5"/>
<path d="M26.9 432.18C44.55 432.18 44.55 432.85 62.2 432.85L62.2 436.22C44.55 436.22 44.55 435.55 26.9 435.55Z" fill="#9CC8E4" fill-opacity="0.5"/>
<path d="M26.9 437.56C44.55 437.56 44.55 436.22 62.2 436.22L62.2 439.58C44.55 439.58 44.55 440.93 26.9 440.93Z" fill="#9CC8E4" fill-opacity="0.5"/>
<path d="M26.9 443.28C44.55 443.28 44.55 439.58 62.2 439.58L62.2 442.61C44.55 442.61 44.55 446.31 26.9 446.31Z" fill="#9CC8E4" fill-opacity="0.5"/>
<path d="M26.9 448.33C44.55 448.33 44.55 445.64 62.2 445.64L62.2 449C44.55 449 44.55 451.69 26.9 451.69Z" fill="#9CC8E4" fill-opacity="0.5"/>
<path d="M26.9 454.05C44.55 454.05 44.55 454.05 62.2 454.05L62.2 457.41C44.55 457.41 44.55 457.41 26.9 457.41Z" fill="#9CC8E4" fill-opacity="0.5"/>
<path d="M26.9 459.43C44.55 459.43 44.55 457.41 62.2 457.41L62.2 460.77C44.55 460.77 44.55 462.79 26.9 462.79Z" fill="#9CC8E4" fill-opacity="0.5"/>
<path d="M26.9 464.81C44.55 464.81 44.55 460.77 62.2 460.77L62.2 464.14C44.55 464.14 44.55 468.17 26.9 468.17Z" fill="#9CC8E4" fill-opacity="0.5"/>
<path d="M26.9 470.19C44.55 470.19 44.55 467.84 62.2 467.84L62.2 471.2C44.55 471.2 44.55 473.55 26.9 473.55Z" fill="#9CC8E4" fill-opacity="0.5"/>
<path d="M26.9 475.57C44.55 475.57 44.55 472.88 62.2 472.88L62.2 476.25C44.55 476.25 44.55 478.94 26.9 478.94Z" fill="#9CC8E4" fill-opacity="0.5"/>
<path d="M26.9 480.95C44.55 480.95 44.55 476.25 62.2 476.25L62.2 479.61C44.55 479.61 44.55 484.32 26.9 484.32Z" fill="#9CC8E4" fill-opacity="0.5"/>
<path d="M26.9 502.82C44.55 502.82 44.55 504.5 62.2 504.5L62.2 507.02C44.55 507.02 44.55 505.34 26.9 505.34Z" fill="#9CC8E4" fill-opacity="0.5"/>
<path d="M26.9 505.34C44.55 505.34 44.55 518.96 62.2 518.96L62.2 521.49C44.55 521.49 44.55 507.86 26.9 507.86Z" fill="#9CC8E4" fill-opacity="0.5"/>
<path d="M26.9 510.22C44.55 510.22 44.55 507.02 62.2 507.02L62.2 510.52C44.55 510.52 44.55 513.72 26.9 513.72Z" fill="#9CC8E4" fill-opacity="0.5"/>
<path d="M26.9 513.72C44.55 513.72 44.55 521.49 62.2 521.49L62.2 526.45C44.55 526.45 44.55 518.68 26.9 518.68Z" fill="#9CC8E4" fill-opacity="0.5"/>
<path d="M26.9 520.98C44.55 520.98 44.55 526.45 62.2 526.45L62.2 529.77C44.55 529.77 44.55 524.29 26.9 524.29Z" fill="#9CC8E4" fill-opacity="0.5"/>
<path d="M26.9 526.36C44.55 526.36 44.55 529.77 62.2 529.77L62.2 533.08C44.55 533.08 44.55 529.68 26.9 529.68Z" fill="#9CC8E4" fill-opacity="0.5"/>
<path d="M26.9 531.75C44.55 531.75 44.55 533.08 62.2 533.08L62.2 536.39C44.55 536.39 44.55 535.06 26.9 535.06Z" fill="#9CC8E4" fill-opacity="0.5"/>
<path d="M26.9 537.13C44.55 537.13 44.55 536.39 62.2 536.39L62.2 539.7C44.55 539.7 44.55 540.44 26.9 540.44Z" fill="#9CC8E4" fill-opacity="0.5"/>
<path d="M26.9 486.67C44.55 486.67 44.55 486.67 62.2 486.67L62.2 490.37C44.55 490.37 44.55 490.37 26.9 490.37Z" fill="#3F7FC0" fill-opacity="0.6"/>
<path d="M26.9 492.05C44.55 492.05 44.55 490.37 62.2 490.37L62.2 493.74C44.55 493.74 44.55 495.42 26.9 495.42Z" fill="#3F7FC0" fill-opacity="0.6"/>
<path d="M26.9 497.44C44.55 497.44 44.55 493.74 62.2 493.74L62.2 497.1C44.55 497.1 44.55 500.8 26.9 500.8Z" fill="#3F7FC0" fill-opacity="0.6"/>
<path d="M68.3 402.58C86.6 402.58 86.6 417.05 104.9 417.05L104.9 420.41C86.6 420.41 86.6 405.95 68.3 405.95Z" fill="#F9C48A" fill-opacity="0.42"/>
<path d="M68.3 405.95C86.6 405.95 86.6 429.83 104.9 429.83L104.9 433.19C86.6 433.19 86.6 409.31 68.3 409.31Z" fill="#F9C48A" fill-opacity="0.42"/>
<path d="M68.3 411.33C86.6 411.33 86.6 433.19 104.9 433.19L104.9 436.55C86.6 436.55 86.6 414.69 68.3 414.69Z" fill="#F9C48A" fill-opacity="0.42"/>
<path d="M68.3 414.69C86.6 414.69 86.6 464.14 104.9 464.14L104.9 467.5C86.6 467.5 86.6 418.05 68.3 418.05Z" fill="#F9C48A" fill-opacity="0.42"/>
<path d="M68.3 421.08C86.6 421.08 86.6 436.55 104.9 436.55L104.9 441.26C86.6 441.26 86.6 425.79 68.3 425.79Z" fill="#F9C48A" fill-opacity="0.42"/>
<path d="M68.3 425.79C86.6 425.79 86.6 467.5 104.9 467.5L104.9 471.58C86.6 471.58 86.6 429.87 68.3 429.87Z" fill="#F9C48A" fill-opacity="0.42"/>
<path d="M68.3 432.85C86.6 432.85 86.6 441.26 104.9 441.26L104.9 447.65C86.6 447.65 86.6 439.25 68.3 439.25Z" fill="#F9C48A" fill-opacity="0.42"/>
<path d="M68.3 439.25C86.6 439.25 86.6 518.96 104.9 518.96L104.9 521.6C86.6 521.6 86.6 441.88 68.3 441.88Z" fill="#F9C48A" fill-opacity="0.42"/>
<path d="M68.3 445.64C86.6 445.64 86.6 471.58 104.9 471.58L104.9 475.66C86.6 475.66 86.6 449.71 68.3 449.71Z" fill="#F9C48A" fill-opacity="0.42"/>
<path d="M68.3 454.05C86.6 454.05 86.6 475.66 104.9 475.66L104.9 479.74C86.6 479.74 86.6 458.12 68.3 458.12Z" fill="#F9C48A" fill-opacity="0.42"/>
<path d="M68.3 458.12C86.6 458.12 86.6 498.78 104.9 498.78L104.9 503.56C86.6 503.56 86.6 462.9 68.3 462.9Z" fill="#F9C48A" fill-opacity="0.42"/>
<path d="M68.3 467.84C86.6 467.84 86.6 479.74 104.9 479.74L104.9 483.1C86.6 483.1 86.6 471.2 68.3 471.2Z" fill="#F9C48A" fill-opacity="0.42"/>
<path d="M68.3 472.88C86.6 472.88 86.6 483.1 104.9 483.1L104.9 487.18C86.6 487.18 86.6 476.96 68.3 476.96Z" fill="#F9C48A" fill-opacity="0.42"/>
<path d="M68.3 476.96C86.6 476.96 86.6 521.6 104.9 521.6L104.9 525.99C86.6 525.99 86.6 481.35 68.3 481.35Z" fill="#F9C48A" fill-opacity="0.42"/>
<path d="M68.3 504.5C86.6 504.5 86.6 506.58 104.9 506.58L104.9 511.12C86.6 511.12 86.6 509.04 68.3 509.04Z" fill="#F9C48A" fill-opacity="0.42"/>
<path d="M68.3 509.04C86.6 509.04 86.6 529.77 104.9 529.77L104.9 534.16C86.6 534.16 86.6 513.43 68.3 513.43Z" fill="#F9C48A" fill-opacity="0.42"/>
<path d="M68.3 521.82C86.6 521.82 86.6 511.12 104.9 511.12L104.9 515.9C86.6 515.9 86.6 526.6 68.3 526.6Z" fill="#F9C48A" fill-opacity="0.42"/>
<path d="M68.3 526.6C86.6 526.6 86.6 534.16 104.9 534.16L104.9 539.87C86.6 539.87 86.6 532.31 68.3 532.31Z" fill="#F9C48A" fill-opacity="0.42"/>
<path d="M68.3 518.96C86.6 518.96 86.6 492.08 104.9 492.08L104.9 494.94C86.6 494.94 86.6 521.82 68.3 521.82Z" fill="#F9C48A" fill-opacity="0.42"/>
<path d="M68.3 486.67C86.6 486.67 86.6 447.65 104.9 447.65L104.9 451.43C86.6 451.43 86.6 490.45 68.3 490.45Z" fill="#F59A30" fill-opacity="0.6"/>
<path d="M68.3 490.45C86.6 490.45 86.6 487.18 104.9 487.18L104.9 492.08C86.6 492.08 86.6 495.35 68.3 495.35Z" fill="#F59A30" fill-opacity="0.6"/>
<path d="M68.3 495.35C86.6 495.35 86.6 503.56 104.9 503.56L104.9 506.58C86.6 506.58 86.6 498.37 68.3 498.37Z" fill="#F59A30" fill-opacity="0.6"/>
<path d="M68.3 498.37C86.6 498.37 86.6 525.99 104.9 525.99L104.9 529.77C86.6 529.77 86.6 502.15 68.3 502.15Z" fill="#F59A30" fill-opacity="0.6"/>
<path d="M111 417.05C129.1 417.05 129.1 417.05 147.2 417.05L147.2 421.08C129.1 421.08 129.1 421.08 111 421.08Z" fill="#EE7E80" fill-opacity="0.62"/>
<path d="M111 429.83C129.1 429.83 129.1 442.27 147.2 442.27L147.2 445.64C129.1 445.64 129.1 433.19 111 433.19Z" fill="#EE7E80" fill-opacity="0.62"/>
<path d="M111 433.19C129.1 433.19 129.1 447.65 147.2 447.65L147.2 451.02C129.1 451.02 129.1 436.55 111 436.55Z" fill="#EE7E80" fill-opacity="0.62"/>
<path d="M111 436.55C129.1 436.55 129.1 453.04 147.2 453.04L147.2 456.4C129.1 456.4 129.1 439.92 111 439.92Z" fill="#EE7E80" fill-opacity="0.62"/>
<path d="M111 439.92C129.1 439.92 129.1 458.42 147.2 458.42L147.2 461.78C129.1 461.78 129.1 443.28 111 443.28Z" fill="#EE7E80" fill-opacity="0.62"/>
<path d="M111 443.28C129.1 443.28 129.1 506.52 147.2 506.52L147.2 507.24C129.1 507.24 129.1 444 111 444Z" fill="#EE7E80" fill-opacity="0.62"/>
<path d="M111 464.14C129.1 464.14 129.1 464.14 147.2 464.14L147.2 467.5C129.1 467.5 129.1 467.5 111 467.5Z" fill="#EE7E80" fill-opacity="0.62"/>
<path d="M111 467.5C129.1 467.5 129.1 469.52 147.2 469.52L147.2 472.88C129.1 472.88 129.1 470.86 111 470.86Z" fill="#EE7E80" fill-opacity="0.62"/>
<path d="M111 470.86C129.1 470.86 129.1 474.9 147.2 474.9L147.2 478.26C129.1 478.26 129.1 474.23 111 474.23Z" fill="#EE7E80" fill-opacity="0.62"/>
<path d="M111 474.23C129.1 474.23 129.1 480.28 147.2 480.28L147.2 483.65C129.1 483.65 129.1 477.59 111 477.59Z" fill="#EE7E80" fill-opacity="0.62"/>
<path d="M111 477.59C129.1 477.59 129.1 485.66 147.2 485.66L147.2 489.03C129.1 489.03 129.1 480.95 111 480.95Z" fill="#EE7E80" fill-opacity="0.62"/>
<path d="M111 480.95C129.1 480.95 129.1 491.05 147.2 491.05L147.2 494.41C129.1 494.41 129.1 484.32 111 484.32Z" fill="#EE7E80" fill-opacity="0.62"/>
<path d="M111 484.32C129.1 484.32 129.1 497.1 147.2 497.1L147.2 500.8C129.1 500.8 129.1 488.02 111 488.02Z" fill="#EE7E80" fill-opacity="0.62"/>
<path d="M111 488.02C129.1 488.02 129.1 507.24 147.2 507.24L147.2 508.68C129.1 508.68 129.1 489.46 111 489.46Z" fill="#EE7E80" fill-opacity="0.62"/>
<path d="M111 518.96C129.1 518.96 129.1 510.12 147.2 510.12L147.2 513.58C129.1 513.58 129.1 522.42 111 522.42Z" fill="#EE7E80" fill-opacity="0.62"/>
<path d="M111 522.42C129.1 522.42 129.1 514.93 147.2 514.93L147.2 518.29C129.1 518.29 129.1 525.79 111 525.79Z" fill="#EE7E80" fill-opacity="0.62"/>
<path d="M111 525.79C129.1 525.79 129.1 520.31 147.2 520.31L147.2 523.67C129.1 523.67 129.1 529.15 111 529.15Z" fill="#EE7E80" fill-opacity="0.62"/>
<path d="M111 529.15C129.1 529.15 129.1 525.69 147.2 525.69L147.2 529.05C129.1 529.05 129.1 532.51 111 532.51Z" fill="#EE7E80" fill-opacity="0.62"/>
<path d="M111 532.51C129.1 532.51 129.1 531.07 147.2 531.07L147.2 534.44C129.1 534.44 129.1 535.88 111 535.88Z" fill="#EE7E80" fill-opacity="0.62"/>
<path d="M111 535.88C129.1 535.88 129.1 536.79 147.2 536.79L147.2 540.15C129.1 540.15 129.1 539.24 111 539.24Z" fill="#EE7E80" fill-opacity="0.62"/>
<path d="M111 498.78C129.1 498.78 129.1 500.8 147.2 500.8L147.2 504.5C129.1 504.5 129.1 502.48 111 502.48Z" fill="#F6B0A0" fill-opacity="0.6"/>
<path d="M111 502.48C129.1 502.48 129.1 508.68 147.2 508.68L147.2 510.12C129.1 510.12 129.1 503.92 111 503.92Z" fill="#F6B0A0" fill-opacity="0.6"/>
<rect x="20.2" y="419.74" width="6.7" height="10.76" fill="#7FB8DC" stroke="#5A9AC6" stroke-width="0.3"/>
<text x="28.5" y="426.27" font-size="3.2" fill="#333">FGF7</text>
<rect x="20.2" y="432.18" width="6.7" height="3.36" fill="#7FB8DC" stroke="#5A9AC6" stroke-width="0.3"/>
<text x="28.5" y="435.02" font-size="3.2" fill="#333">CCL5</text>
<rect x="20.2" y="437.56" width="6.7" height="3.36" fill="#7FB8DC" stroke="#5A9AC6" stroke-width="0.3"/>
<text x="28.5" y="440.4" font-size="3.2" fill="#333">HSPG2</text>
<rect x="20.2" y="443.28" width="6.7" height="3.03" fill="#7FB8DC" stroke="#5A9AC6" stroke-width="0.3"/>
<text x="28.5" y="445.95" font-size="3.2" fill="#333">TNC</text>
<rect x="20.2" y="448.33" width="6.7" height="3.36" fill="#7FB8DC" stroke="#5A9AC6" stroke-width="0.3"/>
<text x="28.5" y="451.16" font-size="3.2" fill="#333">VEGFB</text>
<rect x="20.2" y="454.05" width="6.7" height="3.36" fill="#7FB8DC" stroke="#5A9AC6" stroke-width="0.3"/>
<text x="28.5" y="456.88" font-size="3.2" fill="#333">CALM3</text>
<rect x="20.2" y="459.43" width="6.7" height="3.36" fill="#7FB8DC" stroke="#5A9AC6" stroke-width="0.3"/>
<text x="28.5" y="462.26" font-size="3.2" fill="#333">IGF1</text>
<rect x="20.2" y="464.81" width="6.7" height="3.36" fill="#7FB8DC" stroke="#5A9AC6" stroke-width="0.3"/>
<text x="28.5" y="467.64" font-size="3.2" fill="#333">NAMPT</text>
<rect x="20.2" y="470.19" width="6.7" height="3.36" fill="#7FB8DC" stroke="#5A9AC6" stroke-width="0.3"/>
<text x="28.5" y="473.02" font-size="3.2" fill="#333">EBI3</text>
<rect x="20.2" y="475.57" width="6.7" height="3.36" fill="#7FB8DC" stroke="#5A9AC6" stroke-width="0.3"/>
<text x="28.5" y="478.41" font-size="3.2" fill="#333">JAG1</text>
<rect x="20.2" y="480.95" width="6.7" height="3.36" fill="#7FB8DC" stroke="#5A9AC6" stroke-width="0.3"/>
<text x="28.5" y="483.79" font-size="3.2" fill="#333">THBS2</text>
<rect x="20.2" y="486.67" width="6.7" height="3.7" fill="#1F63AE" stroke="#5A9AC6" stroke-width="0.3"/>
<text x="28.5" y="489.67" font-size="3.2" fill="#333">HLA-A</text>
<rect x="20.2" y="492.05" width="6.7" height="3.36" fill="#1F63AE" stroke="#5A9AC6" stroke-width="0.3"/>
<text x="28.5" y="494.89" font-size="3.2" fill="#333">SEMA4D</text>
<rect x="20.2" y="497.44" width="6.7" height="3.36" fill="#1F63AE" stroke="#5A9AC6" stroke-width="0.3"/>
<text x="28.5" y="500.27" font-size="3.2" fill="#333">UBA52</text>
<rect x="20.2" y="502.82" width="6.7" height="5.05" fill="#7FB8DC" stroke="#5A9AC6" stroke-width="0.3"/>
<text x="28.5" y="506.49" font-size="3.2" fill="#333">APOE</text>
<rect x="20.2" y="510.22" width="6.7" height="8.75" fill="#7FB8DC" stroke="#5A9AC6" stroke-width="0.3"/>
<text x="28.5" y="515.74" font-size="3.2" fill="#333">LRPAP1</text>
<rect x="20.2" y="520.98" width="6.7" height="3.36" fill="#7FB8DC" stroke="#5A9AC6" stroke-width="0.3"/>
<text x="28.5" y="523.82" font-size="3.2" fill="#333">ALB</text>
<rect x="20.2" y="526.36" width="6.7" height="3.36" fill="#7FB8DC" stroke="#5A9AC6" stroke-width="0.3"/>
<text x="28.5" y="529.2" font-size="3.2" fill="#333">PLAU</text>
<rect x="20.2" y="531.75" width="6.7" height="3.36" fill="#7FB8DC" stroke="#5A9AC6" stroke-width="0.3"/>
<text x="28.5" y="534.58" font-size="3.2" fill="#333">SERPINE1</text>
<rect x="20.2" y="537.13" width="6.7" height="3.36" fill="#7FB8DC" stroke="#5A9AC6" stroke-width="0.3"/>
<text x="28.5" y="539.96" font-size="3.2" fill="#333">TCN2</text>
<rect x="62.2" y="402.58" width="6.1" height="6.73" fill="#FBCB94" stroke="#D9963C" stroke-width="0.3"/>
<text x="69.9" y="407.1" font-size="3.2" fill="#333">FGFR3</text>
<rect x="62.2" y="411.33" width="6.1" height="6.73" fill="#FBCB94" stroke="#D9963C" stroke-width="0.3"/>
<text x="69.9" y="415.84" font-size="3.2" fill="#333">FGFR1</text>
<rect x="62.2" y="421.08" width="6.1" height="9.42" fill="#FBCB94" stroke="#D9963C" stroke-width="0.3"/>
<text x="69.9" y="426.94" font-size="3.2" fill="#333">FGFR4</text>
<rect x="62.2" y="432.85" width="6.1" height="11.1" fill="#FBCB94" stroke="#D9963C" stroke-width="0.3"/>
<text x="69.9" y="439.56" font-size="3.2" fill="#333">SDC1</text>
<rect x="62.2" y="445.64" width="6.1" height="6.05" fill="#FBCB94" stroke="#D9963C" stroke-width="0.3"/>
<text x="69.9" y="449.82" font-size="3.2" fill="#333">RET</text>
<rect x="62.2" y="454.05" width="6.1" height="11.77" fill="#FBCB94" stroke="#D9963C" stroke-width="0.3"/>
<text x="69.9" y="461.08" font-size="3.2" fill="#333">INSR</text>
<rect x="62.2" y="467.84" width="6.1" height="3.36" fill="#FBCB94" stroke="#D9963C" stroke-width="0.3"/>
<text x="69.9" y="470.67" font-size="3.2" fill="#333">IL6ST</text>
<rect x="62.2" y="472.88" width="6.1" height="11.44" fill="#FBCB94" stroke="#D9963C" stroke-width="0.3"/>
<text x="69.9" y="479.75" font-size="3.2" fill="#333">NOTCH3</text>
<rect x="62.2" y="486.67" width="6.1" height="15.47" fill="#F5820A" stroke="#D9963C" stroke-width="0.3"/>
<text x="69.9" y="495.56" font-size="3.2" fill="#333">ERBB3</text>
<rect x="62.2" y="504.5" width="6.1" height="9.08" fill="#FBCB94" stroke="#D9963C" stroke-width="0.3"/>
<text x="69.9" y="510.19" font-size="3.2" fill="#333">LDLR</text>
<rect x="62.2" y="518.96" width="6.1" height="21.53" fill="#FBCB94" stroke="#D9963C" stroke-width="0.3"/>
<text x="69.9" y="530.88" font-size="3.2" fill="#333">LRP2</text>
<rect x="104.9" y="417.05" width="6.1" height="4.04" fill="#F7866A" stroke="#C83A2A" stroke-width="0.3"/>
<text x="112.6" y="420.22" font-size="3.2" fill="#333">RARB</text>
<rect x="104.9" y="429.83" width="6.1" height="31.95" fill="#E31A1C" stroke="#C83A2A" stroke-width="0.3"/>
<text x="112.6" y="446.96" font-size="3.2" fill="#333">ACTN4</text>
<rect x="104.9" y="464.14" width="6.1" height="32.63" fill="#E31A1C" stroke="#C83A2A" stroke-width="0.3"/>
<text x="112.6" y="481.6" font-size="3.2" fill="#333">EGR1</text>
<rect x="104.9" y="498.78" width="6.1" height="18.16" fill="#F7866A" stroke="#C83A2A" stroke-width="0.3"/>
<text x="112.6" y="509.02" font-size="3.2" fill="#333">SREBF2</text>
<rect x="104.9" y="518.96" width="6.1" height="21.53" fill="#E31A1C" stroke="#C83A2A" stroke-width="0.3"/>
<text x="112.6" y="530.88" font-size="3.2" fill="#333">MYB</text>
<rect x="147.2" y="417.05" width="6.2" height="4.04" fill="#A6DA7E" stroke="#6FB24E" stroke-width="0.3"/>
<text x="155" y="420.22" font-size="3.2" fill="#333">CRABP2</text>
<rect x="147.2" y="442.27" width="6.2" height="3.36" fill="#A6DA7E" stroke="#6FB24E" stroke-width="0.3"/>
<text x="155" y="445.11" font-size="3.2" fill="#333">AGR2</text>
<rect x="147.2" y="447.65" width="6.2" height="3.36" fill="#1E7A36" stroke="#6FB24E" stroke-width="0.3"/>
<text x="155" y="450.49" font-size="3.2" fill="#333">ESR1</text>
<rect x="147.2" y="453.04" width="6.2" height="3.36" fill="#A6DA7E" stroke="#6FB24E" stroke-width="0.3"/>
<text x="155" y="455.87" font-size="3.2" fill="#333">HSPA1A</text>
<rect x="147.2" y="458.42" width="6.2" height="3.36" fill="#A6DA7E" stroke="#6FB24E" stroke-width="0.3"/>
<text x="155" y="461.25" font-size="3.2" fill="#333">TFF1</text>
<rect x="147.2" y="464.14" width="6.2" height="3.36" fill="#A6DA7E" stroke="#6FB24E" stroke-width="0.3"/>
<text x="155" y="466.97" font-size="3.2" fill="#333">CCND1</text>
<rect x="147.2" y="469.52" width="6.2" height="3.36" fill="#A6DA7E" stroke="#6FB24E" stroke-width="0.3"/>
<text x="155" y="472.35" font-size="3.2" fill="#333">CD9</text>
<rect x="147.2" y="474.9" width="6.2" height="3.36" fill="#A6DA7E" stroke="#6FB24E" stroke-width="0.3"/>
<text x="155" y="477.73" font-size="3.2" fill="#333">GGPS1</text>
<rect x="147.2" y="480.28" width="6.2" height="3.36" fill="#A6DA7E" stroke="#6FB24E" stroke-width="0.3"/>
<text x="155" y="483.12" font-size="3.2" fill="#333">SOD1</text>
<rect x="147.2" y="485.66" width="6.2" height="3.36" fill="#A6DA7E" stroke="#6FB24E" stroke-width="0.3"/>
<text x="155" y="488.5" font-size="3.2" fill="#333">TNFSF10</text>
<rect x="147.2" y="491.05" width="6.2" height="3.36" fill="#A6DA7E" stroke="#6FB24E" stroke-width="0.3"/>
<text x="155" y="493.88" font-size="3.2" fill="#333">VEGFA</text>
<rect x="147.2" y="497.1" width="6.2" height="7.4" fill="#A6DA7E" stroke="#6FB24E" stroke-width="0.3"/>
<text x="155" y="501.95" font-size="3.2" fill="#333">LDLR(Tar)</text>
<rect x="147.2" y="506.52" width="6.2" height="7.06" fill="#A6DA7E" stroke="#6FB24E" stroke-width="0.3"/>
<text x="155" y="511.2" font-size="3.2" fill="#333">MYC</text>
<rect x="147.2" y="514.93" width="6.2" height="3.36" fill="#A6DA7E" stroke="#6FB24E" stroke-width="0.3"/>
<text x="155" y="517.76" font-size="3.2" fill="#333">ERBB2(Tar)</text>
<rect x="147.2" y="520.31" width="6.2" height="3.36" fill="#A6DA7E" stroke="#6FB24E" stroke-width="0.3"/>
<text x="155" y="523.14" font-size="3.2" fill="#333">GATA3</text>
<rect x="147.2" y="525.69" width="6.2" height="3.36" fill="#A6DA7E" stroke="#6FB24E" stroke-width="0.3"/>
<text x="155" y="528.52" font-size="3.2" fill="#333">NCL</text>
<rect x="147.2" y="531.07" width="6.2" height="3.36" fill="#A6DA7E" stroke="#6FB24E" stroke-width="0.3"/>
<text x="155" y="533.91" font-size="3.2" fill="#333">PDCD4</text>
<rect x="147.2" y="536.79" width="6.2" height="3.36" fill="#A6DA7E" stroke="#6FB24E" stroke-width="0.3"/>
<text x="155" y="539.62" font-size="3.2" fill="#333">TSC22D3</text>
<text x="33.6" y="382.3" font-size="6.6" fill="#222">Macrophages</text>
<line x1="76.5" y1="380" x2="87.5" y2="380" stroke="#111" stroke-width="0.7"/><polygon points="90.5,380 87.5,381.26 87.5,378.74" fill="#111"/>
<text x="95.3" y="382.3" font-size="6.6" fill="#222">m_cluster2</text>
<text x="46.4" y="392.5" font-size="5.2" fill="#222" font-style="italic">Receptor</text>
<text x="11.8" y="409.7" font-size="5.2" fill="#222" font-style="italic">Ligand</text>
<text x="103.6" y="412" font-size="5.2" fill="#222" font-style="italic">TF</text>
<text x="139.6" y="412" font-size="5.2" fill="#222" font-style="italic">Target</text>
<line x1="28.6" y1="406" x2="41.39" y2="395.41" stroke="#111" stroke-width="0.7"/><polygon points="43.7,393.5 42.19,396.38 40.59,394.44" fill="#111"/>
<line x1="76.7" y1="393.5" x2="97.68" y2="406.98" stroke="#111" stroke-width="0.7"/><polygon points="100.2,408.6 96.99,408.04 98.36,405.92" fill="#111"/>
<line x1="112.7" y1="410.3" x2="131.5" y2="410.3" stroke="#111" stroke-width="0.7"/><polygon points="134.5,410.3 131.5,411.56 131.5,409.04" fill="#111"/>
<path d="M196.1 425.45C214.6 425.45 214.6 405.95 233.1 405.95L233.1 414.69C214.6 414.69 214.6 434.2 196.1 434.2Z" fill="#9CC8E4" fill-opacity="0.55"/>
<path d="M196.1 446.65C214.6 446.65 214.6 416.37 233.1 416.37L233.1 426.82C214.6 426.82 214.6 457.09 196.1 457.09Z" fill="#9CC8E4" fill-opacity="0.55"/>
<path d="M196.1 457.09C214.6 457.09 214.6 465.15 233.1 465.15L233.1 473.68C214.6 473.68 214.6 465.63 196.1 465.63Z" fill="#9CC8E4" fill-opacity="0.55"/>
<path d="M196.1 478.26C214.6 478.26 214.6 473.68 233.1 473.68L233.1 483.1C214.6 483.1 214.6 487.68 196.1 487.68Z" fill="#9CC8E4" fill-opacity="0.55"/>
<path d="M196.1 489.36C214.6 489.36 214.6 483.1 233.1 483.1L233.1 491.51C214.6 491.51 214.6 497.77 196.1 497.77Z" fill="#9CC8E4" fill-opacity="0.55"/>
<path d="M196.1 500.13C214.6 500.13 214.6 491.51 233.1 491.51L233.1 500.26C214.6 500.26 214.6 508.87 196.1 508.87Z" fill="#9CC8E4" fill-opacity="0.55"/>
<path d="M196.1 510.55C214.6 510.55 214.6 504.5 233.1 504.5L233.1 512.91C214.6 512.91 214.6 518.96 196.1 518.96Z" fill="#9CC8E4" fill-opacity="0.55"/>
<path d="M196.1 521.32C214.6 521.32 214.6 512.91 233.1 512.91L233.1 521.32C214.6 521.32 214.6 529.73 196.1 529.73Z" fill="#9CC8E4" fill-opacity="0.55"/>
<path d="M196.1 532.08C214.6 532.08 214.6 523.67 233.1 523.67L233.1 532.42C214.6 532.42 214.6 540.83 196.1 540.83Z" fill="#9CC8E4" fill-opacity="0.55"/>
<path d="M196.1 467.5C214.6 467.5 214.6 436.22 233.1 436.22L233.1 444.63C214.6 444.63 214.6 475.91 196.1 475.91Z" fill="#4C86C6" fill-opacity="0.7"/>
<path d="M238.8 405.95C256.95 405.95 256.95 418.73 275.1 418.73L275.1 427.47C256.95 427.47 256.95 414.69 238.8 414.69Z" fill="#F9C48A" fill-opacity="0.45"/>
<path d="M238.8 416.37C256.95 416.37 256.95 427.47 275.1 427.47L275.1 439.04C256.95 439.04 256.95 427.94 238.8 427.94Z" fill="#F9C48A" fill-opacity="0.45"/>
<path d="M238.8 427.94C256.95 427.94 256.95 457.41 275.1 457.41L275.1 463.58C256.95 463.58 256.95 434.1 238.8 434.1Z" fill="#F9C48A" fill-opacity="0.45"/>
<path d="M238.8 467.46C256.95 467.46 256.95 473.54 275.1 473.54L275.1 492.09C256.95 492.09 256.95 486.01 238.8 486.01Z" fill="#F9C48A" fill-opacity="0.45"/>
<path d="M238.8 504.5C256.95 504.5 256.95 492.09 275.1 492.09L275.1 508.91C256.95 508.91 256.95 521.32 238.8 521.32Z" fill="#F9C48A" fill-opacity="0.45"/>
<path d="M238.8 523.67C256.95 523.67 256.95 530.93 275.1 530.93L275.1 540.83C256.95 540.83 256.95 533.57 238.8 533.57Z" fill="#F9C48A" fill-opacity="0.45"/>
<path d="M238.8 465.15C256.95 465.15 256.95 449 275.1 449L275.1 451.31C256.95 451.31 256.95 467.46 238.8 467.46Z" fill="#F9C48A" fill-opacity="0.45"/>
<path d="M238.8 436.22C256.95 436.22 256.95 439.04 275.1 439.04L275.1 449C256.95 449 256.95 446.18 238.8 446.18Z" fill="#F8AC5A" fill-opacity="0.75"/>
<path d="M238.8 446.18C256.95 446.18 256.95 463.58 275.1 463.58L275.1 473.54C256.95 473.54 256.95 456.15 238.8 456.15Z" fill="#F8AC5A" fill-opacity="0.75"/>
<path d="M238.8 456.15C256.95 456.15 256.95 524.01 275.1 524.01L275.1 530.93C256.95 530.93 256.95 463.08 238.8 463.08Z" fill="#F8AC5A" fill-opacity="0.75"/>
<path d="M280.9 418.73C299.05 418.73 299.05 416.37 317.2 416.37L317.2 425.45C299.05 425.45 299.05 427.81 280.9 427.81Z" fill="#F6A898" fill-opacity="0.6"/>
<path d="M280.9 427.81C299.05 427.81 299.05 427.14 317.2 427.14L317.2 436.22C299.05 436.22 299.05 436.89 280.9 436.89Z" fill="#F6A898" fill-opacity="0.6"/>
<path d="M280.9 436.89C299.05 436.89 299.05 437.9 317.2 437.9L317.2 447.15C299.05 447.15 299.05 446.14 280.9 446.14Z" fill="#F6A898" fill-opacity="0.6"/>
<path d="M280.9 446.14C299.05 446.14 299.05 449 317.2 449L317.2 458.25C299.05 458.25 299.05 455.39 280.9 455.39Z" fill="#F6A898" fill-opacity="0.6"/>
<path d="M280.9 457.41C299.05 457.41 299.05 458.25 317.2 458.25L317.2 467.5C299.05 467.5 299.05 466.66 280.9 466.66Z" fill="#EE7E80" fill-opacity="0.6"/>
<path d="M280.9 466.66C299.05 466.66 299.05 469.18 317.2 469.18L317.2 477.59C299.05 477.59 299.05 475.07 280.9 475.07Z" fill="#EE7E80" fill-opacity="0.6"/>
<path d="M280.9 475.07C299.05 475.07 299.05 479.95 317.2 479.95L317.2 488.69C299.05 488.69 299.05 483.81 280.9 483.81Z" fill="#EE7E80" fill-opacity="0.6"/>
<path d="M280.9 483.81C299.05 483.81 299.05 490.37 317.2 490.37L317.2 499.45C299.05 499.45 299.05 492.9 280.9 492.9Z" fill="#EE7E80" fill-opacity="0.6"/>
<path d="M280.9 492.9C299.05 492.9 299.05 501.81 317.2 501.81L317.2 509.55C299.05 509.55 299.05 500.63 280.9 500.63Z" fill="#EE7E80" fill-opacity="0.6"/>
<path d="M280.9 500.63C299.05 500.63 299.05 511.9 317.2 511.9L317.2 520.65C299.05 520.65 299.05 509.38 280.9 509.38Z" fill="#EE7E80" fill-opacity="0.6"/>
<path d="M280.9 509.38C299.05 509.38 299.05 523 317.2 523L317.2 530.64C299.05 530.64 299.05 517.01 280.9 517.01Z" fill="#EE7E80" fill-opacity="0.6"/>
<path d="M280.9 524.01C299.05 524.01 299.05 530.64 317.2 530.64L317.2 540.54C299.05 540.54 299.05 533.91 280.9 533.91Z" fill="#F6A898" fill-opacity="0.6"/>
<rect x="190" y="425.45" width="6.1" height="10.09" fill="#7FB8DC" stroke="#5A9AC6" stroke-width="0.3"/>
<text x="197.7" y="431.65" font-size="3.2" fill="#333">C3</text>
<rect x="190" y="446.65" width="6.1" height="19.85" fill="#7FB8DC" stroke="#5A9AC6" stroke-width="0.3"/>
<text x="197.7" y="457.72" font-size="3.2" fill="#333">TNC</text>
<rect x="190" y="467.5" width="6.1" height="8.41" fill="#1F63AE" stroke="#5A9AC6" stroke-width="0.3"/>
<text x="197.7" y="472.86" font-size="3.2" fill="#333">SEMA4D</text>
<rect x="190" y="478.26" width="6.1" height="9.42" fill="#7FB8DC" stroke="#5A9AC6" stroke-width="0.3"/>
<text x="197.7" y="484.12" font-size="3.2" fill="#333">CD14</text>
<rect x="190" y="489.36" width="6.1" height="8.41" fill="#7FB8DC" stroke="#5A9AC6" stroke-width="0.3"/>
<text x="197.7" y="494.72" font-size="3.2" fill="#333">VCAM1</text>
<rect x="190" y="500.13" width="6.1" height="8.75" fill="#7FB8DC" stroke="#5A9AC6" stroke-width="0.3"/>
<text x="197.7" y="505.65" font-size="3.2" fill="#333">VCAN</text>
<rect x="190" y="510.55" width="6.1" height="8.41" fill="#7FB8DC" stroke="#5A9AC6" stroke-width="0.3"/>
<text x="197.7" y="515.91" font-size="3.2" fill="#333">TGFB1</text>
<rect x="190" y="521.32" width="6.1" height="8.41" fill="#7FB8DC" stroke="#5A9AC6" stroke-width="0.3"/>
<text x="197.7" y="526.67" font-size="3.2" fill="#333">TGFB3</text>
<rect x="190" y="532.08" width="6.1" height="8.75" fill="#7FB8DC" stroke="#5A9AC6" stroke-width="0.3"/>
<text x="197.7" y="537.61" font-size="3.2" fill="#333">FGF7</text>
<rect x="233.1" y="405.95" width="5.7" height="8.75" fill="#FBCB94" stroke="#D9963C" stroke-width="0.3"/>
<text x="240.4" y="411.47" font-size="3.2" fill="#333">IFITM1</text>
<rect x="233.1" y="416.37" width="5.7" height="18.5" fill="#FBCB94" stroke="#D9963C" stroke-width="0.3"/>
<text x="240.4" y="426.77" font-size="3.2" fill="#333">SDC1</text>
<rect x="233.1" y="436.22" width="5.7" height="26.91" fill="#F5820A" stroke="#D9963C" stroke-width="0.3"/>
<text x="240.4" y="450.82" font-size="3.2" fill="#333">ERBB3</text>
<rect x="233.1" y="465.15" width="5.7" height="37" fill="#FBCB94" stroke="#D9963C" stroke-width="0.3"/>
<text x="240.4" y="484.8" font-size="3.2" fill="#333">ITGB1</text>
<rect x="233.1" y="504.5" width="5.7" height="16.82" fill="#FBCB94" stroke="#D9963C" stroke-width="0.3"/>
<text x="240.4" y="514.06" font-size="3.2" fill="#333">TGFBR1</text>
<rect x="233.1" y="523.67" width="5.7" height="17.15" fill="#FBCB94" stroke="#D9963C" stroke-width="0.3"/>
<text x="240.4" y="533.4" font-size="3.2" fill="#333">FGFR1</text>
<rect x="275.1" y="418.73" width="5.8" height="37" fill="#F7866A" stroke="#C83A2A" stroke-width="0.3"/>
<text x="282.5" y="438.38" font-size="3.2" fill="#333">BCL6</text>
<rect x="275.1" y="457.41" width="5.8" height="64.92" fill="#E31A1C" stroke="#C83A2A" stroke-width="0.3"/>
<text x="282.5" y="491.02" font-size="3.2" fill="#333">EZH2</text>
<rect x="275.1" y="524.01" width="5.8" height="16.82" fill="#F7866A" stroke="#C83A2A" stroke-width="0.3"/>
<text x="282.5" y="533.57" font-size="3.2" fill="#333">PPARA</text>
<rect x="317.2" y="416.37" width="5.1" height="9.08" fill="#A6DA7E" stroke="#6FB24E" stroke-width="0.3"/>
<text x="323.9" y="422.07" font-size="3.2" fill="#333">BCL2L1</text>
<rect x="317.2" y="427.14" width="5.1" height="9.08" fill="#A6DA7E" stroke="#6FB24E" stroke-width="0.3"/>
<text x="323.9" y="432.83" font-size="3.2" fill="#333">LITAF</text>
<rect x="317.2" y="437.9" width="5.1" height="9.42" fill="#A6DA7E" stroke="#6FB24E" stroke-width="0.3"/>
<text x="323.9" y="443.76" font-size="3.2" fill="#333">XBP1</text>
<rect x="317.2" y="449" width="5.1" height="18.5" fill="#A6DA7E" stroke="#6FB24E" stroke-width="0.3"/>
<text x="323.9" y="459.4" font-size="3.2" fill="#333">MYC</text>
<rect x="317.2" y="469.18" width="5.1" height="8.41" fill="#1E7A36" stroke="#6FB24E" stroke-width="0.3"/>
<text x="323.9" y="474.54" font-size="3.2" fill="#333">CCND1</text>
<rect x="317.2" y="479.95" width="5.1" height="8.75" fill="#A6DA7E" stroke="#6FB24E" stroke-width="0.3"/>
<text x="323.9" y="485.47" font-size="3.2" fill="#333">CDH1</text>
<rect x="317.2" y="490.37" width="5.1" height="9.08" fill="#A6DA7E" stroke="#6FB24E" stroke-width="0.3"/>
<text x="323.9" y="496.07" font-size="3.2" fill="#333">FBXO32</text>
<rect x="317.2" y="501.81" width="5.1" height="7.74" fill="#A6DA7E" stroke="#6FB24E" stroke-width="0.3"/>
<text x="323.9" y="506.83" font-size="3.2" fill="#333">KPNB1</text>
<rect x="317.2" y="511.9" width="5.1" height="8.75" fill="#A6DA7E" stroke="#6FB24E" stroke-width="0.3"/>
<text x="323.9" y="517.42" font-size="3.2" fill="#333">PEBP1</text>
<rect x="317.2" y="523" width="5.1" height="17.83" fill="#A6DA7E" stroke="#6FB24E" stroke-width="0.3"/>
<text x="323.9" y="533.07" font-size="3.2" fill="#333">PCNA</text>
<text x="202.3" y="382.3" font-size="6.4" fill="#222">Macrophages</text>
<line x1="244.2" y1="380" x2="252.2" y2="380" stroke="#111" stroke-width="0.7"/><polygon points="255.2,380 252.2,381.26 252.2,378.74" fill="#111"/>
<text x="262.3" y="382.3" font-size="6.4" fill="#222">m_cluster5</text>
<text x="223.7" y="399.6" font-size="5.2" fill="#222" font-style="italic">Receptor</text>
<text x="190" y="411.3" font-size="5.2" fill="#222" font-style="italic">Ligand</text>
<text x="268.4" y="412" font-size="5.2" fill="#222" font-style="italic">TF</text>
<text x="311" y="410.3" font-size="5.2" fill="#222" font-style="italic">Target</text>
<line x1="207.9" y1="408" x2="216.18" y2="401.97" stroke="#111" stroke-width="0.7"/><polygon points="218.6,400.2 216.92,402.99 215.43,400.95" fill="#111"/>
<line x1="247.2" y1="399.2" x2="262.25" y2="405.8" stroke="#111" stroke-width="0.7"/><polygon points="265,407 261.75,406.95 262.76,404.64" fill="#111"/>
<line x1="285.2" y1="409.6" x2="302.41" y2="408.24" stroke="#111" stroke-width="0.7"/><polygon points="305.4,408 302.51,409.49 302.31,406.98" fill="#111"/>
<path d="M26.2 633.89C43.9 633.89 43.9 623.46 61.6 623.46L61.6 626.15C43.9 626.15 43.9 636.58 26.2 636.58Z" fill="#5C95CC" fill-opacity="0.75"/>
<path d="M26.2 670.55C43.9 670.55 43.9 669.55 61.6 669.55L61.6 672.57C43.9 672.57 43.9 673.58 26.2 673.58Z" fill="#9CC8E4" fill-opacity="0.55"/>
<path d="M26.2 675.6C43.9 675.6 43.9 672.57 61.6 672.57L61.6 674.46C43.9 674.46 43.9 677.49 26.2 677.49Z" fill="#9CC8E4" fill-opacity="0.55"/>
<path d="M26.2 677.49C43.9 677.49 43.9 680.31 61.6 680.31L61.6 681.44C43.9 681.44 43.9 678.63 26.2 678.63Z" fill="#9CC8E4" fill-opacity="0.55"/>
<path d="M26.2 684.01C43.9 684.01 43.9 685.02 61.6 685.02L61.6 688.05C43.9 688.05 43.9 687.04 26.2 687.04Z" fill="#9CC8E4" fill-opacity="0.55"/>
<path d="M26.2 689.05C43.9 689.05 43.9 674.46 61.6 674.46L61.6 675.6C43.9 675.6 43.9 690.19 26.2 690.19Z" fill="#9CC8E4" fill-opacity="0.55"/>
<path d="M26.2 690.19C43.9 690.19 43.9 689.73 61.6 689.73L61.6 691.62C43.9 691.62 43.9 692.08 26.2 692.08Z" fill="#9CC8E4" fill-opacity="0.55"/>
<path d="M68.3 623.46C85.95 623.46 85.95 579.4 103.6 579.4L103.6 582.86C85.95 582.86 85.95 626.93 68.3 626.93Z" fill="#F8AC5A" fill-opacity="0.75"/>
<path d="M68.3 626.93C85.95 626.93 85.95 607.65 103.6 607.65L103.6 610.08C85.95 610.08 85.95 629.35 68.3 629.35Z" fill="#F8AC5A" fill-opacity="0.75"/>
<path d="M68.3 629.35C85.95 629.35 85.95 615.73 103.6 615.73L103.6 619.19C85.95 619.19 85.95 632.81 68.3 632.81Z" fill="#F8AC5A" fill-opacity="0.75"/>
<path d="M68.3 632.81C85.95 632.81 85.95 630.19 103.6 630.19L103.6 633.65C85.95 633.65 85.95 636.28 68.3 636.28Z" fill="#F8AC5A" fill-opacity="0.75"/>
<path d="M68.3 636.28C85.95 636.28 85.95 650.04 103.6 650.04L103.6 652.46C85.95 652.46 85.95 638.7 68.3 638.7Z" fill="#F8AC5A" fill-opacity="0.75"/>
<path d="M68.3 638.7C85.95 638.7 85.95 656.76 103.6 656.76L103.6 659.53C85.95 659.53 85.95 641.47 68.3 641.47Z" fill="#F8AC5A" fill-opacity="0.75"/>
<path d="M68.3 641.47C85.95 641.47 85.95 665.51 103.6 665.51L103.6 668.28C85.95 668.28 85.95 644.24 68.3 644.24Z" fill="#F8AC5A" fill-opacity="0.75"/>
<path d="M68.3 644.24C85.95 644.24 85.95 675.6 103.6 675.6L103.6 678.37C85.95 678.37 85.95 647.01 68.3 647.01Z" fill="#F8AC5A" fill-opacity="0.75"/>
<path d="M68.3 671.56C85.95 671.56 85.95 668.28 103.6 668.28L103.6 671.64C85.95 671.64 85.95 674.93 68.3 674.93Z" fill="#F9C48A" fill-opacity="0.5"/>
<path d="M68.3 674.93C85.95 674.93 85.95 678.37 103.6 678.37L103.6 681.73C85.95 681.73 85.95 678.29 68.3 678.29Z" fill="#F9C48A" fill-opacity="0.5"/>
<path d="M68.3 680.31C85.95 680.31 85.95 681.73 103.6 681.73L103.6 685.1C85.95 685.1 85.95 683.67 68.3 683.67Z" fill="#F9C48A" fill-opacity="0.5"/>
<path d="M68.3 685.02C85.95 685.02 85.95 687.37 103.6 687.37L103.6 690.23C85.95 690.23 85.95 687.88 68.3 687.88Z" fill="#F9C48A" fill-opacity="0.5"/>
<path d="M68.3 689.73C85.95 689.73 85.95 690.23 103.6 690.23L103.6 693.09C85.95 693.09 85.95 692.59 68.3 692.59Z" fill="#F9C48A" fill-opacity="0.5"/>
<path d="M68.3 669.55C85.95 669.55 85.95 659.53 103.6 659.53L103.6 661.55C85.95 661.55 85.95 671.56 68.3 671.56Z" fill="#F9C48A" fill-opacity="0.5"/>
<path d="M110 579.4C127.8 579.4 127.8 555.18 145.6 555.18L145.6 556.53C127.8 556.53 127.8 580.75 110 580.75Z" fill="#F6A898" fill-opacity="0.6"/>
<path d="M110 580.75C127.8 580.75 127.8 559.55 145.6 559.55L145.6 562.18C127.8 562.18 127.8 583.37 110 583.37Z" fill="#F6A898" fill-opacity="0.6"/>
<path d="M110 583.37C127.8 583.37 127.8 564.26 145.6 564.26L145.6 566.89C127.8 566.89 127.8 585.99 110 585.99Z" fill="#F6A898" fill-opacity="0.6"/>
<path d="M110 585.99C127.8 585.99 127.8 569.31 145.6 569.31L145.6 571.93C127.8 571.93 127.8 588.62 110 588.62Z" fill="#F6A898" fill-opacity="0.6"/>
<path d="M110 588.62C127.8 588.62 127.8 574.02 145.6 574.02L145.6 576.64C127.8 576.64 127.8 591.24 110 591.24Z" fill="#F6A898" fill-opacity="0.6"/>
<path d="M110 591.24C127.8 591.24 127.8 578.73 145.6 578.73L145.6 581.35C127.8 581.35 127.8 593.86 110 593.86Z" fill="#F6A898" fill-opacity="0.6"/>
<path d="M110 593.86C127.8 593.86 127.8 583.44 145.6 583.44L145.6 586.06C127.8 586.06 127.8 596.49 110 596.49Z" fill="#F6A898" fill-opacity="0.6"/>
<path d="M110 596.49C127.8 596.49 127.8 588.15 145.6 588.15L145.6 590.77C127.8 590.77 127.8 599.11 110 599.11Z" fill="#F6A898" fill-opacity="0.6"/>
<path d="M110 599.11C127.8 599.11 127.8 592.85 145.6 592.85L145.6 595.48C127.8 595.48 127.8 601.73 110 601.73Z" fill="#F6A898" fill-opacity="0.6"/>
<path d="M110 601.73C127.8 601.73 127.8 597.56 145.6 597.56L145.6 600.19C127.8 600.19 127.8 604.36 110 604.36Z" fill="#F6A898" fill-opacity="0.6"/>
<path d="M110 607.65C127.8 607.65 127.8 556.53 145.6 556.53L145.6 557.87C127.8 557.87 127.8 609 110 609Z" fill="#F6A898" fill-opacity="0.6"/>
<path d="M110 609C127.8 609 127.8 640.95 145.6 640.95L145.6 643.06C127.8 643.06 127.8 611.1 110 611.1Z" fill="#F6A898" fill-opacity="0.6"/>
<path d="M110 615.73C127.8 615.73 127.8 602.27 145.6 602.27L145.6 604.96C127.8 604.96 127.8 618.42 110 618.42Z" fill="#EE7E80" fill-opacity="0.6"/>
<path d="M110 618.42C127.8 618.42 127.8 607.32 145.6 607.32L145.6 610.01C127.8 610.01 127.8 621.11 110 621.11Z" fill="#EE7E80" fill-opacity="0.6"/>
<path d="M110 621.11C127.8 621.11 127.8 612.03 145.6 612.03L145.6 614.72C127.8 614.72 127.8 623.8 110 623.8Z" fill="#EE7E80" fill-opacity="0.6"/>
<path d="M110 623.8C127.8 623.8 127.8 616.74 145.6 616.74L145.6 619.43C127.8 619.43 127.8 626.49 110 626.49Z" fill="#EE7E80" fill-opacity="0.6"/>
<path d="M110 630.19C127.8 630.19 127.8 621.45 145.6 621.45L145.6 623.94C127.8 623.94 127.8 632.69 110 632.69Z" fill="#EE7E80" fill-opacity="0.6"/>
<path d="M110 632.69C127.8 632.69 127.8 626.15 145.6 626.15L145.6 628.65C127.8 628.65 127.8 635.19 110 635.19Z" fill="#EE7E80" fill-opacity="0.6"/>
<path d="M110 635.19C127.8 635.19 127.8 630.86 145.6 630.86L145.6 633.36C127.8 633.36 127.8 637.69 110 637.69Z" fill="#EE7E80" fill-opacity="0.6"/>
<path d="M110 637.69C127.8 637.69 127.8 635.57 145.6 635.57L145.6 638.07C127.8 638.07 127.8 640.19 110 640.19Z" fill="#EE7E80" fill-opacity="0.6"/>
<path d="M110 640.19C127.8 640.19 127.8 643.06 145.6 643.06L145.6 645.16C127.8 645.16 127.8 642.29 110 642.29Z" fill="#EE7E80" fill-opacity="0.6"/>
<path d="M110 642.29C127.8 642.29 127.8 651.05 145.6 651.05L145.6 653.54C127.8 653.54 127.8 644.79 110 644.79Z" fill="#EE7E80" fill-opacity="0.6"/>
<path d="M110 644.79C127.8 644.79 127.8 660.46 145.6 660.46L145.6 662.93C127.8 662.93 127.8 647.25 110 647.25Z" fill="#EE7E80" fill-opacity="0.6"/>
<path d="M110 650.04C127.8 650.04 127.8 653.54 145.6 653.54L145.6 656.12C127.8 656.12 127.8 652.62 110 652.62Z" fill="#F6A898" fill-opacity="0.6"/>
<path d="M110 656.76C127.8 656.76 127.8 656.12 145.6 656.12L145.6 658.7C127.8 658.7 127.8 659.34 110 659.34Z" fill="#F6A898" fill-opacity="0.6"/>
<path d="M110 659.34C127.8 659.34 127.8 670.55 145.6 670.55L145.6 673.25C127.8 673.25 127.8 662.03 110 662.03Z" fill="#F6A898" fill-opacity="0.6"/>
<path d="M110 665.51C127.8 665.51 127.8 645.16 145.6 645.16L145.6 647.26C127.8 647.26 127.8 667.61 110 667.61Z" fill="#F6A898" fill-opacity="0.6"/>
<path d="M110 667.61C127.8 667.61 127.8 675.26 145.6 675.26L145.6 677.95C127.8 677.95 127.8 670.3 110 670.3Z" fill="#F6A898" fill-opacity="0.6"/>
<path d="M110 680.14C127.8 680.14 127.8 679.97 145.6 679.97L145.6 682.41C127.8 682.41 127.8 682.58 110 682.58Z" fill="#F6A898" fill-opacity="0.6"/>
<path d="M110 682.58C127.8 682.58 127.8 684.68 145.6 684.68L145.6 687.12C127.8 687.12 127.8 685.02 110 685.02Z" fill="#F6A898" fill-opacity="0.6"/>
<path d="M110 677.7C127.8 677.7 127.8 662.93 145.6 662.93L145.6 665.37C127.8 665.37 127.8 680.14 110 680.14Z" fill="#F6A898" fill-opacity="0.6"/>
<path d="M110 675.6C127.8 675.6 127.8 647.26 145.6 647.26L145.6 649.36C127.8 649.36 127.8 677.7 110 677.7Z" fill="#F6A898" fill-opacity="0.6"/>
<path d="M110 687.37C127.8 687.37 127.8 665.37 145.6 665.37L145.6 667.84C127.8 667.84 127.8 689.84 110 689.84Z" fill="#F6A898" fill-opacity="0.6"/>
<path d="M110 689.84C127.8 689.84 127.8 689.39 145.6 689.39L145.6 692.08C127.8 692.08 127.8 692.53 110 692.53Z" fill="#F6A898" fill-opacity="0.6"/>
<rect x="19.5" y="633.89" width="6.7" height="2.69" fill="#1F63AE" stroke="#5A9AC6" stroke-width="0.3"/>
<text x="27.8" y="636.39" font-size="3.2" fill="#333">AREG</text>
<rect x="19.5" y="670.55" width="6.7" height="3.03" fill="#7FB8DC" stroke="#5A9AC6" stroke-width="0.3"/>
<text x="27.8" y="673.22" font-size="3.2" fill="#333">GZMB</text>
<rect x="19.5" y="675.6" width="6.7" height="3.03" fill="#7FB8DC" stroke="#5A9AC6" stroke-width="0.3"/>
<text x="27.8" y="678.27" font-size="3.2" fill="#333">HLA-B</text>
<rect x="19.5" y="684.01" width="6.7" height="3.03" fill="#7FB8DC" stroke="#5A9AC6" stroke-width="0.3"/>
<text x="27.8" y="686.67" font-size="3.2" fill="#333">CCL5</text>
<rect x="19.5" y="689.05" width="6.7" height="3.03" fill="#7FB8DC" stroke="#5A9AC6" stroke-width="0.3"/>
<text x="27.8" y="691.72" font-size="3.2" fill="#333">HLA-C</text>
<rect x="61.6" y="623.46" width="6.7" height="23.55" fill="#F5820A" stroke="#D9963C" stroke-width="0.3"/>
<text x="69.9" y="636.39" font-size="3.2" fill="#333">ERBB3</text>
<rect x="61.6" y="669.55" width="6.7" height="8.75" fill="#FBCB94" stroke="#D9963C" stroke-width="0.3"/>
<text x="69.9" y="675.07" font-size="3.2" fill="#333">CANX</text>
<rect x="61.6" y="680.31" width="6.7" height="3.36" fill="#FBCB94" stroke="#D9963C" stroke-width="0.3"/>
<text x="69.9" y="683.14" font-size="3.2" fill="#333">NGFRAP1</text>
<rect x="61.6" y="685.02" width="6.7" height="3.36" fill="#FBCB94" stroke="#D9963C" stroke-width="0.3"/>
<text x="69.9" y="687.85" font-size="3.2" fill="#333">SDC1</text>
<rect x="61.6" y="689.73" width="6.7" height="3.36" fill="#FBCB94" stroke="#D9963C" stroke-width="0.3"/>
<text x="69.9" y="692.56" font-size="3.2" fill="#333">DDR1</text>
<rect x="103.6" y="579.4" width="6.4" height="26.24" fill="#F7866A" stroke="#C83A2A" stroke-width="0.3"/>
<text x="111.6" y="593.67" font-size="3.2" fill="#333">YY1</text>
<rect x="103.6" y="607.65" width="6.4" height="5.38" fill="#F7866A" stroke="#C83A2A" stroke-width="0.3"/>
<text x="111.6" y="611.5" font-size="3.2" fill="#333">WT1</text>
<rect x="103.6" y="615.73" width="6.4" height="12.45" fill="#E31A1C" stroke="#C83A2A" stroke-width="0.3"/>
<text x="111.6" y="623.1" font-size="3.2" fill="#333">FOXA1</text>
<rect x="103.6" y="630.19" width="6.4" height="17.49" fill="#E31A1C" stroke="#C83A2A" stroke-width="0.3"/>
<text x="111.6" y="640.09" font-size="3.2" fill="#333">EGR1</text>
<rect x="103.6" y="650.04" width="6.4" height="4.71" fill="#F7866A" stroke="#C83A2A" stroke-width="0.3"/>
<text x="111.6" y="653.54" font-size="3.2" fill="#333">ETV6</text>
<rect x="103.6" y="656.76" width="6.4" height="6.05" fill="#F7866A" stroke="#C83A2A" stroke-width="0.3"/>
<text x="111.6" y="660.94" font-size="3.2" fill="#333">ATF2</text>
<rect x="103.6" y="665.51" width="6.4" height="7.4" fill="#F7866A" stroke="#C83A2A" stroke-width="0.3"/>
<text x="111.6" y="670.36" font-size="3.2" fill="#333">NR4A1</text>
<rect x="103.6" y="675.6" width="6.4" height="9.75" fill="#F7866A" stroke="#C83A2A" stroke-width="0.3"/>
<text x="111.6" y="681.63" font-size="3.2" fill="#333">SP1</text>
<rect x="103.6" y="687.37" width="6.4" height="5.72" fill="#F7866A" stroke="#C83A2A" stroke-width="0.3"/>
<text x="111.6" y="691.38" font-size="3.2" fill="#333">SREBF2</text>
<rect x="145.6" y="555.18" width="6.4" height="2.69" fill="#A6DA7E" stroke="#6FB24E" stroke-width="0.3"/>
<text x="153.6" y="557.68" font-size="3.2" fill="#333">AR</text>
<rect x="145.6" y="559.55" width="6.4" height="3.03" fill="#A6DA7E" stroke="#6FB24E" stroke-width="0.3"/>
<text x="153.6" y="562.22" font-size="3.2" fill="#333">CDH1</text>
<rect x="145.6" y="564.26" width="6.4" height="3.03" fill="#A6DA7E" stroke="#6FB24E" stroke-width="0.3"/>
<text x="153.6" y="566.93" font-size="3.2" fill="#333">APH1A</text>
<rect x="145.6" y="569.31" width="6.4" height="2.69" fill="#A6DA7E" stroke="#6FB24E" stroke-width="0.3"/>
<text x="153.6" y="571.81" font-size="3.2" fill="#333">COX6A1</text>
<rect x="145.6" y="574.02" width="6.4" height="2.69" fill="#A6DA7E" stroke="#6FB24E" stroke-width="0.3"/>
<text x="153.6" y="576.52" font-size="3.2" fill="#333">COX7C</text>
<rect x="145.6" y="578.73" width="6.4" height="2.69" fill="#A6DA7E" stroke="#6FB24E" stroke-width="0.3"/>
<text x="153.6" y="581.22" font-size="3.2" fill="#333">ERBB2</text>
<rect x="145.6" y="583.44" width="6.4" height="2.69" fill="#A6DA7E" stroke="#6FB24E" stroke-width="0.3"/>
<text x="153.6" y="585.93" font-size="3.2" fill="#333">HDAC2</text>
<rect x="145.6" y="588.15" width="6.4" height="2.69" fill="#A6DA7E" stroke="#6FB24E" stroke-width="0.3"/>
<text x="153.6" y="590.64" font-size="3.2" fill="#333">MYC</text>
<rect x="145.6" y="592.85" width="6.4" height="2.69" fill="#A6DA7E" stroke="#6FB24E" stroke-width="0.3"/>
<text x="153.6" y="595.35" font-size="3.2" fill="#333">SURF1</text>
<rect x="145.6" y="597.56" width="6.4" height="2.69" fill="#A6DA7E" stroke="#6FB24E" stroke-width="0.3"/>
<text x="153.6" y="600.06" font-size="3.2" fill="#333">TFAP2A</text>
<rect x="145.6" y="602.27" width="6.4" height="2.69" fill="#A6DA7E" stroke="#6FB24E" stroke-width="0.3"/>
<text x="153.6" y="604.77" font-size="3.2" fill="#333">AGR2</text>
<rect x="145.6" y="607.32" width="6.4" height="2.69" fill="#1E7A36" stroke="#6FB24E" stroke-width="0.3"/>
<text x="153.6" y="609.82" font-size="3.2" fill="#333">ESR1</text>
<rect x="145.6" y="612.03" width="6.4" height="2.69" fill="#A6DA7E" stroke="#6FB24E" stroke-width="0.3"/>
<text x="153.6" y="614.52" font-size="3.2" fill="#333">KRT7</text>
<rect x="145.6" y="616.74" width="6.4" height="2.69" fill="#A6DA7E" stroke="#6FB24E" stroke-width="0.3"/>
<text x="153.6" y="619.23" font-size="3.2" fill="#333">TFF1</text>
<rect x="145.6" y="621.45" width="6.4" height="2.69" fill="#A6DA7E" stroke="#6FB24E" stroke-width="0.3"/>
<text x="153.6" y="623.94" font-size="3.2" fill="#333">ATF3</text>
<rect x="145.6" y="626.15" width="6.4" height="2.69" fill="#A6DA7E" stroke="#6FB24E" stroke-width="0.3"/>
<text x="153.6" y="628.65" font-size="3.2" fill="#333">GDF15</text>
<rect x="145.6" y="630.86" width="6.4" height="2.69" fill="#A6DA7E" stroke="#6FB24E" stroke-width="0.3"/>
<text x="153.6" y="633.36" font-size="3.2" fill="#333">THBS1</text>
<rect x="145.6" y="635.57" width="6.4" height="2.69" fill="#A6DA7E" stroke="#6FB24E" stroke-width="0.3"/>
<text x="153.6" y="638.07" font-size="3.2" fill="#333">IGFBP5</text>
<rect x="145.6" y="640.95" width="6.4" height="8.41" fill="#A6DA7E" stroke="#6FB24E" stroke-width="0.3"/>
<text x="153.6" y="646.31" font-size="3.2" fill="#333">CDKN1A</text>
<rect x="145.6" y="651.05" width="6.4" height="7.74" fill="#A6DA7E" stroke="#6FB24E" stroke-width="0.3"/>
<text x="153.6" y="656.07" font-size="3.2" fill="#333">CCND1</text>
<rect x="145.6" y="660.46" width="6.4" height="7.4" fill="#A6DA7E" stroke="#6FB24E" stroke-width="0.3"/>
<text x="153.6" y="665.32" font-size="3.2" fill="#333">LDLR</text>
<rect x="145.6" y="670.55" width="6.4" height="2.69" fill="#A6DA7E" stroke="#6FB24E" stroke-width="0.3"/>
<text x="153.6" y="673.05" font-size="3.2" fill="#333">MAP3K1</text>
<rect x="145.6" y="675.26" width="6.4" height="2.69" fill="#A6DA7E" stroke="#6FB24E" stroke-width="0.3"/>
<text x="153.6" y="677.76" font-size="3.2" fill="#333">PMAIP1</text>
<rect x="145.6" y="679.97" width="6.4" height="2.69" fill="#A6DA7E" stroke="#6FB24E" stroke-width="0.3"/>
<text x="153.6" y="682.47" font-size="3.2" fill="#333">S100P</text>
<rect x="145.6" y="684.68" width="6.4" height="2.69" fill="#A6DA7E" stroke="#6FB24E" stroke-width="0.3"/>
<text x="153.6" y="687.18" font-size="3.2" fill="#333">FOS</text>
<rect x="145.6" y="689.39" width="6.4" height="2.69" fill="#A6DA7E" stroke="#6FB24E" stroke-width="0.3"/>
<text x="153.6" y="691.89" font-size="3.2" fill="#333">FOSL2</text>
<text x="49.8" y="558.5" font-size="6.6" fill="#222">T cells</text>
<line x1="70.6" y1="556.2" x2="79.4" y2="556.2" stroke="#111" stroke-width="0.7"/><polygon points="82.4,556.2 79.4,557.46 79.4,554.94" fill="#111"/>
<text x="88" y="558.5" font-size="6.6" fill="#222">m_cluster2</text>
<text x="144.6" y="551.8" font-size="5.2" fill="#222" font-style="italic">Target</text>
<text x="105" y="574.7" font-size="5.2" fill="#222" font-style="italic">TF</text>
<text x="53.1" y="613.1" font-size="5.2" fill="#222" font-style="italic">Receptor</text>
<text x="14.1" y="626.8" font-size="5.2" fill="#222" font-style="italic">Ligand</text>
<line x1="33.6" y1="621.8" x2="46.13" y2="615.37" stroke="#111" stroke-width="0.7"/><polygon points="48.8,614 46.71,616.49 45.56,614.25" fill="#111"/>
<line x1="75.7" y1="605.6" x2="95.64" y2="580.35" stroke="#111" stroke-width="0.7"/><polygon points="97.5,578 96.63,581.14 94.65,579.57" fill="#111"/>
<line x1="116" y1="568.6" x2="135.43" y2="555.2" stroke="#111" stroke-width="0.7"/><polygon points="137.9,553.5 136.15,556.24 134.71,554.17" fill="#111"/>
<path d="M199.7 585.29C216.2 585.29 216.2 585.29 232.7 585.29L232.7 609.5C216.2 609.5 216.2 609.5 199.7 609.5Z" fill="#8DB9E0" fill-opacity="0.9"/>
<path d="M199.7 649.7C216.2 649.7 216.2 649.7 232.7 649.7L232.7 673.25C216.2 673.25 216.2 673.25 199.7 673.25Z" fill="#8DB9E0" fill-opacity="0.9"/>
<path d="M238.3 585.29C254.85 585.29 254.85 574.02 271.4 574.02L271.4 598.24C254.85 598.24 254.85 609.5 238.3 609.5Z" fill="#F9B77E" fill-opacity="0.9"/>
<path d="M238.3 649.7C254.85 649.7 254.85 626.66 271.4 626.66L271.4 650.2C254.85 650.2 254.85 673.25 238.3 673.25Z" fill="#F9B77E" fill-opacity="0.9"/>
<path d="M277 574.02C293.3 574.02 293.3 573.18 309.6 573.18L309.6 596.39C293.3 596.39 293.3 597.23 277 597.23Z" fill="#F3A0A6" fill-opacity="0.95"/>
<path d="M277 597.23C293.3 597.23 293.3 598.24 309.6 598.24L309.6 621.11C293.3 621.11 293.3 620.1 277 620.1Z" fill="#F3A0A6" fill-opacity="0.95"/>
<path d="M277 626.66C293.3 626.66 293.3 624.14 309.6 624.14L309.6 647.85C293.3 647.85 293.3 650.37 277 650.37Z" fill="#F3A0A6" fill-opacity="0.95"/>
<path d="M277 650.37C293.3 650.37 293.3 649.7 309.6 649.7L309.6 672.07C293.3 672.07 293.3 672.74 277 672.74Z" fill="#F3A0A6" fill-opacity="0.95"/>
<path d="M277 672.74C293.3 672.74 293.3 674.59 309.6 674.59L309.6 698.58C293.3 698.58 293.3 696.73 277 696.73Z" fill="#F3A0A6" fill-opacity="0.95"/>
<rect x="193.8" y="585.29" width="5.9" height="24.22" fill="#1F63AE" stroke="#1F63AE" stroke-width="0.3"/>
<text x="201.7" y="598.33" font-size="2.6" fill="#333">CALM1</text>
<rect x="193.8" y="649.7" width="5.9" height="23.55" fill="#1F63AE" stroke="#1F63AE" stroke-width="0.3"/>
<text x="201.7" y="662.41" font-size="2.6" fill="#333">C3</text>
<rect x="232.7" y="585.29" width="5.6" height="24.22" fill="#F5820A" stroke="#E0780A" stroke-width="0.3"/>
<text x="240.3" y="598.33" font-size="2.6" fill="#333">ABCA1</text>
<rect x="232.7" y="649.7" width="5.6" height="23.55" fill="#F5820A" stroke="#E0780A" stroke-width="0.3"/>
<text x="240.3" y="662.41" font-size="2.6" fill="#333">IFITM1</text>
<rect x="271.4" y="574.02" width="5.6" height="47.09" fill="#E31A1C" stroke="#C8161A" stroke-width="0.3"/>
<text x="281" y="598.5" font-size="2.6" fill="#333">CTCF</text>
<rect x="271.4" y="626.66" width="5.6" height="71.98" fill="#E31A1C" stroke="#C8161A" stroke-width="0.3"/>
<text x="281" y="663.59" font-size="2.6" fill="#333">HDAC2</text>
<rect x="309.6" y="573.18" width="5.6" height="23.21" fill="#1E7A36" stroke="#5FA24E" stroke-width="0.3"/>
<text x="317.7" y="585.72" font-size="2.6" fill="#333">CCND1</text>
<rect x="309.6" y="598.24" width="5.6" height="22.87" fill="#A6DA7E" stroke="#5FA24E" stroke-width="0.3"/>
<text x="317.7" y="610.61" font-size="2.6" fill="#333">MYC</text>
<rect x="309.6" y="624.14" width="5.6" height="23.71" fill="#1E7A36" stroke="#5FA24E" stroke-width="0.3"/>
<text x="317.7" y="636.93" font-size="2.6" fill="#333">CDKN1A</text>
<rect x="309.6" y="649.7" width="5.6" height="22.37" fill="#A6DA7E" stroke="#5FA24E" stroke-width="0.3"/>
<text x="317.7" y="661.82" font-size="2.6" fill="#333">PHB</text>
<rect x="309.6" y="674.59" width="5.6" height="24.22" fill="#A6DA7E" stroke="#5FA24E" stroke-width="0.3"/>
<text x="317.7" y="687.64" font-size="2.6" fill="#333">VEGFA</text>
<text x="211.2" y="558.2" font-size="6.6" fill="#222">T cells</text>
<line x1="235.5" y1="555.9" x2="244.2" y2="555.9" stroke="#111" stroke-width="0.7"/><polygon points="247.2,555.9 244.2,557.16 244.2,554.64" fill="#111"/>
<text x="252" y="558.2" font-size="6.6" fill="#222">m_cluster5</text>
<text x="191" y="579.7" font-size="5.2" fill="#222" font-style="italic">Ligand</text>
<text x="227" y="579.7" font-size="5.2" fill="#222" font-style="italic">Receptor</text>
<text x="265.7" y="570.3" font-size="5.2" fill="#222" font-style="italic">TF</text>
<text x="302.7" y="570.3" font-size="5.2" fill="#222" font-style="italic">Target</text>
<line x1="209.2" y1="577.7" x2="220.7" y2="577.7" stroke="#111" stroke-width="0.7"/><polygon points="223.7,577.7 220.7,578.96 220.7,576.44" fill="#111"/>
<line x1="249.6" y1="577" x2="260.32" y2="571.64" stroke="#111" stroke-width="0.7"/><polygon points="263,570.3 260.88,572.77 259.75,570.51" fill="#111"/>
<line x1="274.1" y1="568.6" x2="294.7" y2="568.6" stroke="#111" stroke-width="0.7"/><polygon points="297.7,568.6 294.7,569.86 294.7,567.34" fill="#111"/>
</g>
<g id="pe">
<text x="344.1" y="385.7" font-size="9.9" textLength="5.4" lengthAdjust="spacingAndGlyphs">E</text>
<rect x="375.6" y="389.2" width="130.8" height="123.9" fill="none" stroke="#222" stroke-width="0.5"/>
<path d="M375.09 393.91H378.48V394.79H381.88V395.67H385.27V396.55H388.66V399.13H392.06V401.71H395.45V404.29H399.27V407.71H403.09V411.14H406.9V413.93H410.72V416.72H414.54V420.91H417.72V422.04H420.9V423.18H424.72V427.88H428.54V430.03H432.36V430.91H433.63V445.79H436.81V446.04H439.99V446.28H441.26V450.22H471.8V449.83H472.57V461.65H502.35V462.03" fill="none" stroke="#E6E13A" stroke-width="0.4" stroke-opacity="0.45" stroke-dasharray="0.6 0.7"/>
<path d="M375.09 393.91H378.48V395.62H381.88V397.32H385.27V399.03H388.66V402.43H392.06V405.84H395.45V409.24H399.27V413.49H403.09V417.75H406.9V421.36H410.72V424.98H414.54V430H417.72V431.96H420.9V433.92H424.72V439.44H428.54V442.42H432.36V444.13H433.63V459.84H436.81V460.91H439.99V461.98H441.26V466.74H471.8V467.18H472.57V479.83H502.35V481.03" fill="none" stroke="#E6E13A" stroke-width="0.4" stroke-opacity="0.45" stroke-dasharray="0.6 0.7"/>
<path d="M375.09 393.91H378.48V395.62H381.88V397.33H385.27V399.04H388.66V401.6H392.06V404.16H395.45V406.72H399.27V409.5H403.09V412.27H408.18V415.68H410.72V422.9H413.27V430.13H417.08V438.63H419.63V443.31H423.45V444.17H423.96V451.4H427.26V452.26H428.03V464.58H431.08V465.44H431.85V472.67H433.63V473.53H434.14V481.27H480.71V480.86" fill="none" stroke="#3DBE3A" stroke-width="0.4" stroke-opacity="0.45" stroke-dasharray="0.6 0.7"/>
<path d="M375.09 393.91H378.48V396.48H381.88V399.06H385.27V401.63H388.66V405.06H392.06V408.48H395.45V411.91H399.27V415.54H403.09V419.18H408.18V423.45H410.72V431.54H413.27V439.63H417.08V448.99H419.63V454.54H423.45V456.26H423.96V464.35H427.26V466.08H428.03V479.26H431.08V480.99H431.85V489.08H433.63V490.81H434.14V499.4H480.71V499.86" fill="none" stroke="#3DBE3A" stroke-width="0.4" stroke-opacity="0.45" stroke-dasharray="0.6 0.7"/>
<path d="M375.09 393.91H378.48V395.18H381.88V396.45H385.27V397.73H388.66V400.69H392.06V403.66H395.45V406.63H399.27V410.45H403.09V414.27H406.9V417.45H410.72V420.63H414.54V425.21H417.72V426.74H420.9V428.27H424.72V433.36H428.54V435.9H432.36V437.17H433.63V452.45H436.81V453.08H439.99V453.72H441.26V458.05H471.8V458.05H472.57V470.26H502.35V471.03" fill="none" stroke="#E6E13A" stroke-width="1.15"/>
<path d="M375.09 393.91H378.48V396.03H381.88V398.15H385.27V400.27H388.66V403.24H392.06V406.21H395.45V409.18H399.27V412.36H403.09V415.54H408.18V419.36H410.72V426.99H413.27V434.63H417.08V443.54H419.63V448.63H423.45V449.9H423.96V457.54H427.26V458.81H428.03V471.53H431.08V472.81H431.85V480.44H433.63V481.71H434.14V489.86H480.71V489.86" fill="none" stroke="#3DBE3A" stroke-width="1.15"/>
<path d="M375.9 393.11v1.6M380.33 394.38v1.6M383.13 395.65v1.6M387.32 396.93v1.6M390.79 399.89v1.6M392.28 402.86v1.6M395.5 405.83v1.6M402.47 409.65v1.6M404.08 413.47v1.6M407.8 416.65v1.6M414.52 419.83v1.6M416.04 424.41v1.6M420.38 425.94v1.6M422.72 427.47v1.6M427.16 432.56v1.6M429.11 435.1v1.6M435.65 451.65v1.6M439.57 452.28v1.6M457.24 457.25v1.6M463.9 457.25v1.6M461.77 457.25v1.6M443.22 457.25v1.6M464.42 457.25v1.6M459.32 457.25v1.6M450.46 457.25v1.6M442.21 457.25v1.6M467.7 457.25v1.6M455.7 457.25v1.6M463.22 457.25v1.6M468.1 457.25v1.6M463.07 457.25v1.6M500 469.46v1.6M484.33 469.46v1.6M496.42 469.46v1.6M485.81 469.46v1.6M500.43 469.46v1.6M498.74 469.46v1.6M475.47 469.46v1.6M476.62 469.46v1.6M479.03 469.46v1.6M501.32 469.46v1.6M485.56 469.46v1.6M491.23 469.46v1.6M481.53 469.46v1.6" stroke="#E6E13A" stroke-width="0.35" fill="none"/>
<path d="M376.81 393.11v1.6M379.79 395.23v1.6M383.07 397.35v1.6M387.26 399.47v1.6M390.65 402.44v1.6M395.13 405.41v1.6M398.05 408.38v1.6M402.81 411.56v1.6M407.45 414.74v1.6M408.13 414.74v1.6M409.88 418.56v1.6M411.14 426.19v1.6M416.55 433.83v1.6M419.54 442.74v1.6M423.08 447.83v1.6M425.84 456.74v1.6M430.21 470.73v1.6M443.97 489.06v1.6M472.87 489.06v1.6M460.85 489.06v1.6M447.41 489.06v1.6M437.09 489.06v1.6M473.91 489.06v1.6M480.24 489.06v1.6M438.26 489.06v1.6M471.43 489.06v1.6M453.25 489.06v1.6M441.16 489.06v1.6M447.82 489.06v1.6M469.94 489.06v1.6M474.79 489.06v1.6M436.19 489.06v1.6M462.76 489.06v1.6M436.23 489.06v1.6M467.6 489.06v1.6M449.55 489.06v1.6M475.17 489.06v1.6M479.81 489.06v1.6" stroke="#3DBE3A" stroke-width="0.35" fill="none"/>
<line x1="373.6" y1="508.9" x2="375.6" y2="508.9" stroke="#222" stroke-width="0.45"/>
<text x="369" y="508.9" font-size="5.6" fill="#111" text-anchor="middle" transform="rotate(-90 369 508.9)" textLength="6.3" lengthAdjust="spacingAndGlyphs">0.0</text>
<line x1="373.6" y1="485.92" x2="375.6" y2="485.92" stroke="#222" stroke-width="0.45"/>
<text x="369" y="485.92" font-size="5.6" fill="#111" text-anchor="middle" transform="rotate(-90 369 485.92)" textLength="6.3" lengthAdjust="spacingAndGlyphs">0.2</text>
<line x1="373.6" y1="462.94" x2="375.6" y2="462.94" stroke="#222" stroke-width="0.45"/>
<text x="369" y="462.94" font-size="5.6" fill="#111" text-anchor="middle" transform="rotate(-90 369 462.94)" textLength="6.3" lengthAdjust="spacingAndGlyphs">0.4</text>
<line x1="373.6" y1="439.96" x2="375.6" y2="439.96" stroke="#222" stroke-width="0.45"/>
<text x="369" y="439.96" font-size="5.6" fill="#111" text-anchor="middle" transform="rotate(-90 369 439.96)" textLength="6.3" lengthAdjust="spacingAndGlyphs">0.6</text>
<line x1="373.6" y1="416.98" x2="375.6" y2="416.98" stroke="#222" stroke-width="0.45"/>
<text x="369" y="416.98" font-size="5.6" fill="#111" text-anchor="middle" transform="rotate(-90 369 416.98)" textLength="6.3" lengthAdjust="spacingAndGlyphs">0.8</text>
<line x1="373.6" y1="394" x2="375.6" y2="394" stroke="#222" stroke-width="0.45"/>
<text x="369" y="394" font-size="5.6" fill="#111" text-anchor="middle" transform="rotate(-90 369 394)" textLength="6.3" lengthAdjust="spacingAndGlyphs">1.0</text>
<line x1="376.3" y1="513.1" x2="376.3" y2="515.1" stroke="#222" stroke-width="0.45"/>
<text x="376.3" y="523.7" font-size="4.8" fill="#111" text-anchor="middle" textLength="2.9" lengthAdjust="spacingAndGlyphs">0</text>
<line x1="398.22" y1="513.1" x2="398.22" y2="515.1" stroke="#222" stroke-width="0.45"/>
<text x="398.22" y="523.7" font-size="4.8" fill="#111" text-anchor="middle" textLength="5.8" lengthAdjust="spacingAndGlyphs">50</text>
<line x1="420.14" y1="513.1" x2="420.14" y2="515.1" stroke="#222" stroke-width="0.45"/>
<text x="420.14" y="523.7" font-size="4.8" fill="#111" text-anchor="middle" textLength="8.7" lengthAdjust="spacingAndGlyphs">100</text>
<line x1="442.06" y1="513.1" x2="442.06" y2="515.1" stroke="#222" stroke-width="0.45"/>
<text x="442.06" y="523.7" font-size="4.8" fill="#111" text-anchor="middle" textLength="8.7" lengthAdjust="spacingAndGlyphs">150</text>
<line x1="463.98" y1="513.1" x2="463.98" y2="515.1" stroke="#222" stroke-width="0.45"/>
<text x="463.98" y="523.7" font-size="4.8" fill="#111" text-anchor="middle" textLength="8.7" lengthAdjust="spacingAndGlyphs">200</text>
<line x1="485.9" y1="513.1" x2="485.9" y2="515.1" stroke="#222" stroke-width="0.45"/>
<text x="485.9" y="523.7" font-size="4.8" fill="#111" text-anchor="middle" textLength="8.7" lengthAdjust="spacingAndGlyphs">250</text>
<text x="441.2" y="386.1" font-size="7.8" fill="#111" text-anchor="middle" textLength="55.7" lengthAdjust="spacingAndGlyphs">Overall Survival</text>
<text x="441.2" y="534.5" font-size="6.4" fill="#111" text-anchor="middle" textLength="22.9" lengthAdjust="spacingAndGlyphs">Months</text>
<text x="358.2" y="451.4" font-size="6.3" fill="#111" text-anchor="middle" transform="rotate(-90 358.2 451.4)" textLength="50.8" lengthAdjust="spacingAndGlyphs">Percent survival</text>
<line x1="439.9" y1="395.4" x2="449.6" y2="395.4" stroke="#E6E13A" stroke-width="0.7"/>
<line x1="439.9" y1="400.5" x2="449.6" y2="400.5" stroke="#3DBE3A" stroke-width="0.7"/>
<text x="452.5" y="397.1" font-size="4.8" fill="#111" textLength="49.5" lengthAdjust="spacingAndGlyphs">Low CDKN1A Group</text>
<text x="452.5" y="402.2" font-size="4.8" fill="#111" textLength="50.7" lengthAdjust="spacingAndGlyphs">High CDKN1A Group</text>
<text x="502" y="409.5" font-size="4.8" fill="#111" text-anchor="end" textLength="40.67" lengthAdjust="spacingAndGlyphs">Logrank p=0.016</text>
<text x="502" y="416.3" font-size="4.8" fill="#111" text-anchor="end" textLength="28.56" lengthAdjust="spacingAndGlyphs">n(high)=511</text>
<text x="502" y="422.6" font-size="4.8" fill="#111" text-anchor="end" textLength="26.85" lengthAdjust="spacingAndGlyphs">n(low)=422</text>
<rect x="375.6" y="556.8" width="130.8" height="123.1" fill="none" stroke="#222" stroke-width="0.5"/>
<path d="M375.09 562.67H378.27V562.71H381.45V562.74H384.63V562.78H387.82V562.82H392.91V567.5H396.72V570.27H400.54V573.04H404.36V575.81H408.18V578.59H413.27V583.27H417.08V585.4H424.72V585.76H426.5V593.49H429.05V594.36H429.81V599.04H432.36V599.9H433.12V607.89H439.99V607.99H440.75V615.22H471.8V614.81H472.31V627.13H501.07V626.72" fill="none" stroke="#E6E13A" stroke-width="0.4" stroke-opacity="0.45" stroke-dasharray="0.6 0.7"/>
<path d="M375.09 562.67H378.27V563.57H381.45V564.47H384.63V565.37H387.82V566.27H392.91V571.82H396.72V575.45H400.54V579.09H404.36V582.72H408.18V586.36H413.27V591.9H417.08V594.9H424.72V596.12H426.5V604.72H429.05V606.45H429.81V611.99H432.36V613.72H433.12V622.57H439.99V623.54H440.75V631.63H471.8V632.08H472.31V645.26H501.07V645.72" fill="none" stroke="#E6E13A" stroke-width="0.4" stroke-opacity="0.45" stroke-dasharray="0.6 0.7"/>
<path d="M375.09 562.67H378.27V562.86H381.45V563.04H384.63V563.23H387.82V563.42H392.91V572.38H396.72V575.11H400.54V577.85H404.36V580.58H408.18V583.31H410.72V586.68H411.99V593.86H417.08V599.77H418.87V606.96H422.17V612.87H424.72V616.24H427.26V620.88H431.08V622.98H432.36V628.89H433.63V635.57H479.44V635.12" fill="none" stroke="#3DBE3A" stroke-width="0.4" stroke-opacity="0.45" stroke-dasharray="0.6 0.7"/>
<path d="M375.09 562.67H378.27V563.81H381.45V564.94H384.63V566.08H387.82V567.22H392.91V577.13H396.72V580.81H400.54V584.5H404.36V588.18H408.18V591.86H410.72V596.18H411.99V604.31H417.08V611.17H418.87V619.31H422.17V626.17H424.72V630.49H427.26V636.08H431.08V639.13H432.36V645.99H433.63V653.62H479.44V654.12" fill="none" stroke="#3DBE3A" stroke-width="0.4" stroke-opacity="0.45" stroke-dasharray="0.6 0.7"/>
<path d="M375.09 562.67H378.27V563.12H381.45V563.56H384.63V564.01H387.82V564.45H392.91V569.54H396.72V572.72H400.54V575.91H404.36V579.09H408.18V582.27H413.27V587.36H417.08V589.9H424.72V590.67H426.5V598.81H429.05V600.08H429.81V605.17H432.36V606.45H433.12V614.85H439.99V615.36H440.75V622.99H471.8V622.99H472.31V635.72H501.07V635.72" fill="none" stroke="#E6E13A" stroke-width="1.15"/>
<path d="M375.09 562.67H378.27V563.31H381.45V563.94H384.63V564.58H387.82V565.22H392.91V574.63H396.72V577.81H400.54V581H404.36V584.18H408.18V587.36H410.72V591.18H411.99V598.81H417.08V605.17H418.87V612.81H422.17V619.17H424.72V622.99H427.26V628.08H431.08V630.63H432.36V636.99H433.63V644.12H479.44V644.12" fill="none" stroke="#3DBE3A" stroke-width="1.15"/>
<path d="M375.85 561.87v1.6M380 562.32v1.6M382.63 562.76v1.6M386.56 563.21v1.6M391 563.65v1.6M388.15 563.65v1.6M392.96 568.74v1.6M399.92 571.92v1.6M401.53 575.11v1.6M405.25 578.29v1.6M413.24 581.47v1.6M410.57 581.47v1.6M416.46 586.56v1.6M420.72 589.1v1.6M421.96 589.1v1.6M418.23 589.1v1.6M428.12 598.01v1.6M432.02 604.37v1.6M436.71 614.05v1.6M438.21 614.05v1.6M437.73 614.05v1.6M442.74 622.19v1.6M464.3 622.19v1.6M459.11 622.19v1.6M450.11 622.19v1.6M441.72 622.19v1.6M467.63 622.19v1.6M455.43 622.19v1.6M463.07 622.19v1.6M468.04 622.19v1.6M462.93 622.19v1.6M469.35 622.19v1.6M453.02 622.19v1.6M465.62 622.19v1.6M454.56 622.19v1.6M499.22 634.92v1.6M497.59 634.92v1.6M475.12 634.92v1.6M476.22 634.92v1.6M478.55 634.92v1.6M500.08 634.92v1.6M484.86 634.92v1.6M490.34 634.92v1.6M480.97 634.92v1.6M486.9 634.92v1.6M483.41 634.92v1.6M482.41 634.92v1.6M489.14 634.92v1.6" stroke="#E6E13A" stroke-width="0.35" fill="none"/>
<path d="M376.95 561.87v1.6M381.15 562.51v1.6M383.62 563.14v1.6M387.59 563.78v1.6M392.17 564.42v1.6M392.86 564.42v1.6M395.47 573.83v1.6M397.35 577.01v1.6M403.83 580.2v1.6M408.04 583.38v1.6M410.48 586.56v1.6M414.89 598.01v1.6M415.63 598.01v1.6M419.56 612.01v1.6M424.29 618.37v1.6M426.18 622.19v1.6M428.35 627.28v1.6M436.53 643.32v1.6M472.75 643.32v1.6M478.97 643.32v1.6M437.68 643.32v1.6M470.3 643.32v1.6M452.43 643.32v1.6M440.53 643.32v1.6M447.09 643.32v1.6M468.85 643.32v1.6M473.61 643.32v1.6M435.65 643.32v1.6M461.78 643.32v1.6M435.69 643.32v1.6M466.54 643.32v1.6M448.79 643.32v1.6M473.98 643.32v1.6M478.55 643.32v1.6M456.78 643.32v1.6M479.37 643.32v1.6M447.81 643.32v1.6" stroke="#3DBE3A" stroke-width="0.35" fill="none"/>
<line x1="373.6" y1="675.5" x2="375.6" y2="675.5" stroke="#222" stroke-width="0.45"/>
<text x="369" y="675.5" font-size="5.6" fill="#111" text-anchor="middle" transform="rotate(-90 369 675.5)" textLength="6.3" lengthAdjust="spacingAndGlyphs">0.0</text>
<line x1="373.6" y1="652.78" x2="375.6" y2="652.78" stroke="#222" stroke-width="0.45"/>
<text x="369" y="652.78" font-size="5.6" fill="#111" text-anchor="middle" transform="rotate(-90 369 652.78)" textLength="6.3" lengthAdjust="spacingAndGlyphs">0.2</text>
<line x1="373.6" y1="630.06" x2="375.6" y2="630.06" stroke="#222" stroke-width="0.45"/>
<text x="369" y="630.06" font-size="5.6" fill="#111" text-anchor="middle" transform="rotate(-90 369 630.06)" textLength="6.3" lengthAdjust="spacingAndGlyphs">0.4</text>
<line x1="373.6" y1="607.34" x2="375.6" y2="607.34" stroke="#222" stroke-width="0.45"/>
<text x="369" y="607.34" font-size="5.6" fill="#111" text-anchor="middle" transform="rotate(-90 369 607.34)" textLength="6.3" lengthAdjust="spacingAndGlyphs">0.6</text>
<line x1="373.6" y1="584.62" x2="375.6" y2="584.62" stroke="#222" stroke-width="0.45"/>
<text x="369" y="584.62" font-size="5.6" fill="#111" text-anchor="middle" transform="rotate(-90 369 584.62)" textLength="6.3" lengthAdjust="spacingAndGlyphs">0.8</text>
<line x1="373.6" y1="561.9" x2="375.6" y2="561.9" stroke="#222" stroke-width="0.45"/>
<text x="369" y="561.9" font-size="5.6" fill="#111" text-anchor="middle" transform="rotate(-90 369 561.9)" textLength="6.3" lengthAdjust="spacingAndGlyphs">1.0</text>
<line x1="376.3" y1="679.9" x2="376.3" y2="681.9" stroke="#222" stroke-width="0.45"/>
<text x="376.3" y="691.3" font-size="4.8" fill="#111" text-anchor="middle" textLength="2.9" lengthAdjust="spacingAndGlyphs">0</text>
<line x1="398.22" y1="679.9" x2="398.22" y2="681.9" stroke="#222" stroke-width="0.45"/>
<text x="398.22" y="691.3" font-size="4.8" fill="#111" text-anchor="middle" textLength="5.8" lengthAdjust="spacingAndGlyphs">50</text>
<line x1="420.14" y1="679.9" x2="420.14" y2="681.9" stroke="#222" stroke-width="0.45"/>
<text x="420.14" y="691.3" font-size="4.8" fill="#111" text-anchor="middle" textLength="8.7" lengthAdjust="spacingAndGlyphs">100</text>
<line x1="442.06" y1="679.9" x2="442.06" y2="681.9" stroke="#222" stroke-width="0.45"/>
<text x="442.06" y="691.3" font-size="4.8" fill="#111" text-anchor="middle" textLength="8.7" lengthAdjust="spacingAndGlyphs">150</text>
<line x1="463.98" y1="679.9" x2="463.98" y2="681.9" stroke="#222" stroke-width="0.45"/>
<text x="463.98" y="691.3" font-size="4.8" fill="#111" text-anchor="middle" textLength="8.7" lengthAdjust="spacingAndGlyphs">200</text>
<line x1="485.9" y1="679.9" x2="485.9" y2="681.9" stroke="#222" stroke-width="0.45"/>
<text x="485.9" y="691.3" font-size="4.8" fill="#111" text-anchor="middle" textLength="8.7" lengthAdjust="spacingAndGlyphs">250</text>
<text x="441.2" y="554.9" font-size="7.8" fill="#111" text-anchor="middle" textLength="55.7" lengthAdjust="spacingAndGlyphs">Overall Survival</text>
<text x="441.2" y="701.4" font-size="6.4" fill="#111" text-anchor="middle" textLength="22.9" lengthAdjust="spacingAndGlyphs">Months</text>
<text x="358.2" y="619" font-size="6.3" fill="#111" text-anchor="middle" transform="rotate(-90 358.2 619)" textLength="50.8" lengthAdjust="spacingAndGlyphs">Percent survival</text>
<line x1="448" y1="563.6" x2="457.6" y2="563.6" stroke="#E6E13A" stroke-width="0.7"/>
<line x1="448" y1="569.4" x2="457.6" y2="569.4" stroke="#3DBE3A" stroke-width="0.7"/>
<text x="460.3" y="565.3" font-size="4.8" fill="#111" textLength="42" lengthAdjust="spacingAndGlyphs">Low ESR1 Group</text>
<text x="460.3" y="571.1" font-size="4.8" fill="#111" textLength="43.2" lengthAdjust="spacingAndGlyphs">High ESR1 Group</text>
<text x="502.3" y="577.9" font-size="4.8" fill="#111" text-anchor="end" textLength="37.66" lengthAdjust="spacingAndGlyphs">Logrank p=0.02</text>
<text x="502.3" y="584.4" font-size="4.8" fill="#111" text-anchor="end" textLength="28.96" lengthAdjust="spacingAndGlyphs">n(high)=301</text>
<text x="502.3" y="590.9" font-size="4.8" fill="#111" text-anchor="end" textLength="26.85" lengthAdjust="spacingAndGlyphs">n(low)=301</text>
</g>
</svg>
</body></html>
